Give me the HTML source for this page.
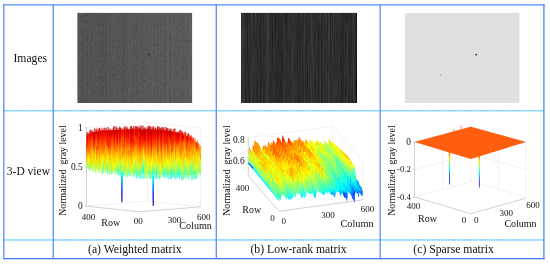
<!DOCTYPE html>
<html><head><meta charset="utf-8"><title>Figure</title>
<style>
html,body{margin:0;padding:0;background:#fff;}
body{width:550px;height:266px;overflow:hidden;}
svg{display:block;font-family:"Liberation Serif","Times New Roman",serif;fill:#111;}
</style></head><body>
<svg width="550" height="266" viewBox="0 0 550 266">
<defs>
<filter id="na" x="0" y="0" width="1" height="1" color-interpolation-filters="sRGB"><feTurbulence type="fractalNoise" baseFrequency="0.95 0.3" numOctaves="2" seed="4" result="n"/><feColorMatrix in="n" type="matrix" values="0.1 0 0 0 0  0.1 0 0 0 0  0.1 0 0 0 0  0 0 0 0 1" result="m"/><feComposite in="SourceGraphic" in2="m" operator="arithmetic" k1="0" k2="1" k3="1" k4="0"/></filter>
<filter id="nb" x="0" y="0" width="1" height="1" color-interpolation-filters="sRGB"><feTurbulence type="fractalNoise" baseFrequency="0.95 0.04" numOctaves="2" seed="9" result="n"/><feColorMatrix in="n" type="matrix" values="0.12 0 0 0 0  0.12 0 0 0 0  0.12 0 0 0 0  0 0 0 0 1" result="m"/><feComposite in="SourceGraphic" in2="m" operator="arithmetic" k1="0" k2="1" k3="1" k4="0"/></filter>
<linearGradient id="ga0" gradientUnits="userSpaceOnUse" x1="0" y1="112" x2="0" y2="178"><stop offset="0.0000" stop-color="#a80000"/><stop offset="0.0909" stop-color="#c20000"/><stop offset="0.1970" stop-color="#e50000"/><stop offset="0.2879" stop-color="#ff1400"/><stop offset="0.3788" stop-color="#ff5700"/><stop offset="0.4697" stop-color="#ff9900"/><stop offset="0.5606" stop-color="#ffd100"/><stop offset="0.6364" stop-color="#fffa00"/><stop offset="0.6970" stop-color="#dbff24"/><stop offset="0.7576" stop-color="#94ff6b"/><stop offset="0.8182" stop-color="#57ffa8"/><stop offset="0.8788" stop-color="#24ffdb"/><stop offset="0.9394" stop-color="#05fffa"/><stop offset="1.0000" stop-color="#00f0ff"/></linearGradient>
<linearGradient id="ga1" gradientUnits="userSpaceOnUse" x1="0" y1="114" x2="0" y2="180"><stop offset="0.0000" stop-color="#a80000"/><stop offset="0.0909" stop-color="#c20000"/><stop offset="0.1970" stop-color="#e50000"/><stop offset="0.2879" stop-color="#ff1400"/><stop offset="0.3788" stop-color="#ff5700"/><stop offset="0.4697" stop-color="#ff9900"/><stop offset="0.5606" stop-color="#ffd100"/><stop offset="0.6364" stop-color="#fffa00"/><stop offset="0.6970" stop-color="#dbff24"/><stop offset="0.7576" stop-color="#94ff6b"/><stop offset="0.8182" stop-color="#57ffa8"/><stop offset="0.8788" stop-color="#24ffdb"/><stop offset="0.9394" stop-color="#05fffa"/><stop offset="1.0000" stop-color="#00f0ff"/></linearGradient>
<linearGradient id="ga2" gradientUnits="userSpaceOnUse" x1="0" y1="116" x2="0" y2="182"><stop offset="0.0000" stop-color="#a80000"/><stop offset="0.0909" stop-color="#c20000"/><stop offset="0.1970" stop-color="#e50000"/><stop offset="0.2879" stop-color="#ff1400"/><stop offset="0.3788" stop-color="#ff5700"/><stop offset="0.4697" stop-color="#ff9900"/><stop offset="0.5606" stop-color="#ffd100"/><stop offset="0.6364" stop-color="#fffa00"/><stop offset="0.6970" stop-color="#dbff24"/><stop offset="0.7576" stop-color="#94ff6b"/><stop offset="0.8182" stop-color="#57ffa8"/><stop offset="0.8788" stop-color="#24ffdb"/><stop offset="0.9394" stop-color="#05fffa"/><stop offset="1.0000" stop-color="#00f0ff"/></linearGradient>
<linearGradient id="ga3" gradientUnits="userSpaceOnUse" x1="0" y1="118" x2="0" y2="184"><stop offset="0.0000" stop-color="#a80000"/><stop offset="0.0909" stop-color="#c20000"/><stop offset="0.1970" stop-color="#e50000"/><stop offset="0.2879" stop-color="#ff1400"/><stop offset="0.3788" stop-color="#ff5700"/><stop offset="0.4697" stop-color="#ff9900"/><stop offset="0.5606" stop-color="#ffd100"/><stop offset="0.6364" stop-color="#fffa00"/><stop offset="0.6970" stop-color="#dbff24"/><stop offset="0.7576" stop-color="#94ff6b"/><stop offset="0.8182" stop-color="#57ffa8"/><stop offset="0.8788" stop-color="#24ffdb"/><stop offset="0.9394" stop-color="#05fffa"/><stop offset="1.0000" stop-color="#00f0ff"/></linearGradient>
<linearGradient id="ga4" gradientUnits="userSpaceOnUse" x1="0" y1="120" x2="0" y2="186"><stop offset="0.0000" stop-color="#a80000"/><stop offset="0.0909" stop-color="#c20000"/><stop offset="0.1970" stop-color="#e50000"/><stop offset="0.2879" stop-color="#ff1400"/><stop offset="0.3788" stop-color="#ff5700"/><stop offset="0.4697" stop-color="#ff9900"/><stop offset="0.5606" stop-color="#ffd100"/><stop offset="0.6364" stop-color="#fffa00"/><stop offset="0.6970" stop-color="#dbff24"/><stop offset="0.7576" stop-color="#94ff6b"/><stop offset="0.8182" stop-color="#57ffa8"/><stop offset="0.8788" stop-color="#24ffdb"/><stop offset="0.9394" stop-color="#05fffa"/><stop offset="1.0000" stop-color="#00f0ff"/></linearGradient>
<linearGradient id="ga5" gradientUnits="userSpaceOnUse" x1="0" y1="122" x2="0" y2="188"><stop offset="0.0000" stop-color="#a80000"/><stop offset="0.0909" stop-color="#c20000"/><stop offset="0.1970" stop-color="#e50000"/><stop offset="0.2879" stop-color="#ff1400"/><stop offset="0.3788" stop-color="#ff5700"/><stop offset="0.4697" stop-color="#ff9900"/><stop offset="0.5606" stop-color="#ffd100"/><stop offset="0.6364" stop-color="#fffa00"/><stop offset="0.6970" stop-color="#dbff24"/><stop offset="0.7576" stop-color="#94ff6b"/><stop offset="0.8182" stop-color="#57ffa8"/><stop offset="0.8788" stop-color="#24ffdb"/><stop offset="0.9394" stop-color="#05fffa"/><stop offset="1.0000" stop-color="#00f0ff"/></linearGradient>
<linearGradient id="ga6" gradientUnits="userSpaceOnUse" x1="0" y1="124" x2="0" y2="190"><stop offset="0.0000" stop-color="#a80000"/><stop offset="0.0909" stop-color="#c20000"/><stop offset="0.1970" stop-color="#e50000"/><stop offset="0.2879" stop-color="#ff1400"/><stop offset="0.3788" stop-color="#ff5700"/><stop offset="0.4697" stop-color="#ff9900"/><stop offset="0.5606" stop-color="#ffd100"/><stop offset="0.6364" stop-color="#fffa00"/><stop offset="0.6970" stop-color="#dbff24"/><stop offset="0.7576" stop-color="#94ff6b"/><stop offset="0.8182" stop-color="#57ffa8"/><stop offset="0.8788" stop-color="#24ffdb"/><stop offset="0.9394" stop-color="#05fffa"/><stop offset="1.0000" stop-color="#00f0ff"/></linearGradient>
<linearGradient id="ga7" gradientUnits="userSpaceOnUse" x1="0" y1="126" x2="0" y2="192"><stop offset="0.0000" stop-color="#a80000"/><stop offset="0.0909" stop-color="#c20000"/><stop offset="0.1970" stop-color="#e50000"/><stop offset="0.2879" stop-color="#ff1400"/><stop offset="0.3788" stop-color="#ff5700"/><stop offset="0.4697" stop-color="#ff9900"/><stop offset="0.5606" stop-color="#ffd100"/><stop offset="0.6364" stop-color="#fffa00"/><stop offset="0.6970" stop-color="#dbff24"/><stop offset="0.7576" stop-color="#94ff6b"/><stop offset="0.8182" stop-color="#57ffa8"/><stop offset="0.8788" stop-color="#24ffdb"/><stop offset="0.9394" stop-color="#05fffa"/><stop offset="1.0000" stop-color="#00f0ff"/></linearGradient>
<linearGradient id="ga8" gradientUnits="userSpaceOnUse" x1="0" y1="128" x2="0" y2="194"><stop offset="0.0000" stop-color="#a80000"/><stop offset="0.0909" stop-color="#c20000"/><stop offset="0.1970" stop-color="#e50000"/><stop offset="0.2879" stop-color="#ff1400"/><stop offset="0.3788" stop-color="#ff5700"/><stop offset="0.4697" stop-color="#ff9900"/><stop offset="0.5606" stop-color="#ffd100"/><stop offset="0.6364" stop-color="#fffa00"/><stop offset="0.6970" stop-color="#dbff24"/><stop offset="0.7576" stop-color="#94ff6b"/><stop offset="0.8182" stop-color="#57ffa8"/><stop offset="0.8788" stop-color="#24ffdb"/><stop offset="0.9394" stop-color="#05fffa"/><stop offset="1.0000" stop-color="#00f0ff"/></linearGradient>
<linearGradient id="gs121" gradientUnits="userSpaceOnUse" x1="0" y1="172" x2="0" y2="202.2"><stop offset="0.000" stop-color="#2effd1"/><stop offset="0.125" stop-color="#00f7ff"/><stop offset="0.250" stop-color="#00c2ff"/><stop offset="0.375" stop-color="#008cff"/><stop offset="0.500" stop-color="#0057ff"/><stop offset="0.625" stop-color="#0021ff"/><stop offset="0.750" stop-color="#0000eb"/><stop offset="0.875" stop-color="#0000b5"/><stop offset="1.000" stop-color="#000080"/></linearGradient>
<linearGradient id="gs153" gradientUnits="userSpaceOnUse" x1="0" y1="176" x2="0" y2="206.0"><stop offset="0.000" stop-color="#2effd1"/><stop offset="0.125" stop-color="#00f7ff"/><stop offset="0.250" stop-color="#00c2ff"/><stop offset="0.375" stop-color="#008cff"/><stop offset="0.500" stop-color="#0057ff"/><stop offset="0.625" stop-color="#0021ff"/><stop offset="0.750" stop-color="#0000eb"/><stop offset="0.875" stop-color="#0000b5"/><stop offset="1.000" stop-color="#000080"/></linearGradient>
<linearGradient id="gc449" gradientUnits="userSpaceOnUse" x1="0" y1="151.5" x2="0" y2="184.4"><stop offset="0.000" stop-color="#ff4c00"/><stop offset="0.100" stop-color="#ff9e00"/><stop offset="0.200" stop-color="#fff000"/><stop offset="0.300" stop-color="#bdff42"/><stop offset="0.400" stop-color="#6bff94"/><stop offset="0.500" stop-color="#1affe5"/><stop offset="0.600" stop-color="#00c7ff"/><stop offset="0.700" stop-color="#0075ff"/><stop offset="0.800" stop-color="#0024ff"/><stop offset="0.900" stop-color="#0000d1"/><stop offset="1.000" stop-color="#000080"/></linearGradient>
<linearGradient id="gc479" gradientUnits="userSpaceOnUse" x1="0" y1="154.5" x2="0" y2="187.4"><stop offset="0.000" stop-color="#ff4c00"/><stop offset="0.100" stop-color="#ff9e00"/><stop offset="0.200" stop-color="#fff000"/><stop offset="0.300" stop-color="#bdff42"/><stop offset="0.400" stop-color="#6bff94"/><stop offset="0.500" stop-color="#1affe5"/><stop offset="0.600" stop-color="#00c7ff"/><stop offset="0.700" stop-color="#0075ff"/><stop offset="0.800" stop-color="#0024ff"/><stop offset="0.900" stop-color="#0000d1"/><stop offset="1.000" stop-color="#000080"/></linearGradient>
</defs>
<rect x="0" y="0" width="550" height="266" fill="#fff"/>
<g fill="none">
<line x1="4" y1="110.7" x2="544" y2="110.7" stroke="#a6e2ff" stroke-width="1.5"/>
<line x1="4" y1="110.7" x2="544" y2="110.7" stroke="#74c8f6" stroke-width="1.3" stroke-dasharray="1.1 1.2"/>
<line x1="4" y1="239.9" x2="544" y2="239.9" stroke="#a6e2ff" stroke-width="1.5"/>
<line x1="4" y1="239.9" x2="544" y2="239.9" stroke="#74c8f6" stroke-width="1.3" stroke-dasharray="1.1 1.2"/>
<line x1="3" y1="4.8" x2="544.6" y2="4.8" stroke="#5590fb" stroke-width="1.2"/>
<line x1="3" y1="258.6" x2="544.6" y2="258.6" stroke="#3b78f5" stroke-width="1.3"/>
<line x1="3.8" y1="4" x2="3.8" y2="259.2" stroke="#5590fb" stroke-width="1.3"/>
<line x1="53.2" y1="4" x2="53.2" y2="259.2" stroke="#5590fb" stroke-width="1.3"/>
<line x1="216.3" y1="4" x2="216.3" y2="259.2" stroke="#5590fb" stroke-width="1.3"/>
<line x1="380.2" y1="4" x2="380.2" y2="259.2" stroke="#5590fb" stroke-width="1.3"/>
<line x1="543.9" y1="4" x2="543.9" y2="259.2" stroke="#478afc" stroke-width="1.3"/>
</g>
<rect x="77.4" y="12.9" width="114.7" height="90" fill="#525252"/>
<g filter="url(#na)" shape-rendering="crispEdges">
<rect x="78" y="13" width="114" height="90" fill="#494949"/>
<g shape-rendering="crispEdges">
<rect x="78" y="13" width="1" height="90" fill="#454545"/>
<rect x="79" y="13" width="1" height="90" fill="#484848"/>
<rect x="80" y="13" width="1" height="90" fill="#474747"/>
<rect x="81" y="13" width="1" height="90" fill="#444444"/>
<rect x="82" y="13" width="1" height="90" fill="#444444"/>
<rect x="83" y="13" width="1" height="90" fill="#444444"/>
<rect x="84" y="13" width="1" height="90" fill="#464646"/>
<rect x="85" y="13" width="1" height="90" fill="#454545"/>
<rect x="86" y="13" width="1" height="90" fill="#474747"/>
<rect x="87" y="13" width="1" height="90" fill="#414141"/>
<rect x="88" y="13" width="1" height="90" fill="#494949"/>
<rect x="89" y="13" width="1" height="90" fill="#454545"/>
<rect x="90" y="13" width="1" height="90" fill="#474747"/>
<rect x="91" y="13" width="1" height="90" fill="#454545"/>
<rect x="92" y="13" width="1" height="90" fill="#454545"/>
<rect x="93" y="13" width="1" height="90" fill="#474747"/>
<rect x="94" y="13" width="1" height="90" fill="#484848"/>
<rect x="95" y="13" width="1" height="90" fill="#454545"/>
<rect x="96" y="13" width="1" height="90" fill="#464646"/>
<rect x="97" y="13" width="1" height="90" fill="#484848"/>
<rect x="98" y="13" width="1" height="90" fill="#444444"/>
<rect x="99" y="13" width="1" height="90" fill="#434343"/>
<rect x="100" y="13" width="1" height="90" fill="#474747"/>
<rect x="101" y="13" width="1" height="90" fill="#454545"/>
<rect x="102" y="13" width="1" height="90" fill="#424242"/>
<rect x="103" y="13" width="1" height="90" fill="#454545"/>
<rect x="104" y="13" width="1" height="90" fill="#464646"/>
<rect x="105" y="13" width="1" height="90" fill="#444444"/>
<rect x="106" y="13" width="1" height="90" fill="#434343"/>
<rect x="107" y="13" width="1" height="90" fill="#474747"/>
<rect x="108" y="13" width="1" height="90" fill="#494949"/>
<rect x="109" y="13" width="1" height="90" fill="#464646"/>
<rect x="110" y="13" width="1" height="90" fill="#454545"/>
<rect x="111" y="13" width="1" height="90" fill="#484848"/>
<rect x="112" y="13" width="1" height="90" fill="#494949"/>
<rect x="113" y="13" width="1" height="90" fill="#474747"/>
<rect x="114" y="13" width="1" height="90" fill="#494949"/>
<rect x="115" y="13" width="1" height="90" fill="#4a4a4a"/>
<rect x="116" y="13" width="1" height="90" fill="#474747"/>
<rect x="117" y="13" width="1" height="90" fill="#464646"/>
<rect x="118" y="13" width="1" height="90" fill="#484848"/>
<rect x="119" y="13" width="1" height="90" fill="#484848"/>
<rect x="120" y="13" width="1" height="90" fill="#4a4a4a"/>
<rect x="121" y="13" width="1" height="90" fill="#454545"/>
<rect x="122" y="13" width="1" height="90" fill="#474747"/>
<rect x="123" y="13" width="1" height="90" fill="#464646"/>
<rect x="124" y="13" width="1" height="90" fill="#444444"/>
<rect x="125" y="13" width="1" height="90" fill="#484848"/>
<rect x="126" y="13" width="1" height="90" fill="#494949"/>
<rect x="127" y="13" width="1" height="90" fill="#474747"/>
<rect x="128" y="13" width="1" height="90" fill="#4b4b4b"/>
<rect x="129" y="13" width="1" height="90" fill="#4a4a4a"/>
<rect x="130" y="13" width="1" height="90" fill="#4a4a4a"/>
<rect x="131" y="13" width="1" height="90" fill="#4a4a4a"/>
<rect x="132" y="13" width="1" height="90" fill="#4b4b4b"/>
<rect x="133" y="13" width="1" height="90" fill="#464646"/>
<rect x="134" y="13" width="1" height="90" fill="#4a4a4a"/>
<rect x="135" y="13" width="1" height="90" fill="#4a4a4a"/>
<rect x="136" y="13" width="1" height="90" fill="#454545"/>
<rect x="137" y="13" width="1" height="90" fill="#4a4a4a"/>
<rect x="138" y="13" width="1" height="90" fill="#494949"/>
<rect x="139" y="13" width="1" height="90" fill="#4b4b4b"/>
<rect x="140" y="13" width="1" height="90" fill="#484848"/>
<rect x="141" y="13" width="1" height="90" fill="#494949"/>
<rect x="142" y="13" width="1" height="90" fill="#4a4a4a"/>
<rect x="143" y="13" width="1" height="90" fill="#484848"/>
<rect x="144" y="13" width="1" height="90" fill="#4b4b4b"/>
<rect x="145" y="13" width="1" height="90" fill="#4a4a4a"/>
<rect x="146" y="13" width="1" height="90" fill="#4b4b4b"/>
<rect x="147" y="13" width="1" height="90" fill="#494949"/>
<rect x="148" y="13" width="1" height="90" fill="#4c4c4c"/>
<rect x="149" y="13" width="1" height="90" fill="#4b4b4b"/>
<rect x="150" y="13" width="1" height="90" fill="#4a4a4a"/>
<rect x="151" y="13" width="1" height="90" fill="#4c4c4c"/>
<rect x="152" y="13" width="1" height="90" fill="#4d4d4d"/>
<rect x="153" y="13" width="1" height="90" fill="#4e4e4e"/>
<rect x="154" y="13" width="1" height="90" fill="#474747"/>
<rect x="155" y="13" width="1" height="90" fill="#4d4d4d"/>
<rect x="156" y="13" width="1" height="90" fill="#4c4c4c"/>
<rect x="157" y="13" width="1" height="90" fill="#4b4b4b"/>
<rect x="158" y="13" width="1" height="90" fill="#494949"/>
<rect x="159" y="13" width="1" height="90" fill="#4e4e4e"/>
<rect x="160" y="13" width="1" height="90" fill="#484848"/>
<rect x="161" y="13" width="1" height="90" fill="#4c4c4c"/>
<rect x="162" y="13" width="1" height="90" fill="#4e4e4e"/>
<rect x="163" y="13" width="1" height="90" fill="#484848"/>
<rect x="164" y="13" width="1" height="90" fill="#4b4b4b"/>
<rect x="165" y="13" width="1" height="90" fill="#484848"/>
<rect x="166" y="13" width="1" height="90" fill="#4c4c4c"/>
<rect x="167" y="13" width="1" height="90" fill="#4f4f4f"/>
<rect x="168" y="13" width="1" height="90" fill="#505050"/>
<rect x="169" y="13" width="1" height="90" fill="#484848"/>
<rect x="170" y="13" width="1" height="90" fill="#4a4a4a"/>
<rect x="171" y="13" width="1" height="90" fill="#4d4d4d"/>
<rect x="172" y="13" width="1" height="90" fill="#4f4f4f"/>
<rect x="173" y="13" width="1" height="90" fill="#4d4d4d"/>
<rect x="174" y="13" width="1" height="90" fill="#4a4a4a"/>
<rect x="175" y="13" width="1" height="90" fill="#4d4d4d"/>
<rect x="176" y="13" width="1" height="90" fill="#4c4c4c"/>
<rect x="177" y="13" width="1" height="90" fill="#4c4c4c"/>
<rect x="178" y="13" width="1" height="90" fill="#4b4b4b"/>
<rect x="179" y="13" width="1" height="90" fill="#4d4d4d"/>
<rect x="180" y="13" width="1" height="90" fill="#4d4d4d"/>
<rect x="181" y="13" width="1" height="90" fill="#4c4c4c"/>
<rect x="182" y="13" width="1" height="90" fill="#4c4c4c"/>
<rect x="183" y="13" width="1" height="90" fill="#4a4a4a"/>
<rect x="184" y="13" width="1" height="90" fill="#4c4c4c"/>
<rect x="185" y="13" width="1" height="90" fill="#505050"/>
<rect x="186" y="13" width="1" height="90" fill="#4d4d4d"/>
<rect x="187" y="13" width="1" height="90" fill="#4a4a4a"/>
<rect x="188" y="13" width="1" height="90" fill="#505050"/>
<rect x="189" y="13" width="1" height="90" fill="#4e4e4e"/>
<rect x="190" y="13" width="1" height="90" fill="#525252"/>
<rect x="191" y="13" width="1" height="90" fill="#4e4e4e"/>
</g></g>
<circle cx="148.9" cy="54.6" r="1" fill="#2a2a2a"/><circle cx="113.2" cy="74.8" r="0.8" fill="#3a3a3a"/>
<rect x="241.0" y="12.9" width="115" height="90" fill="#2c2c2c"/>
<g filter="url(#nb)">
<rect x="241" y="13" width="115" height="90" fill="#1e1e1e" shape-rendering="crispEdges"/>
<rect x="241" y="13" width="0.67" height="90" fill="#1b1b1b"/>
<rect x="241.62" y="13" width="0.67" height="90" fill="#2a2a2a"/>
<rect x="242.24" y="13" width="0.67" height="90" fill="#282828"/>
<rect x="242.86" y="13" width="0.67" height="90" fill="#3b3b3b"/>
<rect x="243.48" y="13" width="0.67" height="90" fill="#212121"/>
<rect x="244.1" y="13" width="0.67" height="90" fill="#1e1e1e"/>
<rect x="244.72" y="13" width="0.67" height="90" fill="#1d1d1d"/>
<rect x="245.34" y="13" width="0.67" height="90" fill="#212121"/>
<rect x="245.96" y="13" width="0.67" height="90" fill="#191919"/>
<rect x="246.58" y="13" width="0.67" height="90" fill="#1a1a1a"/>
<rect x="247.2" y="13" width="0.67" height="90" fill="#171717"/>
<rect x="247.82" y="13" width="0.67" height="90" fill="#252525"/>
<rect x="248.44" y="13" width="0.67" height="90" fill="#151515"/>
<rect x="249.06" y="13" width="0.67" height="90" fill="#222222"/>
<rect x="249.68" y="13" width="0.67" height="90" fill="#1b1b1b"/>
<rect x="250.3" y="13" width="0.67" height="90" fill="#191919"/>
<rect x="250.92" y="13" width="0.67" height="90" fill="#353535"/>
<rect x="251.54" y="13" width="0.67" height="90" fill="#2a2a2a"/>
<rect x="252.16" y="13" width="0.67" height="90" fill="#202020"/>
<rect x="252.78" y="13" width="0.67" height="90" fill="#1d1d1d"/>
<rect x="253.4" y="13" width="0.67" height="90" fill="#1d1d1d"/>
<rect x="254.02" y="13" width="0.67" height="90" fill="#1d1d1d"/>
<rect x="254.64" y="13" width="0.67" height="90" fill="#282828"/>
<rect x="255.26" y="13" width="0.67" height="90" fill="#212121"/>
<rect x="255.88" y="13" width="0.67" height="90" fill="#242424"/>
<rect x="256.5" y="13" width="0.67" height="90" fill="#161616"/>
<rect x="257.12" y="13" width="0.67" height="90" fill="#1f1f1f"/>
<rect x="257.74" y="13" width="0.67" height="90" fill="#1f1f1f"/>
<rect x="258.36" y="13" width="0.67" height="90" fill="#1c1c1c"/>
<rect x="258.98" y="13" width="0.67" height="90" fill="#252525"/>
<rect x="259.6" y="13" width="0.67" height="90" fill="#1d1d1d"/>
<rect x="260.22" y="13" width="0.67" height="90" fill="#161616"/>
<rect x="260.84" y="13" width="0.67" height="90" fill="#181818"/>
<rect x="261.46" y="13" width="0.67" height="90" fill="#1a1a1a"/>
<rect x="262.08" y="13" width="0.67" height="90" fill="#313131"/>
<rect x="262.7" y="13" width="0.67" height="90" fill="#161616"/>
<rect x="263.32" y="13" width="0.67" height="90" fill="#181818"/>
<rect x="263.94" y="13" width="0.67" height="90" fill="#252525"/>
<rect x="264.56" y="13" width="0.67" height="90" fill="#1d1d1d"/>
<rect x="265.18" y="13" width="0.67" height="90" fill="#1e1e1e"/>
<rect x="265.8" y="13" width="0.67" height="90" fill="#1f1f1f"/>
<rect x="266.42" y="13" width="0.67" height="90" fill="#333333"/>
<rect x="267.04" y="13" width="0.67" height="90" fill="#202020"/>
<rect x="267.66" y="13" width="0.67" height="90" fill="#303030"/>
<rect x="268.28" y="13" width="0.67" height="90" fill="#343434"/>
<rect x="268.9" y="13" width="0.67" height="90" fill="#212121"/>
<rect x="269.52" y="13" width="0.67" height="90" fill="#1a1a1a"/>
<rect x="270.14" y="13" width="0.67" height="90" fill="#1b1b1b"/>
<rect x="270.76" y="13" width="0.67" height="90" fill="#1d1d1d"/>
<rect x="271.38" y="13" width="0.67" height="90" fill="#1d1d1d"/>
<rect x="272" y="13" width="0.67" height="90" fill="#181818"/>
<rect x="272.62" y="13" width="0.67" height="90" fill="#171717"/>
<rect x="273.24" y="13" width="0.67" height="90" fill="#2b2b2b"/>
<rect x="273.86" y="13" width="0.67" height="90" fill="#171717"/>
<rect x="274.48" y="13" width="0.67" height="90" fill="#202020"/>
<rect x="275.1" y="13" width="0.67" height="90" fill="#161616"/>
<rect x="275.72" y="13" width="0.67" height="90" fill="#1c1c1c"/>
<rect x="276.34" y="13" width="0.67" height="90" fill="#1e1e1e"/>
<rect x="276.96" y="13" width="0.67" height="90" fill="#212121"/>
<rect x="277.58" y="13" width="0.67" height="90" fill="#191919"/>
<rect x="278.2" y="13" width="0.67" height="90" fill="#191919"/>
<rect x="278.82" y="13" width="0.67" height="90" fill="#161616"/>
<rect x="279.44" y="13" width="0.67" height="90" fill="#1b1b1b"/>
<rect x="280.06" y="13" width="0.67" height="90" fill="#171717"/>
<rect x="280.68" y="13" width="0.67" height="90" fill="#1c1c1c"/>
<rect x="281.3" y="13" width="0.67" height="90" fill="#1a1a1a"/>
<rect x="281.92" y="13" width="0.67" height="90" fill="#151515"/>
<rect x="282.54" y="13" width="0.67" height="90" fill="#1d1d1d"/>
<rect x="283.16" y="13" width="0.67" height="90" fill="#282828"/>
<rect x="283.78" y="13" width="0.67" height="90" fill="#222222"/>
<rect x="284.4" y="13" width="0.67" height="90" fill="#202020"/>
<rect x="285.02" y="13" width="0.67" height="90" fill="#202020"/>
<rect x="285.64" y="13" width="0.67" height="90" fill="#171717"/>
<rect x="286.26" y="13" width="0.67" height="90" fill="#1d1d1d"/>
<rect x="286.88" y="13" width="0.67" height="90" fill="#191919"/>
<rect x="287.5" y="13" width="0.67" height="90" fill="#1d1d1d"/>
<rect x="288.12" y="13" width="0.67" height="90" fill="#252525"/>
<rect x="288.74" y="13" width="0.67" height="90" fill="#212121"/>
<rect x="289.36" y="13" width="0.67" height="90" fill="#282828"/>
<rect x="289.98" y="13" width="0.67" height="90" fill="#151515"/>
<rect x="290.6" y="13" width="0.67" height="90" fill="#262626"/>
<rect x="291.22" y="13" width="0.67" height="90" fill="#151515"/>
<rect x="291.84" y="13" width="0.67" height="90" fill="#2c2c2c"/>
<rect x="292.46" y="13" width="0.67" height="90" fill="#2f2f2f"/>
<rect x="293.08" y="13" width="0.67" height="90" fill="#2b2b2b"/>
<rect x="293.7" y="13" width="0.67" height="90" fill="#1c1c1c"/>
<rect x="294.32" y="13" width="0.67" height="90" fill="#1d1d1d"/>
<rect x="294.94" y="13" width="0.67" height="90" fill="#2a2a2a"/>
<rect x="295.56" y="13" width="0.67" height="90" fill="#191919"/>
<rect x="296.18" y="13" width="0.67" height="90" fill="#232323"/>
<rect x="296.8" y="13" width="0.67" height="90" fill="#1c1c1c"/>
<rect x="297.42" y="13" width="0.67" height="90" fill="#181818"/>
<rect x="298.04" y="13" width="0.67" height="90" fill="#232323"/>
<rect x="298.66" y="13" width="0.67" height="90" fill="#171717"/>
<rect x="299.28" y="13" width="0.67" height="90" fill="#1a1a1a"/>
<rect x="299.9" y="13" width="0.67" height="90" fill="#161616"/>
<rect x="300.52" y="13" width="0.67" height="90" fill="#1e1e1e"/>
<rect x="301.14" y="13" width="0.67" height="90" fill="#232323"/>
<rect x="301.76" y="13" width="0.67" height="90" fill="#202020"/>
<rect x="302.38" y="13" width="0.67" height="90" fill="#1c1c1c"/>
<rect x="303" y="13" width="0.67" height="90" fill="#252525"/>
<rect x="303.62" y="13" width="0.67" height="90" fill="#1a1a1a"/>
<rect x="304.24" y="13" width="0.67" height="90" fill="#2e2e2e"/>
<rect x="304.86" y="13" width="0.67" height="90" fill="#232323"/>
<rect x="305.48" y="13" width="0.67" height="90" fill="#1c1c1c"/>
<rect x="306.1" y="13" width="0.67" height="90" fill="#1f1f1f"/>
<rect x="306.72" y="13" width="0.67" height="90" fill="#1b1b1b"/>
<rect x="307.34" y="13" width="0.67" height="90" fill="#161616"/>
<rect x="307.96" y="13" width="0.67" height="90" fill="#161616"/>
<rect x="308.58" y="13" width="0.67" height="90" fill="#373737"/>
<rect x="309.2" y="13" width="0.67" height="90" fill="#171717"/>
<rect x="309.82" y="13" width="0.67" height="90" fill="#242424"/>
<rect x="310.44" y="13" width="0.67" height="90" fill="#1f1f1f"/>
<rect x="311.06" y="13" width="0.67" height="90" fill="#2b2b2b"/>
<rect x="311.68" y="13" width="0.67" height="90" fill="#2b2b2b"/>
<rect x="312.3" y="13" width="0.67" height="90" fill="#232323"/>
<rect x="312.92" y="13" width="0.67" height="90" fill="#212121"/>
<rect x="313.54" y="13" width="0.67" height="90" fill="#2d2d2d"/>
<rect x="314.16" y="13" width="0.67" height="90" fill="#151515"/>
<rect x="314.78" y="13" width="0.67" height="90" fill="#252525"/>
<rect x="315.4" y="13" width="0.67" height="90" fill="#181818"/>
<rect x="316.02" y="13" width="0.67" height="90" fill="#313131"/>
<rect x="316.64" y="13" width="0.67" height="90" fill="#171717"/>
<rect x="317.26" y="13" width="0.67" height="90" fill="#1b1b1b"/>
<rect x="317.88" y="13" width="0.67" height="90" fill="#1b1b1b"/>
<rect x="318.5" y="13" width="0.67" height="90" fill="#191919"/>
<rect x="319.12" y="13" width="0.67" height="90" fill="#1d1d1d"/>
<rect x="319.74" y="13" width="0.67" height="90" fill="#212121"/>
<rect x="320.36" y="13" width="0.67" height="90" fill="#2b2b2b"/>
<rect x="320.98" y="13" width="0.67" height="90" fill="#181818"/>
<rect x="321.6" y="13" width="0.67" height="90" fill="#181818"/>
<rect x="322.22" y="13" width="0.67" height="90" fill="#1a1a1a"/>
<rect x="322.84" y="13" width="0.67" height="90" fill="#232323"/>
<rect x="323.46" y="13" width="0.67" height="90" fill="#2e2e2e"/>
<rect x="324.08" y="13" width="0.67" height="90" fill="#1b1b1b"/>
<rect x="324.7" y="13" width="0.67" height="90" fill="#1f1f1f"/>
<rect x="325.32" y="13" width="0.67" height="90" fill="#232323"/>
<rect x="325.94" y="13" width="0.67" height="90" fill="#1f1f1f"/>
<rect x="326.56" y="13" width="0.67" height="90" fill="#242424"/>
<rect x="327.18" y="13" width="0.67" height="90" fill="#1a1a1a"/>
<rect x="327.8" y="13" width="0.67" height="90" fill="#202020"/>
<rect x="328.42" y="13" width="0.67" height="90" fill="#333333"/>
<rect x="329.04" y="13" width="0.67" height="90" fill="#212121"/>
<rect x="329.66" y="13" width="0.67" height="90" fill="#1e1e1e"/>
<rect x="330.28" y="13" width="0.67" height="90" fill="#1e1e1e"/>
<rect x="330.9" y="13" width="0.67" height="90" fill="#272727"/>
<rect x="331.52" y="13" width="0.67" height="90" fill="#1a1a1a"/>
<rect x="332.14" y="13" width="0.67" height="90" fill="#1d1d1d"/>
<rect x="332.76" y="13" width="0.67" height="90" fill="#2c2c2c"/>
<rect x="333.38" y="13" width="0.67" height="90" fill="#272727"/>
<rect x="334" y="13" width="0.67" height="90" fill="#1c1c1c"/>
<rect x="334.62" y="13" width="0.67" height="90" fill="#151515"/>
<rect x="335.24" y="13" width="0.67" height="90" fill="#262626"/>
<rect x="335.86" y="13" width="0.67" height="90" fill="#272727"/>
<rect x="336.48" y="13" width="0.67" height="90" fill="#1a1a1a"/>
<rect x="337.1" y="13" width="0.67" height="90" fill="#262626"/>
<rect x="337.72" y="13" width="0.67" height="90" fill="#1e1e1e"/>
<rect x="338.34" y="13" width="0.67" height="90" fill="#1b1b1b"/>
<rect x="338.96" y="13" width="0.67" height="90" fill="#313131"/>
<rect x="339.58" y="13" width="0.67" height="90" fill="#1f1f1f"/>
<rect x="340.2" y="13" width="0.67" height="90" fill="#181818"/>
<rect x="340.82" y="13" width="0.67" height="90" fill="#1e1e1e"/>
<rect x="341.44" y="13" width="0.67" height="90" fill="#171717"/>
<rect x="342.06" y="13" width="0.67" height="90" fill="#151515"/>
<rect x="342.68" y="13" width="0.67" height="90" fill="#1c1c1c"/>
<rect x="343.3" y="13" width="0.67" height="90" fill="#181818"/>
<rect x="343.92" y="13" width="0.67" height="90" fill="#262626"/>
<rect x="344.54" y="13" width="0.67" height="90" fill="#171717"/>
<rect x="345.16" y="13" width="0.67" height="90" fill="#191919"/>
<rect x="345.78" y="13" width="0.67" height="90" fill="#1d1d1d"/>
<rect x="346.4" y="13" width="0.67" height="90" fill="#242424"/>
<rect x="347.02" y="13" width="0.67" height="90" fill="#1f1f1f"/>
<rect x="347.64" y="13" width="0.67" height="90" fill="#2b2b2b"/>
<rect x="348.26" y="13" width="0.67" height="90" fill="#1a1a1a"/>
<rect x="348.88" y="13" width="0.67" height="90" fill="#191919"/>
<rect x="349.5" y="13" width="0.67" height="90" fill="#1a1a1a"/>
<rect x="350.12" y="13" width="0.67" height="90" fill="#1c1c1c"/>
<rect x="350.74" y="13" width="0.67" height="90" fill="#191919"/>
<rect x="351.36" y="13" width="0.67" height="90" fill="#1e1e1e"/>
<rect x="351.98" y="13" width="0.67" height="90" fill="#191919"/>
<rect x="352.6" y="13" width="0.67" height="90" fill="#2c2c2c"/>
<rect x="353.22" y="13" width="0.67" height="90" fill="#282828"/>
<rect x="353.84" y="13" width="0.67" height="90" fill="#1c1c1c"/>
<rect x="354.46" y="13" width="0.67" height="90" fill="#2c2c2c"/>
<rect x="355.08" y="13" width="0.67" height="90" fill="#181818"/>
<rect x="355.7" y="13" width="0.35" height="90" fill="#1a1a1a"/>
</g>
<rect x="405.0" y="12.9" width="114.4" height="90" fill="#dfdfdf"/>
<circle cx="476.2" cy="54.7" r="0.9" fill="#333"/><circle cx="440.5" cy="75" r="0.6" fill="#777"/>
<g stroke="#eaeaea" stroke-width="0.6" fill="none">
<path d="M86.5 206.2 L147.5 201 L200.6 206.8 M147.5 201 V122.5 M86.5 127.69999999999999 L147.5 122.5 L200.6 128.3 V206.8"/>
<path d="M86.5 206.2 L139.5 211.8 L200.6 206.8" stroke="#b4b4b4"/>
</g>
<path d="M86.5 206.5 V127.69999999999999" stroke="#b4b4b4" stroke-width="0.6" fill="none"/>
<line x1="85.0" y1="206.2" x2="86.5" y2="206.2" stroke="#b4b4b4" stroke-width="0.6"/>
<line x1="85.0" y1="166.95" x2="86.5" y2="166.95" stroke="#b4b4b4" stroke-width="0.6"/>
<line x1="85.0" y1="127.7" x2="86.5" y2="127.7" stroke="#b4b4b4" stroke-width="0.6"/>
<polygon points="86.6,136.4 88.6,134.2 90.6,133.2 92.6,132.4 94.6,132.1 96.6,131.8 98.6,131.4 100.6,131.2 102.6,131 104.6,130.8 106.6,130.7 108.6,130.5 110.6,130.3 112.6,130.2 114.6,130.1 116.6,130 118.6,129.9 120.6,129.9 122.6,129.8 124.6,129.7 126.6,129.6 128.6,129.6 130.6,129.5 132.6,129.5 134.6,129.5 136.6,129.5 138.6,129.5 140.6,129.5 142.6,129.5 144.6,129.5 146.6,129.5 148.6,129.5 150.6,129.5 152.6,129.7 154.6,129.8 156.6,129.9 158.6,130.1 160.6,130.2 162.6,130.3 164.6,130.5 166.6,130.8 168.6,131.1 170.6,131.4 172.6,131.8 174.6,132.1 176.6,132.4 178.6,132.8 180.6,133.3 182.6,134.2 184.6,135.1 186.6,136 188.6,136.9 190.6,137.9 192.6,139.4 194.6,140.9 196.6,142.7 198.6,145.2 200.6,147.5 200.6,170 198.6,171.7 196.6,173.5 194.6,175 192.6,175 190.6,175 188.6,175 186.6,175 184.6,175 182.6,175 180.6,175 178.6,175 176.6,174.9 174.6,174.8 172.6,174.7 170.6,174.7 168.6,174.6 166.6,174.5 164.6,174.5 162.6,174.4 160.6,174.3 158.6,174.2 156.6,174.2 154.6,174.1 152.6,174 150.6,173.9 148.6,173.8 146.6,173.8 144.6,173.7 142.6,173.6 140.6,173.5 138.6,173.4 136.6,173.2 134.6,173 132.6,172.8 130.6,172.6 128.6,172.4 126.6,172.2 124.6,171.9 122.6,171.7 120.6,171.4 118.6,171.1 116.6,170.9 114.6,170.6 112.6,170.3 110.6,170.1 108.6,169.8 106.6,169.5 104.6,169.3 102.6,169 100.6,168.7 98.6,168.5 96.6,168.2 94.6,167.9 92.6,167.6 90.6,167.2 88.6,166.9 86.6,166.5" fill="url(#ga4)"/>
<g stroke-width="0.7" fill="none">
<path d="M86.6 134.2V140.8" stroke="url(#ga3)"/>
<path d="M86.6 140.3V140.9" stroke="url(#ga1)"/>
<path d="M86.6 140.4V168.4" stroke="url(#ga8)"/>
<path d="M87.1 132.3V149.7" stroke="url(#ga3)"/>
<path d="M87.1 149.2V167" stroke="url(#ga5)"/>
<path d="M87.6 132.2V143.4" stroke="url(#ga7)"/>
<path d="M87.6 142.9V159.6" stroke="url(#ga7)"/>
<path d="M87.6 159.1V160.3" stroke="url(#ga2)"/>
<path d="M87.6 159.8V167.9" stroke="url(#ga0)"/>
<path d="M88.1 136.4V149" stroke="url(#ga7)"/>
<path d="M88.1 148.5V169.4" stroke="url(#ga1)"/>
<path d="M88.6 132.8V149.8" stroke="url(#ga2)"/>
<path d="M88.6 149.3V166" stroke="url(#ga4)"/>
<path d="M89.1 140.1V153.1" stroke="url(#ga8)"/>
<path d="M89.1 152.6V156.1" stroke="url(#ga6)"/>
<path d="M89.1 155.6V163.2" stroke="url(#ga2)"/>
<path d="M89.1 162.7V169.4" stroke="url(#ga2)"/>
<path d="M89.6 131.2V147.6" stroke="url(#ga2)"/>
<path d="M89.6 147.1V155.1" stroke="url(#ga7)"/>
<path d="M89.6 154.6V156.7" stroke="url(#ga0)"/>
<path d="M89.6 156.2V170.6" stroke="url(#ga1)"/>
<path d="M90.1 129.8V139.8" stroke="url(#ga8)"/>
<path d="M90.1 139.3V156.7" stroke="url(#ga3)"/>
<path d="M90.1 156.2V159.2" stroke="url(#ga6)"/>
<path d="M90.1 158.7V169.9" stroke="url(#ga4)"/>
<path d="M90.6 130.2V135.7" stroke="url(#ga5)"/>
<path d="M90.6 135.2V148.3" stroke="url(#ga8)"/>
<path d="M90.6 147.8V154.7" stroke="url(#ga5)"/>
<path d="M90.6 154.2V170.8" stroke="url(#ga8)"/>
<path d="M91.1 131.8V159.6" stroke="url(#ga0)"/>
<path d="M91.1 159.1V160.4" stroke="url(#ga5)"/>
<path d="M91.1 159.9V169.3" stroke="url(#ga1)"/>
<path d="M91.6 129.6V135.1" stroke="url(#ga2)"/>
<path d="M91.6 134.6V136.6" stroke="url(#ga6)"/>
<path d="M91.6 136.1V146.7" stroke="url(#ga1)"/>
<path d="M91.6 146.2V166.2" stroke="url(#ga5)"/>
<path d="M92.1 130.8V146.6" stroke="url(#ga4)"/>
<path d="M92.1 146.1V160.6" stroke="url(#ga3)"/>
<path d="M92.1 160.1V171.9" stroke="url(#ga8)"/>
<path d="M92.6 130.8V140.7" stroke="url(#ga4)"/>
<path d="M92.6 140.2V142.6" stroke="url(#ga1)"/>
<path d="M92.6 142.1V171.1" stroke="url(#ga2)"/>
<path d="M93.1 132.5V157" stroke="url(#ga1)"/>
<path d="M93.1 156.5V170.9" stroke="url(#ga7)"/>
<path d="M93.6 131.8V149.8" stroke="url(#ga7)"/>
<path d="M93.6 149.3V150.5" stroke="url(#ga6)"/>
<path d="M93.6 150V155.2" stroke="url(#ga2)"/>
<path d="M93.6 154.7V167" stroke="url(#ga5)"/>
<path d="M94.1 133.2V152.6" stroke="url(#ga7)"/>
<path d="M94.1 152.1V154.5" stroke="url(#ga5)"/>
<path d="M94.1 154V172.1" stroke="url(#ga4)"/>
<path d="M94.6 128.4V138.8" stroke="url(#ga4)"/>
<path d="M94.6 138.3V151.3" stroke="url(#ga6)"/>
<path d="M94.6 150.8V159.5" stroke="url(#ga6)"/>
<path d="M94.6 159V164.7" stroke="url(#ga8)"/>
<path d="M95.1 128.9V139.6" stroke="url(#ga7)"/>
<path d="M95.1 139.1V171.3" stroke="url(#ga3)"/>
<path d="M95.6 138.2V150.5" stroke="url(#ga3)"/>
<path d="M95.6 150V155.8" stroke="url(#ga1)"/>
<path d="M95.6 155.3V166.5" stroke="url(#ga1)"/>
<path d="M95.6 166V173.5" stroke="url(#ga6)"/>
<path d="M96.1 129.8V135.3" stroke="url(#ga1)"/>
<path d="M96.1 134.8V137" stroke="url(#ga0)"/>
<path d="M96.1 136.5V169" stroke="url(#ga1)"/>
<path d="M96.6 129.3V137.8" stroke="url(#ga8)"/>
<path d="M96.6 137.3V146.5" stroke="url(#ga1)"/>
<path d="M96.6 146V160.1" stroke="url(#ga7)"/>
<path d="M96.6 159.6V169.4" stroke="url(#ga1)"/>
<path d="M97.1 127.7V146.8" stroke="url(#ga1)"/>
<path d="M97.1 146.3V173.2" stroke="url(#ga8)"/>
<path d="M97.6 132.6V139.5" stroke="url(#ga2)"/>
<path d="M97.6 139V143.4" stroke="url(#ga4)"/>
<path d="M97.6 142.9V166.2" stroke="url(#ga4)"/>
<path d="M98.1 130.1V138.9" stroke="url(#ga8)"/>
<path d="M98.1 138.4V169.5" stroke="url(#ga6)"/>
<path d="M98.6 129.3V142.7" stroke="url(#ga6)"/>
<path d="M98.6 142.2V150.1" stroke="url(#ga8)"/>
<path d="M98.6 149.6V171.7" stroke="url(#ga0)"/>
<path d="M99.1 128.2V140.2" stroke="url(#ga6)"/>
<path d="M99.1 139.7V145.1" stroke="url(#ga3)"/>
<path d="M99.1 144.6V148.3" stroke="url(#ga3)"/>
<path d="M99.1 147.8V173.1" stroke="url(#ga6)"/>
<path d="M99.6 128V151.9" stroke="url(#ga4)"/>
<path d="M99.6 151.4V152.2" stroke="url(#ga6)"/>
<path d="M99.6 151.7V153.5" stroke="url(#ga7)"/>
<path d="M99.6 153V171.5" stroke="url(#ga8)"/>
<path d="M100.1 128V146.8" stroke="url(#ga3)"/>
<path d="M100.1 146.3V166.7" stroke="url(#ga4)"/>
<path d="M100.6 130.3V136.2" stroke="url(#ga7)"/>
<path d="M100.6 135.7V161.7" stroke="url(#ga3)"/>
<path d="M100.6 161.2V166.7" stroke="url(#ga8)"/>
<path d="M101.1 133.3V143.1" stroke="url(#ga0)"/>
<path d="M101.1 142.6V171.4" stroke="url(#ga4)"/>
<path d="M101.6 129.5V166.5" stroke="url(#ga3)"/>
<path d="M101.6 166V173.8" stroke="url(#ga7)"/>
<path d="M102.1 127.5V146.1" stroke="url(#ga8)"/>
<path d="M102.1 145.6V153.4" stroke="url(#ga8)"/>
<path d="M102.1 152.9V153.5" stroke="url(#ga2)"/>
<path d="M102.1 153V173.8" stroke="url(#ga5)"/>
<path d="M102.6 130V144" stroke="url(#ga1)"/>
<path d="M102.6 143.5V145.3" stroke="url(#ga4)"/>
<path d="M102.6 144.8V156.7" stroke="url(#ga3)"/>
<path d="M102.6 156.2V172.8" stroke="url(#ga0)"/>
<path d="M103.1 130.1V168.4" stroke="url(#ga6)"/>
<path d="M103.1 167.9V173.5" stroke="url(#ga3)"/>
<path d="M103.6 128.4V148.2" stroke="url(#ga6)"/>
<path d="M103.6 147.7V148.2" stroke="url(#ga0)"/>
<path d="M103.6 147.7V154.1" stroke="url(#ga8)"/>
<path d="M103.6 153.6V166.3" stroke="url(#ga1)"/>
<path d="M104.1 130.7V144.2" stroke="url(#ga0)"/>
<path d="M104.1 143.7V145.2" stroke="url(#ga0)"/>
<path d="M104.1 144.7V172.5" stroke="url(#ga1)"/>
<path d="M104.6 127.7V145.5" stroke="url(#ga4)"/>
<path d="M104.6 145V156.9" stroke="url(#ga8)"/>
<path d="M104.6 156.4V170.6" stroke="url(#ga6)"/>
<path d="M105.1 127.6V155.8" stroke="url(#ga1)"/>
<path d="M105.1 155.3V161.4" stroke="url(#ga2)"/>
<path d="M105.1 160.9V172.5" stroke="url(#ga8)"/>
<path d="M105.6 129.7V143.2" stroke="url(#ga4)"/>
<path d="M105.6 142.7V154.5" stroke="url(#ga0)"/>
<path d="M105.6 154V156.8" stroke="url(#ga8)"/>
<path d="M105.6 156.3V173.3" stroke="url(#ga7)"/>
<path d="M106.1 128.5V162.1" stroke="url(#ga2)"/>
<path d="M106.1 161.6V169.9" stroke="url(#ga0)"/>
<path d="M106.6 129.1V139.7" stroke="url(#ga2)"/>
<path d="M106.6 139.2V170.1" stroke="url(#ga2)"/>
<path d="M107.1 127.1V146.1" stroke="url(#ga7)"/>
<path d="M107.1 145.6V148.4" stroke="url(#ga0)"/>
<path d="M107.1 147.9V172.1" stroke="url(#ga6)"/>
<path d="M107.6 133.4V147.5" stroke="url(#ga5)"/>
<path d="M107.6 147V172.9" stroke="url(#ga0)"/>
<path d="M108.1 130.4V143.6" stroke="url(#ga3)"/>
<path d="M108.1 143.1V153.4" stroke="url(#ga8)"/>
<path d="M108.1 152.9V168.7" stroke="url(#ga1)"/>
<path d="M108.1 168.2V173.9" stroke="url(#ga3)"/>
<path d="M108.6 127.2V148.3" stroke="url(#ga7)"/>
<path d="M108.6 147.8V157.1" stroke="url(#ga3)"/>
<path d="M108.6 156.6V165.8" stroke="url(#ga3)"/>
<path d="M108.6 165.3V171.2" stroke="url(#ga7)"/>
<path d="M109.1 132.3V140.6" stroke="url(#ga0)"/>
<path d="M109.1 140.1V154.9" stroke="url(#ga8)"/>
<path d="M109.1 154.4V157.9" stroke="url(#ga4)"/>
<path d="M109.1 157.4V174.7" stroke="url(#ga6)"/>
<path d="M109.6 129.5V142.7" stroke="url(#ga5)"/>
<path d="M109.6 142.2V153.7" stroke="url(#ga6)"/>
<path d="M109.6 153.2V164.3" stroke="url(#ga6)"/>
<path d="M109.6 163.8V174.7" stroke="url(#ga1)"/>
<path d="M110.1 128.4V162.7" stroke="url(#ga3)"/>
<path d="M110.1 162.2V173.9" stroke="url(#ga7)"/>
<path d="M110.6 130.4V157.1" stroke="url(#ga5)"/>
<path d="M110.6 156.6V172" stroke="url(#ga5)"/>
<path d="M111.1 129.7V144.7" stroke="url(#ga7)"/>
<path d="M111.1 144.2V146.7" stroke="url(#ga7)"/>
<path d="M111.1 146.2V172.6" stroke="url(#ga8)"/>
<path d="M111.6 131V137.2" stroke="url(#ga6)"/>
<path d="M111.6 136.7V167.3" stroke="url(#ga1)"/>
<path d="M111.6 166.8V174.8" stroke="url(#ga4)"/>
<path d="M112.1 128.5V146.2" stroke="url(#ga3)"/>
<path d="M112.1 145.7V150.4" stroke="url(#ga3)"/>
<path d="M112.1 149.9V172.8" stroke="url(#ga0)"/>
<path d="M112.6 131.1V150" stroke="url(#ga0)"/>
<path d="M112.6 149.5V151" stroke="url(#ga5)"/>
<path d="M112.6 150.5V151.9" stroke="url(#ga0)"/>
<path d="M112.6 151.4V172.8" stroke="url(#ga4)"/>
<path d="M113.1 128.7V160.8" stroke="url(#ga6)"/>
<path d="M113.1 160.3V171.6" stroke="url(#ga6)"/>
<path d="M113.6 126.2V134.4" stroke="url(#ga6)"/>
<path d="M113.6 133.9V152.3" stroke="url(#ga2)"/>
<path d="M113.6 151.8V167.9" stroke="url(#ga5)"/>
<path d="M113.6 167.4V173.6" stroke="url(#ga7)"/>
<path d="M114.1 126.6V150.7" stroke="url(#ga5)"/>
<path d="M114.1 150.2V166" stroke="url(#ga2)"/>
<path d="M114.6 131.8V138.2" stroke="url(#ga7)"/>
<path d="M114.6 137.7V170.1" stroke="url(#ga6)"/>
<path d="M115.1 126.7V132.6" stroke="url(#ga6)"/>
<path d="M115.1 132.1V174.4" stroke="url(#ga5)"/>
<path d="M115.6 134.4V151.3" stroke="url(#ga1)"/>
<path d="M115.6 150.8V162.2" stroke="url(#ga0)"/>
<path d="M115.6 161.7V172.6" stroke="url(#ga4)"/>
<path d="M116.1 126.1V132.2" stroke="url(#ga6)"/>
<path d="M116.1 131.7V146.3" stroke="url(#ga2)"/>
<path d="M116.1 145.8V152.1" stroke="url(#ga8)"/>
<path d="M116.1 151.6V173.1" stroke="url(#ga7)"/>
<path d="M116.6 128.7V136.6" stroke="url(#ga3)"/>
<path d="M116.6 136.1V174" stroke="url(#ga3)"/>
<path d="M117.1 127.3V151.5" stroke="url(#ga7)"/>
<path d="M117.1 151V173.7" stroke="url(#ga3)"/>
<path d="M117.6 131.6V138.5" stroke="url(#ga7)"/>
<path d="M117.6 138V141" stroke="url(#ga5)"/>
<path d="M117.6 140.5V146" stroke="url(#ga7)"/>
<path d="M117.6 145.5V171.6" stroke="url(#ga2)"/>
<path d="M118.1 128.2V169.8" stroke="url(#ga6)"/>
<path d="M118.1 169.3V175.1" stroke="url(#ga2)"/>
<path d="M118.6 129.7V138.9" stroke="url(#ga1)"/>
<path d="M118.6 138.4V140.8" stroke="url(#ga3)"/>
<path d="M118.6 140.3V174.7" stroke="url(#ga0)"/>
<path d="M119.1 127.7V146.4" stroke="url(#ga0)"/>
<path d="M119.1 145.9V155.7" stroke="url(#ga4)"/>
<path d="M119.1 155.2V161.4" stroke="url(#ga7)"/>
<path d="M119.1 160.9V175.6" stroke="url(#ga1)"/>
<path d="M119.6 126.4V138.2" stroke="url(#ga5)"/>
<path d="M119.6 137.7V160.4" stroke="url(#ga5)"/>
<path d="M119.6 159.9V172.6" stroke="url(#ga3)"/>
<path d="M120.1 127.7V138.8" stroke="url(#ga6)"/>
<path d="M120.1 138.3V167.6" stroke="url(#ga5)"/>
<path d="M120.1 167.1V176.6" stroke="url(#ga7)"/>
<path d="M120.6 127.3V142.7" stroke="url(#ga8)"/>
<path d="M120.6 142.2V143" stroke="url(#ga6)"/>
<path d="M120.6 142.5V161.6" stroke="url(#ga5)"/>
<path d="M120.6 161.1V175.2" stroke="url(#ga0)"/>
<path d="M121.1 129.2V142.9" stroke="url(#ga1)"/>
<path d="M121.1 142.4V154.3" stroke="url(#ga1)"/>
<path d="M121.1 153.8V174.6" stroke="url(#ga8)"/>
<path d="M121.6 128.1V144.1" stroke="url(#ga0)"/>
<path d="M121.6 143.6V166.5" stroke="url(#ga2)"/>
<path d="M121.6 166V173" stroke="url(#ga8)"/>
<path d="M122.1 129.6V151.4" stroke="url(#ga1)"/>
<path d="M122.1 150.9V159.9" stroke="url(#ga4)"/>
<path d="M122.1 159.4V176.6" stroke="url(#ga2)"/>
<path d="M122.6 130.1V150.8" stroke="url(#ga2)"/>
<path d="M122.6 150.3V161.6" stroke="url(#ga8)"/>
<path d="M122.6 161.1V165.5" stroke="url(#ga4)"/>
<path d="M122.6 165V176.3" stroke="url(#ga7)"/>
<path d="M123.1 127.8V140.4" stroke="url(#ga0)"/>
<path d="M123.1 139.9V147" stroke="url(#ga8)"/>
<path d="M123.1 146.5V147" stroke="url(#ga6)"/>
<path d="M123.1 146.5V171.5" stroke="url(#ga4)"/>
<path d="M123.6 134.8V144.3" stroke="url(#ga3)"/>
<path d="M123.6 143.8V159" stroke="url(#ga7)"/>
<path d="M123.6 158.5V174.7" stroke="url(#ga3)"/>
<path d="M124.1 126.3V135.5" stroke="url(#ga0)"/>
<path d="M124.1 135V157.3" stroke="url(#ga0)"/>
<path d="M124.1 156.8V167.8" stroke="url(#ga0)"/>
<path d="M124.1 167.3V176.1" stroke="url(#ga2)"/>
<path d="M124.6 127.7V155.8" stroke="url(#ga7)"/>
<path d="M124.6 155.3V174.6" stroke="url(#ga3)"/>
<path d="M125.1 126.1V135" stroke="url(#ga8)"/>
<path d="M125.1 134.5V144.2" stroke="url(#ga3)"/>
<path d="M125.1 143.7V156.5" stroke="url(#ga4)"/>
<path d="M125.1 156V177.1" stroke="url(#ga8)"/>
<path d="M125.6 128.3V162.9" stroke="url(#ga1)"/>
<path d="M125.6 162.4V165.4" stroke="url(#ga8)"/>
<path d="M125.6 164.9V171.1" stroke="url(#ga4)"/>
<path d="M126.1 129.2V134.8" stroke="url(#ga0)"/>
<path d="M126.1 134.3V169.7" stroke="url(#ga5)"/>
<path d="M126.1 169.2V175.4" stroke="url(#ga8)"/>
<path d="M126.6 126.2V139.1" stroke="url(#ga6)"/>
<path d="M126.6 138.6V149.8" stroke="url(#ga5)"/>
<path d="M126.6 149.3V175.2" stroke="url(#ga8)"/>
<path d="M127.1 128.7V157" stroke="url(#ga0)"/>
<path d="M127.1 156.5V177" stroke="url(#ga3)"/>
<path d="M127.6 127.4V154.4" stroke="url(#ga7)"/>
<path d="M127.6 153.9V176.8" stroke="url(#ga4)"/>
<path d="M128.1 129.3V136.5" stroke="url(#ga3)"/>
<path d="M128.1 136V145.2" stroke="url(#ga1)"/>
<path d="M128.1 144.7V152" stroke="url(#ga1)"/>
<path d="M128.1 151.5V172.2" stroke="url(#ga5)"/>
<path d="M128.6 129.3V140.5" stroke="url(#ga4)"/>
<path d="M128.6 140V150.8" stroke="url(#ga4)"/>
<path d="M128.6 150.3V173.7" stroke="url(#ga8)"/>
<path d="M129.1 129.6V155.4" stroke="url(#ga4)"/>
<path d="M129.1 154.9V176.1" stroke="url(#ga1)"/>
<path d="M129.6 129.3V150.8" stroke="url(#ga0)"/>
<path d="M129.6 150.3V156.3" stroke="url(#ga6)"/>
<path d="M129.6 155.8V174.3" stroke="url(#ga4)"/>
<path d="M130.1 127.7V133.2" stroke="url(#ga1)"/>
<path d="M130.1 132.7V144" stroke="url(#ga4)"/>
<path d="M130.1 143.5V157.2" stroke="url(#ga3)"/>
<path d="M130.1 156.7V176.1" stroke="url(#ga3)"/>
<path d="M130.6 126.3V162.4" stroke="url(#ga6)"/>
<path d="M130.6 161.9V164.6" stroke="url(#ga8)"/>
<path d="M130.6 164.1V173.3" stroke="url(#ga8)"/>
<path d="M131.1 126.2V138.5" stroke="url(#ga3)"/>
<path d="M131.1 138V140.1" stroke="url(#ga4)"/>
<path d="M131.1 139.6V170.1" stroke="url(#ga8)"/>
<path d="M131.1 169.6V176.1" stroke="url(#ga7)"/>
<path d="M131.6 125.8V162.9" stroke="url(#ga7)"/>
<path d="M131.6 162.4V176.8" stroke="url(#ga8)"/>
<path d="M132.1 127.9V143.9" stroke="url(#ga8)"/>
<path d="M132.1 143.4V175.5" stroke="url(#ga4)"/>
<path d="M132.6 128.2V136.1" stroke="url(#ga6)"/>
<path d="M132.6 135.6V153.3" stroke="url(#ga4)"/>
<path d="M132.6 152.8V164.6" stroke="url(#ga8)"/>
<path d="M132.6 164.1V172.6" stroke="url(#ga6)"/>
<path d="M133.1 128.4V150" stroke="url(#ga4)"/>
<path d="M133.1 149.5V165.7" stroke="url(#ga1)"/>
<path d="M133.1 165.2V176.4" stroke="url(#ga6)"/>
<path d="M133.6 126.1V138.1" stroke="url(#ga0)"/>
<path d="M133.6 137.6V152.7" stroke="url(#ga6)"/>
<path d="M133.6 152.2V174.4" stroke="url(#ga5)"/>
<path d="M134.1 126.3V152.6" stroke="url(#ga7)"/>
<path d="M134.1 152.1V169.4" stroke="url(#ga0)"/>
<path d="M134.1 168.9V169.9" stroke="url(#ga0)"/>
<path d="M134.1 169.4V176.4" stroke="url(#ga2)"/>
<path d="M134.6 128.5V140.5" stroke="url(#ga0)"/>
<path d="M134.6 140V145.9" stroke="url(#ga8)"/>
<path d="M134.6 145.4V164.6" stroke="url(#ga2)"/>
<path d="M134.6 164.1V177.8" stroke="url(#ga6)"/>
<path d="M135.1 127.2V152.4" stroke="url(#ga1)"/>
<path d="M135.1 151.9V157" stroke="url(#ga7)"/>
<path d="M135.1 156.5V158.9" stroke="url(#ga4)"/>
<path d="M135.1 158.4V173.7" stroke="url(#ga0)"/>
<path d="M135.6 126V133" stroke="url(#ga0)"/>
<path d="M135.6 132.5V136.4" stroke="url(#ga8)"/>
<path d="M135.6 135.9V137.3" stroke="url(#ga2)"/>
<path d="M135.6 136.8V167.2" stroke="url(#ga1)"/>
<path d="M136.1 125.9V143.7" stroke="url(#ga6)"/>
<path d="M136.1 143.2V176.7" stroke="url(#ga7)"/>
<path d="M136.6 126.9V161.2" stroke="url(#ga2)"/>
<path d="M136.6 160.7V163.6" stroke="url(#ga4)"/>
<path d="M136.6 163.1V178.3" stroke="url(#ga3)"/>
<path d="M137.1 126.8V162.5" stroke="url(#ga3)"/>
<path d="M137.1 162V178.5" stroke="url(#ga2)"/>
<path d="M137.6 126.6V139.5" stroke="url(#ga5)"/>
<path d="M137.6 139V141.7" stroke="url(#ga1)"/>
<path d="M137.6 141.2V167.6" stroke="url(#ga7)"/>
<path d="M137.6 167.1V175" stroke="url(#ga4)"/>
<path d="M138.1 126.1V137" stroke="url(#ga5)"/>
<path d="M138.1 136.5V157.2" stroke="url(#ga1)"/>
<path d="M138.1 156.7V176.1" stroke="url(#ga5)"/>
<path d="M138.6 128.2V137.7" stroke="url(#ga1)"/>
<path d="M138.6 137.2V171.2" stroke="url(#ga6)"/>
<path d="M138.6 170.7V176.6" stroke="url(#ga6)"/>
<path d="M139.1 127.9V135.8" stroke="url(#ga0)"/>
<path d="M139.1 135.3V139.8" stroke="url(#ga1)"/>
<path d="M139.1 139.3V176.3" stroke="url(#ga1)"/>
<path d="M139.6 127.4V133.4" stroke="url(#ga8)"/>
<path d="M139.6 132.9V135.6" stroke="url(#ga0)"/>
<path d="M139.6 135.1V177.9" stroke="url(#ga6)"/>
<path d="M140.1 125.5V163.6" stroke="url(#ga8)"/>
<path d="M140.1 163.1V178.4" stroke="url(#ga1)"/>
<path d="M140.6 127.7V151.2" stroke="url(#ga5)"/>
<path d="M140.6 150.7V159.4" stroke="url(#ga4)"/>
<path d="M140.6 158.9V167.9" stroke="url(#ga8)"/>
<path d="M140.6 167.4V178.7" stroke="url(#ga1)"/>
<path d="M141.1 125.5V151.4" stroke="url(#ga8)"/>
<path d="M141.1 150.9V175.5" stroke="url(#ga7)"/>
<path d="M141.6 129.3V155.8" stroke="url(#ga5)"/>
<path d="M141.6 155.3V171.9" stroke="url(#ga5)"/>
<path d="M142.1 125.6V134.7" stroke="url(#ga3)"/>
<path d="M142.1 134.2V163.8" stroke="url(#ga0)"/>
<path d="M142.1 163.3V173.5" stroke="url(#ga0)"/>
<path d="M142.1 173V178.6" stroke="url(#ga4)"/>
<path d="M142.6 132.2V161.2" stroke="url(#ga8)"/>
<path d="M142.6 160.7V161.6" stroke="url(#ga2)"/>
<path d="M142.6 161.1V172.5" stroke="url(#ga0)"/>
<path d="M143.1 125.6V145.1" stroke="url(#ga6)"/>
<path d="M143.1 144.6V146.3" stroke="url(#ga8)"/>
<path d="M143.1 145.8V178.7" stroke="url(#ga0)"/>
<path d="M143.6 127.5V148.8" stroke="url(#ga4)"/>
<path d="M143.6 148.3V172.3" stroke="url(#ga0)"/>
<path d="M144.1 129.8V136.9" stroke="url(#ga6)"/>
<path d="M144.1 136.4V154.7" stroke="url(#ga3)"/>
<path d="M144.1 154.2V178.6" stroke="url(#ga1)"/>
<path d="M144.6 127.2V141.4" stroke="url(#ga7)"/>
<path d="M144.6 140.9V169.1" stroke="url(#ga2)"/>
<path d="M144.6 168.6V177.8" stroke="url(#ga6)"/>
<path d="M145.1 128.7V154.7" stroke="url(#ga8)"/>
<path d="M145.1 154.2V168.8" stroke="url(#ga0)"/>
<path d="M145.1 168.3V176.7" stroke="url(#ga4)"/>
<path d="M145.6 127.7V139.3" stroke="url(#ga5)"/>
<path d="M145.6 138.8V178.1" stroke="url(#ga8)"/>
<path d="M146.1 130.7V157.9" stroke="url(#ga4)"/>
<path d="M146.1 157.4V176.4" stroke="url(#ga7)"/>
<path d="M146.6 129.2V150.6" stroke="url(#ga3)"/>
<path d="M146.6 150.1V163.7" stroke="url(#ga3)"/>
<path d="M146.6 163.2V168.1" stroke="url(#ga3)"/>
<path d="M146.6 167.6V178.7" stroke="url(#ga7)"/>
<path d="M147.1 126.6V165.5" stroke="url(#ga1)"/>
<path d="M147.1 165V178.7" stroke="url(#ga8)"/>
<path d="M147.6 128.4V159.8" stroke="url(#ga7)"/>
<path d="M147.6 159.3V173.3" stroke="url(#ga6)"/>
<path d="M148.1 126.3V160.6" stroke="url(#ga3)"/>
<path d="M148.1 160.1V174.9" stroke="url(#ga2)"/>
<path d="M148.6 125.9V134.3" stroke="url(#ga5)"/>
<path d="M148.6 133.8V155.9" stroke="url(#ga6)"/>
<path d="M148.6 155.4V167.3" stroke="url(#ga4)"/>
<path d="M148.6 166.8V175" stroke="url(#ga6)"/>
<path d="M149.1 128.3V170.3" stroke="url(#ga7)"/>
<path d="M149.1 169.8V178.4" stroke="url(#ga3)"/>
<path d="M149.6 125.5V159.9" stroke="url(#ga4)"/>
<path d="M149.6 159.4V178.8" stroke="url(#ga6)"/>
<path d="M150.1 126.6V155.1" stroke="url(#ga3)"/>
<path d="M150.1 154.6V172.3" stroke="url(#ga1)"/>
<path d="M150.1 171.8V178.3" stroke="url(#ga4)"/>
<path d="M150.6 126.9V158.7" stroke="url(#ga5)"/>
<path d="M150.6 158.2V178.6" stroke="url(#ga5)"/>
<path d="M151.1 126.6V143" stroke="url(#ga6)"/>
<path d="M151.1 142.5V158.8" stroke="url(#ga8)"/>
<path d="M151.1 158.3V171.9" stroke="url(#ga5)"/>
<path d="M151.1 171.4V178.2" stroke="url(#ga5)"/>
<path d="M151.6 131.9V158.1" stroke="url(#ga8)"/>
<path d="M151.6 157.6V158.6" stroke="url(#ga7)"/>
<path d="M151.6 158.1V176.3" stroke="url(#ga5)"/>
<path d="M152.1 128.7V153" stroke="url(#ga7)"/>
<path d="M152.1 152.5V175.5" stroke="url(#ga4)"/>
<path d="M152.6 126.5V136" stroke="url(#ga2)"/>
<path d="M152.6 135.5V159.7" stroke="url(#ga1)"/>
<path d="M152.6 159.2V163.5" stroke="url(#ga3)"/>
<path d="M152.6 163V179.4" stroke="url(#ga1)"/>
<path d="M153.1 127.9V148.7" stroke="url(#ga6)"/>
<path d="M153.1 148.2V161.4" stroke="url(#ga2)"/>
<path d="M153.1 160.9V177.4" stroke="url(#ga2)"/>
<path d="M153.6 126.1V133.3" stroke="url(#ga5)"/>
<path d="M153.6 132.8V137.7" stroke="url(#ga6)"/>
<path d="M153.6 137.2V175" stroke="url(#ga6)"/>
<path d="M154.1 128.1V149" stroke="url(#ga1)"/>
<path d="M154.1 148.5V152.5" stroke="url(#ga4)"/>
<path d="M154.1 152V166.3" stroke="url(#ga7)"/>
<path d="M154.1 165.8V174.5" stroke="url(#ga1)"/>
<path d="M154.6 132.3V141.7" stroke="url(#ga4)"/>
<path d="M154.6 141.2V147" stroke="url(#ga3)"/>
<path d="M154.6 146.5V176.5" stroke="url(#ga2)"/>
<path d="M155.1 126.9V151.6" stroke="url(#ga4)"/>
<path d="M155.1 151.1V156.8" stroke="url(#ga5)"/>
<path d="M155.1 156.3V171.7" stroke="url(#ga5)"/>
<path d="M155.6 127.7V142.6" stroke="url(#ga3)"/>
<path d="M155.6 142.1V155.4" stroke="url(#ga5)"/>
<path d="M155.6 154.9V159.2" stroke="url(#ga3)"/>
<path d="M155.6 158.7V178.3" stroke="url(#ga8)"/>
<path d="M156.1 128.1V153.9" stroke="url(#ga4)"/>
<path d="M156.1 153.4V166" stroke="url(#ga4)"/>
<path d="M156.1 165.5V179.5" stroke="url(#ga5)"/>
<path d="M156.6 129.8V171.5" stroke="url(#ga1)"/>
<path d="M156.6 171V178.3" stroke="url(#ga2)"/>
<path d="M157.1 129.2V150.4" stroke="url(#ga4)"/>
<path d="M157.1 149.9V171.4" stroke="url(#ga3)"/>
<path d="M157.1 170.9V178.4" stroke="url(#ga0)"/>
<path d="M157.6 126.6V138" stroke="url(#ga8)"/>
<path d="M157.6 137.5V165.8" stroke="url(#ga7)"/>
<path d="M157.6 165.3V173.3" stroke="url(#ga2)"/>
<path d="M158.1 126.1V143.8" stroke="url(#ga6)"/>
<path d="M158.1 143.3V150.9" stroke="url(#ga7)"/>
<path d="M158.1 150.4V177.5" stroke="url(#ga8)"/>
<path d="M158.6 126.6V150.6" stroke="url(#ga6)"/>
<path d="M158.6 150.1V151.8" stroke="url(#ga8)"/>
<path d="M158.6 151.3V171.3" stroke="url(#ga2)"/>
<path d="M159.1 127.1V147.8" stroke="url(#ga1)"/>
<path d="M159.1 147.3V179.1" stroke="url(#ga7)"/>
<path d="M159.6 127.5V157.3" stroke="url(#ga3)"/>
<path d="M159.6 156.8V158" stroke="url(#ga7)"/>
<path d="M159.6 157.5V164.7" stroke="url(#ga6)"/>
<path d="M159.6 164.2V179.7" stroke="url(#ga3)"/>
<path d="M160.1 128.4V155" stroke="url(#ga0)"/>
<path d="M160.1 154.5V178.5" stroke="url(#ga7)"/>
<path d="M160.6 128.2V162.4" stroke="url(#ga4)"/>
<path d="M160.6 161.9V163.4" stroke="url(#ga6)"/>
<path d="M160.6 162.9V176.8" stroke="url(#ga6)"/>
<path d="M161.1 127.3V151" stroke="url(#ga8)"/>
<path d="M161.1 150.5V159.7" stroke="url(#ga5)"/>
<path d="M161.1 159.2V169" stroke="url(#ga7)"/>
<path d="M161.1 168.5V174.6" stroke="url(#ga5)"/>
<path d="M161.6 127.5V134.3" stroke="url(#ga6)"/>
<path d="M161.6 133.8V136.9" stroke="url(#ga6)"/>
<path d="M161.6 136.4V139" stroke="url(#ga7)"/>
<path d="M161.6 138.5V171.5" stroke="url(#ga8)"/>
<path d="M162.1 130.5V140.7" stroke="url(#ga8)"/>
<path d="M162.1 140.2V145.8" stroke="url(#ga6)"/>
<path d="M162.1 145.3V170" stroke="url(#ga8)"/>
<path d="M162.1 169.5V175" stroke="url(#ga8)"/>
<path d="M162.6 126.9V132.8" stroke="url(#ga5)"/>
<path d="M162.6 132.3V153.1" stroke="url(#ga0)"/>
<path d="M162.6 152.6V166" stroke="url(#ga7)"/>
<path d="M162.6 165.5V176.1" stroke="url(#ga7)"/>
<path d="M163.1 127.8V139.9" stroke="url(#ga3)"/>
<path d="M163.1 139.4V140" stroke="url(#ga8)"/>
<path d="M163.1 139.5V152.9" stroke="url(#ga4)"/>
<path d="M163.1 152.4V177.2" stroke="url(#ga0)"/>
<path d="M163.6 127.2V170.1" stroke="url(#ga3)"/>
<path d="M163.6 169.6V176.8" stroke="url(#ga5)"/>
<path d="M164.1 129.7V148.4" stroke="url(#ga3)"/>
<path d="M164.1 147.9V176.8" stroke="url(#ga1)"/>
<path d="M164.6 129.1V158.3" stroke="url(#ga7)"/>
<path d="M164.6 157.8V177.9" stroke="url(#ga5)"/>
<path d="M165.1 126.8V139.3" stroke="url(#ga0)"/>
<path d="M165.1 138.8V156.6" stroke="url(#ga4)"/>
<path d="M165.1 156.1V168.6" stroke="url(#ga7)"/>
<path d="M165.1 168.1V174.5" stroke="url(#ga2)"/>
<path d="M165.6 130.6V160.6" stroke="url(#ga5)"/>
<path d="M165.6 160.1V178.3" stroke="url(#ga6)"/>
<path d="M166.1 126.9V151.8" stroke="url(#ga5)"/>
<path d="M166.1 151.3V158.1" stroke="url(#ga4)"/>
<path d="M166.1 157.6V165.9" stroke="url(#ga3)"/>
<path d="M166.1 165.4V175.2" stroke="url(#ga1)"/>
<path d="M166.6 128V141.9" stroke="url(#ga5)"/>
<path d="M166.6 141.4V144.1" stroke="url(#ga8)"/>
<path d="M166.6 143.6V152.6" stroke="url(#ga1)"/>
<path d="M166.6 152.1V169" stroke="url(#ga4)"/>
<path d="M167.1 128.7V167.8" stroke="url(#ga3)"/>
<path d="M167.1 167.3V177.6" stroke="url(#ga5)"/>
<path d="M167.6 128V155.3" stroke="url(#ga8)"/>
<path d="M167.6 154.8V160.4" stroke="url(#ga6)"/>
<path d="M167.6 159.9V177.6" stroke="url(#ga3)"/>
<path d="M168.1 129.2V136.2" stroke="url(#ga5)"/>
<path d="M168.1 135.7V139.9" stroke="url(#ga1)"/>
<path d="M168.1 139.4V172.1" stroke="url(#ga4)"/>
<path d="M168.6 131.1V145.7" stroke="url(#ga2)"/>
<path d="M168.6 145.2V170.1" stroke="url(#ga5)"/>
<path d="M168.6 169.6V179.6" stroke="url(#ga4)"/>
<path d="M169.1 128V143.8" stroke="url(#ga6)"/>
<path d="M169.1 143.3V176" stroke="url(#ga5)"/>
<path d="M169.6 129.8V136" stroke="url(#ga7)"/>
<path d="M169.6 135.5V140.9" stroke="url(#ga1)"/>
<path d="M169.6 140.4V145.5" stroke="url(#ga1)"/>
<path d="M169.6 145V172.4" stroke="url(#ga5)"/>
<path d="M170.1 133.7V149.7" stroke="url(#ga3)"/>
<path d="M170.1 149.2V173.4" stroke="url(#ga5)"/>
<path d="M170.1 172.9V173.7" stroke="url(#ga5)"/>
<path d="M170.1 173.2V178.9" stroke="url(#ga3)"/>
<path d="M170.6 128.7V145.5" stroke="url(#ga8)"/>
<path d="M170.6 145V149.4" stroke="url(#ga0)"/>
<path d="M170.6 148.9V162.4" stroke="url(#ga1)"/>
<path d="M170.6 161.9V179.1" stroke="url(#ga1)"/>
<path d="M171.1 128.8V140" stroke="url(#ga7)"/>
<path d="M171.1 139.5V147.9" stroke="url(#ga1)"/>
<path d="M171.1 147.4V150.7" stroke="url(#ga3)"/>
<path d="M171.1 150.2V176.5" stroke="url(#ga5)"/>
<path d="M171.6 130.5V153.8" stroke="url(#ga8)"/>
<path d="M171.6 153.3V155.6" stroke="url(#ga4)"/>
<path d="M171.6 155.1V162.7" stroke="url(#ga2)"/>
<path d="M171.6 162.2V179.3" stroke="url(#ga3)"/>
<path d="M172.1 132.2V138.2" stroke="url(#ga5)"/>
<path d="M172.1 137.7V148" stroke="url(#ga0)"/>
<path d="M172.1 147.5V169.5" stroke="url(#ga8)"/>
<path d="M172.1 169V177.5" stroke="url(#ga1)"/>
<path d="M172.6 133.1V139" stroke="url(#ga0)"/>
<path d="M172.6 138.5V147.3" stroke="url(#ga8)"/>
<path d="M172.6 146.8V152.3" stroke="url(#ga8)"/>
<path d="M172.6 151.8V176" stroke="url(#ga0)"/>
<path d="M173.1 129.2V146.4" stroke="url(#ga8)"/>
<path d="M173.1 145.9V152.7" stroke="url(#ga3)"/>
<path d="M173.1 152.2V153.1" stroke="url(#ga1)"/>
<path d="M173.1 152.6V177.8" stroke="url(#ga6)"/>
<path d="M173.6 129.2V142.1" stroke="url(#ga5)"/>
<path d="M173.6 141.6V176.6" stroke="url(#ga5)"/>
<path d="M174.1 132.7V165.1" stroke="url(#ga0)"/>
<path d="M174.1 164.6V177" stroke="url(#ga4)"/>
<path d="M174.6 128.3V134.6" stroke="url(#ga1)"/>
<path d="M174.6 134.1V142.5" stroke="url(#ga2)"/>
<path d="M174.6 142V143.7" stroke="url(#ga1)"/>
<path d="M174.6 143.2V177.9" stroke="url(#ga0)"/>
<path d="M175.1 128.6V134.5" stroke="url(#ga2)"/>
<path d="M175.1 134V177.2" stroke="url(#ga4)"/>
<path d="M175.6 137.5V149.6" stroke="url(#ga5)"/>
<path d="M175.6 149.1V159.8" stroke="url(#ga8)"/>
<path d="M175.6 159.3V179.7" stroke="url(#ga7)"/>
<path d="M176.1 131.5V161.7" stroke="url(#ga2)"/>
<path d="M176.1 161.2V169.8" stroke="url(#ga5)"/>
<path d="M176.1 169.3V179.2" stroke="url(#ga5)"/>
<path d="M176.6 133.3V145.1" stroke="url(#ga8)"/>
<path d="M176.6 144.6V167.9" stroke="url(#ga3)"/>
<path d="M176.6 167.4V168.7" stroke="url(#ga6)"/>
<path d="M176.6 168.2V177.5" stroke="url(#ga4)"/>
<path d="M177.1 135.1V155.9" stroke="url(#ga3)"/>
<path d="M177.1 155.4V158.3" stroke="url(#ga7)"/>
<path d="M177.1 157.8V166" stroke="url(#ga2)"/>
<path d="M177.1 165.5V178.8" stroke="url(#ga4)"/>
<path d="M177.6 132V144.7" stroke="url(#ga5)"/>
<path d="M177.6 144.2V161.7" stroke="url(#ga0)"/>
<path d="M177.6 161.2V166.5" stroke="url(#ga7)"/>
<path d="M177.6 166V174.3" stroke="url(#ga4)"/>
<path d="M178.1 131.4V156.8" stroke="url(#ga6)"/>
<path d="M178.1 156.3V177.1" stroke="url(#ga0)"/>
<path d="M178.6 132.6V142.3" stroke="url(#ga7)"/>
<path d="M178.6 141.8V142.5" stroke="url(#ga6)"/>
<path d="M178.6 142V166.6" stroke="url(#ga2)"/>
<path d="M178.6 166.1V176.4" stroke="url(#ga2)"/>
<path d="M179.1 131.9V162.2" stroke="url(#ga4)"/>
<path d="M179.1 161.7V176.6" stroke="url(#ga3)"/>
<path d="M179.6 130.3V137.7" stroke="url(#ga8)"/>
<path d="M179.6 137.2V159.6" stroke="url(#ga3)"/>
<path d="M179.6 159.1V162" stroke="url(#ga4)"/>
<path d="M179.6 161.5V179.3" stroke="url(#ga2)"/>
<path d="M180.1 130.3V154.3" stroke="url(#ga4)"/>
<path d="M180.1 153.8V175.9" stroke="url(#ga5)"/>
<path d="M180.6 129.7V149.6" stroke="url(#ga1)"/>
<path d="M180.6 149.1V158.2" stroke="url(#ga8)"/>
<path d="M180.6 157.7V174.9" stroke="url(#ga2)"/>
<path d="M181.1 130.2V145.2" stroke="url(#ga1)"/>
<path d="M181.1 144.7V177.8" stroke="url(#ga7)"/>
<path d="M181.6 132.2V164.4" stroke="url(#ga4)"/>
<path d="M181.6 163.9V165.3" stroke="url(#ga6)"/>
<path d="M181.6 164.8V180.4" stroke="url(#ga2)"/>
<path d="M182.1 131.2V157.4" stroke="url(#ga5)"/>
<path d="M182.1 156.9V180.3" stroke="url(#ga7)"/>
<path d="M182.6 131.8V141.9" stroke="url(#ga6)"/>
<path d="M182.6 141.4V163.5" stroke="url(#ga0)"/>
<path d="M182.6 163V179" stroke="url(#ga5)"/>
<path d="M183.1 133.2V143.3" stroke="url(#ga8)"/>
<path d="M183.1 142.8V164.9" stroke="url(#ga7)"/>
<path d="M183.1 164.4V179.3" stroke="url(#ga7)"/>
<path d="M183.6 138.9V146.8" stroke="url(#ga1)"/>
<path d="M183.6 146.3V160.8" stroke="url(#ga5)"/>
<path d="M183.6 160.3V179.3" stroke="url(#ga1)"/>
<path d="M184.1 132.7V140.8" stroke="url(#ga8)"/>
<path d="M184.1 140.3V158" stroke="url(#ga0)"/>
<path d="M184.1 157.5V178" stroke="url(#ga8)"/>
<path d="M184.6 132.4V152.1" stroke="url(#ga0)"/>
<path d="M184.6 151.6V166.3" stroke="url(#ga5)"/>
<path d="M184.6 165.8V171.4" stroke="url(#ga7)"/>
<path d="M185.1 132.5V153.3" stroke="url(#ga2)"/>
<path d="M185.1 152.8V158.5" stroke="url(#ga6)"/>
<path d="M185.1 158V161.6" stroke="url(#ga1)"/>
<path d="M185.1 161.1V178.7" stroke="url(#ga0)"/>
<path d="M185.6 131.7V150.7" stroke="url(#ga4)"/>
<path d="M185.6 150.2V152.9" stroke="url(#ga1)"/>
<path d="M185.6 152.4V172.1" stroke="url(#ga1)"/>
<path d="M186.1 132.5V138.3" stroke="url(#ga0)"/>
<path d="M186.1 137.8V138.8" stroke="url(#ga6)"/>
<path d="M186.1 138.3V173.2" stroke="url(#ga1)"/>
<path d="M186.1 172.7V178.6" stroke="url(#ga8)"/>
<path d="M186.6 136.6V158.4" stroke="url(#ga8)"/>
<path d="M186.6 157.9V159.8" stroke="url(#ga2)"/>
<path d="M186.6 159.3V164.2" stroke="url(#ga4)"/>
<path d="M186.6 163.7V176.5" stroke="url(#ga6)"/>
<path d="M187.1 137.5V153.3" stroke="url(#ga2)"/>
<path d="M187.1 152.8V158.6" stroke="url(#ga8)"/>
<path d="M187.1 158.1V170.3" stroke="url(#ga3)"/>
<path d="M187.6 134.1V141.3" stroke="url(#ga7)"/>
<path d="M187.6 140.8V177.9" stroke="url(#ga5)"/>
<path d="M188.1 134.4V149.3" stroke="url(#ga6)"/>
<path d="M188.1 148.8V159" stroke="url(#ga5)"/>
<path d="M188.1 158.5V180.3" stroke="url(#ga6)"/>
<path d="M188.6 132.9V139.5" stroke="url(#ga8)"/>
<path d="M188.6 139V148.3" stroke="url(#ga2)"/>
<path d="M188.6 147.8V153.8" stroke="url(#ga6)"/>
<path d="M188.6 153.3V175.6" stroke="url(#ga7)"/>
<path d="M189.1 134.9V157.2" stroke="url(#ga3)"/>
<path d="M189.1 156.7V178.5" stroke="url(#ga1)"/>
<path d="M189.6 136.6V145.9" stroke="url(#ga2)"/>
<path d="M189.6 145.4V152.4" stroke="url(#ga7)"/>
<path d="M189.6 151.9V157" stroke="url(#ga4)"/>
<path d="M189.6 156.5V176.3" stroke="url(#ga6)"/>
<path d="M190.1 134.8V154.2" stroke="url(#ga2)"/>
<path d="M190.1 153.7V161.1" stroke="url(#ga7)"/>
<path d="M190.1 160.6V174" stroke="url(#ga1)"/>
<path d="M190.6 135.9V142" stroke="url(#ga5)"/>
<path d="M190.6 141.5V144.7" stroke="url(#ga2)"/>
<path d="M190.6 144.2V147.3" stroke="url(#ga0)"/>
<path d="M190.6 146.8V171.8" stroke="url(#ga1)"/>
<path d="M191.1 136.8V166.7" stroke="url(#ga7)"/>
<path d="M191.1 166.2V169.8" stroke="url(#ga0)"/>
<path d="M191.1 169.3V177.1" stroke="url(#ga8)"/>
<path d="M191.6 135.5V156.7" stroke="url(#ga3)"/>
<path d="M191.6 156.2V166.8" stroke="url(#ga0)"/>
<path d="M191.6 166.3V170.6" stroke="url(#ga2)"/>
<path d="M191.6 170.1V179.9" stroke="url(#ga6)"/>
<path d="M192.1 139.2V153.1" stroke="url(#ga3)"/>
<path d="M192.1 152.6V161.7" stroke="url(#ga6)"/>
<path d="M192.1 161.2V166" stroke="url(#ga6)"/>
<path d="M192.1 165.5V179.7" stroke="url(#ga0)"/>
<path d="M192.6 137.2V146.6" stroke="url(#ga2)"/>
<path d="M192.6 146.1V150.5" stroke="url(#ga1)"/>
<path d="M192.6 150V159.1" stroke="url(#ga6)"/>
<path d="M192.6 158.6V177.7" stroke="url(#ga8)"/>
<path d="M193.1 138.8V174.7" stroke="url(#ga2)"/>
<path d="M193.1 174.2V175.1" stroke="url(#ga0)"/>
<path d="M193.1 174.6V180.2" stroke="url(#ga5)"/>
<path d="M193.6 137.7V155.5" stroke="url(#ga5)"/>
<path d="M193.6 155V159.7" stroke="url(#ga2)"/>
<path d="M193.6 159.2V175.1" stroke="url(#ga0)"/>
<path d="M194.1 139.5V146.7" stroke="url(#ga2)"/>
<path d="M194.1 146.2V168" stroke="url(#ga1)"/>
<path d="M194.1 167.5V175.1" stroke="url(#ga7)"/>
<path d="M194.6 140.4V151.6" stroke="url(#ga0)"/>
<path d="M194.6 151.1V152.2" stroke="url(#ga1)"/>
<path d="M194.6 151.7V171.5" stroke="url(#ga8)"/>
<path d="M194.6 171V179.2" stroke="url(#ga0)"/>
<path d="M195.1 137.7V156.5" stroke="url(#ga1)"/>
<path d="M195.1 156V178" stroke="url(#ga2)"/>
<path d="M195.6 141.6V148.7" stroke="url(#ga2)"/>
<path d="M195.6 148.2V158.7" stroke="url(#ga0)"/>
<path d="M195.6 158.2V165.7" stroke="url(#ga5)"/>
<path d="M195.6 165.2V172.5" stroke="url(#ga4)"/>
<path d="M196.1 144.3V168.6" stroke="url(#ga7)"/>
<path d="M196.1 168.1V171" stroke="url(#ga8)"/>
<path d="M196.1 170.5V179" stroke="url(#ga6)"/>
<path d="M196.6 141.9V150" stroke="url(#ga6)"/>
<path d="M196.6 149.5V178.5" stroke="url(#ga3)"/>
<path d="M197.1 144.2V152.2" stroke="url(#ga6)"/>
<path d="M197.1 151.7V162.8" stroke="url(#ga0)"/>
<path d="M197.1 162.3V177" stroke="url(#ga6)"/>
<path d="M197.6 140.5V158.7" stroke="url(#ga4)"/>
<path d="M197.6 158.2V161.5" stroke="url(#ga6)"/>
<path d="M197.6 161V175.8" stroke="url(#ga8)"/>
<path d="M198.1 143.4V150.3" stroke="url(#ga8)"/>
<path d="M198.1 149.8V153.5" stroke="url(#ga4)"/>
<path d="M198.1 153V158.2" stroke="url(#ga5)"/>
<path d="M198.1 157.7V172.2" stroke="url(#ga3)"/>
<path d="M198.6 143.3V153.3" stroke="url(#ga3)"/>
<path d="M198.6 152.8V155.8" stroke="url(#ga0)"/>
<path d="M198.6 155.3V166.9" stroke="url(#ga6)"/>
<path d="M198.6 166.4V175.8" stroke="url(#ga5)"/>
<path d="M199.1 144.1V163.8" stroke="url(#ga2)"/>
<path d="M199.1 163.3V166.5" stroke="url(#ga1)"/>
<path d="M199.1 166V172.7" stroke="url(#ga7)"/>
<path d="M199.6 148.1V153.9" stroke="url(#ga6)"/>
<path d="M199.6 153.4V156.7" stroke="url(#ga6)"/>
<path d="M199.6 156.2V157.9" stroke="url(#ga0)"/>
<path d="M199.6 157.4V172.5" stroke="url(#ga2)"/>
<path d="M200.1 145.9V157.4" stroke="url(#ga0)"/>
<path d="M200.1 156.9V165.1" stroke="url(#ga0)"/>
<path d="M200.1 164.6V166.4" stroke="url(#ga1)"/>
<path d="M200.1 165.9V174.9" stroke="url(#ga3)"/>
<path d="M200.6 145.8V153.2" stroke="url(#ga3)"/>
<path d="M200.6 152.7V154.4" stroke="url(#ga3)"/>
<path d="M200.6 153.9V159.9" stroke="url(#ga8)"/>
<path d="M200.6 159.4V173.9" stroke="url(#ga5)"/>
</g>
<polygon points="120.9,172 122.9,172 122.4,202.2 121.4,202.2" fill="url(#gs121)"/>
<polygon points="152.2,176 154.2,176 153.7,206.0 152.7,206.0" fill="url(#gs153)"/>
<text transform="translate(66.3 170.6) rotate(-90)" font-size="9.85" text-anchor="middle" xml:space="preserve">Normalized  gray level</text>
<text x="82.6" y="130.6" font-size="9.4" text-anchor="end" >1</text>
<text x="82.6" y="169.6" font-size="9.4" text-anchor="end" >0.5</text>
<text x="82.6" y="209.2" font-size="9.4" text-anchor="end" >0</text>
<text x="88.6" y="220" font-size="9" text-anchor="middle" >400</text>
<text x="110.7" y="226.2" font-size="10" text-anchor="middle" >Row</text>
<text x="138.2" y="224.3" font-size="9" text-anchor="middle" >00</text>
<text x="174.4" y="222.5" font-size="9" text-anchor="middle" >300</text>
<text x="203.7" y="220" font-size="9" text-anchor="middle" >600</text>
<text x="195.6" y="229.3" font-size="10.1" text-anchor="middle" >Column</text>
<g stroke="#eaeaea" stroke-width="0.6" fill="none">
<path d="M248.3 176 L332.3 164.5 L363 199.8 M332.3 164.5 V126.2 M248.3 137.7 L332.3 126.2 L363 161.5 V199.8"/>
<path d="M248.3 176 L279 211.3 L363 199.8" stroke="#b4b4b4"/>
</g>
<path d="M248.3 176 V137.7" stroke="#b4b4b4" stroke-width="0.6" fill="none"/>
<g stroke="none">
<path d="M248.3 156.4L251.1 157.8L251.1 161.6L248.3 159.6z" fill="#b8ff47"/>
<path d="M248.3 159.2L251.1 161.2L251.1 163.8L248.3 161.4z" fill="#94ff6b"/>
<path d="M248.3 161L251.1 163.4L251.1 165.5L248.3 162.8z" fill="#38ffc7"/>
<path d="M248.3 162.4L251.1 165.1L251.1 166.8L248.3 163.8z" fill="#0038ff"/>
<path d="M250.8 157.8L253.5 159.9L253.5 164.1L250.8 161.6z" fill="#d5ff2a"/>
<path d="M250.8 161.2L253.5 163.7L253.5 166.4L250.8 163.8z" fill="#94ff6b"/>
<path d="M250.8 163.4L253.5 166L253.5 168.3L250.8 165.5z" fill="#38ffc7"/>
<path d="M250.8 165.1L253.5 167.9L253.5 169.8L250.8 166.8z" fill="#0038ff"/>
<path d="M253.2 159.9L256 161.6L256 166.3L253.2 164.1z" fill="#edff12"/>
<path d="M253.2 163.7L256 165.9L256 169L253.2 166.4z" fill="#94ff6b"/>
<path d="M253.2 166L256 168.6L256 171.1L253.2 168.3z" fill="#38ffc7"/>
<path d="M253.2 167.9L256 170.7L256 172.8L253.2 169.8z" fill="#00f0ff"/>
<path d="M255.7 161.6L258.4 167.2L258.4 170.9L255.7 166.3z" fill="#d7ff28"/>
<path d="M255.7 165.9L258.4 170.5L258.4 172.9L255.7 169z" fill="#94ff6b"/>
<path d="M255.7 168.6L258.4 172.5L258.4 174.5L255.7 171.1z" fill="#38ffc7"/>
<path d="M255.7 170.7L258.4 174.1L258.4 175.7L255.7 172.8z" fill="#00f0ff"/>
<path d="M258.1 167.2L260.9 170.3L260.9 173.9L258.1 170.9z" fill="#aeff51"/>
<path d="M258.1 170.5L260.9 173.5L260.9 175.9L258.1 172.9z" fill="#94ff6b"/>
<path d="M258.1 172.5L260.9 175.5L260.9 177.5L258.1 174.5z" fill="#38ffc7"/>
<path d="M258.1 174.1L260.9 177.1L260.9 178.7L258.1 175.7z" fill="#00f0ff"/>
<path d="M260.6 170.3L263.3 174.5L263.3 177.6L260.6 173.9z" fill="#9aff65"/>
<path d="M260.6 173.5L263.3 177.2L263.3 179.3L260.6 175.9z" fill="#94ff6b"/>
<path d="M260.6 175.5L263.3 178.9L263.3 180.7L260.6 177.5z" fill="#38ffc7"/>
<path d="M260.6 177.1L263.3 180.3L263.3 181.7L260.6 178.7z" fill="#00f0ff"/>
<path d="M263 174.5L265.8 176.4L265.8 180L263 177.6z" fill="#94ff6b"/>
<path d="M263 177.2L265.8 179.6L265.8 181.9L263 179.3z" fill="#94ff6b"/>
<path d="M263 178.9L265.8 181.5L265.8 183.5L263 180.7z" fill="#38ffc7"/>
<path d="M263 180.3L265.8 183.1L265.8 184.7L263 181.7z" fill="#00f0ff"/>
<path d="M265.5 176.4L268.2 176.8L268.2 181.4L265.5 180z" fill="#bfff40"/>
<path d="M265.5 179.6L268.2 181L268.2 184L265.5 181.9z" fill="#94ff6b"/>
<path d="M265.5 181.5L268.2 183.6L268.2 186.1L265.5 183.5z" fill="#38ffc7"/>
<path d="M265.5 183.1L268.2 185.7L268.2 187.7L265.5 184.7z" fill="#00f0ff"/>
<path d="M267.9 176.8L270.7 181.6L270.7 185.5L267.9 181.4z" fill="#c5ff3a"/>
<path d="M267.9 181L270.7 185.1L270.7 187.6L267.9 184z" fill="#94ff6b"/>
<path d="M267.9 183.6L270.7 187.2L270.7 189.4L267.9 186.1z" fill="#38ffc7"/>
<path d="M267.9 185.7L270.7 189L270.7 190.7L267.9 187.7z" fill="#00f0ff"/>
<path d="M270.4 181.6L273.2 186.1L273.2 189.4L270.4 185.5z" fill="#95ff6a"/>
<path d="M270.4 185.1L273.2 189L273.2 191.2L270.4 187.6z" fill="#94ff6b"/>
<path d="M270.4 187.2L273.2 190.8L273.2 192.6L270.4 189.4z" fill="#38ffc7"/>
<path d="M270.4 189L273.2 192.2L273.2 193.6L270.4 190.7z" fill="#00f0ff"/>
<path d="M272.9 186.1L274.7 189.7L274.7 192.2L272.9 189.4z" fill="#6bff94"/>
<path d="M272.9 189L274.7 191.8L274.7 193.6L272.9 191.2z" fill="#94ff6b"/>
<path d="M272.9 190.8L274.7 193.2L274.7 194.7L272.9 192.6z" fill="#38ffc7"/>
<path d="M272.9 192.2L274.7 194.3L274.7 195.5L272.9 193.6z" fill="#00f0ff"/>
<path d="M274.4 189.7L276.2 192L276.2 194.4L274.4 192.2z" fill="#52ffad"/>
<path d="M274.4 191.8L276.2 194L276.2 195.6L274.4 193.6z" fill="#94ff6b"/>
<path d="M274.4 193.2L276.2 195.2L276.2 196.6L274.4 194.7z" fill="#38ffc7"/>
<path d="M274.4 194.3L276.2 196.2L276.2 197.4L274.4 195.5z" fill="#00f0ff"/>
<path d="M275.9 192L277.5 193.9L277.5 196.1L275.9 194.4z" fill="#4affb5"/>
<path d="M275.9 194L277.5 195.7L277.5 197.3L275.9 195.6z" fill="#94ff6b"/>
<path d="M275.9 195.2L277.5 196.9L277.5 198.2L275.9 196.6z" fill="#38ffc7"/>
<path d="M275.9 196.2L277.5 197.8L277.5 198.9L275.9 197.4z" fill="#00f0ff"/>
<path d="M277.2 193.9L278.4 195.4L278.4 197.5L277.2 196.1z" fill="#44ffbb"/>
<path d="M277.2 195.7L278.4 197.1L278.4 198.5L277.2 197.3z" fill="#94ff6b"/>
<path d="M277.2 196.9L278.4 198.1L278.4 199.4L277.2 198.2z" fill="#38ffc7"/>
<path d="M277.2 197.8L278.4 199L278.4 200L277.2 198.9z" fill="#00f0ff"/>
<path d="M278.1 195.4L279.3 196.7L279.3 198.7L278.1 197.5z" fill="#3effc1"/>
<path d="M278.1 197.1L279.3 198.3L279.3 199.7L278.1 198.5z" fill="#94ff6b"/>
<path d="M278.1 198.1L279.3 199.3L279.3 200.5L278.1 199.4z" fill="#38ffc7"/>
<path d="M278.1 199L279.3 200.1L279.3 201.1L278.1 200z" fill="#00f0ff"/>
<path d="M248.3 156.4L249 152.1L251.4 155.8L250.8 158.3z" fill="#e4ff1b"/>
<path d="M248.7 152.1L249.4 146.4L251.8 152.8L251.2 155.8z" fill="#ffb600"/>
<path d="M249.1 146.4L249.8 150.7L252.2 155.7L251.6 152.8z" fill="#ffae00"/>
<path d="M249.5 150.7L250.2 158.3L252.6 160.8L252 155.7z" fill="#cdff32"/>
<path d="M249.9 158.3L250.6 152.7L253.1 155.8L252.4 160.8z" fill="#beff41"/>
<path d="M250.3 152.7L251 154.3L253.5 159.2L252.8 155.8z" fill="#e1ff1e"/>
<path d="M250.8 154.3L251.4 152.1L253.9 151.2L253.2 159.2z" fill="#fffc00"/>
<path d="M251.2 152.1L251.8 158L254.3 162.5L253.6 151.2z" fill="#d2ff2d"/>
<path d="M251.6 158L252.2 151.8L254.7 156L254 162.5z" fill="#b3ff4c"/>
<path d="M252 151.8L252.6 148L255.1 153.3L254.4 156z" fill="#ffcf00"/>
<path d="M252.4 148L253.1 144.6L255.5 150.6L254.9 153.3z" fill="#ff7e00"/>
<path d="M252.8 144.6L253.5 149.4L255.9 152.8L255.3 150.6z" fill="#ff8500"/>
<path d="M253.2 149.4L253.9 152L256.3 153.5L255.7 152.8z" fill="#ffca00"/>
<path d="M253.6 152L254.3 152.8L256.7 158.5L256.1 153.5z" fill="#f7ff08"/>
<path d="M254 152.8L254.7 140.6L257.2 142.9L256.5 158.5z" fill="#ff7800"/>
<path d="M254.4 140.6L255.1 156.5L257.6 159.3L256.9 142.9z" fill="#ff9800"/>
<path d="M254.9 156.5L255.5 149L258 151.9L257.3 159.3z" fill="#f3ff0c"/>
<path d="M255.3 149L255.9 151.9L258.4 157L257.7 151.9z" fill="#ffdf00"/>
<path d="M255.7 151.9L256.3 155L258.8 157.2L258.1 157z" fill="#d4ff2b"/>
<path d="M256.1 155L256.7 151.1L259.2 154.4L258.5 157.2z" fill="#e8ff17"/>
<path d="M256.5 151.1L257.2 152.1L259.6 157.7L259 154.4z" fill="#f6ff09"/>
<path d="M256.9 152.1L257.6 151.2L260 151.9L259.4 157.7z" fill="#fff900"/>
<path d="M257.3 151.2L258 149.6L260.4 154L259.8 151.9z" fill="#ffd200"/>
<path d="M257.7 149.6L258.4 143.7L260.8 151.2L260.2 154z" fill="#ff9d00"/>
<path d="M258.1 143.7L258.8 156.3L261.2 160.4L260.6 151.2z" fill="#fff500"/>
<path d="M258.5 156.3L259.2 149.5L261.7 153.5L261 160.4z" fill="#d2ff2d"/>
<path d="M259 149.5L259.6 148.4L262.1 153.9L261.4 153.5z" fill="#ffce00"/>
<path d="M259.4 148.4L260 148.9L262.5 152.4L261.8 153.9z" fill="#ffc500"/>
<path d="M259.8 148.9L260.4 153.6L262.9 161.3L262.2 152.4z" fill="#e5ff1a"/>
<path d="M260.2 153.6L260.8 152L263.3 153.1L262.6 161.3z" fill="#cbff34"/>
<path d="M260.6 152L261.3 149.5L263.7 153.5L263 153.1z" fill="#ffe700"/>
<path d="M261 149.5L261.7 154.1L264.1 157.8L263.5 153.5z" fill="#eaff15"/>
<path d="M261.4 154.1L262.1 147.6L264.5 153.5L263.9 157.8z" fill="#f4ff0b"/>
<path d="M261.8 147.6L262.5 148.6L264.9 153.4L264.3 153.5z" fill="#ffcb00"/>
<path d="M262.2 148.6L262.9 147L265.3 148L264.7 153.4z" fill="#ffa400"/>
<path d="M262.6 147L263.3 145.4L265.8 147L265.1 148z" fill="#ff6600"/>
<path d="M263.1 145.4L263.7 152.5L266.2 153.4L265.5 147z" fill="#ffb000"/>
<path d="M263.5 152.5L264.1 152.9L266.6 155.4L265.9 153.4z" fill="#e5ff1a"/>
<path d="M263.9 152.9L264.5 149.5L267 153.9L266.3 155.4z" fill="#f5ff0a"/>
<path d="M264.3 149.5L264.9 146.1L267.4 147.8L266.7 153.9z" fill="#ffad00"/>
<path d="M264.7 146.1L265.4 144.6L267.8 149.9L267.1 147.8z" fill="#ff7400"/>
<path d="M265.1 144.6L265.8 152.5L268.2 153.9L267.6 149.9z" fill="#ffc700"/>
<path d="M265.5 152.5L266.2 147L268.6 153.3L268 153.9z" fill="#ffef00"/>
<path d="M265.9 147L266.6 147.5L269 151.9L268.4 153.3z" fill="#ffc200"/>
<path d="M266.3 147.5L267 148.7L269.4 153.6L268.8 151.9z" fill="#ffd100"/>
<path d="M266.7 148.7L267.4 147.6L269.9 150.4L269.2 153.6z" fill="#ffc900"/>
<path d="M267.1 147.6L267.8 148.4L270.3 152L269.6 150.4z" fill="#ffbf00"/>
<path d="M267.6 148.4L268.2 141.4L270.7 145.8L270 152z" fill="#ff7900"/>
<path d="M268 141.4L268.6 150.2L271.1 153.9L270.4 145.8z" fill="#ff9300"/>
<path d="M268.4 150.2L269 148.7L271.5 151.8L270.8 153.9z" fill="#ffec00"/>
<path d="M268.8 148.7L269.4 145.2L271.9 151L271.2 151.8z" fill="#ffba00"/>
<path d="M269.2 145.2L269.9 148.8L272.3 154.5L271.7 151z" fill="#ffce00"/>
<path d="M269.6 148.8L270.3 147.4L272.7 148.3L272.1 154.5z" fill="#ffcc00"/>
<path d="M270 147.4L270.7 147.1L273.1 149.2L272.5 148.3z" fill="#ff9f00"/>
<path d="M270.4 147.1L271.1 141.9L273.5 147.1L272.9 149.2z" fill="#ff7500"/>
<path d="M270.8 141.9L271.5 153L274 155.9L273.3 147.1z" fill="#ffc800"/>
<path d="M271.2 153L271.9 143.7L274.4 149.5L273.7 155.9z" fill="#ffe500"/>
<path d="M271.7 143.7L272.3 147.8L274.8 152.1L274.1 149.5z" fill="#ffac00"/>
<path d="M272.1 147.8L272.7 147.5L275.2 151.1L274.5 152.1z" fill="#ffd100"/>
<path d="M272.5 147.5L273.1 139.4L275.6 145L274.9 151.1z" fill="#ff6d00"/>
<path d="M272.9 139.4L273.5 142.3L276 148.7L275.3 145z" fill="#ff3c00"/>
<path d="M273.3 142.3L274 142.7L276.4 145.6L275.8 148.7z" fill="#ff5800"/>
<path d="M273.7 142.7L274.4 147.5L276.8 149L276.2 145.6z" fill="#ff7e00"/>
<path d="M274.1 147.5L274.8 148.2L277.2 154.1L276.6 149z" fill="#ffda00"/>
<path d="M274.5 148.2L275.2 143.1L277.6 150.2L277 154.1z" fill="#ffc700"/>
<path d="M274.9 143.1L275.6 149.3L278 152.2L277.4 150.2z" fill="#ffc300"/>
<path d="M275.3 149.3L276 141.5L278.5 143.5L277.8 152.2z" fill="#ff8e00"/>
<path d="M275.8 141.5L276.4 148.8L278.9 153L278.2 143.5z" fill="#ff9200"/>
<path d="M276.2 148.8L276.8 147.1L279.3 152.5L278.6 153z" fill="#fff200"/>
<path d="M276.6 147.1L277.2 137.2L279.7 138.8L279 152.5z" fill="#ff4b00"/>
<path d="M277 137.2L277.6 147.3L280.1 151.4L279.4 138.8z" fill="#ff4700"/>
<path d="M277.4 147.3L278.1 145.8L280.5 149.9L279.8 151.4z" fill="#ffc900"/>
<path d="M277.8 145.8L278.5 141.4L280.9 145.7L280.3 149.9z" fill="#ff7f00"/>
<path d="M278.2 141.4L278.9 145.9L281.3 148.9L280.7 145.7z" fill="#ff7a00"/>
<path d="M278.6 145.9L279.3 139.5L281.7 144.7L281.1 148.9z" fill="#ff6800"/>
<path d="M279 139.5L279.7 144.3L282.1 147.6L281.5 144.7z" fill="#ff5700"/>
<path d="M279.4 144.3L280.1 145.8L282.6 152.6L281.9 147.6z" fill="#ffb600"/>
<path d="M279.9 145.8L280.5 148.7L283 153.1L282.3 152.6z" fill="#fff800"/>
<path d="M280.3 148.7L280.9 151.9L283.4 156.1L282.7 153.1z" fill="#c5ff3a"/>
<path d="M280.7 151.9L281.3 148.1L283.8 151.3L283.1 156.1z" fill="#d4ff2b"/>
<path d="M281.1 148.1L281.7 144.7L284.2 149.2L283.5 151.3z" fill="#ffcf00"/>
<path d="M281.5 144.7L282.2 141.3L284.6 147.3L283.9 149.2z" fill="#ff8a00"/>
<path d="M281.9 141.3L282.6 135L285 141.2L284.4 147.3z" fill="#ff1800"/>
<path d="M282.3 135L283 143.3L285.4 146.7L284.8 141.2z" fill="#ff2200"/>
<path d="M282.7 143.3L283.4 139.4L285.8 142.8L285.2 146.7z" fill="#ff4b00"/>
<path d="M283.1 139.4L283.8 143.2L286.2 148.9L285.6 142.8z" fill="#ff5a00"/>
<path d="M283.5 143.2L284.2 141L286.7 147.5L286 148.9z" fill="#ff8500"/>
<path d="M283.9 141L284.6 146.1L287.1 148.3L286.4 147.5z" fill="#ff9600"/>
<path d="M284.4 146.1L285 148L287.5 153.3L286.8 148.3z" fill="#ffeb00"/>
<path d="M284.8 148L285.4 147.1L287.9 151.8L287.2 153.3z" fill="#f5ff0a"/>
<path d="M285.2 147.1L285.8 145.6L288.3 152L287.6 151.8z" fill="#fff300"/>
<path d="M285.6 145.6L286.2 145.6L288.7 148L288 152z" fill="#ffd200"/>
<path d="M286 145.6L286.7 147.4L289.1 150.8L288.5 148z" fill="#ffd700"/>
<path d="M286.4 147.4L287.1 141.8L289.5 144.3L288.9 150.8z" fill="#ffa700"/>
<path d="M286.8 141.8L287.5 142.9L289.9 148.5L289.3 144.3z" fill="#ff7c00"/>
<path d="M287.2 142.9L287.9 142.6L290.3 145.8L289.7 148.5z" fill="#ff8c00"/>
<path d="M287.6 142.6L288.3 137.3L290.8 141.6L290.1 145.8z" fill="#ff3c00"/>
<path d="M288 137.3L288.7 141.1L291.2 146.3L290.5 141.6z" fill="#ff3700"/>
<path d="M288.5 141.1L289.1 143.3L291.6 146.5L290.9 146.3z" fill="#ff8100"/>
<path d="M288.9 143.3L289.5 144.9L292 147.5L291.3 146.5z" fill="#ffa300"/>
<path d="M289.3 144.9L289.9 144.6L292.4 148.4L291.7 147.5z" fill="#ffb900"/>
<path d="M289.7 144.6L290.3 141.8L292.8 143.7L292.1 148.4z" fill="#ff8d00"/>
<path d="M290.1 141.8L290.8 144.1L293.2 144.3L292.6 143.7z" fill="#ff7000"/>
<path d="M290.5 144.1L291.2 143.3L293.6 145L293 144.3z" fill="#ff8400"/>
<path d="M290.9 143.3L291.6 143L294 146.2L293.4 145z" fill="#ff8b00"/>
<path d="M291.3 143L292 141.5L294.4 148.5L293.8 146.2z" fill="#ff9700"/>
<path d="M291.7 141.5L292.4 143L294.8 146.4L294.2 148.5z" fill="#ff9a00"/>
<path d="M292.1 143L292.8 151.2L295.3 154.8L294.6 146.4z" fill="#faff05"/>
<path d="M292.6 151.2L293.2 140.1L295.7 146.9L295 154.8z" fill="#fff600"/>
<path d="M293 140.1L293.6 143.7L296.1 147.6L295.4 146.9z" fill="#ff9800"/>
<path d="M293.4 143.7L294 144.7L296.5 148.7L295.8 147.6z" fill="#ffc300"/>
<path d="M293.8 144.7L294.4 139.7L296.9 144L296.2 148.7z" fill="#ff9300"/>
<path d="M294.2 139.7L294.9 144.4L297.3 147.9L296.6 144z" fill="#ff8d00"/>
<path d="M294.6 144.4L295.3 145L297.7 150.7L297.1 147.9z" fill="#ffdd00"/>
<path d="M295 145L295.7 139.8L298.1 141.7L297.5 150.7z" fill="#ff9700"/>
<path d="M295.4 139.8L296.1 147.2L298.5 147L297.9 141.7z" fill="#ff8f00"/>
<path d="M295.8 147.2L296.5 145.5L298.9 150.8L298.3 147z" fill="#fff200"/>
<path d="M296.2 145.5L296.9 144.4L299.4 145.6L298.7 150.8z" fill="#ffd800"/>
<path d="M296.7 144.4L297.3 152.5L299.8 153.2L299.1 145.6z" fill="#e7ff18"/>
<path d="M297.1 152.5L297.7 139.4L300.2 141.4L299.5 153.2z" fill="#ffdc00"/>
<path d="M297.5 139.4L298.1 145.4L300.6 147.5L299.9 141.4z" fill="#ff8a00"/>
<path d="M297.9 145.4L298.5 143.6L301 148.2L300.3 147.5z" fill="#ffd400"/>
<path d="M298.3 143.6L298.9 136.2L301.4 141.5L300.7 148.2z" fill="#ff7100"/>
<path d="M298.7 136.2L299.4 137.9L301.8 143.7L301.2 141.5z" fill="#ff2f00"/>
<path d="M299.1 137.9L299.8 143.5L302.2 147.3L301.6 143.7z" fill="#ff8600"/>
<path d="M299.5 143.5L300.2 140.5L302.6 144.7L302 147.3z" fill="#ffa000"/>
<path d="M299.9 140.5L300.6 141.4L303 145L302.4 144.7z" fill="#ff8500"/>
<path d="M300.3 141.4L301 141.1L303.5 146L302.8 145z" fill="#ff9200"/>
<path d="M300.7 141.1L301.4 144.3L303.9 149.6L303.2 146z" fill="#ffc500"/>
<path d="M301.2 144.3L301.8 144.8L304.3 147.3L303.6 149.6z" fill="#ffe700"/>
<path d="M301.6 144.8L302.2 140.1L304.7 144.2L304 147.3z" fill="#ffaa00"/>
<path d="M302 140.1L302.6 142.3L305.1 147L304.4 144.2z" fill="#ff9900"/>
<path d="M302.4 142.3L303 142.5L305.5 146.9L304.8 147z" fill="#ffbc00"/>
<path d="M302.8 142.5L303.5 140.4L305.9 145.8L305.3 146.9z" fill="#ffaa00"/>
<path d="M303.2 140.4L303.9 147.1L306.3 148.5L305.7 145.8z" fill="#ffd300"/>
<path d="M303.6 147.1L304.3 147.1L306.7 149.5L306.1 148.5z" fill="#e5ff1a"/>
<path d="M304 147.1L304.7 154.3L307.1 156.9L306.5 149.5z" fill="#7dff82"/>
<path d="M304.4 154.3L305.1 145.5L307.6 149.8L306.9 156.9z" fill="#85ff7a"/>
<path d="M304.8 145.5L305.5 138.7L308 144.3L307.3 149.8z" fill="#ffc200"/>
<path d="M305.3 138.7L305.9 144.5L308.4 150.7L307.7 144.3z" fill="#ffc300"/>
<path d="M305.7 144.5L306.3 142.1L308.8 144.2L308.1 150.7z" fill="#ffda00"/>
<path d="M306.1 142.1L306.7 139.8L309.2 145.7L308.5 144.2z" fill="#ff9c00"/>
<path d="M306.5 139.8L307.1 143.3L309.6 147L308.9 145.7z" fill="#ffb700"/>
<path d="M306.9 143.3L307.6 146.3L310 150.9L309.4 147z" fill="#f8ff07"/>
<path d="M307.3 146.3L308 142.7L310.4 146.6L309.8 150.9z" fill="#fdff02"/>
<path d="M307.7 142.7L308.4 147.9L310.8 149.8L310.2 146.6z" fill="#f8ff07"/>
<path d="M308.1 147.9L308.8 145.2L311.2 149.1L310.6 149.8z" fill="#d6ff29"/>
<path d="M308.5 145.2L309.2 146.1L311.6 148.7L311 149.1z" fill="#e8ff17"/>
<path d="M308.9 146.1L309.6 141.7L312.1 146.6L311.4 148.7z" fill="#fff000"/>
<path d="M309.4 141.7L310 139.9L312.5 145.9L311.8 146.6z" fill="#ffb700"/>
<path d="M309.8 139.9L310.4 148.5L312.9 153.8L312.2 145.9z" fill="#eaff15"/>
<path d="M310.2 148.5L310.8 139.7L313.3 142.7L312.6 153.8z" fill="#feff01"/>
<path d="M310.6 139.7L311.2 148.4L313.7 153L313 142.7z" fill="#fffb00"/>
<path d="M311 148.4L311.7 143.3L314.1 148L313.4 153z" fill="#c7ff38"/>
<path d="M311.4 143.3L312.1 142.1L314.5 146.5L313.9 148z" fill="#ffe400"/>
<path d="M311.8 142.1L312.5 146.2L314.9 150.2L314.3 146.5z" fill="#f7ff08"/>
<path d="M312.2 146.2L312.9 144.4L315.3 149.5L314.7 150.2z" fill="#d3ff2c"/>
<path d="M312.6 144.4L313.3 143.7L315.7 149.7L315.1 149.5z" fill="#e5ff1a"/>
<path d="M313 143.7L313.7 145.3L316.2 151.9L315.5 149.7z" fill="#cdff32"/>
<path d="M313.5 145.3L314.1 145.5L316.6 148.7L315.9 151.9z" fill="#c7ff38"/>
<path d="M313.9 145.5L314.5 146L317 149.5L316.3 148.7z" fill="#d1ff2e"/>
<path d="M314.3 146L314.9 142L317.4 147.6L316.7 149.5z" fill="#eeff11"/>
<path d="M314.7 142L315.3 144.2L317.8 147L317.1 147.6z" fill="#fff500"/>
<path d="M315.1 144.2L315.8 140.6L318.2 145.8L317.5 147z" fill="#ffe200"/>
<path d="M315.5 140.6L316.2 141.7L318.6 146.7L318 145.8z" fill="#ffd100"/>
<path d="M315.9 141.7L316.6 153.4L319 156.8L318.4 146.7z" fill="#8fff70"/>
<path d="M316.3 153.4L317 148.8L319.4 151.5L318.8 156.8z" fill="#3fffc0"/>
<path d="M316.7 148.8L317.4 139.1L319.8 143.2L319.2 151.5z" fill="#f5ff0a"/>
<path d="M317.1 139.1L317.8 145.7L320.3 148.3L319.6 143.2z" fill="#ffe200"/>
<path d="M317.5 145.7L318.2 146.4L320.7 151.4L320 148.3z" fill="#b5ff4a"/>
<path d="M318 146.4L318.6 146.6L321.1 149.8L320.4 151.4z" fill="#a4ff5b"/>
<path d="M318.4 146.6L319 143.2L321.5 148L320.8 149.8z" fill="#ceff31"/>
<path d="M318.8 143.2L319.4 144.3L321.9 143.8L321.2 148z" fill="#fffb00"/>
<path d="M319.2 144.3L319.8 142.8L322.3 148.4L321.6 143.8z" fill="#fffc00"/>
<path d="M319.6 142.8L320.3 143.2L322.7 148.5L322.1 148.4z" fill="#e9ff16"/>
<path d="M320 143.2L320.7 141.9L323.1 148.7L322.5 148.5z" fill="#ebff14"/>
<path d="M320.4 141.9L321.1 141.9L323.5 146.8L322.9 148.7z" fill="#fdff02"/>
<path d="M320.8 141.9L321.5 149.6L323.9 154L323.3 146.8z" fill="#a6ff59"/>
<path d="M321.2 149.6L321.9 145L324.4 148.7L323.7 154z" fill="#84ff7b"/>
<path d="M321.6 145L322.3 143.5L324.8 146.6L324.1 148.7z" fill="#daff25"/>
<path d="M322.1 143.5L322.7 144.8L325.2 150.5L324.5 146.6z" fill="#cfff30"/>
<path d="M322.5 144.8L323.1 143.9L325.6 147.5L324.9 150.5z" fill="#c6ff39"/>
<path d="M322.9 143.9L323.5 144.7L326 151.1L325.3 147.5z" fill="#c0ff3f"/>
<path d="M323.3 144.7L323.9 151.1L326.4 156.4L325.7 151.1z" fill="#55ffaa"/>
<path d="M323.7 151.1L324.4 139.7L326.8 145.3L326.2 156.4z" fill="#9aff65"/>
<path d="M324.1 139.7L324.8 141.7L327.2 144.9L326.6 145.3z" fill="#ffdc00"/>
<path d="M324.5 141.7L325.2 146.3L327.6 148.4L327 144.9z" fill="#e2ff1d"/>
<path d="M324.9 146.3L325.6 144.2L328 147.7L327.4 148.4z" fill="#beff41"/>
<path d="M325.3 144.2L326 141.8L328.4 146.2L327.8 147.7z" fill="#e8ff17"/>
<path d="M325.7 141.8L326.4 147.2L328.9 148.8L328.2 146.2z" fill="#cbff34"/>
<path d="M326.2 147.2L326.8 143.8L329.3 148L328.6 148.8z" fill="#b1ff4e"/>
<path d="M326.6 143.8L327.2 145L329.7 148.9L329 148z" fill="#bdff42"/>
<path d="M327 145L327.6 144.4L330.1 149.2L329.4 148.9z" fill="#b0ff4f"/>
<path d="M327.4 144.4L328 147.3L330.5 150.4L329.8 149.2z" fill="#96ff69"/>
<path d="M327.8 147.3L328.5 144.7L330.9 149.3L330.2 150.4z" fill="#91ff6e"/>
<path d="M328.2 144.7L328.9 141.8L331.3 145.3L330.7 149.3z" fill="#d5ff2a"/>
<path d="M328.6 141.8L329.3 139.1L331.7 143.4L331.1 145.3z" fill="#ffdf00"/>
<path d="M329 139.1L329.7 141.3L332.1 146.6L331.5 143.4z" fill="#ffe500"/>
<path d="M329.4 141.3L330.1 144.2L332.5 146.3L331.9 146.6z" fill="#e3ff1c"/>
<path d="M329.8 144.2L330.5 144.8L333 147.6L332.3 146.3z" fill="#c4ff3b"/>
<path d="M330.3 144.8L330.9 143.2L333.4 146.5L332.7 147.6z" fill="#c7ff38"/>
<path d="M330.7 143.2L331.3 143L333.8 145.1L333.1 146.5z" fill="#e2ff1d"/>
<path d="M331.1 143L331.7 143.6L334.2 145.8L333.5 145.1z" fill="#e3ff1c"/>
<path d="M331.5 143.6L332.1 141.1L334.6 145.1L333.9 145.8z" fill="#eeff11"/>
<path d="M331.9 141.1L332.6 142.5L335 144.9L334.3 145.1z" fill="#faff05"/>
<path d="M250.8 157.8L251.4 155.3L253.9 158.8L253.2 160.4z" fill="#efff10"/>
<path d="M251.2 155.3L251.8 152.3L254.3 156.5L253.6 158.8z" fill="#ffd300"/>
<path d="M251.6 152.3L252.2 155.2L254.7 159.8L254 156.5z" fill="#ffda00"/>
<path d="M252 155.2L252.6 160.3L255.1 162.6L254.4 159.8z" fill="#c6ff39"/>
<path d="M252.4 160.3L253.1 155.3L255.5 156.2L254.9 162.6z" fill="#dbff24"/>
<path d="M252.8 155.3L253.5 158.7L255.9 161.7L255.3 156.2z" fill="#eaff15"/>
<path d="M253.2 158.7L253.9 150.7L256.3 157.2L255.7 161.7z" fill="#fffe00"/>
<path d="M253.6 150.7L254.3 162L256.7 167.5L256.1 157.2z" fill="#c3ff3c"/>
<path d="M254 162L254.7 155.5L257.1 154.8L256.5 167.5z" fill="#b2ff4d"/>
<path d="M254.4 155.5L255.1 152.8L257.6 157.5L256.9 154.8z" fill="#ffd000"/>
<path d="M254.9 152.8L255.5 150.1L258 151.7L257.3 157.5z" fill="#ff9a00"/>
<path d="M255.3 150.1L255.9 152.3L258.4 155.2L257.7 151.7z" fill="#ff8900"/>
<path d="M255.7 152.3L256.3 153L258.8 155.9L258.1 155.2z" fill="#ffb900"/>
<path d="M256.1 153L256.7 158L259.2 162.3L258.5 155.9z" fill="#f0ff0f"/>
<path d="M256.5 158L257.2 142.4L259.6 145.9L258.9 162.3z" fill="#ff8800"/>
<path d="M256.9 142.4L257.6 158.8L260 163.7L259.4 145.9z" fill="#ff9900"/>
<path d="M257.3 158.8L258 151.4L260.4 154.5L259.8 163.7z" fill="#f1ff0e"/>
<path d="M257.7 151.4L258.4 156.5L260.8 159.5L260.2 154.5z" fill="#ffe400"/>
<path d="M258.1 156.5L258.8 156.7L261.2 159.2L260.6 159.5z" fill="#d7ff28"/>
<path d="M258.5 156.7L259.2 153.9L261.7 160.7L261 159.2z" fill="#deff21"/>
<path d="M259 153.9L259.6 157.2L262.1 161.4L261.4 160.7z" fill="#caff35"/>
<path d="M259.4 157.2L260 151.4L262.5 154.4L261.8 161.4z" fill="#fffb00"/>
<path d="M259.8 151.4L260.4 153.5L262.9 159.4L262.2 154.4z" fill="#ffd700"/>
<path d="M260.2 153.5L260.8 150.7L263.3 153.2L262.6 159.4z" fill="#ffcc00"/>
<path d="M260.6 150.7L261.2 159.9L263.7 162.1L263 153.2z" fill="#f5ff0a"/>
<path d="M261 159.9L261.7 153L264.1 158.5L263.5 162.1z" fill="#c2ff3d"/>
<path d="M261.4 153L262.1 153.4L264.5 160.4L263.9 158.5z" fill="#f7ff08"/>
<path d="M261.8 153.4L262.5 151.9L264.9 154.9L264.3 160.4z" fill="#ffea00"/>
<path d="M262.2 151.9L262.9 160.8L265.3 166.4L264.7 154.9z" fill="#bbff44"/>
<path d="M262.6 160.8L263.3 152.6L265.8 155.8L265.1 166.4z" fill="#afff50"/>
<path d="M263 152.6L263.7 153L266.2 156.4L265.5 155.8z" fill="#ffdc00"/>
<path d="M263.5 153L264.1 157.3L266.6 161.1L265.9 156.4z" fill="#dfff20"/>
<path d="M263.9 157.3L264.5 153L267 156L266.3 161.1z" fill="#e0ff1f"/>
<path d="M264.3 153L264.9 152.9L267.4 154.4L266.7 156z" fill="#ffd700"/>
<path d="M264.7 152.9L265.3 147.5L267.8 152.5L267.1 154.4z" fill="#ff9e00"/>
<path d="M265.1 147.5L265.8 146.5L268.2 151L267.6 152.5z" fill="#ff5f00"/>
<path d="M265.5 146.5L266.2 152.9L268.6 156.7L268 151z" fill="#ffa000"/>
<path d="M265.9 152.9L266.6 154.9L269 156.3L268.4 156.7z" fill="#fffb00"/>
<path d="M266.3 154.9L267 153.4L269.4 155.7L268.8 156.3z" fill="#fff800"/>
<path d="M266.7 153.4L267.4 147.3L269.9 151.1L269.2 155.7z" fill="#ffa600"/>
<path d="M267.1 147.3L267.8 149.4L270.3 153.5L269.6 151.1z" fill="#ff7e00"/>
<path d="M267.6 149.4L268.2 153.4L270.7 156.9L270 153.5z" fill="#ffce00"/>
<path d="M268 153.4L268.6 152.8L271.1 155.4L270.4 156.9z" fill="#fff200"/>
<path d="M268.4 152.8L269 151.4L271.5 157.6L270.8 155.4z" fill="#ffeb00"/>
<path d="M268.8 151.4L269.4 153.1L271.9 156.5L271.2 157.6z" fill="#fff600"/>
<path d="M269.2 153.1L269.9 149.9L272.3 152.2L271.7 156.5z" fill="#ffca00"/>
<path d="M269.6 149.9L270.3 151.5L272.7 156.8L272.1 152.2z" fill="#ffc300"/>
<path d="M270 151.5L270.7 145.3L273.1 143.4L272.5 156.8z" fill="#ff6d00"/>
<path d="M270.4 145.3L271.1 153.4L273.5 157L272.9 143.4z" fill="#ff7c00"/>
<path d="M270.8 153.4L271.5 151.3L273.9 154.5L273.3 157z" fill="#ffee00"/>
<path d="M271.2 151.3L271.9 150.5L274.4 154.9L273.7 154.5z" fill="#ffce00"/>
<path d="M271.7 150.5L272.3 154L274.8 157.4L274.1 154.9z" fill="#fff500"/>
<path d="M272.1 154L272.7 147.8L275.2 153.6L274.5 157.4z" fill="#ffdc00"/>
<path d="M272.5 147.8L273.1 148.7L275.6 152.1L274.9 153.6z" fill="#ff9800"/>
<path d="M272.9 148.7L273.5 146.6L276 150.3L275.3 152.1z" fill="#ff7c00"/>
<path d="M273.3 146.6L274 155.4L276.4 158.2L275.7 150.3z" fill="#ffd100"/>
<path d="M273.7 155.4L274.4 149L276.8 149.9L276.2 158.2z" fill="#ffe000"/>
<path d="M274.1 149L274.8 151.6L277.2 153.7L276.6 149.9z" fill="#ffab00"/>
<path d="M274.5 151.6L275.2 150.6L277.6 155.4L277 153.7z" fill="#ffdb00"/>
<path d="M274.9 150.6L275.6 144.5L278 149.1L277.4 155.4z" fill="#ff9000"/>
<path d="M275.3 144.5L276 148.2L278.5 153.3L277.8 149.1z" fill="#ff7300"/>
<path d="M275.8 148.2L276.4 145.1L278.9 148.2L278.2 153.3z" fill="#ff7300"/>
<path d="M276.2 145.1L276.8 148.5L279.3 153.3L278.6 148.2z" fill="#ff7700"/>
<path d="M276.6 148.5L277.2 153.6L279.7 155.5L279 153.3z" fill="#ffe000"/>
<path d="M277 153.6L277.6 149.7L280.1 152.5L279.4 155.5z" fill="#ffe400"/>
<path d="M277.4 149.7L278 151.7L280.5 155.1L279.8 152.5z" fill="#ffd600"/>
<path d="M277.8 151.7L278.5 143L280.9 144.4L280.3 155.1z" fill="#ff7600"/>
<path d="M278.2 143L278.9 152.5L281.3 156.3L280.7 144.4z" fill="#ff8500"/>
<path d="M278.6 152.5L279.3 152L281.7 157.5L281.1 156.3z" fill="#e6ff19"/>
<path d="M279 152L279.7 138.3L282.1 143.9L281.5 157.5z" fill="#ff6b00"/>
<path d="M279.4 138.3L280.1 150.9L282.6 152.6L281.9 143.9z" fill="#ff4500"/>
<path d="M279.8 150.9L280.5 149.4L283 153.2L282.3 152.6z" fill="#ffcc00"/>
<path d="M280.3 149.4L280.9 145.2L283.4 148L282.7 153.2z" fill="#ff8900"/>
<path d="M280.7 145.2L281.3 148.4L283.8 151.8L283.1 148z" fill="#ff7b00"/>
<path d="M281.1 148.4L281.7 144.2L284.2 148L283.5 151.8z" fill="#ff7600"/>
<path d="M281.5 144.2L282.1 147.1L284.6 152.3L283.9 148z" fill="#ff7200"/>
<path d="M281.9 147.1L282.6 152.1L285 154.7L284.4 152.3z" fill="#ffd400"/>
<path d="M282.3 152.1L283 152.6L285.4 157.7L284.8 154.7z" fill="#e1ff1e"/>
<path d="M282.7 152.6L283.4 155.6L285.8 154.5L285.2 157.7z" fill="#caff35"/>
<path d="M283.1 155.6L283.8 150.8L286.2 154.6L285.6 154.5z" fill="#e9ff16"/>
<path d="M283.5 150.8L284.2 148.7L286.7 151.1L286 154.6z" fill="#ffd300"/>
<path d="M283.9 148.7L284.6 146.8L287.1 151L286.4 151.1z" fill="#ffa300"/>
<path d="M284.4 146.8L285 140.7L287.5 147.3L286.8 151z" fill="#ff5700"/>
<path d="M284.8 140.7L285.4 146.2L287.9 153.8L287.2 147.3z" fill="#ff6700"/>
<path d="M285.2 146.2L285.8 142.3L288.3 146L287.6 153.8z" fill="#ff6a00"/>
<path d="M285.6 142.3L286.2 148.4L288.7 152.5L288 146z" fill="#ff7100"/>
<path d="M286 148.4L286.7 147L289.1 152.7L288.5 152.5z" fill="#ffbe00"/>
<path d="M286.4 147L287.1 147.8L289.5 154.5L288.9 152.7z" fill="#ffc900"/>
<path d="M286.8 147.8L287.5 152.8L289.9 157.2L289.3 154.5z" fill="#f0ff0f"/>
<path d="M287.2 152.8L287.9 151.3L290.3 155.3L289.7 157.2z" fill="#d3ff2c"/>
<path d="M287.6 151.3L288.3 151.5L290.7 151L290.1 155.3z" fill="#fffc00"/>
<path d="M288 151.5L288.7 147.5L291.2 151.8L290.5 151z" fill="#ffce00"/>
<path d="M288.5 147.5L289.1 150.3L291.6 150.9L290.9 151.8z" fill="#ffc600"/>
<path d="M288.9 150.3L289.5 143.8L292 147.6L291.3 150.9z" fill="#ff9400"/>
<path d="M289.3 143.8L289.9 148L292.4 152.8L291.7 147.6z" fill="#ff9300"/>
<path d="M289.7 148L290.3 145.3L292.8 147.4L292.1 152.8z" fill="#ff9d00"/>
<path d="M290.1 145.3L290.8 141.1L293.2 146.2L292.5 147.4z" fill="#ff4600"/>
<path d="M290.5 141.1L291.2 145.8L293.6 151.9L293 146.2z" fill="#ff6900"/>
<path d="M290.9 145.8L291.6 146L294 151.1L293.4 151.9z" fill="#ffaa00"/>
<path d="M291.3 146L292 147L294.4 150L293.8 151.1z" fill="#ffa700"/>
<path d="M291.7 147L292.4 147.9L294.8 152.1L294.2 150z" fill="#ffbb00"/>
<path d="M292.1 147.9L292.8 143.2L295.3 149L294.6 152.1z" fill="#ff9d00"/>
<path d="M292.6 143.2L293.2 143.8L295.7 147.6L295 149z" fill="#ff6600"/>
<path d="M293 143.8L293.6 144.5L296.1 148.7L295.4 147.6z" fill="#ff6e00"/>
<path d="M293.4 144.5L294 145.7L296.5 147.7L295.8 148.7z" fill="#ff7d00"/>
<path d="M293.8 145.7L294.4 148L296.9 150.6L296.2 147.7z" fill="#ffa100"/>
<path d="M294.2 148L294.8 145.9L297.3 148.9L296.6 150.6z" fill="#ffac00"/>
<path d="M294.6 145.9L295.3 154.3L297.7 156.2L297.1 148.9z" fill="#fffb00"/>
<path d="M295 154.3L295.7 146.4L298.1 151.4L297.5 156.2z" fill="#edff12"/>
<path d="M295.4 146.4L296.1 147.1L298.5 150.5L297.9 151.4z" fill="#ffbe00"/>
<path d="M295.8 147.1L296.5 148.2L298.9 151.7L298.3 150.5z" fill="#ffcd00"/>
<path d="M296.2 148.2L296.9 143.5L299.4 148.7L298.7 151.7z" fill="#ffaa00"/>
<path d="M296.6 143.5L297.3 147.4L299.8 151.7L299.1 148.7z" fill="#ffa700"/>
<path d="M297.1 147.4L297.7 150.2L300.2 152.5L299.5 151.7z" fill="#ffed00"/>
<path d="M297.5 150.2L298.1 141.2L300.6 144.2L299.9 152.5z" fill="#ff9400"/>
<path d="M297.9 141.2L298.5 146.5L301 153.2L300.3 144.2z" fill="#ff8200"/>
<path d="M298.3 146.5L298.9 150.3L301.4 154.6L300.7 153.2z" fill="#f9ff06"/>
<path d="M298.7 150.3L299.4 145.1L301.8 147.9L301.2 154.6z" fill="#ffda00"/>
<path d="M299.1 145.1L299.8 152.7L302.2 156.5L301.6 147.9z" fill="#fff700"/>
<path d="M299.5 152.7L300.2 140.9L302.6 146.3L302 156.5z" fill="#ffd300"/>
<path d="M299.9 140.9L300.6 147L303 151.1L302.4 146.3z" fill="#ff8c00"/>
<path d="M300.3 147L301 147.7L303.5 149.2L302.8 151.1z" fill="#ffcd00"/>
<path d="M300.7 147.7L301.4 141L303.9 145.5L303.2 149.2z" fill="#ff8200"/>
<path d="M301.2 141L301.8 143.2L304.3 148.4L303.6 145.5z" fill="#ff6100"/>
<path d="M301.6 143.2L302.2 146.8L304.7 149.1L304 148.4z" fill="#ff9f00"/>
<path d="M302 146.8L302.6 144.2L305.1 146.7L304.4 149.1z" fill="#ff9c00"/>
<path d="M302.4 144.2L303 144.5L305.5 146.6L304.8 146.7z" fill="#ff7f00"/>
<path d="M302.8 144.5L303.5 145.5L305.9 148.7L305.3 146.6z" fill="#ff9600"/>
<path d="M303.2 145.5L303.9 149.1L306.3 152.4L305.7 148.7z" fill="#ffdb00"/>
<path d="M303.6 149.1L304.3 146.8L306.7 151.3L306.1 152.4z" fill="#fff700"/>
<path d="M304 146.8L304.7 143.7L307.1 150.8L306.5 151.3z" fill="#ffca00"/>
<path d="M304.4 143.7L305.1 146.5L307.5 151.6L306.9 150.8z" fill="#ffcc00"/>
<path d="M304.8 146.5L305.5 146.4L308 150.6L307.3 151.6z" fill="#ffde00"/>
<path d="M305.3 146.4L305.9 145.3L308.4 150.1L307.7 150.6z" fill="#ffce00"/>
<path d="M305.7 145.3L306.3 148L308.8 150.9L308.1 150.1z" fill="#ffdb00"/>
<path d="M306.1 148L306.7 149L309.2 152.9L308.5 150.9z" fill="#f7ff08"/>
<path d="M306.5 149L307.1 156.4L309.6 159.8L308.9 152.9z" fill="#84ff7b"/>
<path d="M306.9 156.4L307.6 149.3L310 153.2L309.3 159.8z" fill="#7fff80"/>
<path d="M307.3 149.3L308 143.8L310.4 150.6L309.8 153.2z" fill="#fff200"/>
<path d="M307.7 143.8L308.4 150.2L310.8 156.1L310.2 150.6z" fill="#f1ff0e"/>
<path d="M308.1 150.2L308.8 143.7L311.2 147L310.6 156.1z" fill="#fff600"/>
<path d="M308.5 143.7L309.2 145.2L311.6 150.4L311 147z" fill="#ffb100"/>
<path d="M308.9 145.2L309.6 146.5L312.1 152.1L311.4 150.4z" fill="#ffe600"/>
<path d="M309.4 146.5L310 150.4L312.5 151.2L311.8 152.1z" fill="#efff10"/>
<path d="M309.8 150.4L310.4 146.1L312.9 151.9L312.2 151.2z" fill="#f1ff0e"/>
<path d="M310.2 146.1L310.8 149.3L313.3 153.4L312.6 151.9z" fill="#e8ff17"/>
<path d="M310.6 149.3L311.2 148.6L313.7 156L313 153.4z" fill="#bcff43"/>
<path d="M311 148.6L311.6 148.2L314.1 149.4L313.4 156z" fill="#dcff23"/>
<path d="M311.4 148.2L312.1 146.1L314.5 148.2L313.9 149.4z" fill="#ffe000"/>
<path d="M311.8 146.1L312.5 145.4L314.9 150.2L314.3 148.2z" fill="#ffd400"/>
<path d="M312.2 145.4L312.9 153.3L315.3 154.3L314.7 150.2z" fill="#d1ff2e"/>
<path d="M312.6 153.3L313.3 142.2L315.7 148.3L315.1 154.3z" fill="#f1ff0e"/>
<path d="M313 142.2L313.7 152.5L316.2 152.6L315.5 148.3z" fill="#fffe00"/>
<path d="M313.4 152.5L314.1 147.5L316.6 152.9L315.9 152.6z" fill="#beff41"/>
<path d="M313.9 147.5L314.5 146L317 151.6L316.3 152.9z" fill="#eeff11"/>
<path d="M314.3 146L314.9 149.7L317.4 150.8L316.7 151.6z" fill="#ebff14"/>
<path d="M314.7 149.7L315.3 149L317.8 152.7L317.1 150.8z" fill="#ceff31"/>
<path d="M315.1 149L315.7 149.2L318.2 152.7L317.5 152.7z" fill="#c4ff3b"/>
<path d="M315.5 149.2L316.2 151.4L318.6 157.3L318 152.7z" fill="#95ff6a"/>
<path d="M315.9 151.4L316.6 148.2L319 150.4L318.4 157.3z" fill="#a9ff56"/>
<path d="M316.3 148.2L317 149L319.4 152L318.8 150.4z" fill="#daff25"/>
<path d="M316.7 149L317.4 147.1L319.8 150.7L319.2 152z" fill="#ddff22"/>
<path d="M317.1 147.1L317.8 146.5L320.3 149.5L319.6 150.7z" fill="#fdff02"/>
<path d="M317.5 146.5L318.2 145.3L320.7 149.8L320 149.5z" fill="#fff100"/>
<path d="M318 145.3L318.6 146.2L321.1 152L320.4 149.8z" fill="#feff01"/>
<path d="M318.4 146.2L319 156.3L321.5 164.1L320.8 152z" fill="#57ffa8"/>
<path d="M318.8 156.3L319.4 151L321.9 153.9L321.2 164.1z" fill="#29ffd6"/>
<path d="M319.2 151L319.8 142.7L322.3 146.4L321.6 153.9z" fill="#f4ff0b"/>
<path d="M319.6 142.7L320.3 147.8L322.7 152.8L322.1 146.4z" fill="#fff000"/>
<path d="M320 147.8L320.7 150.9L323.1 154.4L322.5 152.8z" fill="#a3ff5c"/>
<path d="M320.4 150.9L321.1 149.3L323.5 153.9L322.9 154.4z" fill="#91ff6e"/>
<path d="M320.8 149.3L321.5 147.5L323.9 149.6L323.3 153.9z" fill="#c5ff3a"/>
<path d="M321.2 147.5L321.9 143.3L324.3 150.5L323.7 149.6z" fill="#fffd00"/>
<path d="M321.6 143.3L322.3 147.9L324.8 149.4L324.1 150.5z" fill="#feff01"/>
<path d="M322.1 147.9L322.7 148L325.2 152.8L324.5 149.4z" fill="#cfff30"/>
<path d="M322.5 148L323.1 148.2L325.6 148.2L324.9 152.8z" fill="#d3ff2c"/>
<path d="M322.9 148.2L323.5 146.3L326 149.9L325.3 148.2z" fill="#efff10"/>
<path d="M323.3 146.3L323.9 153.5L326.4 157.9L325.7 149.9z" fill="#8cff73"/>
<path d="M323.7 153.5L324.4 148.2L326.8 149.5L326.1 157.9z" fill="#81ff7e"/>
<path d="M324.1 148.2L324.8 146.1L327.2 152.9L326.6 149.5z" fill="#d0ff2f"/>
<path d="M324.5 146.1L325.2 150L327.6 156.4L327 152.9z" fill="#96ff69"/>
<path d="M324.9 150L325.6 147L328 151.3L327.4 156.4z" fill="#99ff66"/>
<path d="M325.3 147L326 150.6L328.4 154.4L327.8 151.3z" fill="#a1ff5e"/>
<path d="M325.7 150.6L326.4 155.9L328.9 162.2L328.2 154.4z" fill="#1dffe2"/>
<path d="M326.2 155.9L326.8 144.8L329.3 147.2L328.6 162.2z" fill="#71ff8e"/>
<path d="M326.6 144.8L327.2 144.4L329.7 149.2L329 147.2z" fill="#ffee00"/>
<path d="M327 144.4L327.6 147.9L330.1 151.7L329.4 149.2z" fill="#ddff22"/>
<path d="M327.4 147.9L328 147.2L330.5 153.5L329.8 151.7z" fill="#adff52"/>
<path d="M327.8 147.2L328.4 145.7L330.9 149.7L330.2 153.5z" fill="#c7ff38"/>
<path d="M328.2 145.7L328.9 148.3L331.3 153.8L330.7 149.7z" fill="#bcff43"/>
<path d="M328.6 148.3L329.3 147.5L331.7 151.7L331.1 153.8z" fill="#a2ff5d"/>
<path d="M329 147.5L329.7 148.4L332.1 152.1L331.5 151.7z" fill="#abff54"/>
<path d="M329.4 148.4L330.1 148.7L332.5 153.2L331.9 152.1z" fill="#99ff66"/>
<path d="M329.8 148.7L330.5 149.9L333 153L332.3 153.2z" fill="#87ff78"/>
<path d="M330.2 149.9L330.9 148.8L333.4 153.8L332.7 153z" fill="#81ff7e"/>
<path d="M330.7 148.8L331.3 144.8L333.8 147.4L333.1 153.8z" fill="#c6ff39"/>
<path d="M331.1 144.8L331.7 142.9L334.2 146L333.5 147.4z" fill="#ffe000"/>
<path d="M331.5 142.9L332.1 146.1L334.6 149.8L333.9 146z" fill="#fffa00"/>
<path d="M331.9 146.1L332.5 145.8L335 149L334.3 149.8z" fill="#dcff23"/>
<path d="M332.3 145.8L333 147.1L335.4 149.6L334.8 149z" fill="#d5ff2a"/>
<path d="M332.7 147.1L333.4 146L335.8 148.4L335.2 149.6z" fill="#d7ff28"/>
<path d="M333.1 146L333.8 144.6L336.2 147.4L335.6 148.4z" fill="#f4ff0b"/>
<path d="M333.5 144.6L334.2 145.3L336.6 147.8L336 147.4z" fill="#fcff03"/>
<path d="M333.9 145.3L334.6 144.6L337.1 147.1L336.4 147.8z" fill="#fcff03"/>
<path d="M334.3 144.6L335 144.4L337.5 146.8L336.8 147.1z" fill="#fff700"/>
<path d="M253.2 159.9L253.9 158.3L256.3 162.6L255.7 162.1z" fill="#f4ff0b"/>
<path d="M253.6 158.3L254.3 156L256.7 159.4L256.1 162.6z" fill="#ffe100"/>
<path d="M254 156L254.7 159.3L257.1 160.6L256.5 159.4z" fill="#ffdc00"/>
<path d="M254.4 159.3L255.1 162.1L257.6 166.9L256.9 160.6z" fill="#c7ff38"/>
<path d="M254.9 162.1L255.5 155.7L258 158.2L257.3 166.9z" fill="#edff12"/>
<path d="M255.3 155.7L255.9 161.2L258.4 163.3L257.7 158.2z" fill="#fff500"/>
<path d="M255.7 161.2L256.3 156.7L258.8 159.5L258.1 163.3z" fill="#f8ff07"/>
<path d="M256.1 156.7L256.7 167L259.2 167.7L258.5 159.5z" fill="#b5ff4a"/>
<path d="M256.5 167L257.1 154.3L259.6 158.4L258.9 167.7z" fill="#caff35"/>
<path d="M256.9 154.3L257.6 157L260 162.3L259.4 158.4z" fill="#ffd000"/>
<path d="M257.3 157L258 151.2L260.4 158.2L259.8 162.3z" fill="#ffbc00"/>
<path d="M257.7 151.2L258.4 154.7L260.8 159.8L260.2 158.2z" fill="#ff9e00"/>
<path d="M258.1 154.7L258.8 155.4L261.2 159.9L260.6 159.8z" fill="#ffc700"/>
<path d="M258.5 155.4L259.2 161.8L261.7 165L261 159.9z" fill="#e6ff19"/>
<path d="M258.9 161.8L259.6 145.4L262.1 153.6L261.4 165z" fill="#ffaf00"/>
<path d="M259.4 145.4L260 163.2L262.5 164.3L261.8 153.6z" fill="#ffb500"/>
<path d="M259.8 163.2L260.4 154L262.9 159.4L262.2 164.3z" fill="#e9ff16"/>
<path d="M260.2 154L260.8 159L263.3 164.4L262.6 159.4z" fill="#fffb00"/>
<path d="M260.6 159L261.2 158.7L263.7 163.8L263 164.4z" fill="#c6ff39"/>
<path d="M261 158.7L261.7 160.2L264.1 163.1L263.5 163.8z" fill="#c4ff3b"/>
<path d="M261.4 160.2L262.1 160.9L264.5 162.6L263.9 163.1z" fill="#bcff43"/>
<path d="M261.8 160.9L262.5 153.9L264.9 157L264.3 162.6z" fill="#fff200"/>
<path d="M262.2 153.9L262.9 158.9L265.3 161.8L264.7 157z" fill="#ffe100"/>
<path d="M262.6 158.9L263.3 152.7L265.8 159.1L265.1 161.8z" fill="#ffe800"/>
<path d="M263 152.7L263.7 161.6L266.2 166.3L265.5 159.1z" fill="#e5ff1a"/>
<path d="M263.5 161.6L264.1 158L266.6 162.2L265.9 166.3z" fill="#acff53"/>
<path d="M263.9 158L264.5 159.9L267 163.5L266.3 162.2z" fill="#c8ff37"/>
<path d="M264.3 159.9L264.9 154.4L267.4 155.2L266.7 163.5z" fill="#fff200"/>
<path d="M264.7 154.4L265.3 165.9L267.8 168.1L267.1 155.2z" fill="#c5ff3a"/>
<path d="M265.1 165.9L265.8 155.3L268.2 159.4L267.6 168.1z" fill="#a3ff5c"/>
<path d="M265.5 155.3L266.2 155.9L268.6 159.7L268 159.4z" fill="#ffe400"/>
<path d="M265.9 155.9L266.6 160.6L269 162.8L268.4 159.7z" fill="#dfff20"/>
<path d="M266.3 160.6L267 155.5L269.4 157.4L268.8 162.8z" fill="#f0ff0f"/>
<path d="M266.7 155.5L267.4 153.9L269.8 156.9L269.2 157.4z" fill="#ffbd00"/>
<path d="M267.1 153.9L267.8 152L270.3 157L269.6 156.9z" fill="#ffa500"/>
<path d="M267.6 152L268.2 150.5L270.7 154.8L270 157z" fill="#ff8300"/>
<path d="M268 150.5L268.6 156.2L271.1 160.6L270.4 154.8z" fill="#ffb800"/>
<path d="M268.4 156.2L269 155.8L271.5 161.2L270.8 160.6z" fill="#f8ff07"/>
<path d="M268.8 155.8L269.4 155.2L271.9 161.3L271.2 161.2z" fill="#f9ff06"/>
<path d="M269.2 155.2L269.9 150.6L272.3 154.9L271.6 161.3z" fill="#ffba00"/>
<path d="M269.6 150.6L270.3 153L272.7 154.6L272.1 154.9z" fill="#ff8200"/>
<path d="M270 153L270.7 156.4L273.1 156.5L272.5 154.6z" fill="#ffb400"/>
<path d="M270.4 156.4L271.1 154.9L273.5 163.1L272.9 156.5z" fill="#fffa00"/>
<path d="M270.8 154.9L271.5 157.1L273.9 162.2L273.3 163.1z" fill="#d9ff26"/>
<path d="M271.2 157.1L271.9 156L274.4 160.4L273.7 162.2z" fill="#e2ff1d"/>
<path d="M271.7 156L272.3 151.7L274.8 156.7L274.1 160.4z" fill="#ffd600"/>
<path d="M272.1 151.7L272.7 156.3L275.2 157.9L274.5 156.7z" fill="#ffc900"/>
<path d="M272.5 156.3L273.1 142.9L275.6 148.8L274.9 157.9z" fill="#ff5d00"/>
<path d="M272.9 142.9L273.5 156.5L276 157.5L275.3 148.8z" fill="#ff5e00"/>
<path d="M273.3 156.5L273.9 154L276.4 156.5L275.7 157.5z" fill="#ffda00"/>
<path d="M273.7 154L274.4 154.4L276.8 156.5L276.2 156.5z" fill="#ffc700"/>
<path d="M274.1 154.4L274.8 156.9L277.2 159.6L276.6 156.5z" fill="#fff000"/>
<path d="M274.5 156.9L275.2 153.1L277.6 159.5L277 159.6z" fill="#fffc00"/>
<path d="M274.9 153.1L275.6 151.6L278 157.4L277.4 159.5z" fill="#ffcd00"/>
<path d="M275.3 151.6L276 149.8L278.5 154.8L277.8 157.4z" fill="#ff9a00"/>
<path d="M275.7 149.8L276.4 157.7L278.9 159L278.2 154.8z" fill="#ffce00"/>
<path d="M276.2 157.7L276.8 149.4L279.3 155.2L278.6 159z" fill="#ffd000"/>
<path d="M276.6 149.4L277.2 153.2L279.7 157.1L279 155.2z" fill="#ffa700"/>
<path d="M277 153.2L277.6 154.9L280.1 156.2L279.4 157.1z" fill="#ffd300"/>
<path d="M277.4 154.9L278 148.6L280.5 152L279.8 156.2z" fill="#ff9500"/>
<path d="M277.8 148.6L278.5 152.8L280.9 156.7L280.3 152z" fill="#ff8c00"/>
<path d="M278.2 152.8L278.9 147.7L281.3 152.4L280.7 156.7z" fill="#ff8a00"/>
<path d="M278.6 147.7L279.3 152.8L281.7 155.2L281.1 152.4z" fill="#ff8200"/>
<path d="M279 152.8L279.7 155L282.1 156.8L281.5 155.2z" fill="#ffd000"/>
<path d="M279.4 155L280.1 152L282.6 156.5L281.9 156.8z" fill="#ffd400"/>
<path d="M279.8 152L280.5 154.6L283 161L282.3 156.5z" fill="#ffef00"/>
<path d="M280.3 154.6L280.9 143.9L283.4 151.5L282.7 161z" fill="#ff9b00"/>
<path d="M280.7 143.9L281.3 155.8L283.8 158.9L283.1 151.5z" fill="#ff9700"/>
<path d="M281.1 155.8L281.7 157L284.2 161.2L283.5 158.9z" fill="#d0ff2f"/>
<path d="M281.5 157L282.1 143.4L284.6 146.8L283.9 161.2z" fill="#ff8e00"/>
<path d="M281.9 143.4L282.6 152.1L285 155.9L284.4 146.8z" fill="#ff4c00"/>
<path d="M282.3 152.1L283 152.7L285.4 158.2L284.8 155.9z" fill="#ffd600"/>
<path d="M282.7 152.7L283.4 147.5L285.8 151.4L285.2 158.2z" fill="#ff9c00"/>
<path d="M283.1 147.5L283.8 151.3L286.2 156.5L285.6 151.4z" fill="#ff8900"/>
<path d="M283.5 151.3L284.2 147.5L286.6 152.5L286 156.5z" fill="#ff9100"/>
<path d="M283.9 147.5L284.6 151.8L287.1 156.1L286.4 152.5z" fill="#ff9300"/>
<path d="M284.4 151.8L285 154.2L287.5 157.3L286.8 156.1z" fill="#ffe000"/>
<path d="M284.8 154.2L285.4 157.2L287.9 162.6L287.2 157.3z" fill="#cfff30"/>
<path d="M285.2 157.2L285.8 154L288.3 158.2L287.6 162.6z" fill="#c9ff36"/>
<path d="M285.6 154L286.2 154.1L288.7 156.8L288 158.2z" fill="#fffd00"/>
<path d="M286 154.1L286.7 150.6L289.1 154.8L288.4 156.8z" fill="#ffd200"/>
<path d="M286.4 150.6L287.1 150.5L289.5 153.7L288.9 154.8z" fill="#ffa700"/>
<path d="M286.8 150.5L287.5 146.8L289.9 152L289.3 153.7z" fill="#ff7e00"/>
<path d="M287.2 146.8L287.9 153.3L290.3 156.6L289.7 152z" fill="#ffa500"/>
<path d="M287.6 153.3L288.3 145.5L290.7 151.9L290.1 156.6z" fill="#ff9d00"/>
<path d="M288 145.5L288.7 152L291.2 154.1L290.5 151.9z" fill="#ff8500"/>
<path d="M288.5 152L289.1 152.2L291.6 153.2L290.9 154.1z" fill="#ffbb00"/>
<path d="M288.9 152.2L289.5 154L292 157.5L291.3 153.2z" fill="#ffe100"/>
<path d="M289.3 154L289.9 156.7L292.4 162L291.7 157.5z" fill="#c5ff3a"/>
<path d="M289.7 156.7L290.3 154.8L292.8 157.5L292.1 162z" fill="#bfff40"/>
<path d="M290.1 154.8L290.7 150.5L293.2 159L292.5 157.5z" fill="#f9ff06"/>
<path d="M290.5 150.5L291.2 151.3L293.6 157.1L293 159z" fill="#ffed00"/>
<path d="M290.9 151.3L291.6 150.4L294 152L293.4 157.1z" fill="#ffc000"/>
<path d="M291.3 150.4L292 147.1L294.4 152L293.8 152z" fill="#ff8400"/>
<path d="M291.7 147.1L292.4 152.3L294.8 157.3L294.2 152z" fill="#ffb500"/>
<path d="M292.1 152.3L292.8 146.9L295.3 153.7L294.6 157.3z" fill="#ffc100"/>
<path d="M292.5 146.9L293.2 145.7L295.7 151.7L295 153.7z" fill="#ff7200"/>
<path d="M293 145.7L293.6 151.4L296.1 152.2L295.4 151.7z" fill="#ff8700"/>
<path d="M293.4 151.4L294 150.6L296.5 157.5L295.8 152.2z" fill="#ffce00"/>
<path d="M293.8 150.6L294.4 149.5L296.9 152.5L296.2 157.5z" fill="#ffc600"/>
<path d="M294.2 149.5L294.8 151.6L297.3 154.4L296.6 152.5z" fill="#ffb900"/>
<path d="M294.6 151.6L295.3 148.5L297.7 152.6L297.1 154.4z" fill="#ffb400"/>
<path d="M295 148.5L295.7 147.1L298.1 149.6L297.5 152.6z" fill="#ff7900"/>
<path d="M295.4 147.1L296.1 148.2L298.5 152.5L297.9 149.6z" fill="#ff7800"/>
<path d="M295.8 148.2L296.5 147.2L298.9 153L298.3 152.5z" fill="#ff9000"/>
<path d="M296.2 147.2L296.9 150.1L299.4 155.6L298.7 153z" fill="#ffb200"/>
<path d="M296.6 150.1L297.3 148.4L299.8 153L299.1 155.6z" fill="#ffbc00"/>
<path d="M297.1 148.4L297.7 155.7L300.2 158.2L299.5 153z" fill="#fff300"/>
<path d="M297.5 155.7L298.1 150.9L300.6 152.4L299.9 158.2z" fill="#fdff02"/>
<path d="M297.9 150.9L298.5 150L301 155.3L300.3 152.4z" fill="#ffca00"/>
<path d="M298.3 150L298.9 151.2L301.4 155.7L300.7 155.3z" fill="#ffe300"/>
<path d="M298.7 151.2L299.4 148.2L301.8 153.1L301.2 155.7z" fill="#ffca00"/>
<path d="M299.1 148.2L299.8 151.2L302.2 154.6L301.6 153.1z" fill="#ffc400"/>
<path d="M299.5 151.2L300.2 152L302.6 155.3L302 154.6z" fill="#ffed00"/>
<path d="M299.9 152L300.6 143.7L303 148L302.4 155.3z" fill="#ff9200"/>
<path d="M300.3 143.7L301 152.7L303.4 151.6L302.8 148z" fill="#ff8000"/>
<path d="M300.7 152.7L301.4 154.1L303.9 159.7L303.2 151.6z" fill="#ebff14"/>
<path d="M301.2 154.1L301.8 147.4L304.3 152L303.6 159.7z" fill="#fff500"/>
<path d="M301.6 147.4L302.2 156L304.7 158.9L304 152z" fill="#fffd00"/>
<path d="M302 156L302.6 145.8L305.1 151L304.4 158.9z" fill="#ffed00"/>
<path d="M302.4 145.8L303 150.6L305.5 153.8L304.8 151z" fill="#ffaa00"/>
<path d="M302.8 150.6L303.5 148.7L305.9 151.4L305.2 153.8z" fill="#ffc100"/>
<path d="M303.2 148.7L303.9 145L306.3 150L305.7 151.4z" fill="#ff8400"/>
<path d="M303.6 145L304.3 147.9L306.7 152.8L306.1 150z" fill="#ff8a00"/>
<path d="M304 147.9L304.7 148.6L307.1 149.3L306.5 152.8z" fill="#ff9e00"/>
<path d="M304.4 148.6L305.1 146.2L307.5 154L306.9 149.3z" fill="#ff9c00"/>
<path d="M304.8 146.2L305.5 146.1L308 150.4L307.3 154z" fill="#ff9500"/>
<path d="M305.3 146.1L305.9 148.2L308.4 148.6L307.7 150.4z" fill="#ff8000"/>
<path d="M305.7 148.2L306.3 151.9L308.8 155.5L308.1 148.6z" fill="#ffc900"/>
<path d="M306.1 151.9L306.7 150.8L309.2 153.6L308.5 155.5z" fill="#fffc00"/>
<path d="M306.5 150.8L307.1 150.3L309.6 154.5L308.9 153.6z" fill="#ffed00"/>
<path d="M306.9 150.3L307.5 151.1L310 153.7L309.3 154.5z" fill="#fff100"/>
<path d="M307.3 151.1L308 150.1L310.4 155.5L309.8 153.7z" fill="#fff800"/>
<path d="M307.7 150.1L308.4 149.6L310.8 154.4L310.2 155.5z" fill="#fff400"/>
<path d="M308.1 149.6L308.8 150.4L311.2 156.1L310.6 154.4z" fill="#fffc00"/>
<path d="M308.5 150.4L309.2 152.4L311.6 158L311 156.1z" fill="#d7ff28"/>
<path d="M308.9 152.4L309.6 159.3L312.1 163.7L311.4 158z" fill="#6aff95"/>
<path d="M309.3 159.3L310 152.7L312.5 155.3L311.8 163.7z" fill="#78ff87"/>
<path d="M309.8 152.7L310.4 150.1L312.9 152.8L312.2 155.3z" fill="#faff05"/>
<path d="M310.2 150.1L310.8 155.6L313.3 159.1L312.6 152.8z" fill="#cdff32"/>
<path d="M310.6 155.6L311.2 146.5L313.7 149.2L313 159.1z" fill="#faff05"/>
<path d="M311 146.5L311.6 149.9L314.1 153.1L313.4 149.2z" fill="#ffb900"/>
<path d="M311.4 149.9L312.1 151.6L314.5 155.4L313.9 153.1z" fill="#f9ff06"/>
<path d="M311.8 151.6L312.5 150.7L314.9 154.3L314.3 155.4z" fill="#ebff14"/>
<path d="M312.2 150.7L312.9 151.4L315.3 155.3L314.7 154.3z" fill="#ecff13"/>
<path d="M312.6 151.4L313.3 152.9L315.7 158.6L315.1 155.3z" fill="#c0ff3f"/>
<path d="M313 152.9L313.7 155.5L316.2 157.7L315.5 158.6z" fill="#93ff6c"/>
<path d="M313.4 155.5L314.1 148.9L316.6 156.5L315.9 157.7z" fill="#baff45"/>
<path d="M313.9 148.9L314.5 147.7L317 154.4L316.3 156.5z" fill="#fffd00"/>
<path d="M314.3 147.7L314.9 149.7L317.4 155.7L316.7 154.4z" fill="#fffe00"/>
<path d="M314.7 149.7L315.3 153.8L317.8 158.9L317.1 155.7z" fill="#baff45"/>
<path d="M315.1 153.8L315.7 147.8L318.2 152.3L317.5 158.9z" fill="#dbff24"/>
<path d="M315.5 147.8L316.2 152.1L318.6 155.9L318 152.3z" fill="#f8ff07"/>
<path d="M315.9 152.1L316.6 152.4L319 157L318.4 155.9z" fill="#baff45"/>
<path d="M316.3 152.4L317 151.1L319.4 153.9L318.8 157z" fill="#ccff33"/>
<path d="M316.7 151.1L317.4 150.3L319.8 154.2L319.2 153.9z" fill="#eaff15"/>
<path d="M317.1 150.3L317.8 152.2L320.2 158.4L319.6 154.2z" fill="#c4ff3b"/>
<path d="M317.5 152.2L318.2 152.2L320.7 155.8L320 158.4z" fill="#acff53"/>
<path d="M318 152.2L318.6 156.8L321.1 159.2L320.4 155.8z" fill="#87ff78"/>
<path d="M318.4 156.8L319 149.9L321.5 156.2L320.8 159.2z" fill="#92ff6d"/>
<path d="M318.8 149.9L319.4 151.5L321.9 153.9L321.2 156.2z" fill="#d6ff29"/>
<path d="M319.2 151.5L319.8 150.2L322.3 153.4L321.6 153.9z" fill="#e4ff1b"/>
<path d="M319.6 150.2L320.3 149L322.7 155.5L322 153.4z" fill="#e8ff17"/>
<path d="M320 149L320.7 149.3L323.1 150.8L322.5 155.5z" fill="#feff01"/>
<path d="M320.4 149.3L321.1 151.5L323.5 154.4L322.9 150.8z" fill="#f4ff0b"/>
<path d="M320.8 151.5L321.5 163.6L323.9 167.5L323.3 154.4z" fill="#28ffd7"/>
<path d="M321.2 163.6L321.9 153.4L324.3 156.9L323.7 167.5z" fill="#09fff6"/>
<path d="M321.6 153.4L322.3 145.9L324.8 151.7L324.1 156.9z" fill="#e3ff1c"/>
<path d="M322.1 145.9L322.7 152.3L325.2 157.8L324.5 151.7z" fill="#e2ff1d"/>
<path d="M322.5 152.3L323.1 153.9L325.6 156.2L324.9 157.8z" fill="#8fff70"/>
<path d="M322.9 153.9L323.5 153.4L326 160.7L325.3 156.2z" fill="#74ff8b"/>
<path d="M323.3 153.4L323.9 149.1L326.4 153.8L325.7 160.7z" fill="#a2ff5d"/>
<path d="M323.7 149.1L324.3 150L326.8 152.8L326.1 153.8z" fill="#eaff15"/>
<path d="M324.1 150L324.8 148.9L327.2 151.6L326.6 152.8z" fill="#f8ff07"/>
<path d="M324.5 148.9L325.2 152.3L327.6 157.5L327 151.6z" fill="#c9ff36"/>
<path d="M324.9 152.3L325.6 147.7L328 151.6L327.4 157.5z" fill="#cfff30"/>
<path d="M325.3 147.7L326 149.4L328.4 152.9L327.8 151.6z" fill="#ffff00"/>
<path d="M325.7 149.4L326.4 157.4L328.9 156.9L328.2 152.9z" fill="#9bff64"/>
<path d="M326.1 157.4L326.8 149L329.3 154L328.6 156.9z" fill="#96ff69"/>
<path d="M326.6 149L327.2 152.4L329.7 155.4L329 154z" fill="#beff41"/>
<path d="M327 152.4L327.6 155.9L330.1 157.6L329.4 155.4z" fill="#77ff88"/>
<path d="M327.4 155.9L328 150.8L330.5 154.8L329.8 157.6z" fill="#85ff7a"/>
<path d="M327.8 150.8L328.4 153.9L330.9 155.9L330.2 154.8z" fill="#9cff63"/>
<path d="M328.2 153.9L328.9 161.7L331.3 164.4L330.7 155.9z" fill="#14ffeb"/>
<path d="M328.6 161.7L329.3 146.7L331.7 153.9L331.1 164.4z" fill="#4fffb0"/>
<path d="M329 146.7L329.7 148.7L332.1 150.5L331.5 153.9z" fill="#fdff02"/>
<path d="M329.4 148.7L330.1 151.2L332.5 157.2L331.9 150.5z" fill="#c8ff37"/>
<path d="M329.8 151.2L330.5 153L333 158.5L332.3 157.2z" fill="#76ff89"/>
<path d="M330.2 153L330.9 149.2L333.4 155.5L332.7 158.5z" fill="#8eff71"/>
<path d="M330.7 149.2L331.3 153.3L333.8 159L333.1 155.5z" fill="#87ff78"/>
<path d="M331.1 153.3L331.7 151.2L334.2 153.1L333.5 159z" fill="#87ff78"/>
<path d="M331.5 151.2L332.1 151.6L334.6 153.7L333.9 153.1z" fill="#b4ff4b"/>
<path d="M331.9 151.6L332.5 152.7L335 155.7L334.3 153.7z" fill="#98ff67"/>
<path d="M332.3 152.7L333 152.5L335.4 155.7L334.8 155.7z" fill="#84ff7b"/>
<path d="M332.7 152.5L333.4 153.3L335.8 155.2L335.2 155.7z" fill="#82ff7d"/>
<path d="M333.1 153.3L333.8 146.9L336.2 150.1L335.6 155.2z" fill="#caff35"/>
<path d="M333.5 146.9L334.2 145.5L336.6 151.6L336 150.1z" fill="#ffeb00"/>
<path d="M333.9 145.5L334.6 149.3L337 152.3L336.4 151.6z" fill="#f3ff0c"/>
<path d="M334.3 149.3L335 148.5L337.5 152.6L336.8 152.3z" fill="#d8ff27"/>
<path d="M334.8 148.5L335.4 149.1L337.9 151.7L337.2 152.6z" fill="#dcff23"/>
<path d="M335.2 149.1L335.8 147.9L338.3 150.3L337.6 151.7z" fill="#edff12"/>
<path d="M335.6 147.9L336.2 146.9L338.7 149.7L338 150.3z" fill="#fff700"/>
<path d="M336 146.9L336.6 147.3L339.1 150.3L338.4 149.7z" fill="#fff400"/>
<path d="M336.4 147.3L337.1 146.6L339.5 149.4L338.8 150.3z" fill="#fff300"/>
<path d="M336.8 146.6L337.5 146.3L339.9 149L339.3 149.4z" fill="#ffe400"/>
<path d="M255.7 161.6L256.3 162.1L258.8 166.7L258.1 167.7z" fill="#d9ff26"/>
<path d="M256.1 162.1L256.7 158.9L259.2 162.7L258.5 166.7z" fill="#fff300"/>
<path d="M256.5 158.9L257.1 160.1L259.6 165.3L258.9 162.7z" fill="#ffdf00"/>
<path d="M256.9 160.1L257.6 166.4L260 170.5L259.4 165.3z" fill="#b9ff46"/>
<path d="M257.3 166.4L258 157.7L260.4 165.3L259.8 170.5z" fill="#c8ff37"/>
<path d="M257.7 157.7L258.4 162.8L260.8 166L260.2 165.3z" fill="#fbff04"/>
<path d="M258.1 162.8L258.8 159L261.2 162.8L260.6 166z" fill="#fffd00"/>
<path d="M258.5 159L259.2 167.2L261.7 167.4L261 162.8z" fill="#daff25"/>
<path d="M258.9 167.2L259.6 157.9L262.1 164.6L261.4 167.4z" fill="#d5ff2a"/>
<path d="M259.4 157.9L260 161.8L262.5 165.5L261.8 164.6z" fill="#fffb00"/>
<path d="M259.8 161.8L260.4 157.7L262.9 159L262.2 165.5z" fill="#ffd600"/>
<path d="M260.2 157.7L260.8 159.3L263.3 164.1L262.6 159z" fill="#ffbe00"/>
<path d="M260.6 159.3L261.2 159.4L263.7 162.1L263 164.1z" fill="#ffe000"/>
<path d="M261 159.4L261.7 164.5L264.1 167.1L263.5 162.1z" fill="#e8ff17"/>
<path d="M261.4 164.5L262.1 153.1L264.5 156.7L263.9 167.1z" fill="#ffcb00"/>
<path d="M261.8 153.1L262.5 163.8L264.9 167.9L264.3 156.7z" fill="#ffcd00"/>
<path d="M262.2 163.8L262.9 158.9L265.3 160.8L264.7 167.9z" fill="#eeff11"/>
<path d="M262.6 158.9L263.3 163.9L265.7 164.4L265.1 160.8z" fill="#fffb00"/>
<path d="M263 163.9L263.7 163.3L266.2 167.5L265.5 164.4z" fill="#b9ff46"/>
<path d="M263.5 163.3L264.1 162.6L266.6 166.4L265.9 167.5z" fill="#b3ff4c"/>
<path d="M263.9 162.6L264.5 162.1L267 165L266.3 166.4z" fill="#c9ff36"/>
<path d="M264.3 162.1L264.9 156.5L267.4 162.7L266.7 165z" fill="#fff500"/>
<path d="M264.7 156.5L265.3 161.3L267.8 162.8L267.1 162.7z" fill="#ffe300"/>
<path d="M265.1 161.3L265.8 158.6L268.2 158.4L267.5 162.8z" fill="#ffd600"/>
<path d="M265.5 158.6L266.2 165.8L268.6 172.4L268 158.4z" fill="#caff35"/>
<path d="M265.9 165.8L266.6 161.7L269 163.5L268.4 172.4z" fill="#93ff6c"/>
<path d="M266.3 161.7L267 163L269.4 165.8L268.8 163.5z" fill="#ceff31"/>
<path d="M266.7 163L267.4 154.7L269.8 157L269.2 165.8z" fill="#ffd900"/>
<path d="M267.1 154.7L267.8 167.6L270.3 170L269.6 157z" fill="#e9ff16"/>
<path d="M267.6 167.6L268.2 158.9L270.7 162.7L270 170z" fill="#a8ff57"/>
<path d="M268 158.9L268.6 159.2L271.1 162L270.4 162.7z" fill="#ffec00"/>
<path d="M268.4 159.2L269 162.3L271.5 166.2L270.8 162z" fill="#e3ff1c"/>
<path d="M268.8 162.3L269.4 156.9L271.9 160.2L271.2 166.2z" fill="#fcff03"/>
<path d="M269.2 156.9L269.8 156.4L272.3 162.5L271.6 160.2z" fill="#ffc400"/>
<path d="M269.6 156.4L270.3 156.5L272.7 160L272.1 162.5z" fill="#ffc100"/>
<path d="M270 156.5L270.7 154.3L273.1 159.4L272.5 160z" fill="#ffa100"/>
<path d="M270.4 154.3L271.1 160.1L273.5 165.8L272.9 159.4z" fill="#ffe000"/>
<path d="M270.8 160.1L271.5 160.7L273.9 164L273.3 165.8z" fill="#d4ff2b"/>
<path d="M271.2 160.7L271.9 160.8L274.4 161.5L273.7 164z" fill="#ebff14"/>
<path d="M271.6 160.8L272.3 154.4L274.8 159.4L274.1 161.5z" fill="#ffcd00"/>
<path d="M272.1 154.4L272.7 154.1L275.2 158.7L274.5 159.4z" fill="#ff9000"/>
<path d="M272.5 154.1L273.1 156L275.6 161.2L274.9 158.7z" fill="#ffa900"/>
<path d="M272.9 156L273.5 162.6L276 164.8L275.3 161.2z" fill="#f5ff0a"/>
<path d="M273.3 162.6L273.9 161.7L276.4 165.7L275.7 164.8z" fill="#b0ff4f"/>
<path d="M273.7 161.7L274.4 159.9L276.8 162.7L276.2 165.7z" fill="#ceff31"/>
<path d="M274.1 159.9L274.8 156.2L277.2 160.1L276.6 162.7z" fill="#ffe900"/>
<path d="M274.5 156.2L275.2 157.4L277.6 162.1L277 160.1z" fill="#ffd600"/>
<path d="M274.9 157.4L275.6 148.3L278 152.2L277.4 162.1z" fill="#ff7000"/>
<path d="M275.3 148.3L276 157L278.5 160.6L277.8 152.2z" fill="#ff6500"/>
<path d="M275.7 157L276.4 156L278.9 158.5L278.2 160.6z" fill="#ffc100"/>
<path d="M276.2 156L276.8 156L279.3 157.7L278.6 158.5z" fill="#ffa900"/>
<path d="M276.6 156L277.2 159.1L279.7 160.1L279 157.7z" fill="#ffca00"/>
<path d="M277 159.1L277.6 159L280.1 162.7L279.4 160.1z" fill="#feff01"/>
<path d="M277.4 159L278 156.9L280.5 162.7L279.8 162.7z" fill="#f9ff06"/>
<path d="M277.8 156.9L278.5 154.3L280.9 156.9L280.3 162.7z" fill="#ffc100"/>
<path d="M278.2 154.3L278.9 158.5L281.3 162L280.7 156.9z" fill="#ffc800"/>
<path d="M278.6 158.5L279.3 154.7L281.7 155.4L281.1 162z" fill="#ffc200"/>
<path d="M279 154.7L279.7 156.6L282.1 160L281.5 155.4z" fill="#ffaa00"/>
<path d="M279.4 156.6L280.1 155.7L282.5 159.7L281.9 160z" fill="#ffcf00"/>
<path d="M279.8 155.7L280.5 151.5L283 156.3L282.3 159.7z" fill="#ff9600"/>
<path d="M280.3 151.5L280.9 156.2L283.4 158L282.7 156.3z" fill="#ff9000"/>
<path d="M280.7 156.2L281.3 151.9L283.8 155.3L283.1 158z" fill="#ff8e00"/>
<path d="M281.1 151.9L281.7 154.7L284.2 158.9L283.5 155.3z" fill="#ff8c00"/>
<path d="M281.5 154.7L282.1 156.3L284.6 158.5L283.9 158.9z" fill="#ffbf00"/>
<path d="M281.9 156.3L282.6 156L285 158.8L284.3 158.5z" fill="#ffc800"/>
<path d="M282.3 156L283 160.5L285.4 163.4L284.8 158.8z" fill="#f9ff06"/>
<path d="M282.7 160.5L283.4 151L285.8 155.9L285.2 163.4z" fill="#ffd200"/>
<path d="M283.1 151L283.8 158.4L286.2 160L285.6 155.9z" fill="#ffb000"/>
<path d="M283.5 158.4L284.2 160.7L286.6 162.8L286 160z" fill="#e0ff1f"/>
<path d="M283.9 160.7L284.6 146.3L287.1 151.1L286.4 162.8z" fill="#ff9600"/>
<path d="M284.4 146.3L285 155.4L287.5 158.5L286.8 151.1z" fill="#ff5800"/>
<path d="M284.8 155.4L285.4 157.7L287.9 162.4L287.2 158.5z" fill="#ffee00"/>
<path d="M285.2 157.7L285.8 150.9L288.3 154.3L287.6 162.4z" fill="#ffb700"/>
<path d="M285.6 150.9L286.2 156L288.7 159.2L288 154.3z" fill="#ff9900"/>
<path d="M286 156L286.6 152L289.1 156.4L288.4 159.2z" fill="#ffaf00"/>
<path d="M286.4 152L287.1 155.6L289.5 160L288.9 156.4z" fill="#ffb300"/>
<path d="M286.8 155.6L287.5 156.8L289.9 159.2L289.3 160z" fill="#ffe600"/>
<path d="M287.2 156.8L287.9 162.1L290.3 163.9L289.7 159.2z" fill="#d2ff2d"/>
<path d="M287.6 162.1L288.3 157.7L290.7 162L290.1 163.9z" fill="#b8ff47"/>
<path d="M288 157.7L288.7 156.3L291.2 160.5L290.5 162z" fill="#f3ff0c"/>
<path d="M288.4 156.3L289.1 154.3L291.6 157.8L290.9 160.5z" fill="#ffda00"/>
<path d="M288.9 154.3L289.5 153.2L292 156.9L291.3 157.8z" fill="#ffb000"/>
<path d="M289.3 153.2L289.9 151.5L292.4 153.5L291.7 156.9z" fill="#ff8400"/>
<path d="M289.7 151.5L290.3 156.1L292.8 162.4L292.1 153.5z" fill="#ffbc00"/>
<path d="M290.1 156.1L290.7 151.4L293.2 154L292.5 162.4z" fill="#ffc000"/>
<path d="M290.5 151.4L291.2 153.6L293.6 155.3L293 154z" fill="#ff8200"/>
<path d="M290.9 153.6L291.6 152.7L294 155.9L293.4 155.3z" fill="#ff9900"/>
<path d="M291.3 152.7L292 157L294.4 163.2L293.8 155.9z" fill="#ffe400"/>
<path d="M291.7 157L292.4 161.5L294.8 163.6L294.2 163.2z" fill="#acff53"/>
<path d="M292.1 161.5L292.8 157L295.3 158.3L294.6 163.6z" fill="#caff35"/>
<path d="M292.5 157L293.2 158.5L295.7 162.4L295 158.3z" fill="#e5ff1a"/>
<path d="M293 158.5L293.6 156.6L296.1 161.8L295.4 162.4z" fill="#cfff30"/>
<path d="M293.4 156.6L294 151.5L296.5 156.9L295.8 161.8z" fill="#ffdf00"/>
<path d="M293.8 151.5L294.4 151.5L296.9 156.2L296.2 156.9z" fill="#ff9a00"/>
<path d="M294.2 151.5L294.8 156.8L297.3 158.2L296.6 156.2z" fill="#ffc600"/>
<path d="M294.6 156.8L295.3 153.2L297.7 157.7L297.1 158.2z" fill="#ffdd00"/>
<path d="M295 153.2L295.7 151.2L298.1 156.6L297.5 157.7z" fill="#ffb000"/>
<path d="M295.4 151.2L296.1 151.7L298.5 156L297.9 156.6z" fill="#ff9c00"/>
<path d="M295.8 151.7L296.5 157L298.9 158.5L298.3 156z" fill="#ffcf00"/>
<path d="M296.2 157L296.9 152L299.3 158.5L298.7 158.5z" fill="#ffe300"/>
<path d="M296.6 152L297.3 153.9L299.8 156.7L299.1 158.5z" fill="#ffc500"/>
<path d="M297.1 153.9L297.7 152.1L300.2 157.5L299.5 156.7z" fill="#ffc000"/>
<path d="M297.5 152.1L298.1 149.1L300.6 153.5L299.9 157.5z" fill="#ff8d00"/>
<path d="M297.9 149.1L298.5 152L301 157.2L300.3 153.5z" fill="#ff8c00"/>
<path d="M298.3 152L298.9 152.5L301.4 156L300.7 157.2z" fill="#ffb400"/>
<path d="M298.7 152.5L299.4 155.1L301.8 159.7L301.1 156z" fill="#ffdb00"/>
<path d="M299.1 155.1L299.8 152.5L302.2 159.4L301.6 159.7z" fill="#fff300"/>
<path d="M299.5 152.5L300.2 157.7L302.6 158.3L302 159.4z" fill="#fffc00"/>
<path d="M299.9 157.7L300.6 151.9L303 154.1L302.4 158.3z" fill="#ffd700"/>
<path d="M300.3 151.9L301 154.8L303.4 159.7L302.8 154.1z" fill="#ffce00"/>
<path d="M300.7 154.8L301.4 155.2L303.9 155.9L303.2 159.7z" fill="#fff100"/>
<path d="M301.2 155.2L301.8 152.6L304.3 157.4L303.6 155.9z" fill="#ffd500"/>
<path d="M301.6 152.6L302.2 154.1L304.7 161.6L304 157.4z" fill="#fff400"/>
<path d="M302 154.1L302.6 154.8L305.1 157.3L304.4 161.6z" fill="#faff05"/>
<path d="M302.4 154.8L303 147.5L305.5 152.6L304.8 157.3z" fill="#ff9f00"/>
<path d="M302.8 147.5L303.4 151.1L305.9 157.6L305.2 152.6z" fill="#ff8a00"/>
<path d="M303.2 151.1L303.9 159.2L306.3 161.3L305.7 157.6z" fill="#ecff13"/>
<path d="M303.6 159.2L304.3 151.5L306.7 155.2L306.1 161.3z" fill="#f8ff07"/>
<path d="M304 151.5L304.7 158.4L307.1 162L306.5 155.2z" fill="#f7ff08"/>
<path d="M304.4 158.4L305.1 150.5L307.5 155.5L306.9 162z" fill="#fbff04"/>
<path d="M304.8 150.5L305.5 153.3L308 159.1L307.3 155.5z" fill="#ffd100"/>
<path d="M305.2 153.3L305.9 150.9L308.4 158L307.7 159.1z" fill="#ffe500"/>
<path d="M305.7 150.9L306.3 149.5L308.8 152.5L308.1 158z" fill="#ffa200"/>
<path d="M306.1 149.5L306.7 152.3L309.2 150.9L308.5 152.5z" fill="#ff7e00"/>
<path d="M306.5 152.3L307.1 148.8L309.6 156.8L308.9 150.9z" fill="#ff9700"/>
<path d="M306.9 148.8L307.5 153.5L310 157.5L309.3 156.8z" fill="#ffcc00"/>
<path d="M307.3 153.5L308 149.9L310.4 158L309.8 157.5z" fill="#ffdc00"/>
<path d="M307.7 149.9L308.4 148.1L310.8 152.3L310.2 158z" fill="#ff9800"/>
<path d="M308.1 148.1L308.8 155L311.2 157.2L310.6 152.3z" fill="#ffb600"/>
<path d="M308.5 155L309.2 153.1L311.6 156.4L311 157.2z" fill="#fff300"/>
<path d="M308.9 153.1L309.6 154L312.1 154L311.4 156.4z" fill="#ffd900"/>
<path d="M309.3 154L310 153.2L312.5 155L311.8 154z" fill="#ffd300"/>
<path d="M309.8 153.2L310.4 155L312.9 158.9L312.2 155z" fill="#fffb00"/>
<path d="M310.2 155L310.8 153.9L313.3 157.7L312.6 158.9z" fill="#ecff13"/>
<path d="M310.6 153.9L311.2 155.6L313.7 162.7L313 157.7z" fill="#ceff31"/>
<path d="M311 155.6L311.6 157.5L314.1 163.6L313.4 162.7z" fill="#8eff71"/>
<path d="M311.4 157.5L312.1 163.2L314.5 168L313.9 163.6z" fill="#37ffc8"/>
<path d="M311.8 163.2L312.5 154.8L314.9 156.6L314.3 168z" fill="#76ff89"/>
<path d="M312.2 154.8L312.9 152.3L315.3 153.8L314.7 156.6z" fill="#ffe500"/>
<path d="M312.6 152.3L313.3 158.6L315.7 160.8L315.1 153.8z" fill="#e3ff1c"/>
<path d="M313 158.6L313.7 148.7L316.1 155.7L315.5 160.8z" fill="#edff12"/>
<path d="M313.4 148.7L314.1 152.6L316.6 154L315.9 155.7z" fill="#ffbf00"/>
<path d="M313.9 152.6L314.5 154.9L317 157.9L316.3 154z" fill="#fff800"/>
<path d="M314.3 154.9L314.9 153.8L317.4 158.7L316.7 157.9z" fill="#deff21"/>
<path d="M314.7 153.8L315.3 154.8L317.8 157.7L317.1 158.7z" fill="#dfff20"/>
<path d="M315.1 154.8L315.7 158.1L318.2 163.7L317.5 157.7z" fill="#a0ff5f"/>
<path d="M315.5 158.1L316.2 157.2L318.6 160L317.9 163.7z" fill="#80ff7f"/>
<path d="M315.9 157.2L316.6 156L319 158.6L318.4 160z" fill="#aeff51"/>
<path d="M316.3 156L317 153.9L319.4 159.3L318.8 158.6z" fill="#c7ff38"/>
<path d="M316.7 153.9L317.4 155.2L319.8 158L319.2 159.3z" fill="#ceff31"/>
<path d="M317.1 155.2L317.8 158.4L320.2 162.5L319.6 158z" fill="#9aff65"/>
<path d="M317.5 158.4L318.2 151.8L320.7 157.8L320 162.5z" fill="#b1ff4e"/>
<path d="M318 151.8L318.6 155.4L321.1 158.1L320.4 157.8z" fill="#e0ff1f"/>
<path d="M318.4 155.4L319 156.5L321.5 160.7L320.8 158.1z" fill="#adff52"/>
<path d="M318.8 156.5L319.4 153.4L321.9 157.9L321.2 160.7z" fill="#baff45"/>
<path d="M319.2 153.4L319.8 153.7L322.3 158.9L321.6 157.9z" fill="#d6ff29"/>
<path d="M319.6 153.7L320.2 157.9L322.7 162.4L322 158.9z" fill="#9aff65"/>
<path d="M320 157.9L320.7 155.3L323.1 158L322.5 162.4z" fill="#94ff6b"/>
<path d="M320.4 155.3L321.1 158.7L323.5 160.2L322.9 158z" fill="#9bff64"/>
<path d="M320.8 158.7L321.5 155.7L323.9 159.1L323.3 160.2z" fill="#90ff6f"/>
<path d="M321.2 155.7L321.9 153.4L324.3 158.3L323.7 159.1z" fill="#beff41"/>
<path d="M321.6 153.4L322.3 152.9L324.8 157.4L324.1 158.3z" fill="#d9ff26"/>
<path d="M322 152.9L322.7 155L325.2 159.8L324.5 157.4z" fill="#c3ff3c"/>
<path d="M322.5 155L323.1 150.3L325.6 155.1L324.9 159.8z" fill="#e2ff1d"/>
<path d="M322.9 150.3L323.5 153.9L326 158L325.3 155.1z" fill="#f4ff0b"/>
<path d="M323.3 153.9L323.9 167L326.4 169.4L325.7 158z" fill="#27ffd8"/>
<path d="M323.7 167L324.3 156.4L326.8 159.9L326.1 169.4z" fill="#09fff6"/>
<path d="M324.1 156.4L324.8 151.2L327.2 155.2L326.6 159.9z" fill="#ccff33"/>
<path d="M324.5 151.2L325.2 157.3L327.6 162.2L327 155.2z" fill="#b5ff4a"/>
<path d="M324.9 157.3L325.6 155.7L328 158.3L327.4 162.2z" fill="#82ff7d"/>
<path d="M325.3 155.7L326 160.2L328.4 161.8L327.8 158.3z" fill="#71ff8e"/>
<path d="M325.7 160.2L326.4 153.3L328.9 156.7L328.2 161.8z" fill="#89ff76"/>
<path d="M326.1 153.3L326.8 152.3L329.3 158L328.6 156.7z" fill="#d4ff2b"/>
<path d="M326.6 152.3L327.2 151.1L329.7 155.7L329 158z" fill="#e8ff17"/>
<path d="M327 151.1L327.6 157L330.1 157.6L329.4 155.7z" fill="#caff35"/>
<path d="M327.4 157L328 151.1L330.5 154L329.8 157.6z" fill="#d4ff2b"/>
<path d="M327.8 151.1L328.4 152.4L330.9 154.2L330.2 154z" fill="#fff700"/>
<path d="M328.2 152.4L328.9 156.4L331.3 160.1L330.7 154.2z" fill="#bbff44"/>
<path d="M328.6 156.4L329.3 153.5L331.7 158L331.1 160.1z" fill="#9aff65"/>
<path d="M329 153.5L329.7 154.9L332.1 160.5L331.5 158z" fill="#9fff60"/>
<path d="M329.4 154.9L330.1 157.1L332.5 160.4L331.9 160.5z" fill="#75ff8a"/>
<path d="M329.8 157.1L330.5 154.3L332.9 158.5L332.3 160.4z" fill="#85ff7a"/>
<path d="M330.2 154.3L330.9 155.4L333.4 159.5L332.7 158.5z" fill="#96ff69"/>
<path d="M330.7 155.4L331.3 163.9L333.8 167.9L333.1 159.5z" fill="#17ffe8"/>
<path d="M331.1 163.9L331.7 153.4L334.2 154.2L333.5 167.9z" fill="#45ffba"/>
<path d="M331.5 153.4L332.1 150L334.6 154.4L333.9 154.2z" fill="#f7ff08"/>
<path d="M331.9 150L332.5 156.7L335 160.8L334.3 154.4z" fill="#b5ff4a"/>
<path d="M332.3 156.7L333 158L335.4 160.6L334.7 160.8z" fill="#56ffa9"/>
<path d="M332.7 158L333.4 155L335.8 158.3L335.2 160.6z" fill="#71ff8e"/>
<path d="M333.1 155L333.8 158.5L336.2 160.7L335.6 158.3z" fill="#6cff93"/>
<path d="M333.5 158.5L334.2 152.6L336.6 155.9L336 160.7z" fill="#89ff76"/>
<path d="M333.9 152.6L334.6 153.2L337 156.7L336.4 155.9z" fill="#c5ff3a"/>
<path d="M334.3 153.2L335 155.2L337.5 156.8L336.8 156.7z" fill="#acff53"/>
<path d="M334.8 155.2L335.4 155.2L337.9 158.5L337.2 156.8z" fill="#92ff6d"/>
<path d="M335.2 155.2L335.8 154.7L338.3 158L337.6 158.5z" fill="#8cff73"/>
<path d="M335.6 154.7L336.2 149.6L338.7 153L338 158z" fill="#d3ff2c"/>
<path d="M336 149.6L336.6 151.1L339.1 155L338.4 153z" fill="#feff01"/>
<path d="M336.4 151.1L337 151.8L339.5 154.1L338.8 155z" fill="#e6ff19"/>
<path d="M336.8 151.8L337.5 152.1L339.9 155.3L339.3 154.1z" fill="#dcff23"/>
<path d="M337.2 152.1L337.9 151.2L340.3 154.8L339.7 155.3z" fill="#daff25"/>
<path d="M337.6 151.2L338.3 149.8L340.7 152.6L340.1 154.8z" fill="#f9ff06"/>
<path d="M338 149.8L338.7 149.2L341.1 152.4L340.5 152.6z" fill="#ffe900"/>
<path d="M338.4 149.2L339.1 149.8L341.6 153L340.9 152.4z" fill="#ffee00"/>
<path d="M338.8 149.8L339.5 148.9L342 151.6L341.3 153z" fill="#ffe800"/>
<path d="M339.3 148.9L339.9 148.5L342.4 151.2L341.7 151.6z" fill="#ffd500"/>
<path d="M258.1 167.2L258.8 166.2L261.2 171.8L260.6 170.8z" fill="#aeff51"/>
<path d="M258.5 166.2L259.2 162.2L261.6 162.7L261 171.8z" fill="#fffb00"/>
<path d="M258.9 162.2L259.6 164.8L262.1 165.6L261.4 162.7z" fill="#ffcb00"/>
<path d="M259.4 164.8L260 170L262.5 173.5L261.8 165.6z" fill="#b8ff47"/>
<path d="M259.8 170L260.4 164.8L262.9 167.8L262.2 173.5z" fill="#a8ff57"/>
<path d="M260.2 164.8L260.8 165.5L263.3 169.7L262.6 167.8z" fill="#ddff22"/>
<path d="M260.6 165.5L261.2 162.3L263.7 166.8L263 169.7z" fill="#f2ff0d"/>
<path d="M261 162.3L261.7 166.9L264.1 170.2L263.4 166.8z" fill="#e4ff1b"/>
<path d="M261.4 166.9L262.1 164.1L264.5 166.9L263.9 170.2z" fill="#d6ff29"/>
<path d="M261.8 164.1L262.5 165L264.9 164L264.3 166.9z" fill="#fff400"/>
<path d="M262.2 165L262.9 158.5L265.3 162.8L264.7 164z" fill="#ffb500"/>
<path d="M262.6 158.5L263.3 163.6L265.7 167.8L265.1 162.8z" fill="#ffc700"/>
<path d="M263 163.6L263.7 161.6L266.2 166.4L265.5 167.8z" fill="#fff500"/>
<path d="M263.5 161.6L264.1 166.6L266.6 170.2L265.9 166.4z" fill="#e4ff1b"/>
<path d="M263.9 166.6L264.5 156.2L267 159.7L266.3 170.2z" fill="#ffcb00"/>
<path d="M264.3 156.2L264.9 167.4L267.4 169.4L266.7 159.7z" fill="#ffcc00"/>
<path d="M264.7 167.4L265.3 160.3L267.8 163.2L267.1 169.4z" fill="#feff01"/>
<path d="M265.1 160.3L265.7 163.9L268.2 168.1L267.5 163.2z" fill="#ffe200"/>
<path d="M265.5 163.9L266.2 167L268.6 169.9L268 168.1z" fill="#c2ff3d"/>
<path d="M265.9 167L266.6 165.9L269 168.3L268.4 169.9z" fill="#b3ff4c"/>
<path d="M266.3 165.9L267 164.5L269.4 169.9L268.8 168.3z" fill="#c2ff3d"/>
<path d="M266.7 164.5L267.4 162.2L269.8 165.1L269.2 169.9z" fill="#eeff11"/>
<path d="M267.1 162.2L267.8 162.3L270.3 166.1L269.6 165.1z" fill="#ffea00"/>
<path d="M267.5 162.3L268.2 157.9L270.7 158.1L270 166.1z" fill="#ffa300"/>
<path d="M268 157.9L268.6 171.9L271.1 174.4L270.4 158.1z" fill="#e5ff1a"/>
<path d="M268.4 171.9L269 163L271.5 164.8L270.8 174.4z" fill="#96ff69"/>
<path d="M268.8 163L269.4 165.3L271.9 166.8L271.2 164.8z" fill="#f1ff0e"/>
<path d="M269.2 165.3L269.8 156.5L272.3 161.9L271.6 166.8z" fill="#ffd000"/>
<path d="M269.6 156.5L270.3 169.5L272.7 171.8L272.1 161.9z" fill="#f0ff0f"/>
<path d="M270 169.5L270.7 162.2L273.1 167.6L272.5 171.8z" fill="#a4ff5b"/>
<path d="M270.4 162.2L271.1 161.5L273.5 164.5L272.9 167.6z" fill="#fff700"/>
<path d="M270.8 161.5L271.5 165.7L273.9 171L273.3 164.5z" fill="#d9ff26"/>
<path d="M271.2 165.7L271.9 159.7L274.4 163.5L273.7 171z" fill="#eaff15"/>
<path d="M271.6 159.7L272.3 162L274.8 164.8L274.1 163.5z" fill="#ffd500"/>
<path d="M272.1 162L272.7 159.5L275.2 163.5L274.5 164.8z" fill="#ffd500"/>
<path d="M272.5 159.5L273.1 158.9L275.6 160.7L274.9 163.5z" fill="#ffa800"/>
<path d="M272.9 158.9L273.5 165.3L276 167.3L275.3 160.7z" fill="#ffe900"/>
<path d="M273.3 165.3L273.9 163.5L276.4 168.1L275.7 167.3z" fill="#c5ff3a"/>
<path d="M273.7 163.5L274.4 161L276.8 165.2L276.2 168.1z" fill="#eeff11"/>
<path d="M274.1 161L274.8 158.9L277.2 163.3L276.6 165.2z" fill="#ffd400"/>
<path d="M274.5 158.9L275.2 158.2L277.6 160.1L277 163.3z" fill="#ffa100"/>
<path d="M274.9 158.2L275.6 160.7L278 167.2L277.4 160.1z" fill="#ffc800"/>
<path d="M275.3 160.7L276 164.3L278.4 167.4L277.8 167.2z" fill="#dcff23"/>
<path d="M275.7 164.3L276.4 165.2L278.9 166.5L278.2 167.4z" fill="#c2ff3d"/>
<path d="M276.2 165.2L276.8 162.2L279.3 163.5L278.6 166.5z" fill="#e7ff18"/>
<path d="M276.6 162.2L277.2 159.6L279.7 164.9L279 163.5z" fill="#ffe900"/>
<path d="M277 159.6L277.6 161.6L280.1 162.8L279.4 164.9z" fill="#ffe200"/>
<path d="M277.4 161.6L278 151.7L280.5 156.9L279.8 162.8z" fill="#ff7b00"/>
<path d="M277.8 151.7L278.5 160.1L280.9 163.7L280.2 156.9z" fill="#ff7900"/>
<path d="M278.2 160.1L278.9 158L281.3 165.4L280.7 163.7z" fill="#ffda00"/>
<path d="M278.6 158L279.3 157.2L281.7 159.5L281.1 165.4z" fill="#ffad00"/>
<path d="M279 157.2L279.7 159.6L282.1 163.5L281.5 159.5z" fill="#ffad00"/>
<path d="M279.4 159.6L280.1 162.2L282.5 165.1L281.9 163.5z" fill="#fff500"/>
<path d="M279.8 162.2L280.5 162.2L283 165L282.3 165.1z" fill="#edff12"/>
<path d="M280.3 162.2L280.9 156.4L283.4 161.2L282.7 165z" fill="#ffd300"/>
<path d="M280.7 156.4L281.3 161.5L283.8 167.5L283.1 161.2z" fill="#ffe000"/>
<path d="M281.1 161.5L281.7 154.9L284.2 159.1L283.5 167.5z" fill="#ffc900"/>
<path d="M281.5 154.9L282.1 159.5L284.6 164.8L283.9 159.1z" fill="#ffac00"/>
<path d="M281.9 159.5L282.5 159.2L285 162.2L284.3 164.8z" fill="#ffdf00"/>
<path d="M282.3 159.2L283 155.8L285.4 158.5L284.8 162.2z" fill="#ff9e00"/>
<path d="M282.7 155.8L283.4 157.5L285.8 158.8L285.2 158.5z" fill="#ff7e00"/>
<path d="M283.1 157.5L283.8 154.8L286.2 159.1L285.6 158.8z" fill="#ff7e00"/>
<path d="M283.5 154.8L284.2 158.4L286.6 163L286 159.1z" fill="#ffa100"/>
<path d="M283.9 158.4L284.6 158L287.1 163.8L286.4 163z" fill="#ffd600"/>
<path d="M284.3 158L285 158.3L287.5 160.7L286.8 163.8z" fill="#ffc700"/>
<path d="M284.8 158.3L285.4 162.9L287.9 169.2L287.2 160.7z" fill="#f2ff0d"/>
<path d="M285.2 162.9L285.8 155.4L288.3 162.3L287.6 169.2z" fill="#f9ff06"/>
<path d="M285.6 155.4L286.2 159.5L288.7 162.4L288 162.3z" fill="#ffc300"/>
<path d="M286 159.5L286.6 162.3L289.1 166.2L288.4 162.4z" fill="#f2ff0d"/>
<path d="M286.4 162.3L287.1 150.6L289.5 155.1L288.9 166.2z" fill="#ffa300"/>
<path d="M286.8 150.6L287.5 158L289.9 165.3L289.3 155.1z" fill="#ff8200"/>
<path d="M287.2 158L287.9 161.9L290.3 165.8L289.7 165.3z" fill="#eaff15"/>
<path d="M287.6 161.9L288.3 153.8L290.7 154.1L290.1 165.8z" fill="#ffb000"/>
<path d="M288 153.8L288.7 158.7L291.2 164.5L290.5 154.1z" fill="#ff9400"/>
<path d="M288.4 158.7L289.1 155.9L291.6 160.2L290.9 164.5z" fill="#ffcc00"/>
<path d="M288.9 155.9L289.5 159.5L292 163.4L291.3 160.2z" fill="#ffcb00"/>
<path d="M289.3 159.5L289.9 158.7L292.4 162.5L291.7 163.4z" fill="#ffee00"/>
<path d="M289.7 158.7L290.3 163.4L292.8 166.6L292.1 162.5z" fill="#e0ff1f"/>
<path d="M290.1 163.4L290.7 161.5L293.2 168L292.5 166.6z" fill="#a7ff58"/>
<path d="M290.5 161.5L291.2 160L293.6 166.1L293 168z" fill="#c0ff3f"/>
<path d="M290.9 160L291.6 157.3L294 162.7L293.4 166.1z" fill="#fdff02"/>
<path d="M291.3 157.3L292 156.4L294.4 159.4L293.8 162.7z" fill="#ffbf00"/>
<path d="M291.7 156.4L292.4 153L294.8 154.1L294.2 159.4z" fill="#ff6d00"/>
<path d="M292.1 153L292.8 161.9L295.2 164L294.6 154.1z" fill="#ffb000"/>
<path d="M292.5 161.9L293.2 153.5L295.7 160.1L295 164z" fill="#ffdc00"/>
<path d="M293 153.5L293.6 154.8L296.1 159L295.4 160.1z" fill="#ff8f00"/>
<path d="M293.4 154.8L294 155.4L296.5 160.8L295.8 159z" fill="#ffa100"/>
<path d="M293.8 155.4L294.4 162.7L296.9 166.1L296.2 160.8z" fill="#faff05"/>
<path d="M294.2 162.7L294.8 163.1L297.3 165L296.6 166.1z" fill="#aaff55"/>
<path d="M294.6 163.1L295.3 157.8L297.7 161.9L297 165z" fill="#e3ff1c"/>
<path d="M295 157.8L295.7 161.9L298.1 166.6L297.5 161.9z" fill="#e0ff1f"/>
<path d="M295.4 161.9L296.1 161.3L298.5 166.4L297.9 166.6z" fill="#abff54"/>
<path d="M295.8 161.3L296.5 156.4L298.9 161.2L298.3 166.4z" fill="#f0ff0f"/>
<path d="M296.2 156.4L296.9 155.7L299.3 159.6L298.7 161.2z" fill="#ffbd00"/>
<path d="M296.6 155.7L297.3 157.7L299.8 160.2L299.1 159.6z" fill="#ffc000"/>
<path d="M297.1 157.7L297.7 157.2L300.2 161.3L299.5 160.2z" fill="#ffd700"/>
<path d="M297.5 157.2L298.1 156.1L300.6 158.6L299.9 161.3z" fill="#ffc400"/>
<path d="M297.9 156.1L298.5 155.5L301 156.4L300.3 158.6z" fill="#ff9a00"/>
<path d="M298.3 155.5L298.9 158L301.4 159.7L300.7 156.4z" fill="#ffaf00"/>
<path d="M298.7 158L299.3 158L301.8 164.2L301.1 159.7z" fill="#fff500"/>
<path d="M299.1 158L299.8 156.2L302.2 160.5L301.6 164.2z" fill="#fff000"/>
<path d="M299.5 156.2L300.2 157L302.6 159.7L302 160.5z" fill="#ffcd00"/>
<path d="M299.9 157L300.6 153L303 159.1L302.4 159.7z" fill="#ffaf00"/>
<path d="M300.3 153L301 156.7L303.4 162.3L302.8 159.1z" fill="#ffc100"/>
<path d="M300.7 156.7L301.4 155.5L303.9 162.8L303.2 162.3z" fill="#ffeb00"/>
<path d="M301.1 155.5L301.8 159.2L304.3 162.1L303.6 162.8z" fill="#fffb00"/>
<path d="M301.6 159.2L302.2 158.9L304.7 162.9L304 162.1z" fill="#e9ff16"/>
<path d="M302 158.9L302.6 157.8L305.1 163.9L304.4 162.9z" fill="#e5ff1a"/>
<path d="M302.4 157.8L303 153.6L305.5 157L304.8 163.9z" fill="#ffd000"/>
<path d="M302.8 153.6L303.4 159.2L305.9 162.8L305.2 157z" fill="#ffd300"/>
<path d="M303.2 159.2L303.9 155.4L306.3 161.3L305.7 162.8z" fill="#fffd00"/>
<path d="M303.6 155.4L304.3 156.9L306.7 161L306.1 161.3z" fill="#ffe400"/>
<path d="M304 156.9L304.7 161.1L307.1 163.7L306.5 161z" fill="#e4ff1b"/>
<path d="M304.4 161.1L305.1 156.8L307.5 161.7L306.9 163.7z" fill="#dfff20"/>
<path d="M304.8 156.8L305.5 152.1L308 159.3L307.3 161.7z" fill="#ffca00"/>
<path d="M305.2 152.1L305.9 157.1L308.4 163L307.7 159.3z" fill="#ffd600"/>
<path d="M305.7 157.1L306.3 160.8L308.8 163.4L308.1 163z" fill="#d3ff2c"/>
<path d="M306.1 160.8L306.7 154.7L309.2 160.9L308.5 163.4z" fill="#efff10"/>
<path d="M306.5 154.7L307.1 161.5L309.6 168.6L308.9 160.9z" fill="#c7ff38"/>
<path d="M306.9 161.5L307.5 155L310 158.2L309.3 168.6z" fill="#d6ff29"/>
<path d="M307.3 155L308 158.6L310.4 163.2L309.8 158.2z" fill="#fff300"/>
<path d="M307.7 158.6L308.4 157.5L310.8 162.5L310.2 163.2z" fill="#dcff23"/>
<path d="M308.1 157.5L308.8 152L311.2 154.3L310.6 162.5z" fill="#ffbe00"/>
<path d="M308.5 152L309.2 150.4L311.6 153.8L311 154.3z" fill="#ff5700"/>
<path d="M308.9 150.4L309.6 156.3L312 161.1L311.4 153.8z" fill="#ffa100"/>
<path d="M309.3 156.3L310 157L312.5 160.5L311.8 161.1z" fill="#fffa00"/>
<path d="M309.8 157L310.4 157.5L312.9 161.1L312.2 160.5z" fill="#fbff04"/>
<path d="M310.2 157.5L310.8 151.8L313.3 153.6L312.6 161.1z" fill="#ffb500"/>
<path d="M310.6 151.8L311.2 156.7L313.7 160.7L313 153.6z" fill="#ffaf00"/>
<path d="M311 156.7L311.6 155.9L314.1 162.1L313.4 160.7z" fill="#fbff04"/>
<path d="M311.4 155.9L312.1 153.5L314.5 156.9L313.8 162.1z" fill="#ffd700"/>
<path d="M311.8 153.5L312.5 154.5L314.9 158.4L314.3 156.9z" fill="#ffb700"/>
<path d="M312.2 154.5L312.9 158.4L315.3 160.9L314.7 158.4z" fill="#fff300"/>
<path d="M312.6 158.4L313.3 157.2L315.7 161.4L315.1 160.9z" fill="#e4ff1b"/>
<path d="M313 157.2L313.7 162.2L316.1 166.6L315.5 161.4z" fill="#a5ff5a"/>
<path d="M313.4 162.2L314.1 163.1L316.6 166.7L315.9 166.6z" fill="#5affa5"/>
<path d="M313.9 163.1L314.5 167.5L317 168.7L316.3 166.7z" fill="#28ffd7"/>
<path d="M314.3 167.5L314.9 156.1L317.4 163.4L316.7 168.7z" fill="#6aff95"/>
<path d="M314.7 156.1L315.3 153.3L317.8 155.4L317.1 163.4z" fill="#ffe100"/>
<path d="M315.1 153.3L315.7 160.3L318.2 164.4L317.5 155.4z" fill="#f9ff06"/>
<path d="M315.5 160.3L316.1 155.2L318.6 161.7L317.9 164.4z" fill="#c2ff3d"/>
<path d="M315.9 155.2L316.6 153.5L319 156.5L318.4 161.7z" fill="#ffde00"/>
<path d="M316.3 153.5L317 157.4L319.4 160.3L318.8 156.5z" fill="#ffe400"/>
<path d="M316.7 157.4L317.4 158.2L319.8 162.8L319.2 160.3z" fill="#d0ff2f"/>
<path d="M317.1 158.2L317.8 157.2L320.2 161.7L319.6 162.8z" fill="#c7ff38"/>
<path d="M317.5 157.2L318.2 163.2L320.7 166.1L320 161.7z" fill="#8fff70"/>
<path d="M317.9 163.2L318.6 159.5L321.1 161.2L320.4 166.1z" fill="#82ff7d"/>
<path d="M318.4 159.5L319 158.1L321.5 162.7L320.8 161.2z" fill="#b9ff46"/>
<path d="M318.8 158.1L319.4 158.8L321.9 163.3L321.2 162.7z" fill="#aeff51"/>
<path d="M319.2 158.8L319.8 157.5L322.3 158.9L321.6 163.3z" fill="#c9ff36"/>
<path d="M319.6 157.5L320.2 162L322.7 167.5L322 158.9z" fill="#97ff68"/>
<path d="M320 162L320.7 157.3L323.1 158.9L322.5 167.5z" fill="#96ff69"/>
<path d="M320.4 157.3L321.1 157.6L323.5 164L322.9 158.9z" fill="#c9ff36"/>
<path d="M320.8 157.6L321.5 160.2L323.9 165L323.3 164z" fill="#8dff72"/>
<path d="M321.2 160.2L321.9 157.4L324.3 161L323.7 165z" fill="#a1ff5e"/>
<path d="M321.6 157.4L322.3 158.4L324.8 165.1L324.1 161z" fill="#abff54"/>
<path d="M322 158.4L322.7 161.9L325.2 163.5L324.5 165.1z" fill="#7bff84"/>
<path d="M322.5 161.9L323.1 157.5L325.6 161.4L324.9 163.5z" fill="#97ff68"/>
<path d="M322.9 157.5L323.5 159.7L326 163.9L325.3 161.4z" fill="#a2ff5d"/>
<path d="M323.3 159.7L323.9 158.6L326.4 163.6L325.7 163.9z" fill="#8bff74"/>
<path d="M323.7 158.6L324.3 157.8L326.8 164.8L326.1 163.6z" fill="#8fff70"/>
<path d="M324.1 157.8L324.8 156.9L327.2 157.9L326.6 164.8z" fill="#beff41"/>
<path d="M324.5 156.9L325.2 159.3L327.6 165.3L327 157.9z" fill="#b0ff4f"/>
<path d="M324.9 159.3L325.6 154.6L328 159.4L327.4 165.3z" fill="#b4ff4b"/>
<path d="M325.3 154.6L326 157.5L328.4 162L327.8 159.4z" fill="#d4ff2b"/>
<path d="M325.7 157.5L326.4 168.9L328.8 169.2L328.2 162z" fill="#34ffcb"/>
<path d="M326.1 168.9L326.8 159.4L329.3 165.5L328.6 169.2z" fill="#10ffef"/>
<path d="M326.6 159.4L327.2 154.7L329.7 159.6L329 165.5z" fill="#aaff55"/>
<path d="M327 154.7L327.6 161.7L330.1 165.4L329.4 159.6z" fill="#9aff65"/>
<path d="M327.4 161.7L328 157.8L330.5 164.8L329.8 165.4z" fill="#62ff9d"/>
<path d="M327.8 157.8L328.4 161.3L330.9 163.6L330.2 164.8z" fill="#6fff90"/>
<path d="M328.2 161.3L328.9 156.2L331.3 159.8L330.6 163.6z" fill="#98ff67"/>
<path d="M328.6 156.2L329.3 157.5L331.7 162.7L331.1 159.8z" fill="#b6ff49"/>
<path d="M329 157.5L329.7 155.2L332.1 160.1L331.5 162.7z" fill="#b9ff46"/>
<path d="M329.4 155.2L330.1 157.1L332.5 159.9L331.9 160.1z" fill="#cdff32"/>
<path d="M329.8 157.1L330.5 153.5L332.9 156.5L332.3 159.9z" fill="#efff10"/>
<path d="M330.2 153.5L330.9 153.7L333.4 158.9L332.7 156.5z" fill="#fff400"/>
<path d="M330.7 153.7L331.3 159.6L333.8 165.2L333.1 158.9z" fill="#a7ff58"/>
<path d="M331.1 159.6L331.7 157.5L334.2 163L333.5 165.2z" fill="#72ff8d"/>
<path d="M331.5 157.5L332.1 160L334.6 163L333.9 163z" fill="#7cff83"/>
<path d="M331.9 160L332.5 159.9L335 163.9L334.3 163z" fill="#64ff9b"/>
<path d="M332.3 159.9L332.9 158L335.4 162.7L334.7 163.9z" fill="#72ff8d"/>
<path d="M332.7 158L333.4 159L335.8 162.7L335.2 162.7z" fill="#7eff81"/>
<path d="M333.1 159L333.8 167.4L336.2 170.3L335.6 162.7z" fill="#0efff1"/>
<path d="M333.5 167.4L334.2 153.7L336.6 157.9L336 170.3z" fill="#4effb1"/>
<path d="M333.9 153.7L334.6 153.9L337 159.3L336.4 157.9z" fill="#eeff11"/>
<path d="M334.3 153.9L335 160.3L337.5 165.9L336.8 159.3z" fill="#8cff73"/>
<path d="M334.7 160.3L335.4 160.1L337.9 164L337.2 165.9z" fill="#43ffbc"/>
<path d="M335.2 160.1L335.8 157.8L338.3 162.4L337.6 164z" fill="#6aff95"/>
<path d="M335.6 157.8L336.2 160.2L338.7 166.2L338 162.4z" fill="#59ffa6"/>
<path d="M336 160.2L336.6 155.4L339.1 160.7L338.4 166.2z" fill="#73ff8c"/>
<path d="M336.4 155.4L337 156.2L339.5 162.3L338.8 160.7z" fill="#a5ff5a"/>
<path d="M336.8 156.2L337.5 156.3L339.9 160.6L339.3 162.3z" fill="#9fff60"/>
<path d="M337.2 156.3L337.9 158L340.3 163.2L339.7 160.6z" fill="#8bff74"/>
<path d="M337.6 158L338.3 157.5L340.7 161.3L340.1 163.2z" fill="#7dff82"/>
<path d="M338 157.5L338.7 152.5L341.1 156.5L340.5 161.3z" fill="#cbff34"/>
<path d="M338.4 152.5L339.1 154.5L341.6 158L340.9 156.5z" fill="#f3ff0c"/>
<path d="M338.8 154.5L339.5 153.6L342 156.6L341.3 158z" fill="#eaff15"/>
<path d="M339.3 153.6L339.9 154.8L342.4 158.8L341.7 156.6z" fill="#e1ff1e"/>
<path d="M339.7 154.8L340.3 154.3L342.8 158L342.1 158.8z" fill="#d2ff2d"/>
<path d="M340.1 154.3L340.7 152.1L343.2 156.1L342.5 158z" fill="#f4ff0b"/>
<path d="M340.5 152.1L341.1 151.9L343.6 154.7L342.9 156.1z" fill="#ffe600"/>
<path d="M340.9 151.9L341.6 152.5L344 155.5L343.4 154.7z" fill="#ffe700"/>
<path d="M341.3 152.5L342 151.1L344.4 153.9L343.8 155.5z" fill="#ffdd00"/>
<path d="M341.7 151.1L342.4 150.7L344.8 153.4L344.2 153.9z" fill="#ffc500"/>
<path d="M260.6 170.3L261.2 171.3L263.7 169.9L263 175z" fill="#b3ff4c"/>
<path d="M261 171.3L261.6 162.2L264.1 165.2L263.4 169.9z" fill="#ffd700"/>
<path d="M261.4 162.2L262.1 165.1L264.5 170.9L263.9 165.2z" fill="#ffb600"/>
<path d="M261.8 165.1L262.5 173L264.9 175.8L264.3 170.9z" fill="#bbff44"/>
<path d="M262.2 173L262.9 167.3L265.3 173L264.7 175.8z" fill="#9dff62"/>
<path d="M262.6 167.3L263.3 169.2L265.7 174.2L265.1 173z" fill="#bfff40"/>
<path d="M263 169.2L263.7 166.3L266.2 171.1L265.5 174.2z" fill="#d0ff2f"/>
<path d="M263.4 166.3L264.1 169.7L266.6 173.8L265.9 171.1z" fill="#ceff31"/>
<path d="M263.9 169.7L264.5 166.4L267 167.9L266.3 173.8z" fill="#e1ff1e"/>
<path d="M264.3 166.4L264.9 163.5L267.4 167.8L266.7 167.9z" fill="#ffce00"/>
<path d="M264.7 163.5L265.3 162.3L267.8 166.7L267.1 167.8z" fill="#ffad00"/>
<path d="M265.1 162.3L265.7 167.3L268.2 169.3L267.5 166.7z" fill="#ffd200"/>
<path d="M265.5 167.3L266.2 165.9L268.6 170.8L268 169.3z" fill="#f8ff07"/>
<path d="M265.9 165.9L266.6 169.7L269 175L268.4 170.8z" fill="#c1ff3e"/>
<path d="M266.3 169.7L267 159.2L269.4 163.8L268.8 175z" fill="#ffe400"/>
<path d="M266.7 159.2L267.4 168.9L269.8 173.1L269.2 163.8z" fill="#ffd300"/>
<path d="M267.1 168.9L267.8 162.7L270.3 167.8L269.6 173.1z" fill="#f9ff06"/>
<path d="M267.5 162.7L268.2 167.6L270.7 170.4L270 167.8z" fill="#ffed00"/>
<path d="M268 167.6L268.6 169.4L271.1 171.8L270.4 170.4z" fill="#c9ff36"/>
<path d="M268.4 169.4L269 167.8L271.5 172.9L270.8 171.8z" fill="#b6ff49"/>
<path d="M268.8 167.8L269.4 169.4L271.9 173.6L271.2 172.9z" fill="#a8ff57"/>
<path d="M269.2 169.4L269.8 164.6L272.3 170.2L271.6 173.6z" fill="#ceff31"/>
<path d="M269.6 164.6L270.3 165.6L272.7 168.8L272.1 170.2z" fill="#fff900"/>
<path d="M270 165.6L270.7 157.6L273.1 162L272.5 168.8z" fill="#ff9800"/>
<path d="M270.4 157.6L271.1 173.9L273.5 178.7L272.9 162z" fill="#eeff11"/>
<path d="M270.8 173.9L271.5 164.3L273.9 170.1L273.3 178.7z" fill="#8cff73"/>
<path d="M271.2 164.3L271.9 166.3L274.3 171L273.7 170.1z" fill="#eeff11"/>
<path d="M271.6 166.3L272.3 161.4L274.8 168.1L274.1 171z" fill="#fff100"/>
<path d="M272.1 161.4L272.7 171.3L275.2 174.5L274.5 168.1z" fill="#d4ff2b"/>
<path d="M272.5 171.3L273.1 167.1L275.6 171.6L274.9 174.5z" fill="#96ff69"/>
<path d="M272.9 167.1L273.5 164L276 168.1L275.3 171.6z" fill="#efff10"/>
<path d="M273.3 164L273.9 170.5L276.4 176.6L275.7 168.1z" fill="#b7ff48"/>
<path d="M273.7 170.5L274.4 163L276.8 167.3L276.1 176.6z" fill="#c1ff3e"/>
<path d="M274.1 163L274.8 164.3L277.2 168.7L276.6 167.3z" fill="#ffe200"/>
<path d="M274.5 164.3L275.2 163L277.6 165.7L277 168.7z" fill="#ffd900"/>
<path d="M274.9 163L275.6 160.2L278 165.1L277.4 165.7z" fill="#ffa800"/>
<path d="M275.3 160.2L276 166.8L278.4 171.2L277.8 165.1z" fill="#ffe700"/>
<path d="M275.7 166.8L276.4 167.6L278.9 171.4L278.2 171.2z" fill="#bbff44"/>
<path d="M276.2 167.6L276.8 164.7L279.3 167.1L278.6 171.4z" fill="#e3ff1c"/>
<path d="M276.6 164.7L277.2 162.8L279.7 164.2L279 167.1z" fill="#ffce00"/>
<path d="M277 162.8L277.6 159.6L280.1 164.1L279.4 164.2z" fill="#ff9a00"/>
<path d="M277.4 159.6L278 166.7L280.5 171.3L279.8 164.1z" fill="#ffe400"/>
<path d="M277.8 166.7L278.4 166.9L280.9 169.5L280.2 171.3z" fill="#c5ff3a"/>
<path d="M278.2 166.9L278.9 166L281.3 168L280.7 169.5z" fill="#deff21"/>
<path d="M278.6 166L279.3 163L281.7 166.9L281.1 168z" fill="#fff700"/>
<path d="M279 163L279.7 164.4L282.1 167L281.5 166.9z" fill="#ffe700"/>
<path d="M279.4 164.4L280.1 162.3L282.5 170.1L281.9 167z" fill="#fffa00"/>
<path d="M279.8 162.3L280.5 156.4L283 163.3L282.3 170.1z" fill="#ffae00"/>
<path d="M280.2 156.4L280.9 163.2L283.4 169.6L282.7 163.3z" fill="#ffb200"/>
<path d="M280.7 163.2L281.3 164.9L283.8 168.9L283.1 169.6z" fill="#efff10"/>
<path d="M281.1 164.9L281.7 159L284.2 166.6L283.5 168.9z" fill="#ffe200"/>
<path d="M281.5 159L282.1 163L284.6 167.5L283.9 166.6z" fill="#ffce00"/>
<path d="M281.9 163L282.5 164.6L285 167.1L284.3 167.5z" fill="#fff800"/>
<path d="M282.3 164.6L283 164.5L285.4 166.9L284.8 167.1z" fill="#ffff00"/>
<path d="M282.7 164.5L283.4 160.7L285.8 161.9L285.2 166.9z" fill="#ffc500"/>
<path d="M283.1 160.7L283.8 167L286.2 171.8L285.6 161.9z" fill="#fff700"/>
<path d="M283.5 167L284.2 158.6L286.6 163.2L286 171.8z" fill="#fff300"/>
<path d="M283.9 158.6L284.6 164.3L287.1 168.7L286.4 163.2z" fill="#ffce00"/>
<path d="M284.3 164.3L285 161.7L287.5 166.8L286.8 168.7z" fill="#fffc00"/>
<path d="M284.8 161.7L285.4 158L287.9 163.9L287.2 166.8z" fill="#ffb400"/>
<path d="M285.2 158L285.8 158.3L288.3 161.4L287.6 163.9z" fill="#ff7c00"/>
<path d="M285.6 158.3L286.2 158.6L288.7 160.9L288 161.4z" fill="#ff6f00"/>
<path d="M286 158.6L286.6 162.5L289.1 167.4L288.4 160.9z" fill="#ffb200"/>
<path d="M286.4 162.5L287.1 163.3L289.5 169L288.9 167.4z" fill="#f7ff08"/>
<path d="M286.8 163.3L287.5 160.2L289.9 163.7L289.3 169z" fill="#ffe200"/>
<path d="M287.2 160.2L287.9 168.7L290.3 170L289.7 163.7z" fill="#f1ff0e"/>
<path d="M287.6 168.7L288.3 161.8L290.7 163.5L290.1 170z" fill="#e6ff19"/>
<path d="M288 161.8L288.7 161.9L291.1 166.8L290.5 163.5z" fill="#ffd700"/>
<path d="M288.4 161.9L289.1 165.7L291.6 170.2L290.9 166.8z" fill="#dfff20"/>
<path d="M288.9 165.7L289.5 154.6L292 159.2L291.3 170.2z" fill="#ffbf00"/>
<path d="M289.3 154.6L289.9 164.8L292.4 168L291.7 159.2z" fill="#ffac00"/>
<path d="M289.7 164.8L290.3 165.3L292.8 169.7L292.1 168z" fill="#c6ff39"/>
<path d="M290.1 165.3L290.7 153.6L293.2 157.6L292.5 169.7z" fill="#ffac00"/>
<path d="M290.5 153.6L291.2 164L293.6 165.1L292.9 157.6z" fill="#ff8600"/>
<path d="M290.9 164L291.6 159.7L294 161.2L293.4 165.1z" fill="#ffc800"/>
<path d="M291.3 159.7L292 162.9L294.4 168.2L293.8 161.2z" fill="#ffd700"/>
<path d="M291.7 162.9L292.4 162L294.8 167.6L294.2 168.2z" fill="#edff12"/>
<path d="M292.1 162L292.8 166.1L295.2 166.6L294.6 167.6z" fill="#e1ff1e"/>
<path d="M292.5 166.1L293.2 167.5L295.7 173L295 166.6z" fill="#98ff67"/>
<path d="M293 167.5L293.6 165.6L296.1 170.9L295.4 173z" fill="#7eff81"/>
<path d="M293.4 165.6L294 162.2L296.5 166L295.8 170.9z" fill="#cdff32"/>
<path d="M293.8 162.2L294.4 158.9L296.9 162L296.2 166z" fill="#ffcd00"/>
<path d="M294.2 158.9L294.8 153.6L297.3 155.2L296.6 162z" fill="#ff4f00"/>
<path d="M294.6 153.6L295.2 163.5L297.7 167L297 155.2z" fill="#ff8f00"/>
<path d="M295 163.5L295.7 159.6L298.1 161.8L297.5 167z" fill="#ffe300"/>
<path d="M295.4 159.6L296.1 158.5L298.5 164.3L297.9 161.8z" fill="#ffb200"/>
<path d="M295.8 158.5L296.5 160.3L298.9 162.1L298.3 164.3z" fill="#ffbb00"/>
<path d="M296.2 160.3L296.9 165.6L299.3 167.9L298.7 162.1z" fill="#fcff03"/>
<path d="M296.6 165.6L297.3 164.5L299.8 166.5L299.1 167.9z" fill="#c3ff3c"/>
<path d="M297 164.5L297.7 161.4L300.2 167.7L299.5 166.5z" fill="#deff21"/>
<path d="M297.5 161.4L298.1 166.1L300.6 168.5L299.9 167.7z" fill="#c5ff3a"/>
<path d="M297.9 166.1L298.5 165.9L301 165.5L300.3 168.5z" fill="#b4ff4b"/>
<path d="M298.3 165.9L298.9 160.7L301.4 167.3L300.7 165.5z" fill="#deff21"/>
<path d="M298.7 160.7L299.3 159.1L301.8 160.2L301.1 167.3z" fill="#ffd200"/>
<path d="M299.1 159.1L299.8 159.7L302.2 165.1L301.6 160.2z" fill="#ffbe00"/>
<path d="M299.5 159.7L300.2 160.8L302.6 166L302 165.1z" fill="#fff100"/>
<path d="M299.9 160.8L300.6 158.1L303 161L302.4 166z" fill="#ffcd00"/>
<path d="M300.3 158.1L301 155.9L303.4 160.1L302.8 161z" fill="#ff8800"/>
<path d="M300.7 155.9L301.4 159.2L303.9 164.2L303.2 160.1z" fill="#ffa500"/>
<path d="M301.1 159.2L301.8 163.7L304.3 165.3L303.6 164.2z" fill="#fffd00"/>
<path d="M301.6 163.7L302.2 160L304.7 166.2L304 165.3z" fill="#edff12"/>
<path d="M302 160L302.6 159.2L305.1 161.3L304.4 166.2z" fill="#ffda00"/>
<path d="M302.4 159.2L303 158.6L305.5 163.6L304.8 161.3z" fill="#ffc100"/>
<path d="M302.8 158.6L303.4 161.8L305.9 163.5L305.2 163.6z" fill="#ffe200"/>
<path d="M303.2 161.8L303.9 162.3L306.3 164.8L305.7 163.5z" fill="#faff05"/>
<path d="M303.6 162.3L304.3 161.6L306.7 164.5L306.1 164.8z" fill="#f3ff0c"/>
<path d="M304 161.6L304.7 162.4L307.1 165.4L306.5 164.5z" fill="#edff12"/>
<path d="M304.4 162.4L305.1 163.4L307.5 169.9L306.9 165.4z" fill="#bcff43"/>
<path d="M304.8 163.4L305.5 156.5L307.9 160.8L307.3 169.9z" fill="#fffe00"/>
<path d="M305.2 156.5L305.9 162.3L308.4 164.2L307.7 160.8z" fill="#ffd200"/>
<path d="M305.7 162.3L306.3 160.8L308.8 165.1L308.1 164.2z" fill="#f1ff0e"/>
<path d="M306.1 160.8L306.7 160.5L309.2 163.1L308.5 165.1z" fill="#fffc00"/>
<path d="M306.5 160.5L307.1 163.2L309.6 165.3L308.9 163.1z" fill="#f1ff0e"/>
<path d="M306.9 163.2L307.5 161.2L310 167.2L309.3 165.3z" fill="#d0ff2f"/>
<path d="M307.3 161.2L308 158.8L310.4 163.5L309.7 167.2z" fill="#f6ff09"/>
<path d="M307.7 158.8L308.4 162.5L310.8 167.2L310.2 163.5z" fill="#ecff13"/>
<path d="M308.1 162.5L308.8 162.9L311.2 167.5L310.6 167.2z" fill="#b5ff4a"/>
<path d="M308.5 162.9L309.2 160.4L311.6 165.2L311 167.5z" fill="#cfff30"/>
<path d="M308.9 160.4L309.6 168.1L312 170.9L311.4 165.2z" fill="#95ff6a"/>
<path d="M309.3 168.1L310 157.7L312.5 157.2L311.8 170.9z" fill="#daff25"/>
<path d="M309.8 157.7L310.4 162.7L312.9 168.8L312.2 157.2z" fill="#fff400"/>
<path d="M310.2 162.7L310.8 162L313.3 166L312.6 168.8z" fill="#b2ff4d"/>
<path d="M310.6 162L311.2 153.8L313.7 159.6L313 166z" fill="#ffd700"/>
<path d="M311 153.8L311.6 153.3L314.1 157.1L313.4 159.6z" fill="#ff6500"/>
<path d="M311.4 153.3L312 160.6L314.5 165.8L313.8 157.1z" fill="#ffbb00"/>
<path d="M311.8 160.6L312.5 160L314.9 164.6L314.3 165.8z" fill="#e5ff1a"/>
<path d="M312.2 160L312.9 160.6L315.3 163.1L314.7 164.6z" fill="#f5ff0a"/>
<path d="M312.6 160.6L313.3 153.1L315.7 159.4L315.1 163.1z" fill="#ffbc00"/>
<path d="M313 153.1L313.7 160.2L316.1 167.4L315.5 159.4z" fill="#ffd700"/>
<path d="M313.4 160.2L314.1 161.6L316.6 167.7L315.9 167.4z" fill="#b7ff48"/>
<path d="M313.8 161.6L314.5 156.4L317 161.1L316.3 167.7z" fill="#f8ff07"/>
<path d="M314.3 156.4L314.9 157.9L317.4 160.2L316.7 161.1z" fill="#ffbe00"/>
<path d="M314.7 157.9L315.3 160.4L317.8 163.3L317.1 160.2z" fill="#ffe800"/>
<path d="M315.1 160.4L315.7 160.9L318.2 163.3L317.5 163.3z" fill="#edff12"/>
<path d="M315.5 160.9L316.1 166.1L318.6 167.9L317.9 163.3z" fill="#a8ff57"/>
<path d="M315.9 166.1L316.6 166.2L319 167.8L318.4 167.9z" fill="#67ff98"/>
<path d="M316.3 166.2L317 168.2L319.4 170.6L318.8 167.8z" fill="#46ffb9"/>
<path d="M316.7 168.2L317.4 162.9L319.8 168.3L319.2 170.6z" fill="#56ffa9"/>
<path d="M317.1 162.9L317.8 154.9L320.2 159.1L319.6 168.3z" fill="#f6ff09"/>
<path d="M317.5 154.9L318.2 163.9L320.7 168L320 159.1z" fill="#f1ff0e"/>
<path d="M317.9 163.9L318.6 161.2L321.1 163.6L320.4 168z" fill="#a9ff56"/>
<path d="M318.4 161.2L319 156L321.5 160.3L320.8 163.6z" fill="#fff100"/>
<path d="M318.8 156L319.4 159.8L321.9 162.9L321.2 160.3z" fill="#ffe400"/>
<path d="M319.2 159.8L319.8 162.3L322.3 166.6L321.6 162.9z" fill="#c5ff3a"/>
<path d="M319.6 162.3L320.2 161.2L322.7 163.7L322 166.6z" fill="#b6ff49"/>
<path d="M320 161.2L320.7 165.6L323.1 170.4L322.5 163.7z" fill="#86ff79"/>
<path d="M320.4 165.6L321.1 160.7L323.5 164.7L322.9 170.4z" fill="#82ff7d"/>
<path d="M320.8 160.7L321.5 162.2L323.9 167.1L323.3 164.7z" fill="#adff52"/>
<path d="M321.2 162.2L321.9 162.8L324.3 162.5L323.7 167.1z" fill="#abff54"/>
<path d="M321.6 162.8L322.3 158.4L324.7 160.7L324.1 162.5z" fill="#ecff13"/>
<path d="M322 158.4L322.7 167L325.2 171.2L324.5 160.7z" fill="#96ff69"/>
<path d="M322.5 167L323.1 158.4L325.6 164.4L324.9 171.2z" fill="#7cff83"/>
<path d="M322.9 158.4L323.5 163.5L326 170L325.3 164.4z" fill="#9aff65"/>
<path d="M323.3 163.5L323.9 164.5L326.4 167L325.7 170z" fill="#5fffa0"/>
<path d="M323.7 164.5L324.3 160.5L326.8 162.5L326.1 167z" fill="#a3ff5c"/>
<path d="M324.1 160.5L324.8 164.6L327.2 166.5L326.5 162.5z" fill="#a4ff5b"/>
<path d="M324.5 164.6L325.2 163L327.6 167.3L327 166.5z" fill="#73ff8c"/>
<path d="M324.9 163L325.6 160.9L328 164.7L327.4 167.3z" fill="#95ff6a"/>
<path d="M325.3 160.9L326 163.4L328.4 167.7L327.8 164.7z" fill="#8eff71"/>
<path d="M325.7 163.4L326.4 163.1L328.8 166.4L328.2 167.7z" fill="#73ff8c"/>
<path d="M326.1 163.1L326.8 164.3L329.3 167.2L328.6 166.4z" fill="#6fff90"/>
<path d="M326.6 164.3L327.2 157.4L329.7 161.4L329 167.2z" fill="#b4ff4b"/>
<path d="M327 157.4L327.6 164.8L330.1 166.1L329.4 161.4z" fill="#b7ff48"/>
<path d="M327.4 164.8L328 158.9L330.5 164L329.8 166.1z" fill="#9bff64"/>
<path d="M327.8 158.9L328.4 161.5L330.9 162.6L330.2 164z" fill="#c5ff3a"/>
<path d="M328.2 161.5L328.8 168.7L331.3 173.7L330.6 162.6z" fill="#44ffbb"/>
<path d="M328.6 168.7L329.3 165L331.7 170.2L331.1 173.7z" fill="#00f9ff"/>
<path d="M329 165L329.7 159.1L332.1 161.4L331.5 170.2z" fill="#88ff77"/>
<path d="M329.4 159.1L330.1 164.9L332.5 167.7L331.9 161.4z" fill="#97ff68"/>
<path d="M329.8 164.9L330.5 164.3L332.9 166.5L332.3 167.7z" fill="#52ffad"/>
<path d="M330.2 164.3L330.9 163.1L333.4 165.4L332.7 166.5z" fill="#6cff93"/>
<path d="M330.6 163.1L331.3 159.3L333.8 162.9L333.1 165.4z" fill="#a2ff5d"/>
<path d="M331.1 159.3L331.7 162.2L334.2 164.5L333.5 162.9z" fill="#adff52"/>
<path d="M331.5 162.2L332.1 159.6L334.6 166.5L333.9 164.5z" fill="#92ff6d"/>
<path d="M331.9 159.6L332.5 159.4L335 164.3L334.3 166.5z" fill="#a4ff5b"/>
<path d="M332.3 159.4L332.9 156L335.4 161.9L334.7 164.3z" fill="#d9ff26"/>
<path d="M332.7 156L333.4 158.4L335.8 162.8L335.2 161.9z" fill="#e8ff17"/>
<path d="M333.1 158.4L333.8 164.7L336.2 173L335.6 162.8z" fill="#65ff9a"/>
<path d="M333.5 164.7L334.2 162.5L336.6 167.1L336 173z" fill="#2cffd3"/>
<path d="M333.9 162.5L334.6 162.5L337 165.5L336.4 167.1z" fill="#6aff95"/>
<path d="M334.3 162.5L335 163.4L337.5 165.4L336.8 165.5z" fill="#6dff92"/>
<path d="M334.7 163.4L335.4 162.2L337.9 164.7L337.2 165.4z" fill="#73ff8c"/>
<path d="M335.2 162.2L335.8 162.2L338.3 166.5L337.6 164.7z" fill="#72ff8d"/>
<path d="M335.6 162.2L336.2 169.8L338.7 174.5L338 166.5z" fill="#00feff"/>
<path d="M336 169.8L336.6 157.4L339.1 162.2L338.4 174.5z" fill="#39ffc6"/>
<path d="M336.4 157.4L337 158.8L339.5 163.1L338.8 162.2z" fill="#caff35"/>
<path d="M336.8 158.8L337.5 165.4L339.9 169L339.3 163.1z" fill="#67ff98"/>
<path d="M337.2 165.4L337.9 163.5L340.3 165.5L339.7 169z" fill="#38ffc7"/>
<path d="M337.6 163.5L338.3 161.9L340.7 164.5L340.1 165.5z" fill="#6bff94"/>
<path d="M338 161.9L338.7 165.7L341.1 167.9L340.5 164.5z" fill="#4bffb4"/>
<path d="M338.4 165.7L339.1 160.2L341.5 163.4L340.9 167.9z" fill="#5cffa3"/>
<path d="M338.8 160.2L339.5 161.8L342 166.8L341.3 163.4z" fill="#7cff83"/>
<path d="M339.3 161.8L339.9 160.1L342.4 164L341.7 166.8z" fill="#77ff88"/>
<path d="M339.7 160.1L340.3 162.7L342.8 167.9L342.1 164z" fill="#69ff96"/>
<path d="M340.1 162.7L340.7 160.8L343.2 162.8L342.5 167.9z" fill="#6aff95"/>
<path d="M340.5 160.8L341.1 156L343.6 160.6L342.9 162.8z" fill="#c5ff3a"/>
<path d="M340.9 156L341.6 157.5L344 159.7L343.3 160.6z" fill="#edff12"/>
<path d="M341.3 157.5L342 156.1L344.4 159.3L343.8 159.7z" fill="#f3ff0c"/>
<path d="M341.7 156.1L342.4 158.3L344.8 160.2L344.2 159.3z" fill="#e8ff17"/>
<path d="M342.1 158.3L342.8 157.5L345.2 161L344.6 160.2z" fill="#d3ff2c"/>
<path d="M342.5 157.5L343.2 155.6L345.6 158.7L345 161z" fill="#edff12"/>
<path d="M342.9 155.6L343.6 154.2L346.1 157.7L345.4 158.7z" fill="#ffe700"/>
<path d="M343.4 154.2L344 155L346.5 158L345.8 157.7z" fill="#ffe000"/>
<path d="M343.8 155L344.4 153.4L346.9 156.5L346.2 158z" fill="#ffd400"/>
<path d="M344.2 153.4L344.8 152.9L347.3 155.7L346.6 156.5z" fill="#ffb900"/>
<path d="M263 174.5L263.7 169.4L266.2 172.9L265.5 176.9z" fill="#ceff31"/>
<path d="M263.4 169.4L264.1 164.7L266.6 170.2L265.9 172.9z" fill="#ffc500"/>
<path d="M263.9 164.7L264.5 170.4L267 174.6L266.3 170.2z" fill="#ffd800"/>
<path d="M264.3 170.4L264.9 175.3L267.4 178.7L266.7 174.6z" fill="#a8ff57"/>
<path d="M264.7 175.3L265.3 172.5L267.8 175.8L267.1 178.7z" fill="#90ff6f"/>
<path d="M265.1 172.5L265.7 173.7L268.2 178.1L267.5 175.8z" fill="#9dff62"/>
<path d="M265.5 173.7L266.2 170.6L268.6 171.6L268 178.1z" fill="#c4ff3b"/>
<path d="M265.9 170.6L266.6 173.3L269 179.3L268.4 171.6z" fill="#bdff42"/>
<path d="M266.3 173.3L267 167.4L269.4 171.5L268.8 179.3z" fill="#d1ff2e"/>
<path d="M266.7 167.4L267.4 167.3L269.8 171.3L269.2 171.5z" fill="#ffd300"/>
<path d="M267.1 167.3L267.8 166.2L270.2 170.2L269.6 171.3z" fill="#ffc400"/>
<path d="M267.5 166.2L268.2 168.8L270.7 170.6L270 170.2z" fill="#ffcb00"/>
<path d="M268 168.8L268.6 170.3L271.1 173.7L270.4 170.6z" fill="#fffe00"/>
<path d="M268.4 170.3L269 174.5L271.5 175.2L270.8 173.7z" fill="#bbff44"/>
<path d="M268.8 174.5L269.4 163.3L271.9 166.6L271.2 175.2z" fill="#ffe800"/>
<path d="M269.2 163.3L269.8 172.6L272.3 179.3L271.6 166.6z" fill="#fff700"/>
<path d="M269.6 172.6L270.3 167.3L272.7 170.9L272 179.3z" fill="#cfff30"/>
<path d="M270 167.3L270.7 169.9L273.1 175.3L272.5 170.9z" fill="#f9ff06"/>
<path d="M270.4 169.9L271.1 171.3L273.5 174.2L272.9 175.3z" fill="#c8ff37"/>
<path d="M270.8 171.3L271.5 172.4L273.9 177L273.3 174.2z" fill="#abff54"/>
<path d="M271.2 172.4L271.9 173.1L274.3 177.2L273.7 177z" fill="#8aff75"/>
<path d="M271.6 173.1L272.3 169.7L274.8 173.3L274.1 177.2z" fill="#b2ff4d"/>
<path d="M272.1 169.7L272.7 168.3L275.2 174.7L274.5 173.3z" fill="#e1ff1e"/>
<path d="M272.5 168.3L273.1 161.5L275.6 165.2L274.9 174.7z" fill="#ffb400"/>
<path d="M272.9 161.5L273.5 178.2L276 179.4L275.3 165.2z" fill="#e8ff17"/>
<path d="M273.3 178.2L273.9 169.6L276.4 173.2L275.7 179.4z" fill="#7eff81"/>
<path d="M273.7 169.6L274.3 170.5L276.8 173.5L276.1 173.2z" fill="#d5ff2a"/>
<path d="M274.1 170.5L274.8 167.6L277.2 169.8L276.6 173.5z" fill="#f7ff08"/>
<path d="M274.5 167.6L275.2 174L277.6 180.4L277 169.8z" fill="#b2ff4d"/>
<path d="M274.9 174L275.6 171.1L278 171.4L277.4 180.4z" fill="#8fff70"/>
<path d="M275.3 171.1L276 167.6L278.4 173.6L277.8 171.4z" fill="#e4ff1b"/>
<path d="M275.7 167.6L276.4 176.1L278.9 178L278.2 173.6z" fill="#97ff68"/>
<path d="M276.1 176.1L276.8 166.8L279.3 171.7L278.6 178z" fill="#a7ff58"/>
<path d="M276.6 166.8L277.2 168.2L279.7 171.7L279 171.7z" fill="#fffc00"/>
<path d="M277 168.2L277.6 165.2L280.1 169L279.4 171.7z" fill="#ffe100"/>
<path d="M277.4 165.2L278 164.6L280.5 165.7L279.8 169z" fill="#ffa400"/>
<path d="M277.8 164.6L278.4 170.7L280.9 173L280.2 165.7z" fill="#ffe400"/>
<path d="M278.2 170.7L278.9 170.9L281.3 172.5L280.7 173z" fill="#c3ff3c"/>
<path d="M278.6 170.9L279.3 166.6L281.7 172.1L281.1 172.5z" fill="#e3ff1c"/>
<path d="M279 166.6L279.7 163.7L282.1 168.9L281.5 172.1z" fill="#ffd600"/>
<path d="M279.4 163.7L280.1 163.6L282.5 170.5L281.9 168.9z" fill="#ffb900"/>
<path d="M279.8 163.6L280.5 170.8L283 175.8L282.3 170.5z" fill="#e8ff17"/>
<path d="M280.2 170.8L280.9 169L283.4 172L282.7 175.8z" fill="#b9ff46"/>
<path d="M280.7 169L281.3 167.5L283.8 171.4L283.1 172z" fill="#eaff15"/>
<path d="M281.1 167.5L281.7 166.4L284.2 171.8L283.5 171.4z" fill="#fbff04"/>
<path d="M281.5 166.4L282.1 166.5L284.6 170L283.9 171.8z" fill="#fff500"/>
<path d="M281.9 166.5L282.5 169.6L285 173L284.3 170z" fill="#eaff15"/>
<path d="M282.3 169.6L283 162.8L285.4 166.9L284.8 173z" fill="#ffe800"/>
<path d="M282.7 162.8L283.4 169.1L285.8 174.4L285.2 166.9z" fill="#ffef00"/>
<path d="M283.1 169.1L283.8 168.4L286.2 171.1L285.6 174.4z" fill="#cdff32"/>
<path d="M283.5 168.4L284.2 166.1L286.6 169.3L286 171.1z" fill="#fffe00"/>
<path d="M283.9 166.1L284.6 167L287 174.2L286.4 169.3z" fill="#f3ff0c"/>
<path d="M284.3 167L285 166.6L287.5 171.6L286.8 174.2z" fill="#e0ff1f"/>
<path d="M284.8 166.6L285.4 166.4L287.9 169.5L287.2 171.6z" fill="#fffd00"/>
<path d="M285.2 166.4L285.8 161.4L288.3 167.2L287.6 169.5z" fill="#ffc000"/>
<path d="M285.6 161.4L286.2 171.3L288.7 173.5L288 167.2z" fill="#fffb00"/>
<path d="M286 171.3L286.6 162.7L289.1 166.4L288.4 173.5z" fill="#feff01"/>
<path d="M286.4 162.7L287.1 168.2L289.5 170.4L288.8 166.4z" fill="#ffd900"/>
<path d="M286.8 168.2L287.5 166.3L289.9 172.2L289.3 170.4z" fill="#e6ff19"/>
<path d="M287.2 166.3L287.9 163.4L290.3 166.8L289.7 172.2z" fill="#ffe200"/>
<path d="M287.6 163.4L288.3 160.9L290.7 166.7L290.1 166.8z" fill="#ff9c00"/>
<path d="M288 160.9L288.7 160.4L291.1 164.9L290.5 166.7z" fill="#ff7e00"/>
<path d="M288.4 160.4L289.1 166.9L291.6 170.5L290.9 164.9z" fill="#ffbf00"/>
<path d="M288.9 166.9L289.5 168.5L292 171.6L291.3 170.5z" fill="#dcff23"/>
<path d="M289.3 168.5L289.9 163.2L292.4 169L291.7 171.6z" fill="#fdff02"/>
<path d="M289.7 163.2L290.3 169.5L292.8 170.6L292.1 169z" fill="#fcff03"/>
<path d="M290.1 169.5L290.7 163L293.2 164.4L292.5 170.6z" fill="#ffe400"/>
<path d="M290.5 163L291.1 166.3L293.6 172.7L292.9 164.4z" fill="#ffdf00"/>
<path d="M290.9 166.3L291.6 169.7L294 173.8L293.4 172.7z" fill="#b4ff4b"/>
<path d="M291.3 169.7L292 158.7L294.4 163.6L293.8 173.8z" fill="#ffdf00"/>
<path d="M291.7 158.7L292.4 167.5L294.8 171.2L294.2 163.6z" fill="#ffc000"/>
<path d="M292.1 167.5L292.8 169.2L295.2 172.1L294.6 171.2z" fill="#c0ff3f"/>
<path d="M292.5 169.2L293.2 157.1L295.7 164L295 172.1z" fill="#ffcc00"/>
<path d="M292.9 157.1L293.6 164.6L296.1 169.5L295.4 164z" fill="#ff9e00"/>
<path d="M293.4 164.6L294 160.7L296.5 161.9L295.8 169.5z" fill="#ffa900"/>
<path d="M293.8 160.7L294.4 167.7L296.9 170L296.2 161.9z" fill="#ffc300"/>
<path d="M294.2 167.7L294.8 167.1L297.3 172.1L296.6 170z" fill="#cdff32"/>
<path d="M294.6 167.1L295.2 166.1L297.7 171.8L297 172.1z" fill="#caff35"/>
<path d="M295 166.1L295.7 172.5L298.1 174.5L297.5 171.8z" fill="#96ff69"/>
<path d="M295.4 172.5L296.1 170.4L298.5 175.4L297.9 174.5z" fill="#60ff9f"/>
<path d="M295.8 170.4L296.5 165.5L298.9 170.1L298.3 175.4z" fill="#a9ff56"/>
<path d="M296.2 165.5L296.9 161.5L299.3 167.7L298.7 170.1z" fill="#ffea00"/>
<path d="M296.6 161.5L297.3 154.7L299.8 159L299.1 167.7z" fill="#ff5b00"/>
<path d="M297 154.7L297.7 166.5L300.2 168.6L299.5 159z" fill="#ff8400"/>
<path d="M297.5 166.5L298.1 161.3L300.6 166.2L299.9 168.6z" fill="#ffe000"/>
<path d="M297.9 161.3L298.5 163.8L301 171.4L300.3 166.2z" fill="#ffe100"/>
<path d="M298.3 163.8L298.9 161.6L301.4 167.6L300.7 171.4z" fill="#ffee00"/>
<path d="M298.7 161.6L299.3 167.4L301.8 170.3L301.1 167.6z" fill="#feff01"/>
<path d="M299.1 167.4L299.8 166L302.2 171.5L301.6 170.3z" fill="#c6ff39"/>
<path d="M299.5 166L300.2 167.2L302.6 171.8L302 171.5z" fill="#bdff42"/>
<path d="M299.9 167.2L300.6 168L303 172.2L302.4 171.8z" fill="#aaff55"/>
<path d="M300.3 168L301 165L303.4 168.3L302.8 172.2z" fill="#cdff32"/>
<path d="M300.7 165L301.4 166.8L303.8 169L303.2 168.3z" fill="#e8ff17"/>
<path d="M301.1 166.8L301.8 159.7L304.3 163.6L303.6 169z" fill="#ffd600"/>
<path d="M301.6 159.7L302.2 164.6L304.7 167.4L304 163.6z" fill="#ffbe00"/>
<path d="M302 164.6L302.6 165.5L305.1 167.4L304.4 167.4z" fill="#fffe00"/>
<path d="M302.4 165.5L303 160.5L305.5 162.2L304.8 167.4z" fill="#ffc200"/>
<path d="M302.8 160.5L303.4 159.6L305.9 162.9L305.2 162.2z" fill="#ff8000"/>
<path d="M303.2 159.6L303.9 163.7L306.3 168.8L305.6 162.9z" fill="#ffc200"/>
<path d="M303.6 163.7L304.3 164.8L306.7 167.5L306.1 168.8z" fill="#fbff04"/>
<path d="M304 164.8L304.7 165.7L307.1 169.7L306.5 167.5z" fill="#e6ff19"/>
<path d="M304.4 165.7L305.1 160.8L307.5 163.7L306.9 169.7z" fill="#ffe600"/>
<path d="M304.8 160.8L305.5 163.1L307.9 167L307.3 163.7z" fill="#ffc500"/>
<path d="M305.2 163.1L305.9 163L308.4 165.7L307.7 167z" fill="#ffe200"/>
<path d="M305.7 163L306.3 164.3L308.8 168.4L308.1 165.7z" fill="#fff500"/>
<path d="M306.1 164.3L306.7 164L309.2 167.8L308.5 168.4z" fill="#f3ff0c"/>
<path d="M306.5 164L307.1 164.9L309.6 166.1L308.9 167.8z" fill="#fcff03"/>
<path d="M306.9 164.9L307.5 169.4L310 176.1L309.3 166.1z" fill="#a2ff5d"/>
<path d="M307.3 169.4L307.9 160.3L310.4 165.3L309.7 176.1z" fill="#c4ff3b"/>
<path d="M307.7 160.3L308.4 163.7L310.8 166.6L310.2 165.3z" fill="#ffd800"/>
<path d="M308.1 163.7L308.8 164.6L311.2 171.2L310.6 166.6z" fill="#e2ff1d"/>
<path d="M308.5 164.6L309.2 162.6L311.6 165L311 171.2z" fill="#f2ff0d"/>
<path d="M308.9 162.6L309.6 164.8L312 167.9L311.4 165z" fill="#fff900"/>
<path d="M309.3 164.8L310 166.7L312.5 169.5L311.8 167.9z" fill="#cbff34"/>
<path d="M309.7 166.7L310.4 163L312.9 164.6L312.2 169.5z" fill="#ebff14"/>
<path d="M310.2 163L310.8 166.7L313.3 169.6L312.6 164.6z" fill="#e9ff16"/>
<path d="M310.6 166.7L311.2 167L313.7 171.3L313 169.6z" fill="#a1ff5e"/>
<path d="M311 167L311.6 164.7L314.1 167.5L313.4 171.3z" fill="#baff45"/>
<path d="M311.4 164.7L312 170.4L314.5 173.4L313.8 167.5z" fill="#95ff6a"/>
<path d="M311.8 170.4L312.5 156.7L314.9 160L314.3 173.4z" fill="#f8ff07"/>
<path d="M312.2 156.7L312.9 168.3L315.3 170.6L314.7 160z" fill="#ffe600"/>
<path d="M312.6 168.3L313.3 165.5L315.7 167.2L315.1 170.6z" fill="#adff52"/>
<path d="M313 165.5L313.7 159.1L316.1 161.8L315.5 167.2z" fill="#ffdd00"/>
<path d="M313.4 159.1L314.1 156.6L316.6 162.3L315.9 161.8z" fill="#ff8400"/>
<path d="M313.8 156.6L314.5 165.3L317 168.3L316.3 162.3z" fill="#ffd800"/>
<path d="M314.3 165.3L314.9 164.1L317.4 165.9L316.7 168.3z" fill="#dcff23"/>
<path d="M314.7 164.1L315.3 162.6L317.8 162.2L317.1 165.9z" fill="#ffea00"/>
<path d="M315.1 162.6L315.7 158.9L318.2 165.1L317.5 162.2z" fill="#ffc400"/>
<path d="M315.5 158.9L316.1 166.9L318.6 170.9L317.9 165.1z" fill="#e3ff1c"/>
<path d="M315.9 166.9L316.6 167.2L319 169.6L318.4 170.9z" fill="#8eff71"/>
<path d="M316.3 167.2L317 160.6L319.4 164.7L318.8 169.6z" fill="#dfff20"/>
<path d="M316.7 160.6L317.4 159.7L319.8 168.5L319.2 164.7z" fill="#ffe900"/>
<path d="M317.1 159.7L317.8 162.8L320.2 167.3L319.6 168.5z" fill="#f4ff0b"/>
<path d="M317.5 162.8L318.2 162.8L320.6 167.1L320 167.3z" fill="#e7ff18"/>
<path d="M317.9 162.8L318.6 167.4L321.1 170.4L320.4 167.1z" fill="#b4ff4b"/>
<path d="M318.4 167.4L319 167.3L321.5 172.1L320.8 170.4z" fill="#75ff8a"/>
<path d="M318.8 167.3L319.4 170.1L321.9 174L321.2 172.1z" fill="#4affb5"/>
<path d="M319.2 170.1L319.8 167.8L322.3 171.4L321.6 174z" fill="#49ffb6"/>
<path d="M319.6 167.8L320.2 158.6L322.7 163.9L322 171.4z" fill="#d5ff2a"/>
<path d="M320 158.6L320.7 167.5L323.1 171L322.4 163.9z" fill="#d8ff27"/>
<path d="M320.4 167.5L321.1 163.1L323.5 165.7L322.9 171z" fill="#aeff51"/>
<path d="M320.8 163.1L321.5 159.8L323.9 165.4L323.3 165.7z" fill="#fffa00"/>
<path d="M321.2 159.8L321.9 162.4L324.3 169.9L323.7 165.4z" fill="#ebff14"/>
<path d="M321.6 162.4L322.3 166.1L324.7 171.3L324.1 169.9z" fill="#9aff65"/>
<path d="M322 166.1L322.7 163.2L325.2 167.4L324.5 171.3z" fill="#a3ff5c"/>
<path d="M322.5 163.2L323.1 169.9L325.6 174.1L324.9 167.4z" fill="#76ff89"/>
<path d="M322.9 169.9L323.5 164.2L326 170.1L325.3 174.1z" fill="#5dffa2"/>
<path d="M323.3 164.2L323.9 166.6L326.4 168.7L325.7 170.1z" fill="#95ff6a"/>
<path d="M323.7 166.6L324.3 162L326.8 167.5L326.1 168.7z" fill="#b3ff4c"/>
<path d="M324.1 162L324.7 160.2L327.2 166.1L326.5 167.5z" fill="#ebff14"/>
<path d="M324.5 160.2L325.2 170.7L327.6 172.9L327 166.1z" fill="#8eff71"/>
<path d="M324.9 170.7L325.6 163.9L328 165.8L327.4 172.9z" fill="#76ff89"/>
<path d="M325.3 163.9L326 169.5L328.4 174L327.8 165.8z" fill="#76ff89"/>
<path d="M325.7 169.5L326.4 166.5L328.8 169.2L328.2 174z" fill="#4cffb3"/>
<path d="M326.1 166.5L326.8 162L329.3 167.7L328.6 169.2z" fill="#a6ff59"/>
<path d="M326.5 162L327.2 166L329.7 169.4L329 167.7z" fill="#a6ff59"/>
<path d="M327 166L327.6 166.8L330.1 167L329.4 169.4z" fill="#89ff76"/>
<path d="M327.4 166.8L328 164.2L330.5 171.4L329.8 167z" fill="#86ff79"/>
<path d="M327.8 164.2L328.4 167.2L330.9 173.8L330.2 171.4z" fill="#56ffa9"/>
<path d="M328.2 167.2L328.8 165.9L331.3 169.8L330.6 173.8z" fill="#54ffab"/>
<path d="M328.6 165.9L329.3 166.7L331.7 170.3L331.1 169.8z" fill="#6dff92"/>
<path d="M329 166.7L329.7 160.9L332.1 166.8L331.5 170.3z" fill="#a0ff5f"/>
<path d="M329.4 160.9L330.1 165.6L332.5 168.2L331.9 166.8z" fill="#b3ff4c"/>
<path d="M329.8 165.6L330.5 163.5L332.9 168.1L332.3 168.2z" fill="#98ff67"/>
<path d="M330.2 163.5L330.9 162.1L333.4 166.9L332.7 168.1z" fill="#b6ff49"/>
<path d="M330.6 162.1L331.3 173.2L333.8 174.1L333.1 166.9z" fill="#4effb1"/>
<path d="M331.1 173.2L331.7 169.7L334.2 171.8L333.5 174.1z" fill="#00f9ff"/>
<path d="M331.5 169.7L332.1 160.9L334.6 162.6L333.9 171.8z" fill="#95ff6a"/>
<path d="M331.9 160.9L332.5 167.2L335 168.9L334.3 162.6z" fill="#b7ff48"/>
<path d="M332.3 167.2L332.9 166L335.4 174L334.7 168.9z" fill="#49ffb6"/>
<path d="M332.7 166L333.4 164.9L335.8 172L335.2 174z" fill="#43ffbc"/>
<path d="M333.1 164.9L333.8 162.4L336.2 166.6L335.6 172z" fill="#89ff76"/>
<path d="M333.5 162.4L334.2 164L336.6 167.4L336 166.6z" fill="#abff54"/>
<path d="M333.9 164L334.6 166L337 170.3L336.4 167.4z" fill="#7aff85"/>
<path d="M334.3 166L335 163.8L337.4 168.2L336.8 170.3z" fill="#75ff8a"/>
<path d="M334.7 163.8L335.4 161.4L337.9 166.4L337.2 168.2z" fill="#abff54"/>
<path d="M335.2 161.4L335.8 162.3L338.3 169.4L337.6 166.4z" fill="#acff53"/>
<path d="M335.6 162.3L336.2 172.5L338.7 177.9L338 169.4z" fill="#16ffe9"/>
<path d="M336 172.5L336.6 166.6L339.1 170.2L338.4 177.9z" fill="#00f2ff"/>
<path d="M336.4 166.6L337 165L339.5 168.1L338.8 170.2z" fill="#63ff9c"/>
<path d="M336.8 165L337.5 164.9L339.9 170.1L339.2 168.1z" fill="#6dff92"/>
<path d="M337.2 164.9L337.9 164.2L340.3 167.1L339.7 170.1z" fill="#77ff88"/>
<path d="M337.6 164.2L338.3 166L340.7 171L340.1 167.1z" fill="#69ff96"/>
<path d="M338 166L338.7 174L341.1 177.6L340.5 171z" fill="#00e1ff"/>
<path d="M338.4 174L339.1 161.7L341.5 167.9L340.9 177.6z" fill="#12ffed"/>
<path d="M338.8 161.7L339.5 162.6L342 165.5L341.3 167.9z" fill="#aaff55"/>
<path d="M339.3 162.6L339.9 168.5L342.4 170.1L341.7 165.5z" fill="#6dff92"/>
<path d="M339.7 168.5L340.3 165L342.8 168.6L342.1 170.1z" fill="#48ffb7"/>
<path d="M340.1 165L340.7 164L343.2 167.2L342.5 168.6z" fill="#78ff87"/>
<path d="M340.5 164L341.1 167.4L343.6 172.1L342.9 167.2z" fill="#4fffb0"/>
<path d="M340.9 167.4L341.5 162.9L344 169.5L343.3 172.1z" fill="#45ffba"/>
<path d="M341.3 162.9L342 166.3L344.4 169.3L343.8 169.5z" fill="#5effa1"/>
<path d="M341.7 166.3L342.4 163.5L344.8 168.4L344.2 169.3z" fill="#60ff9f"/>
<path d="M342.1 163.5L342.8 167.4L345.2 171.1L344.6 168.4z" fill="#4bffb4"/>
<path d="M342.5 167.4L343.2 162.3L345.6 168.4L345 171.1z" fill="#52ffad"/>
<path d="M342.9 162.3L343.6 160.1L346.1 165.4L345.4 168.4z" fill="#a6ff59"/>
<path d="M343.3 160.1L344 159.2L346.5 162.9L345.8 165.4z" fill="#dcff23"/>
<path d="M343.8 159.2L344.4 158.8L346.9 163.5L346.2 162.9z" fill="#f0ff0f"/>
<path d="M344.2 158.8L344.8 159.7L347.3 163.1L346.6 163.5z" fill="#e9ff16"/>
<path d="M344.6 159.7L345.2 160.5L347.7 164.4L347 163.1z" fill="#d7ff28"/>
<path d="M345 160.5L345.6 158.2L348.1 162.2L347.4 164.4z" fill="#e6ff19"/>
<path d="M345.4 158.2L346.1 157.2L348.5 160.6L347.9 162.2z" fill="#ffeb00"/>
<path d="M345.8 157.2L346.5 157.5L348.9 161.3L348.3 160.6z" fill="#ffe200"/>
<path d="M346.2 157.5L346.9 156L349.3 160L348.7 161.3z" fill="#ffd800"/>
<path d="M346.6 156L347.3 155.2L349.7 159.1L349.1 160z" fill="#ffbc00"/>
<path d="M265.5 176.4L266.2 172.4L268.6 175.4L267.9 177.3z" fill="#e5ff1a"/>
<path d="M265.9 172.4L266.6 169.7L269 174.3L268.4 175.4z" fill="#ffda00"/>
<path d="M266.3 169.7L267 174.1L269.4 177.6L268.8 174.3z" fill="#fff500"/>
<path d="M266.7 174.1L267.4 178.2L269.8 182L269.2 177.6z" fill="#9dff62"/>
<path d="M267.1 178.2L267.8 175.3L270.2 176.8L269.6 182z" fill="#99ff66"/>
<path d="M267.5 175.3L268.2 177.6L270.7 181L270 176.8z" fill="#a2ff5d"/>
<path d="M268 177.6L268.6 171.1L271.1 173.8L270.4 181z" fill="#cfff30"/>
<path d="M268.4 171.1L269 178.8L271.5 185.6L270.8 173.8z" fill="#a8ff57"/>
<path d="M268.8 178.8L269.4 171L271.9 173.4L271.2 185.6z" fill="#aaff55"/>
<path d="M269.2 171L269.8 170.8L272.3 177.4L271.6 173.4z" fill="#ffec00"/>
<path d="M269.6 170.8L270.2 169.7L272.7 174.9L272 177.4z" fill="#ffef00"/>
<path d="M270 169.7L270.7 170.1L273.1 173.4L272.5 174.9z" fill="#ffd100"/>
<path d="M270.4 170.1L271.1 173.2L273.5 173.8L272.9 173.4z" fill="#ffe200"/>
<path d="M270.8 173.2L271.5 174.7L273.9 179.4L273.3 173.8z" fill="#d5ff2a"/>
<path d="M271.2 174.7L271.9 166.1L274.3 167.4L273.7 179.4z" fill="#ffd200"/>
<path d="M271.6 166.1L272.3 178.8L274.8 183.8L274.1 167.4z" fill="#f3ff0c"/>
<path d="M272 178.8L272.7 170.4L275.2 171.6L274.5 183.8z" fill="#b9ff46"/>
<path d="M272.5 170.4L273.1 174.8L275.6 179.7L274.9 171.6z" fill="#edff12"/>
<path d="M272.9 174.8L273.5 173.7L276 179.2L275.3 179.7z" fill="#a4ff5b"/>
<path d="M273.3 173.7L273.9 176.5L276.4 178.8L275.7 179.2z" fill="#9eff61"/>
<path d="M273.7 176.5L274.3 176.7L276.8 177.9L276.1 178.8z" fill="#91ff6e"/>
<path d="M274.1 176.7L274.8 172.8L277.2 173.9L276.6 177.9z" fill="#c8ff37"/>
<path d="M274.5 172.8L275.2 174.2L277.6 177.2L277 173.9z" fill="#dbff24"/>
<path d="M274.9 174.2L275.6 164.7L278 170.4L277.4 177.2z" fill="#ffd900"/>
<path d="M275.3 164.7L276 178.9L278.4 179.4L277.8 170.4z" fill="#f7ff08"/>
<path d="M275.7 178.9L276.4 172.7L278.9 176.7L278.2 179.4z" fill="#98ff67"/>
<path d="M276.1 172.7L276.8 173L279.3 177.2L278.6 176.7z" fill="#cbff34"/>
<path d="M276.6 173L277.2 169.3L279.7 172.8L279 177.2z" fill="#f9ff06"/>
<path d="M277 169.3L277.6 179.9L280.1 181.2L279.4 172.8z" fill="#b1ff4e"/>
<path d="M277.4 179.9L278 170.9L280.5 173.7L279.8 181.2z" fill="#9fff60"/>
<path d="M277.8 170.9L278.4 173.1L280.9 176.5L280.2 173.7z" fill="#e9ff16"/>
<path d="M278.2 173.1L278.9 177.5L281.3 179.1L280.7 176.5z" fill="#98ff67"/>
<path d="M278.6 177.5L279.3 171.2L281.7 176.5L281.1 179.1z" fill="#a4ff5b"/>
<path d="M279 171.2L279.7 171.2L282.1 173.4L281.5 176.5z" fill="#f1ff0e"/>
<path d="M279.4 171.2L280.1 168.5L282.5 169.9L281.9 173.4z" fill="#ffd100"/>
<path d="M279.8 168.5L280.5 165.2L282.9 171.9L282.3 169.9z" fill="#ffa200"/>
<path d="M280.2 165.2L280.9 172.5L283.4 176.1L282.7 171.9z" fill="#ffe600"/>
<path d="M280.7 172.5L281.3 172L283.8 175L283.1 176.1z" fill="#d6ff29"/>
<path d="M281.1 172L281.7 171.6L284.2 175.9L283.5 175z" fill="#dbff24"/>
<path d="M281.5 171.6L282.1 168.4L284.6 170.1L283.9 175.9z" fill="#ffed00"/>
<path d="M281.9 168.4L282.5 170L285 173.1L284.3 170.1z" fill="#ffd100"/>
<path d="M282.3 170L283 175.3L285.4 176.5L284.7 173.1z" fill="#d4ff2b"/>
<path d="M282.7 175.3L283.4 171.5L285.8 177.4L285.2 176.5z" fill="#adff52"/>
<path d="M283.1 171.5L283.8 170.9L286.2 175.9L285.6 177.4z" fill="#ccff33"/>
<path d="M283.5 170.9L284.2 171.3L286.6 178.1L286 175.9z" fill="#c7ff38"/>
<path d="M283.9 171.3L284.6 169.5L287 171.1L286.4 178.1z" fill="#efff10"/>
<path d="M284.3 169.5L285 172.5L287.5 173.6L286.8 171.1z" fill="#fffb00"/>
<path d="M284.8 172.5L285.4 166.4L287.9 168.5L287.2 173.6z" fill="#ffd700"/>
<path d="M285.2 166.4L285.8 173.9L288.3 177.4L287.6 168.5z" fill="#fffb00"/>
<path d="M285.6 173.9L286.2 170.6L288.7 172.7L288 177.4z" fill="#cbff34"/>
<path d="M286 170.6L286.6 168.8L289.1 174.6L288.4 172.7z" fill="#fdff02"/>
<path d="M286.4 168.8L287 173.7L289.5 176.9L288.8 174.6z" fill="#ccff33"/>
<path d="M286.8 173.7L287.5 171.1L289.9 175L289.3 176.9z" fill="#b8ff47"/>
<path d="M287.2 171.1L287.9 169L290.3 172.3L289.7 175z" fill="#f3ff0c"/>
<path d="M287.6 169L288.3 166.7L290.7 172.8L290.1 172.3z" fill="#ffe100"/>
<path d="M288 166.7L288.7 173L291.1 176.5L290.5 172.8z" fill="#e7ff18"/>
<path d="M288.4 173L289.1 165.9L291.6 169.8L290.9 176.5z" fill="#feff01"/>
<path d="M288.8 165.9L289.5 169.9L292 174.8L291.3 169.8z" fill="#ffe200"/>
<path d="M289.3 169.9L289.9 171.7L292.4 175L291.7 174.8z" fill="#d2ff2d"/>
<path d="M289.7 171.7L290.3 166.3L292.8 167.7L292.1 175z" fill="#ffe700"/>
<path d="M290.1 166.3L290.7 166.2L293.2 170.7L292.5 167.7z" fill="#ffa900"/>
<path d="M290.5 166.2L291.1 164.4L293.6 169.2L292.9 170.7z" fill="#ffa800"/>
<path d="M290.9 164.4L291.6 170L294 173.6L293.4 169.2z" fill="#ffd500"/>
<path d="M291.3 170L292 171.1L294.4 174.9L293.8 173.6z" fill="#d7ff28"/>
<path d="M291.7 171.1L292.4 168.5L294.8 173.7L294.2 174.9z" fill="#dfff20"/>
<path d="M292.1 168.5L292.8 170.1L295.2 173.2L294.6 173.7z" fill="#efff10"/>
<path d="M292.5 170.1L293.2 163.9L295.7 167.5L295 173.2z" fill="#ffca00"/>
<path d="M292.9 163.9L293.6 172.2L296.1 177.7L295.4 167.5z" fill="#fff700"/>
<path d="M293.4 172.2L294 173.3L296.5 176.4L295.8 177.7z" fill="#8dff72"/>
<path d="M293.8 173.3L294.4 163.1L296.9 166.5L296.2 176.4z" fill="#ffed00"/>
<path d="M294.2 163.1L294.8 170.7L297.3 173.2L296.6 166.5z" fill="#ffc800"/>
<path d="M294.6 170.7L295.2 171.6L297.7 175L297 173.2z" fill="#c5ff3a"/>
<path d="M295 171.6L295.7 163.5L298.1 171L297.5 175z" fill="#fffc00"/>
<path d="M295.4 163.5L296.1 169L298.5 171L297.9 171z" fill="#ffd300"/>
<path d="M295.8 169L296.5 161.4L298.9 166.6L298.3 171z" fill="#ffaa00"/>
<path d="M296.2 161.4L296.9 169.5L299.3 174.1L298.7 166.6z" fill="#ffc300"/>
<path d="M296.6 169.5L297.3 171.6L299.7 174.7L299.1 174.1z" fill="#c1ff3e"/>
<path d="M297 171.6L297.7 171.3L300.2 177.8L299.5 174.7z" fill="#9cff63"/>
<path d="M297.5 171.3L298.1 174L300.6 178.1L299.9 177.8z" fill="#75ff8a"/>
<path d="M297.9 174L298.5 174.9L301 175.4L300.3 178.1z" fill="#6bff94"/>
<path d="M298.3 174.9L298.9 169.6L301.4 170.8L300.7 175.4z" fill="#b6ff49"/>
<path d="M298.7 169.6L299.3 167.2L301.8 170.3L301.1 170.8z" fill="#fff600"/>
<path d="M299.1 167.2L299.8 158.5L302.2 164.1L301.5 170.3z" fill="#ff8200"/>
<path d="M299.5 158.5L300.2 168.1L302.6 173.4L302 164.1z" fill="#ff9e00"/>
<path d="M299.9 168.1L300.6 165.7L303 168.2L302.4 173.4z" fill="#ffea00"/>
<path d="M300.3 165.7L301 170.9L303.4 172.4L302.8 168.2z" fill="#fff600"/>
<path d="M300.7 170.9L301.4 167.1L303.8 172.2L303.2 172.4z" fill="#e3ff1c"/>
<path d="M301.1 167.1L301.8 169.8L304.3 173.5L303.6 172.2z" fill="#e2ff1d"/>
<path d="M301.6 169.8L302.2 171L304.7 176.5L304 173.5z" fill="#aaff55"/>
<path d="M302 171L302.6 171.3L305.1 176.6L304.4 176.5z" fill="#8bff74"/>
<path d="M302.4 171.3L303 171.7L305.5 173.2L304.8 176.6z" fill="#9bff64"/>
<path d="M302.8 171.7L303.4 167.8L305.9 172.2L305.2 173.2z" fill="#ccff33"/>
<path d="M303.2 167.8L303.8 168.5L306.3 172.8L305.6 172.2z" fill="#e2ff1d"/>
<path d="M303.6 168.5L304.3 163.1L306.7 168.1L306.1 172.8z" fill="#ffe300"/>
<path d="M304 163.1L304.7 166.9L307.1 171.2L306.5 168.1z" fill="#ffd000"/>
<path d="M304.4 166.9L305.1 166.9L307.5 170.8L306.9 171.2z" fill="#fffc00"/>
<path d="M304.8 166.9L305.5 161.7L307.9 166L307.3 170.8z" fill="#ffb900"/>
<path d="M305.2 161.7L305.9 162.4L308.4 168.9L307.7 166z" fill="#ff9100"/>
<path d="M305.6 162.4L306.3 168.3L308.8 172L308.1 168.9z" fill="#ffe500"/>
<path d="M306.1 168.3L306.7 167L309.2 170.8L308.5 172z" fill="#eeff11"/>
<path d="M306.5 167L307.1 169.2L309.6 174.2L308.9 170.8z" fill="#d8ff27"/>
<path d="M306.9 169.2L307.5 163.2L310 170.6L309.3 174.2z" fill="#f0ff0f"/>
<path d="M307.3 163.2L307.9 166.5L310.4 168.6L309.7 170.6z" fill="#ffd900"/>
<path d="M307.7 166.5L308.4 165.2L310.8 169.4L310.2 168.6z" fill="#ffdf00"/>
<path d="M308.1 165.2L308.8 167.9L311.2 170.6L310.6 169.4z" fill="#fff700"/>
<path d="M308.5 167.9L309.2 167.3L311.6 172L311 170.6z" fill="#e6ff19"/>
<path d="M308.9 167.3L309.6 165.6L312 170.5L311.4 172z" fill="#f4ff0b"/>
<path d="M309.3 165.6L310 175.6L312.5 175.7L311.8 170.5z" fill="#a5ff5a"/>
<path d="M309.7 175.6L310.4 164.8L312.9 169.5L312.2 175.7z" fill="#afff50"/>
<path d="M310.2 164.8L310.8 166.1L313.3 171.9L312.6 169.5z" fill="#fffa00"/>
<path d="M310.6 166.1L311.2 170.7L313.7 174.6L313 171.9z" fill="#bbff44"/>
<path d="M311 170.7L311.6 164.5L314.1 165.2L313.4 174.6z" fill="#f0ff0f"/>
<path d="M311.4 164.5L312 167.4L314.5 173.6L313.8 165.2z" fill="#fff300"/>
<path d="M311.8 167.4L312.5 169L314.9 173.1L314.3 173.6z" fill="#b7ff48"/>
<path d="M312.2 169L312.9 164.1L315.3 166.6L314.7 173.1z" fill="#faff05"/>
<path d="M312.6 164.1L313.3 169.1L315.7 173.6L315.1 166.6z" fill="#f5ff0a"/>
<path d="M313 169.1L313.7 170.8L316.1 176.3L315.5 173.6z" fill="#87ff78"/>
<path d="M313.4 170.8L314.1 167L316.5 168.7L315.9 176.3z" fill="#b4ff4b"/>
<path d="M313.8 167L314.5 172.9L317 178.5L316.3 168.7z" fill="#96ff69"/>
<path d="M314.3 172.9L314.9 159.5L317.4 164.8L316.7 178.5z" fill="#dfff20"/>
<path d="M314.7 159.5L315.3 170.1L317.8 172.3L317.1 164.8z" fill="#ffe500"/>
<path d="M315.1 170.1L315.7 166.7L318.2 170.2L317.5 172.3z" fill="#c5ff3a"/>
<path d="M315.5 166.7L316.1 161.3L318.6 163.3L317.9 170.2z" fill="#ffc600"/>
<path d="M315.9 161.3L316.6 161.8L319 167.6L318.3 163.3z" fill="#ff9700"/>
<path d="M316.3 161.8L317 167.8L319.4 167.4L318.8 167.6z" fill="#ffdd00"/>
<path d="M316.7 167.8L317.4 165.4L319.8 168.8L319.2 167.4z" fill="#fffe00"/>
<path d="M317.1 165.4L317.8 161.7L320.2 167.1L319.6 168.8z" fill="#ffd600"/>
<path d="M317.5 161.7L318.2 164.6L320.6 169L320 167.1z" fill="#ffd300"/>
<path d="M317.9 164.6L318.6 170.4L321.1 173.9L320.4 169z" fill="#c4ff3b"/>
<path d="M318.4 170.4L319 169.1L321.5 172.4L320.8 173.9z" fill="#8fff70"/>
<path d="M318.8 169.1L319.4 164.2L321.9 167.6L321.2 172.4z" fill="#dfff20"/>
<path d="M319.2 164.2L319.8 168L322.3 172L321.6 167.6z" fill="#e8ff17"/>
<path d="M319.6 168L320.2 166.8L322.7 172.4L322 172z" fill="#b5ff4a"/>
<path d="M320 166.8L320.6 166.6L323.1 171.8L322.4 172.4z" fill="#beff41"/>
<path d="M320.4 166.6L321.1 169.9L323.5 173.6L322.9 171.8z" fill="#a1ff5e"/>
<path d="M320.8 169.9L321.5 171.6L323.9 173.6L323.3 173.6z" fill="#73ff8c"/>
<path d="M321.2 171.6L321.9 173.5L324.3 178.1L323.7 173.6z" fill="#3cffc3"/>
<path d="M321.6 173.5L322.3 170.9L324.7 172.8L324.1 178.1z" fill="#44ffbb"/>
<path d="M322 170.9L322.7 163.4L325.2 168.2L324.5 172.8z" fill="#c6ff39"/>
<path d="M322.4 163.4L323.1 170.5L325.6 177.1L324.9 168.2z" fill="#acff53"/>
<path d="M322.9 170.5L323.5 165.2L326 166.8L325.3 177.1z" fill="#a7ff58"/>
<path d="M323.3 165.2L323.9 164.9L326.4 169.6L325.7 166.8z" fill="#fcff03"/>
<path d="M323.7 164.9L324.3 169.4L326.8 172.1L326.1 169.6z" fill="#bcff43"/>
<path d="M324.1 169.4L324.7 170.8L327.2 172.7L326.5 172.1z" fill="#80ff7f"/>
<path d="M324.5 170.8L325.2 166.9L327.6 173.5L327 172.7z" fill="#85ff7a"/>
<path d="M324.9 166.9L325.6 173.6L328 177.7L327.4 173.5z" fill="#50ffaf"/>
<path d="M325.3 173.6L326 169.6L328.4 172.7L327.8 177.7z" fill="#42ffbd"/>
<path d="M325.7 169.6L326.4 168.2L328.8 170.3L328.2 172.7z" fill="#95ff6a"/>
<path d="M326.1 168.2L326.8 167L329.3 170.7L328.6 170.3z" fill="#b2ff4d"/>
<path d="M326.5 167L327.2 165.6L329.7 170L329 170.7z" fill="#c3ff3c"/>
<path d="M327 165.6L327.6 172.4L330.1 175.9L329.4 170z" fill="#7bff84"/>
<path d="M327.4 172.4L328 165.3L330.5 169.6L329.8 175.9z" fill="#7fff80"/>
<path d="M327.8 165.3L328.4 173.5L330.9 175.9L330.2 169.6z" fill="#76ff89"/>
<path d="M328.2 173.5L328.8 168.7L331.3 173.6L330.6 175.9z" fill="#45ffba"/>
<path d="M328.6 168.7L329.3 167.2L331.7 172.1L331.1 173.6z" fill="#85ff7a"/>
<path d="M329 167.2L329.7 168.9L332.1 172.8L331.5 172.1z" fill="#87ff78"/>
<path d="M329.4 168.9L330.1 166.5L332.5 174L331.9 172.8z" fill="#7eff81"/>
<path d="M329.8 166.5L330.5 170.9L332.9 174.2L332.3 174z" fill="#67ff98"/>
<path d="M330.2 170.9L330.9 173.3L333.3 175.3L332.7 174.2z" fill="#30ffcf"/>
<path d="M330.6 173.3L331.3 169.3L333.8 172L333.1 175.3z" fill="#48ffb7"/>
<path d="M331.1 169.3L331.7 169.8L334.2 174.4L333.5 172z" fill="#63ff9c"/>
<path d="M331.5 169.8L332.1 166.3L334.6 171.9L333.9 174.4z" fill="#76ff89"/>
<path d="M331.9 166.3L332.5 167.7L335 172.7L334.3 171.9z" fill="#8dff72"/>
<path d="M332.3 167.7L332.9 167.6L335.4 169.2L334.7 172.7z" fill="#95ff6a"/>
<path d="M332.7 167.6L333.4 166.4L335.8 173.2L335.1 169.2z" fill="#99ff66"/>
<path d="M333.1 166.4L333.8 173.6L336.2 180.8L335.6 173.2z" fill="#24ffdb"/>
<path d="M333.5 173.6L334.2 171.3L336.6 176.6L336 180.8z" fill="#00ebff"/>
<path d="M333.9 171.3L334.6 162.1L337 167.4L336.4 176.6z" fill="#8dff72"/>
<path d="M334.3 162.1L335 168.4L337.4 173.7L336.8 167.4z" fill="#b2ff4d"/>
<path d="M334.7 168.4L335.4 173.5L337.9 176.6L337.2 173.7z" fill="#2affd5"/>
<path d="M335.2 173.5L335.8 171.5L338.3 176.2L337.6 176.6z" fill="#04fffb"/>
<path d="M335.6 171.5L336.2 166.1L338.7 171.9L338 176.2z" fill="#51ffae"/>
<path d="M336 166.1L336.6 166.9L339.1 172L338.4 171.9z" fill="#89ff76"/>
<path d="M336.4 166.9L337 169.8L339.5 171L338.8 172z" fill="#76ff89"/>
<path d="M336.8 169.8L337.4 167.7L339.9 172.5L339.2 171z" fill="#6cff93"/>
<path d="M337.2 167.7L337.9 165.9L340.3 169.1L339.7 172.5z" fill="#91ff6e"/>
<path d="M337.6 165.9L338.3 168.9L340.7 173.2L340.1 169.1z" fill="#82ff7d"/>
<path d="M338 168.9L338.7 177.4L341.1 179.3L340.5 173.2z" fill="#00f1ff"/>
<path d="M338.4 177.4L339.1 169.7L341.5 172.5L340.9 179.3z" fill="#00efff"/>
<path d="M338.8 169.7L339.5 167.6L342 173.3L341.3 172.5z" fill="#57ffa8"/>
<path d="M339.2 167.6L339.9 169.6L342.4 177.5L341.7 173.3z" fill="#35ffca"/>
<path d="M339.7 169.6L340.3 166.6L342.8 172.8L342.1 177.5z" fill="#3effc1"/>
<path d="M340.1 166.6L340.7 170.5L343.2 176.3L342.5 172.8z" fill="#3effc1"/>
<path d="M340.5 170.5L341.1 177.1L343.6 180.3L342.9 176.3z" fill="#00c5ff"/>
<path d="M340.9 177.1L341.5 167.4L344 172.1L343.3 180.3z" fill="#00f3ff"/>
<path d="M341.3 167.4L342 165L344.4 166.1L343.8 172.1z" fill="#a0ff5f"/>
<path d="M341.7 165L342.4 169.6L344.8 173.5L344.2 166.1z" fill="#87ff78"/>
<path d="M342.1 169.6L342.8 168.1L345.2 172.8L344.6 173.5z" fill="#45ffba"/>
<path d="M342.5 168.1L343.2 166.7L345.6 171.1L345 172.8z" fill="#66ff99"/>
<path d="M342.9 166.7L343.6 171.6L346.1 174.3L345.4 171.1z" fill="#44ffbb"/>
<path d="M343.3 171.6L344 169L346.5 172L345.8 174.3z" fill="#2dffd2"/>
<path d="M343.8 169L344.4 168.8L346.9 171.5L346.2 172z" fill="#51ffae"/>
<path d="M344.2 168.8L344.8 167.9L347.3 173.2L346.6 171.5z" fill="#4fffb0"/>
<path d="M344.6 167.9L345.2 170.6L347.7 174.3L347 173.2z" fill="#2fffd0"/>
<path d="M345 170.6L345.6 167.9L348.1 172.1L347.4 174.3z" fill="#35ffca"/>
<path d="M345.4 167.9L346.1 164.9L348.5 167.6L347.9 172.1z" fill="#85ff7a"/>
<path d="M345.8 164.9L346.5 162.4L348.9 165.5L348.3 167.6z" fill="#d3ff2c"/>
<path d="M346.2 162.4L346.9 163L349.3 167.9L348.7 165.5z" fill="#dcff23"/>
<path d="M346.6 163L347.3 162.6L349.7 167.9L349.1 167.9z" fill="#c9ff36"/>
<path d="M347 162.6L347.7 163.9L350.1 168.2L349.5 167.9z" fill="#c0ff3f"/>
<path d="M347.4 163.9L348.1 161.7L350.6 165.9L349.9 168.2z" fill="#d1ff2e"/>
<path d="M347.9 161.7L348.5 160.1L351 164.7L350.3 165.9z" fill="#fffe00"/>
<path d="M348.3 160.1L348.9 160.8L351.4 165.1L350.7 164.7z" fill="#fff400"/>
<path d="M348.7 160.8L349.3 159.5L351.8 164L351.1 165.1z" fill="#ffed00"/>
<path d="M349.1 159.5L349.7 158.6L352.2 163.2L351.5 164z" fill="#ffd300"/>
<path d="M267.9 176.8L268.6 174.9L271.1 179.3L270.4 182.1z" fill="#e4ff1b"/>
<path d="M268.4 174.9L269 173.8L271.5 179L270.8 179.3z" fill="#fff400"/>
<path d="M268.8 173.8L269.4 177.1L271.9 181.4L271.2 179z" fill="#ecff13"/>
<path d="M269.2 177.1L269.8 181.5L272.3 186L271.6 181.4z" fill="#8bff74"/>
<path d="M269.6 181.5L270.2 176.3L272.7 177.8L272 186z" fill="#a6ff59"/>
<path d="M270 176.3L270.7 180.5L273.1 180.4L272.5 177.8z" fill="#d0ff2f"/>
<path d="M270.4 180.5L271.1 173.3L273.5 178.2L272.9 180.4z" fill="#dfff20"/>
<path d="M270.8 173.3L271.5 185.1L273.9 188.6L273.3 178.2z" fill="#8aff75"/>
<path d="M271.2 185.1L271.9 172.9L274.3 176.8L273.7 188.6z" fill="#94ff6b"/>
<path d="M271.6 172.9L272.3 176.9L274.8 182.6L274.1 176.8z" fill="#efff10"/>
<path d="M272 176.9L272.7 174.4L275.2 176.6L274.5 182.6z" fill="#e6ff19"/>
<path d="M272.5 174.4L273.1 172.9L275.6 176.8L274.9 176.6z" fill="#ffd900"/>
<path d="M272.9 172.9L273.5 173.3L276 178.4L275.3 176.8z" fill="#ffdf00"/>
<path d="M273.3 173.3L273.9 178.9L276.4 180.7L275.7 178.4z" fill="#ddff22"/>
<path d="M273.7 178.9L274.3 166.9L276.8 171.1L276.1 180.7z" fill="#ffc900"/>
<path d="M274.1 166.9L274.8 183.3L277.2 187.2L276.6 171.1z" fill="#ecff13"/>
<path d="M274.5 183.3L275.2 171.1L277.6 176.9L277 187.2z" fill="#a9ff56"/>
<path d="M274.9 171.1L275.6 179.2L278 180.5L277.4 176.9z" fill="#edff12"/>
<path d="M275.3 179.2L276 178.7L278.4 185.8L277.8 180.5z" fill="#7fff80"/>
<path d="M275.7 178.7L276.4 178.3L278.8 183.1L278.2 185.8z" fill="#73ff8c"/>
<path d="M276.1 178.3L276.8 177.4L279.3 179.5L278.6 183.1z" fill="#a4ff5b"/>
<path d="M276.6 177.4L277.2 173.4L279.7 176.8L279 179.5z" fill="#ebff14"/>
<path d="M277 173.4L277.6 176.7L280.1 181.3L279.4 176.8z" fill="#e3ff1c"/>
<path d="M277.4 176.7L278 169.9L280.5 177.2L279.8 181.3z" fill="#f6ff09"/>
<path d="M277.8 169.9L278.4 178.9L280.9 183.3L280.2 177.2z" fill="#d9ff26"/>
<path d="M278.2 178.9L278.9 176.2L281.3 182.2L280.6 183.3z" fill="#8dff72"/>
<path d="M278.6 176.2L279.3 176.7L281.7 181.2L281.1 182.2z" fill="#a8ff57"/>
<path d="M279 176.7L279.7 172.3L282.1 174.3L281.5 181.2z" fill="#f4ff0b"/>
<path d="M279.4 172.3L280.1 180.7L282.5 183.6L281.9 174.3z" fill="#c8ff37"/>
<path d="M279.8 180.7L280.5 173.2L282.9 177.6L282.3 183.6z" fill="#abff54"/>
<path d="M280.2 173.2L280.9 176L283.4 178.7L282.7 177.6z" fill="#e8ff17"/>
<path d="M280.7 176L281.3 178.6L283.8 181.8L283.1 178.7z" fill="#a8ff57"/>
<path d="M281.1 178.6L281.7 176L284.2 178.4L283.5 181.8z" fill="#a9ff56"/>
<path d="M281.5 176L282.1 172.9L284.6 176.6L283.9 178.4z" fill="#efff10"/>
<path d="M281.9 172.9L282.5 169.4L285 174.2L284.3 176.6z" fill="#ffc900"/>
<path d="M282.3 169.4L282.9 171.4L285.4 175.7L284.7 174.2z" fill="#ffbb00"/>
<path d="M282.7 171.4L283.4 175.6L285.8 179.6L285.2 175.7z" fill="#f5ff0a"/>
<path d="M283.1 175.6L283.8 174.5L286.2 180L285.6 179.6z" fill="#c4ff3b"/>
<path d="M283.5 174.5L284.2 175.4L286.6 180.9L286 180z" fill="#bbff44"/>
<path d="M283.9 175.4L284.6 169.6L287 174.9L286.4 180.9z" fill="#fbff04"/>
<path d="M284.3 169.6L285 172.6L287.5 173.7L286.8 174.9z" fill="#ffc300"/>
<path d="M284.7 172.6L285.4 176L287.9 178.5L287.2 173.7z" fill="#f8ff07"/>
<path d="M285.2 176L285.8 176.9L288.3 180.5L287.6 178.5z" fill="#aeff51"/>
<path d="M285.6 176.9L286.2 175.4L288.7 182.3L288 180.5z" fill="#97ff68"/>
<path d="M286 175.4L286.6 177.6L289.1 179.4L288.4 182.3z" fill="#98ff67"/>
<path d="M286.4 177.6L287 170.6L289.5 175.3L288.8 179.4z" fill="#e4ff1b"/>
<path d="M286.8 170.6L287.5 173.1L289.9 175.9L289.3 175.3z" fill="#ffe700"/>
<path d="M287.2 173.1L287.9 168L290.3 168.3L289.7 175.9z" fill="#ffa900"/>
<path d="M287.6 168L288.3 176.9L290.7 178.9L290.1 168.3z" fill="#ffd700"/>
<path d="M288 176.9L288.7 172.2L291.1 176L290.5 178.9z" fill="#d7ff28"/>
<path d="M288.4 172.2L289.1 174.1L291.6 175.9L290.9 176z" fill="#fcff03"/>
<path d="M288.8 174.1L289.5 176.4L292 179.6L291.3 175.9z" fill="#c7ff38"/>
<path d="M289.3 176.4L289.9 174.5L292.4 179L291.7 179.6z" fill="#afff50"/>
<path d="M289.7 174.5L290.3 171.8L292.8 175.9L292.1 179z" fill="#e3ff1c"/>
<path d="M290.1 171.8L290.7 172.3L293.2 176.3L292.5 175.9z" fill="#fffc00"/>
<path d="M290.5 172.3L291.1 176L293.6 180.3L292.9 176.3z" fill="#c9ff36"/>
<path d="M290.9 176L291.6 169.3L294 172.6L293.4 180.3z" fill="#f3ff0c"/>
<path d="M291.3 169.3L292 174.3L294.4 175.5L293.8 172.6z" fill="#ffe200"/>
<path d="M291.7 174.3L292.4 174.5L294.8 176L294.2 175.5z" fill="#e2ff1d"/>
<path d="M292.1 174.5L292.8 167.2L295.2 170.7L294.6 176z" fill="#ffd000"/>
<path d="M292.5 167.2L293.2 170.2L295.6 175.7L295 170.7z" fill="#ffb300"/>
<path d="M292.9 170.2L293.6 168.7L296.1 174.1L295.4 175.7z" fill="#ffd500"/>
<path d="M293.4 168.7L294 173.1L296.5 175.9L295.8 174.1z" fill="#ffea00"/>
<path d="M293.8 173.1L294.4 174.4L296.9 175.6L296.2 175.9z" fill="#e3ff1c"/>
<path d="M294.2 174.4L294.8 173.2L297.3 178.1L296.6 175.6z" fill="#d2ff2d"/>
<path d="M294.6 173.2L295.2 172.7L297.7 178.6L297 178.1z" fill="#c8ff37"/>
<path d="M295 172.7L295.7 167L298.1 171.1L297.4 178.6z" fill="#ffe000"/>
<path d="M295.4 167L296.1 177.2L298.5 182.4L297.9 171.1z" fill="#e6ff19"/>
<path d="M295.8 177.2L296.5 175.9L298.9 178.4L298.3 182.4z" fill="#7aff85"/>
<path d="M296.2 175.9L296.9 166L299.3 169.8L298.7 178.4z" fill="#ffe900"/>
<path d="M296.6 166L297.3 172.7L299.7 174L299.1 169.8z" fill="#ffb900"/>
<path d="M297 172.7L297.7 174.5L300.2 180.2L299.5 174z" fill="#c8ff37"/>
<path d="M297.5 174.5L298.1 170.5L300.6 174.9L299.9 180.2z" fill="#cfff30"/>
<path d="M297.9 170.5L298.5 170.5L301 175.1L300.3 174.9z" fill="#fff500"/>
<path d="M298.3 170.5L298.9 166.1L301.4 172L300.7 175.1z" fill="#ffc700"/>
<path d="M298.7 166.1L299.3 173.6L301.8 176.2L301.1 172z" fill="#ffe400"/>
<path d="M299.1 173.6L299.7 174.2L302.2 178.6L301.5 176.2z" fill="#b8ff47"/>
<path d="M299.5 174.2L300.2 177.3L302.6 184.2L302 178.6z" fill="#6bff94"/>
<path d="M299.9 177.3L300.6 177.6L303 180.1L302.4 184.2z" fill="#49ffb6"/>
<path d="M300.3 177.6L301 174.9L303.4 178.4L302.8 180.1z" fill="#7dff82"/>
<path d="M300.7 174.9L301.4 170.3L303.8 175.6L303.2 178.4z" fill="#c9ff36"/>
<path d="M301.1 170.3L301.8 169.8L304.3 173.9L303.6 175.6z" fill="#fff800"/>
<path d="M301.5 169.8L302.2 163.6L304.7 171L304 173.9z" fill="#ffaf00"/>
<path d="M302 163.6L302.6 172.9L305.1 177.9L304.4 171z" fill="#ffdf00"/>
<path d="M302.4 172.9L303 167.7L305.5 171.8L304.8 177.9z" fill="#fdff02"/>
<path d="M302.8 167.7L303.4 171.9L305.9 174.3L305.2 171.8z" fill="#ffe400"/>
<path d="M303.2 171.9L303.8 171.7L306.3 177.2L305.6 174.3z" fill="#dbff24"/>
<path d="M303.6 171.7L304.3 173L306.7 179.6L306.1 177.2z" fill="#b0ff4f"/>
<path d="M304 173L304.7 176L307.1 184.9L306.5 179.6z" fill="#60ff9f"/>
<path d="M304.4 176L305.1 176.1L307.5 178.5L306.9 184.9z" fill="#51ffae"/>
<path d="M304.8 176.1L305.5 172.7L307.9 178.4L307.3 178.5z" fill="#90ff6f"/>
<path d="M305.2 172.7L305.9 171.7L308.4 176.8L307.7 178.4z" fill="#b5ff4a"/>
<path d="M305.6 171.7L306.3 172.3L308.8 175L308.1 176.8z" fill="#cdff32"/>
<path d="M306.1 172.3L306.7 167.6L309.2 171.8L308.5 175z" fill="#fff600"/>
<path d="M306.5 167.6L307.1 170.7L309.6 174.7L308.9 171.8z" fill="#ffeb00"/>
<path d="M306.9 170.7L307.5 170.3L310 173.6L309.3 174.7z" fill="#f4ff0b"/>
<path d="M307.3 170.3L307.9 165.5L310.4 171.1L309.7 173.6z" fill="#ffd200"/>
<path d="M307.7 165.5L308.4 168.4L310.8 173.1L310.2 171.1z" fill="#ffc400"/>
<path d="M308.1 168.4L308.8 171.5L311.2 177L310.6 173.1z" fill="#eaff15"/>
<path d="M308.5 171.5L309.2 170.3L311.6 174.9L311 177z" fill="#d1ff2e"/>
<path d="M308.9 170.3L309.6 173.7L312 175.9L311.4 174.9z" fill="#c8ff37"/>
<path d="M309.3 173.7L310 170.1L312.4 174.1L311.8 175.9z" fill="#ceff31"/>
<path d="M309.7 170.1L310.4 168.1L312.9 171.7L312.2 174.1z" fill="#fff200"/>
<path d="M310.2 168.1L310.8 168.9L313.3 172.6L312.6 171.7z" fill="#ffe200"/>
<path d="M310.6 168.9L311.2 170.1L313.7 172.8L313 172.6z" fill="#fff800"/>
<path d="M311 170.1L311.6 171.5L314.1 176.1L313.4 172.8z" fill="#ddff22"/>
<path d="M311.4 171.5L312 170L314.5 175.8L313.8 176.1z" fill="#c9ff36"/>
<path d="M311.8 170L312.5 175.2L314.9 178.8L314.2 175.8z" fill="#9dff62"/>
<path d="M312.2 175.2L312.9 169L315.3 175L314.7 178.8z" fill="#a7ff58"/>
<path d="M312.6 169L313.3 171.4L315.7 176.7L315.1 175z" fill="#cdff32"/>
<path d="M313 171.4L313.7 174.1L316.1 175.7L315.5 176.7z" fill="#a5ff5a"/>
<path d="M313.4 174.1L314.1 164.7L316.5 173.8L315.9 175.7z" fill="#e2ff1d"/>
<path d="M313.8 164.7L314.5 173.1L317 178.3L316.3 173.8z" fill="#d6ff29"/>
<path d="M314.3 173.1L314.9 172.6L317.4 174.1L316.7 178.3z" fill="#9fff60"/>
<path d="M314.7 172.6L315.3 166.1L317.8 167.5L317.1 174.1z" fill="#ffeb00"/>
<path d="M315.1 166.1L315.7 173.1L318.2 175.4L317.5 167.5z" fill="#fff900"/>
<path d="M315.5 173.1L316.1 175.8L318.6 178.9L317.9 175.4z" fill="#79ff86"/>
<path d="M315.9 175.8L316.5 168.2L319 172.3L318.3 178.9z" fill="#acff53"/>
<path d="M316.3 168.2L317 178L319.4 181.3L318.8 172.3z" fill="#8dff72"/>
<path d="M316.7 178L317.4 164.3L319.8 171.4L319.2 181.3z" fill="#abff54"/>
<path d="M317.1 164.3L317.8 171.8L320.2 174.3L319.6 171.4z" fill="#ffff00"/>
<path d="M317.5 171.8L318.2 169.7L320.6 173.9L320 174.3z" fill="#caff35"/>
<path d="M317.9 169.7L318.6 162.8L321.1 166.8L320.4 173.9z" fill="#ffc900"/>
<path d="M318.3 162.8L319 167.1L321.5 172.9L320.8 166.8z" fill="#ffb300"/>
<path d="M318.8 167.1L319.4 166.9L321.9 174L321.2 172.9z" fill="#fffe00"/>
<path d="M319.2 166.9L319.8 168.3L322.3 173.2L321.6 174z" fill="#f5ff0a"/>
<path d="M319.6 168.3L320.2 166.6L322.7 170.9L322 173.2z" fill="#fff400"/>
<path d="M320 166.6L320.6 168.5L323.1 172.1L322.4 170.9z" fill="#ffef00"/>
<path d="M320.4 168.5L321.1 173.4L323.5 174.6L322.9 172.1z" fill="#c8ff37"/>
<path d="M320.8 173.4L321.5 171.9L323.9 174.1L323.3 174.6z" fill="#a3ff5c"/>
<path d="M321.2 171.9L321.9 167.1L324.3 172.5L323.7 174.1z" fill="#d9ff26"/>
<path d="M321.6 167.1L322.3 171.5L324.7 177.7L324.1 172.5z" fill="#c2ff3d"/>
<path d="M322 171.5L322.7 171.9L325.2 175.3L324.5 177.7z" fill="#8fff70"/>
<path d="M322.4 171.9L323.1 171.3L325.6 174.3L324.9 175.3z" fill="#a5ff5a"/>
<path d="M322.9 171.3L323.5 173.1L326 178.2L325.3 174.3z" fill="#89ff76"/>
<path d="M323.3 173.1L323.9 173.1L326.4 176.9L325.7 178.2z" fill="#6bff94"/>
<path d="M323.7 173.1L324.3 177.6L326.8 185.4L326.1 176.9z" fill="#1cffe3"/>
<path d="M324.1 177.6L324.7 172.3L327.2 173.9L326.5 185.4z" fill="#33ffcc"/>
<path d="M324.5 172.3L325.2 167.7L327.6 174.7L327 173.9z" fill="#b9ff46"/>
<path d="M324.9 167.7L325.6 176.6L328 179.8L327.4 174.7z" fill="#75ff8a"/>
<path d="M325.3 176.6L326 166.3L328.4 171.7L327.8 179.8z" fill="#90ff6f"/>
<path d="M325.7 166.3L326.4 169.1L328.8 172.4L328.2 171.7z" fill="#f0ff0f"/>
<path d="M326.1 169.1L326.8 171.6L329.2 176.9L328.6 172.4z" fill="#aaff55"/>
<path d="M326.5 171.6L327.2 172.2L329.7 175.8L329 176.9z" fill="#7eff81"/>
<path d="M327 172.2L327.6 173L330.1 175.1L329.4 175.8z" fill="#7fff80"/>
<path d="M327.4 173L328 177.2L330.5 180.1L329.8 175.1z" fill="#41ffbe"/>
<path d="M327.8 177.2L328.4 172.2L330.9 177.7L330.2 180.1z" fill="#33ffcc"/>
<path d="M328.2 172.2L328.8 169.8L331.3 174L330.6 177.7z" fill="#8aff75"/>
<path d="M328.6 169.8L329.3 170.2L331.7 173.9L331 174z" fill="#afff50"/>
<path d="M329 170.2L329.7 169.5L332.1 174.3L331.5 173.9z" fill="#adff52"/>
<path d="M329.4 169.5L330.1 175.4L332.5 178.5L331.9 174.3z" fill="#6bff94"/>
<path d="M329.8 175.4L330.5 169.1L332.9 174.7L332.3 178.5z" fill="#6aff95"/>
<path d="M330.2 169.1L330.9 175.4L333.3 178.2L332.7 174.7z" fill="#6aff95"/>
<path d="M330.6 175.4L331.3 173.1L333.8 179.1L333.1 178.2z" fill="#32ffcd"/>
<path d="M331.1 173.1L331.7 171.6L334.2 177.2L333.5 179.1z" fill="#50ffaf"/>
<path d="M331.5 171.6L332.1 172.3L334.6 176.2L333.9 177.2z" fill="#67ff98"/>
<path d="M331.9 172.3L332.5 173.5L335 179.4L334.3 176.2z" fill="#4bffb4"/>
<path d="M332.3 173.5L332.9 173.7L335.4 176.7L334.7 179.4z" fill="#3dffc2"/>
<path d="M332.7 173.7L333.3 174.8L335.8 181.7L335.1 176.7z" fill="#24ffdb"/>
<path d="M333.1 174.8L333.8 171.5L336.2 178.2L335.6 181.7z" fill="#27ffd8"/>
<path d="M333.5 171.5L334.2 173.9L336.6 175.9L336 178.2z" fill="#51ffae"/>
<path d="M333.9 173.9L334.6 171.4L337 175.2L336.4 175.9z" fill="#64ff9b"/>
<path d="M334.3 171.4L335 172.2L337.4 176.2L336.8 175.2z" fill="#6cff93"/>
<path d="M334.7 172.2L335.4 168.7L337.9 172.6L337.2 176.2z" fill="#8dff72"/>
<path d="M335.1 168.7L335.8 172.7L338.3 177.4L337.6 172.6z" fill="#81ff7e"/>
<path d="M335.6 172.7L336.2 180.3L338.7 186.8L338 177.4z" fill="#00d5ff"/>
<path d="M336 180.3L336.6 176.1L339.1 179.4L338.4 186.8z" fill="#00afff"/>
<path d="M336.4 176.1L337 166.9L339.5 171.5L338.8 179.4z" fill="#6bff94"/>
<path d="M336.8 166.9L337.4 173.2L339.9 178.5L339.2 171.5z" fill="#82ff7d"/>
<path d="M337.2 173.2L337.9 176.1L340.3 177.5L339.7 178.5z" fill="#1dffe2"/>
<path d="M337.6 176.1L338.3 175.7L340.7 182.1L340.1 177.5z" fill="#00f3ff"/>
<path d="M338 175.7L338.7 171.4L341.1 174.3L340.5 182.1z" fill="#26ffd9"/>
<path d="M338.4 171.4L339.1 171.5L341.5 176.3L340.9 174.3z" fill="#67ff98"/>
<path d="M338.8 171.5L339.5 170.5L342 173.3L341.3 176.3z" fill="#72ff8d"/>
<path d="M339.2 170.5L339.9 172L342.4 174.3L341.7 173.3z" fill="#7aff85"/>
<path d="M339.7 172L340.3 168.6L342.8 172.6L342.1 174.3z" fill="#8aff75"/>
<path d="M340.1 168.6L340.7 172.7L343.2 176.3L342.5 172.6z" fill="#76ff89"/>
<path d="M340.5 172.7L341.1 178.8L343.6 180L342.9 176.3z" fill="#01fffe"/>
<path d="M340.9 178.8L341.5 172L344 176.1L343.3 180z" fill="#06fff9"/>
<path d="M341.3 172L342 172.8L344.4 177L343.8 176.1z" fill="#40ffbf"/>
<path d="M341.7 172.8L342.4 177L344.8 180.4L344.2 177z" fill="#02fffd"/>
<path d="M342.1 177L342.8 172.3L345.2 177.3L344.6 180.4z" fill="#01fffe"/>
<path d="M342.5 172.3L343.2 175.8L345.6 180.3L345 177.3z" fill="#08fff7"/>
<path d="M342.9 175.8L343.6 179.8L346 181.9L345.4 180.3z" fill="#00b6ff"/>
<path d="M343.3 179.8L344 171.6L346.5 172.2L345.8 181.9z" fill="#07fff8"/>
<path d="M343.8 171.6L344.4 165.6L346.9 171.3L346.2 172.2z" fill="#a8ff57"/>
<path d="M344.2 165.6L344.8 173L347.3 178.3L346.6 171.3z" fill="#75ff8a"/>
<path d="M344.6 173L345.2 172.3L347.7 176.3L347 178.3z" fill="#27ffd8"/>
<path d="M345 172.3L345.6 170.6L348.1 177.3L347.4 176.3z" fill="#3bffc4"/>
<path d="M345.4 170.6L346.1 173.8L348.5 180L347.8 177.3z" fill="#18ffe7"/>
<path d="M345.8 173.8L346.5 171.5L348.9 174.7L348.3 180z" fill="#21ffde"/>
<path d="M346.2 171.5L346.9 171L349.3 174.7L348.7 174.7z" fill="#55ffaa"/>
<path d="M346.6 171L347.3 172.7L349.7 176.4L349.1 174.7z" fill="#41ffbe"/>
<path d="M347 172.7L347.7 173.8L350.1 176.3L349.5 176.4z" fill="#22ffdd"/>
<path d="M347.4 173.8L348.1 171.6L350.6 176.5L349.9 176.3z" fill="#27ffd8"/>
<path d="M347.9 171.6L348.5 167.1L351 170.9L350.3 176.5z" fill="#76ff89"/>
<path d="M348.3 167.1L348.9 165L351.4 171.1L350.7 170.9z" fill="#c3ff3c"/>
<path d="M348.7 165L349.3 167.4L351.8 172.3L351.1 171.1z" fill="#b6ff49"/>
<path d="M349.1 167.4L349.7 167.4L352.2 172.5L351.5 172.3z" fill="#9cff63"/>
<path d="M349.5 167.4L350.1 167.7L352.6 171.1L351.9 172.5z" fill="#a0ff5f"/>
<path d="M349.9 167.7L350.6 165.4L353 169.6L352.4 171.1z" fill="#beff41"/>
<path d="M350.3 165.4L351 164.2L353.4 168.7L352.8 169.6z" fill="#e3ff1c"/>
<path d="M350.7 164.2L351.4 164.6L353.8 169.2L353.2 168.7z" fill="#eaff15"/>
<path d="M351.1 164.6L351.8 163.5L354.2 168L353.6 169.2z" fill="#f2ff0d"/>
<path d="M351.5 163.5L352.2 162.7L354.7 167.3L354 168z" fill="#fff400"/>
<path d="M270.4 181.6L271.1 178.8L273.5 186.5L272.9 186.6z" fill="#a7ff58"/>
<path d="M270.8 178.8L271.5 178.5L273.9 182.5L273.3 186.5z" fill="#d5ff2a"/>
<path d="M271.2 178.5L271.9 180.9L274.3 181.5L273.7 182.5z" fill="#e7ff18"/>
<path d="M271.6 180.9L272.3 185.5L274.7 192.7L274.1 181.5z" fill="#75ff8a"/>
<path d="M272 185.5L272.7 177.3L275.2 182.9L274.5 192.7z" fill="#81ff7e"/>
<path d="M272.5 177.3L273.1 179.9L275.6 183.8L274.9 182.9z" fill="#dfff20"/>
<path d="M272.9 179.9L273.5 177.7L276 183.9L275.3 183.8z" fill="#d5ff2a"/>
<path d="M273.3 177.7L273.9 188.1L276.4 190L275.7 183.9z" fill="#74ff8b"/>
<path d="M273.7 188.1L274.3 176.3L276.8 182.2L276.1 190z" fill="#87ff78"/>
<path d="M274.1 176.3L274.8 182.1L277.2 182.4L276.5 182.2z" fill="#e0ff1f"/>
<path d="M274.5 182.1L275.2 176.1L277.6 177.2L277 182.4z" fill="#fffe00"/>
<path d="M274.9 176.1L275.6 176.3L278 182.5L277.4 177.2z" fill="#ffda00"/>
<path d="M275.3 176.3L276 177.9L278.4 181L277.8 182.5z" fill="#feff01"/>
<path d="M275.7 177.9L276.4 180.2L278.8 184.2L278.2 181z" fill="#d8ff27"/>
<path d="M276.1 180.2L276.8 170.6L279.3 172.5L278.6 184.2z" fill="#ffc100"/>
<path d="M276.6 170.6L277.2 186.7L279.7 189.2L279 172.5z" fill="#f0ff0f"/>
<path d="M277 186.7L277.6 176.4L280.1 185.2L279.4 189.2z" fill="#76ff89"/>
<path d="M277.4 176.4L278 180L280.5 183.2L279.8 185.2z" fill="#c8ff37"/>
<path d="M277.8 180L278.4 185.3L280.9 187L280.2 183.2z" fill="#80ff7f"/>
<path d="M278.2 185.3L278.8 182.6L281.3 185.8L280.6 187z" fill="#5cffa3"/>
<path d="M278.6 182.6L279.3 179L281.7 181.8L281.1 185.8z" fill="#a6ff59"/>
<path d="M279 179L279.7 176.3L282.1 180.3L281.5 181.8z" fill="#f2ff0d"/>
<path d="M279.4 176.3L280.1 180.8L282.5 183.2L281.9 180.3z" fill="#dcff23"/>
<path d="M279.8 180.8L280.5 176.7L282.9 180.5L282.3 183.2z" fill="#d6ff29"/>
<path d="M280.2 176.7L280.9 182.8L283.4 186.6L282.7 180.5z" fill="#b1ff4e"/>
<path d="M280.6 182.8L281.3 181.7L283.8 184.4L283.1 186.6z" fill="#76ff89"/>
<path d="M281.1 181.7L281.7 180.7L284.2 185.5L283.5 184.4z" fill="#8aff75"/>
<path d="M281.5 180.7L282.1 173.8L284.6 180.2L283.9 185.5z" fill="#d8ff27"/>
<path d="M281.9 173.8L282.5 183.1L285 188.6L284.3 180.2z" fill="#b1ff4e"/>
<path d="M282.3 183.1L282.9 177.1L285.4 183.5L284.7 188.6z" fill="#84ff7b"/>
<path d="M282.7 177.1L283.4 178.2L285.8 181.4L285.2 183.5z" fill="#d2ff2d"/>
<path d="M283.1 178.2L283.8 181.3L286.2 183.4L285.6 181.4z" fill="#b7ff48"/>
<path d="M283.5 181.3L284.2 177.9L286.6 179L286 183.4z" fill="#c6ff39"/>
<path d="M283.9 177.9L284.6 176.1L287 179.5L286.4 179z" fill="#fffd00"/>
<path d="M284.3 176.1L285 173.7L287.5 177.9L286.8 179.5z" fill="#ffdc00"/>
<path d="M284.7 173.7L285.4 175.2L287.9 178.6L287.2 177.9z" fill="#ffd100"/>
<path d="M285.2 175.2L285.8 179.1L288.3 184.1L287.6 178.6z" fill="#dfff20"/>
<path d="M285.6 179.1L286.2 179.5L288.7 185L288 184.1z" fill="#98ff67"/>
<path d="M286 179.5L286.6 180.4L289.1 181.3L288.4 185z" fill="#a0ff5f"/>
<path d="M286.4 180.4L287 174.4L289.5 180.9L288.8 181.3z" fill="#daff25"/>
<path d="M286.8 174.4L287.5 173.2L289.9 177.5L289.3 180.9z" fill="#ffdd00"/>
<path d="M287.2 173.2L287.9 178L290.3 183L289.7 177.5z" fill="#faff05"/>
<path d="M287.6 178L288.3 180L290.7 182L290.1 183z" fill="#afff50"/>
<path d="M288 180L288.7 181.8L291.1 184.8L290.5 182z" fill="#89ff76"/>
<path d="M288.4 181.8L289.1 178.9L291.5 182.2L290.9 184.8z" fill="#8dff72"/>
<path d="M288.8 178.9L289.5 174.8L292 181.5L291.3 182.2z" fill="#cfff30"/>
<path d="M289.3 174.8L289.9 175.4L292.4 180.6L291.7 181.5z" fill="#efff10"/>
<path d="M289.7 175.4L290.3 167.8L292.8 169.7L292.1 180.6z" fill="#ff9400"/>
<path d="M290.1 167.8L290.7 178.4L293.2 181.1L292.5 169.7z" fill="#ffad00"/>
<path d="M290.5 178.4L291.1 175.5L293.6 179.8L292.9 181.1z" fill="#daff25"/>
<path d="M290.9 175.5L291.6 175.4L294 176.9L293.3 179.8z" fill="#fff600"/>
<path d="M291.3 175.4L292 179.1L294.4 181.6L293.8 176.9z" fill="#e3ff1c"/>
<path d="M291.7 179.1L292.4 178.5L294.8 184.1L294.2 181.6z" fill="#9eff61"/>
<path d="M292.1 178.5L292.8 175.4L295.2 182.3L294.6 184.1z" fill="#b0ff4f"/>
<path d="M292.5 175.4L293.2 175.8L295.6 178.8L295 182.3z" fill="#e3ff1c"/>
<path d="M292.9 175.8L293.6 179.8L296.1 184.3L295.4 178.8z" fill="#b8ff47"/>
<path d="M293.4 179.8L294 172.1L296.5 174.5L295.8 184.3z" fill="#ecff13"/>
<path d="M293.8 172.1L294.4 175L296.9 181.6L296.2 174.5z" fill="#ffe300"/>
<path d="M294.2 175L294.8 175.5L297.3 179.1L296.6 181.6z" fill="#e4ff1b"/>
<path d="M294.6 175.5L295.2 170.2L297.7 173.4L297 179.1z" fill="#ffc600"/>
<path d="M295 170.2L295.6 175.2L298.1 179.8L297.4 173.4z" fill="#ffc900"/>
<path d="M295.4 175.2L296.1 173.6L298.5 178.3L297.9 179.8z" fill="#fdff02"/>
<path d="M295.8 173.6L296.5 175.4L298.9 179.7L298.3 178.3z" fill="#fbff04"/>
<path d="M296.2 175.4L296.9 175.1L299.3 179.7L298.7 179.7z" fill="#e6ff19"/>
<path d="M296.6 175.1L297.3 177.6L299.7 178.2L299.1 179.7z" fill="#e0ff1f"/>
<path d="M297 177.6L297.7 178.1L300.2 182.9L299.5 178.2z" fill="#b6ff49"/>
<path d="M297.4 178.1L298.1 170.6L300.6 173.6L299.9 182.9z" fill="#fffe00"/>
<path d="M297.9 170.6L298.5 181.9L301 182.3L300.3 173.6z" fill="#eaff15"/>
<path d="M298.3 181.9L298.9 177.9L301.4 181.7L300.7 182.3z" fill="#83ff7c"/>
<path d="M298.7 177.9L299.3 169.3L301.8 172.9L301.1 181.7z" fill="#ffec00"/>
<path d="M299.1 169.3L299.7 173.5L302.2 180.5L301.5 172.9z" fill="#ffc800"/>
<path d="M299.5 173.5L300.2 179.7L302.6 183.5L302 180.5z" fill="#aaff55"/>
<path d="M299.9 179.7L300.6 174.4L303 174.8L302.4 183.5z" fill="#c8ff37"/>
<path d="M300.3 174.4L301 174.6L303.4 181.8L302.8 174.8z" fill="#f4ff0b"/>
<path d="M300.7 174.6L301.4 171.5L303.8 178.6L303.2 181.8z" fill="#ecff13"/>
<path d="M301.1 171.5L301.8 175.7L304.3 179.9L303.6 178.6z" fill="#f0ff0f"/>
<path d="M301.5 175.7L302.2 178.1L304.7 179.4L304 179.9z" fill="#beff41"/>
<path d="M302 178.1L302.6 183.7L305.1 186.3L304.4 179.4z" fill="#5effa1"/>
<path d="M302.4 183.7L303 179.6L305.5 183.1L304.8 186.3z" fill="#3bffc4"/>
<path d="M302.8 179.6L303.4 177.9L305.9 180L305.2 183.1z" fill="#88ff77"/>
<path d="M303.2 177.9L303.8 175.1L306.3 179.4L305.6 180z" fill="#bcff43"/>
<path d="M303.6 175.1L304.3 173.4L306.7 176.1L306.1 179.4z" fill="#f2ff0d"/>
<path d="M304 173.4L304.7 170.5L307.1 173.3L306.5 176.1z" fill="#ffc700"/>
<path d="M304.4 170.5L305.1 177.4L307.5 180.2L306.9 173.3z" fill="#fffe00"/>
<path d="M304.8 177.4L305.5 171.3L307.9 175.1L307.3 180.2z" fill="#edff12"/>
<path d="M305.2 171.3L305.9 173.8L308.3 176.6L307.7 175.1z" fill="#ffe300"/>
<path d="M305.6 173.8L306.3 176.7L308.8 179.4L308.1 176.6z" fill="#daff25"/>
<path d="M306.1 176.7L306.7 179.1L309.2 183.3L308.5 179.4z" fill="#8aff75"/>
<path d="M306.5 179.1L307.1 184.4L309.6 185.3L308.9 183.3z" fill="#30ffcf"/>
<path d="M306.9 184.4L307.5 178L310 179.6L309.3 185.3z" fill="#4effb1"/>
<path d="M307.3 178L307.9 177.9L310.4 182.2L309.7 179.6z" fill="#8bff74"/>
<path d="M307.7 177.9L308.4 176.3L310.8 182.7L310.1 182.2z" fill="#80ff7f"/>
<path d="M308.1 176.3L308.8 174.5L311.2 178.2L310.6 182.7z" fill="#afff50"/>
<path d="M308.5 174.5L309.2 171.3L311.6 177.9L311 178.2z" fill="#eeff11"/>
<path d="M308.9 171.3L309.6 174.2L312 179.2L311.4 177.9z" fill="#e8ff17"/>
<path d="M309.3 174.2L310 173.1L312.4 180.3L311.8 179.2z" fill="#cbff34"/>
<path d="M309.7 173.1L310.4 170.6L312.9 176.3L312.2 180.3z" fill="#f4ff0b"/>
<path d="M310.2 170.6L310.8 172.6L313.3 176.4L312.6 176.3z" fill="#ffee00"/>
<path d="M310.6 172.6L311.2 176.5L313.7 179.6L313 176.4z" fill="#d2ff2d"/>
<path d="M311 176.5L311.6 174.4L314.1 179L313.4 179.6z" fill="#b3ff4c"/>
<path d="M311.4 174.4L312 175.4L314.5 177.4L313.8 179z" fill="#c8ff37"/>
<path d="M311.8 175.4L312.4 173.6L314.9 180L314.2 177.4z" fill="#c5ff3a"/>
<path d="M312.2 173.6L312.9 171.2L315.3 176L314.7 180z" fill="#e8ff17"/>
<path d="M312.6 171.2L313.3 172.1L315.7 178L315.1 176z" fill="#fdff02"/>
<path d="M313 172.1L313.7 172.3L316.1 178.4L315.5 178z" fill="#e4ff1b"/>
<path d="M313.4 172.3L314.1 175.6L316.5 182.4L315.9 178.4z" fill="#afff50"/>
<path d="M313.8 175.6L314.5 175.3L317 180.9L316.3 182.4z" fill="#8aff75"/>
<path d="M314.2 175.3L314.9 178.3L317.4 182.7L316.7 180.9z" fill="#75ff8a"/>
<path d="M314.7 178.3L315.3 174.5L317.8 175.7L317.1 182.7z" fill="#9bff64"/>
<path d="M315.1 174.5L315.7 176.2L318.2 181.4L317.5 175.7z" fill="#b0ff4f"/>
<path d="M315.5 176.2L316.1 175.2L318.6 176.5L317.9 181.4z" fill="#a5ff5a"/>
<path d="M315.9 175.2L316.5 173.3L319 176.7L318.3 176.5z" fill="#d4ff2b"/>
<path d="M316.3 173.3L317 177.8L319.4 181.8L318.8 176.7z" fill="#9fff60"/>
<path d="M316.7 177.8L317.4 173.6L319.8 179.2L319.2 181.8z" fill="#8cff73"/>
<path d="M317.1 173.6L317.8 167L320.2 172.8L319.6 179.2z" fill="#fff200"/>
<path d="M317.5 167L318.2 174.9L320.6 176.9L320 172.8z" fill="#ffed00"/>
<path d="M317.9 174.9L318.6 178.4L321.1 181.3L320.4 176.9z" fill="#8dff72"/>
<path d="M318.3 178.4L319 171.8L321.5 177.5L320.8 181.3z" fill="#9cff63"/>
<path d="M318.8 171.8L319.4 180.8L321.9 187.1L321.2 177.5z" fill="#65ff9a"/>
<path d="M319.2 180.8L319.8 170.9L322.3 175.4L321.6 187.1z" fill="#77ff88"/>
<path d="M319.6 170.9L320.2 173.8L322.7 178L322 175.4z" fill="#dfff20"/>
<path d="M320 173.8L320.6 173.4L323.1 178L322.4 178z" fill="#bcff43"/>
<path d="M320.4 173.4L321.1 166.3L323.5 170.6L322.9 178z" fill="#ffe100"/>
<path d="M320.8 166.3L321.5 172.4L323.9 176.2L323.3 170.6z" fill="#ffd000"/>
<path d="M321.2 172.4L321.9 173.5L324.3 177.4L323.7 176.2z" fill="#d0ff2f"/>
<path d="M321.6 173.5L322.3 172.7L324.7 178L324.1 177.4z" fill="#c0ff3f"/>
<path d="M322 172.7L322.7 170.4L325.1 177.9L324.5 178z" fill="#d0ff2f"/>
<path d="M322.4 170.4L323.1 171.6L325.6 174.3L324.9 177.9z" fill="#efff10"/>
<path d="M322.9 171.6L323.5 174.1L326 179.1L325.3 174.3z" fill="#ceff31"/>
<path d="M323.3 174.1L323.9 173.6L326.4 177.8L325.7 179.1z" fill="#a8ff57"/>
<path d="M323.7 173.6L324.3 172L326.8 176.1L326.1 177.8z" fill="#c8ff37"/>
<path d="M324.1 172L324.7 177.2L327.2 177.9L326.5 176.1z" fill="#adff52"/>
<path d="M324.5 177.2L325.2 174.8L327.6 179.5L326.9 177.9z" fill="#84ff7b"/>
<path d="M324.9 174.8L325.6 173.8L328 179.2L327.4 179.5z" fill="#90ff6f"/>
<path d="M325.3 173.8L326 177.7L328.4 181.7L327.8 179.2z" fill="#6dff92"/>
<path d="M325.7 177.7L326.4 176.4L328.8 181.5L328.2 181.7z" fill="#4cffb3"/>
<path d="M326.1 176.4L326.8 184.9L329.2 191.7L328.6 181.5z" fill="#00d8ff"/>
<path d="M326.5 184.9L327.2 173.4L329.7 178.4L329 191.7z" fill="#00ffff"/>
<path d="M327 173.4L327.6 174.2L330.1 176.6L329.4 178.4z" fill="#a7ff58"/>
<path d="M327.4 174.2L328 179.3L330.5 180.9L329.8 176.6z" fill="#6eff91"/>
<path d="M327.8 179.3L328.4 171.2L330.9 176L330.2 180.9z" fill="#85ff7a"/>
<path d="M328.2 171.2L328.8 171.9L331.3 175.2L330.6 176z" fill="#d9ff26"/>
<path d="M328.6 171.9L329.2 176.4L331.7 178.9L331 175.2z" fill="#a3ff5c"/>
<path d="M329 176.4L329.7 175.3L332.1 180.3L331.5 178.9z" fill="#69ff96"/>
<path d="M329.4 175.3L330.1 174.6L332.5 179.8L331.9 180.3z" fill="#6eff91"/>
<path d="M329.8 174.6L330.5 179.6L332.9 183.1L332.3 179.8z" fill="#3effc1"/>
<path d="M330.2 179.6L330.9 177.2L333.3 180.9L332.7 183.1z" fill="#24ffdb"/>
<path d="M330.6 177.2L331.3 173.5L333.8 179.1L333.1 180.9z" fill="#65ff9a"/>
<path d="M331 173.5L331.7 173.4L334.2 179L333.5 179.1z" fill="#88ff77"/>
<path d="M331.5 173.4L332.1 173.8L334.6 181.6L333.9 179z" fill="#75ff8a"/>
<path d="M331.9 173.8L332.5 178L335 182.5L334.3 181.6z" fill="#3effc1"/>
<path d="M332.3 178L332.9 174.2L335.4 179.3L334.7 182.5z" fill="#49ffb6"/>
<path d="M332.7 174.2L333.3 177.7L335.8 181.2L335.1 179.3z" fill="#52ffad"/>
<path d="M333.1 177.7L333.8 178.6L336.2 180.6L335.6 181.2z" fill="#2cffd3"/>
<path d="M333.5 178.6L334.2 176.7L336.6 179.4L336 180.6z" fill="#3dffc2"/>
<path d="M333.9 176.7L334.6 175.7L337 180.7L336.4 179.4z" fill="#4effb1"/>
<path d="M334.3 175.7L335 178.9L337.4 183.1L336.8 180.7z" fill="#25ffda"/>
<path d="M334.7 178.9L335.4 176.2L337.9 178.6L337.2 183.1z" fill="#2effd1"/>
<path d="M335.1 176.2L335.8 181.2L338.3 184.5L337.6 178.6z" fill="#14ffeb"/>
<path d="M335.6 181.2L336.2 177.7L338.7 181L338 184.5z" fill="#00f9ff"/>
<path d="M336 177.7L336.6 175.4L339.1 180.2L338.4 181z" fill="#3affc5"/>
<path d="M336.4 175.4L337 174.7L339.5 178.2L338.8 180.2z" fill="#5fffa0"/>
<path d="M336.8 174.7L337.4 175.7L339.9 182.4L339.2 178.2z" fill="#4dffb2"/>
<path d="M337.2 175.7L337.9 172.1L340.3 176L339.7 182.4z" fill="#6bff94"/>
<path d="M337.6 172.1L338.3 176.9L340.7 182.5L340.1 176z" fill="#61ff9e"/>
<path d="M338 176.9L338.7 186.3L341.1 189.8L340.5 182.5z" fill="#00a7ff"/>
<path d="M338.4 186.3L339.1 178.9L341.5 183.3L340.9 189.8z" fill="#0092ff"/>
<path d="M338.8 178.9L339.5 171L341.9 177.5L341.3 183.3z" fill="#47ffb8"/>
<path d="M339.2 171L339.9 178L342.4 181.9L341.7 177.5z" fill="#55ffaa"/>
<path d="M339.7 178L340.3 177L342.8 181.4L342.1 181.9z" fill="#12ffed"/>
<path d="M340.1 177L340.7 181.6L343.2 185.3L342.5 181.4z" fill="#00e2ff"/>
<path d="M340.5 181.6L341.1 173.8L343.6 178.7L342.9 185.3z" fill="#08fff7"/>
<path d="M340.9 173.8L341.5 175.8L344 180.6L343.3 178.7z" fill="#4cffb3"/>
<path d="M341.3 175.8L342 172.8L344.4 178.3L343.7 180.6z" fill="#54ffab"/>
<path d="M341.7 172.8L342.4 173.8L344.8 178.6L344.2 178.3z" fill="#6dff92"/>
<path d="M342.1 173.8L342.8 172.1L345.2 179.4L344.6 178.6z" fill="#69ff96"/>
<path d="M342.5 172.1L343.2 175.8L345.6 177.3L345 179.4z" fill="#62ff9d"/>
<path d="M342.9 175.8L343.6 179.5L346 183.6L345.4 177.3z" fill="#15ffea"/>
<path d="M343.3 179.5L344 175.6L346.5 180.3L345.8 183.6z" fill="#01fffe"/>
<path d="M343.8 175.6L344.4 176.5L346.9 181.5L346.2 180.3z" fill="#21ffde"/>
<path d="M344.2 176.5L344.8 179.9L347.3 183.4L346.6 181.5z" fill="#00eeff"/>
<path d="M344.6 179.9L345.2 176.8L347.7 182.5L347 183.4z" fill="#00e4ff"/>
<path d="M345 176.8L345.6 179.8L348.1 181.5L347.4 182.5z" fill="#00efff"/>
<path d="M345.4 179.8L346 181.4L348.5 188.3L347.8 181.5z" fill="#00aaff"/>
<path d="M345.8 181.4L346.5 171.7L348.9 175.4L348.3 188.3z" fill="#07fff8"/>
<path d="M346.2 171.7L346.9 170.8L349.3 174.3L348.7 175.4z" fill="#a6ff59"/>
<path d="M346.6 170.8L347.3 177.8L349.7 183.8L349.1 174.3z" fill="#45ffba"/>
<path d="M347 177.8L347.7 175.8L350.1 184.4L349.5 183.8z" fill="#00e0ff"/>
<path d="M347.4 175.8L348.1 176.8L350.6 181.9L349.9 184.4z" fill="#00f2ff"/>
<path d="M347.8 176.8L348.5 179.5L351 184.7L350.3 181.9z" fill="#00d6ff"/>
<path d="M348.3 179.5L348.9 174.2L351.4 179.4L350.7 184.7z" fill="#00f6ff"/>
<path d="M348.7 174.2L349.3 174.2L351.8 181L351.1 179.4z" fill="#30ffcf"/>
<path d="M349.1 174.2L349.7 175.9L352.2 183.3L351.5 181z" fill="#0afff5"/>
<path d="M349.5 175.9L350.1 175.8L352.6 182.4L351.9 183.3z" fill="#00f4ff"/>
<path d="M349.9 175.8L350.6 176L353 182.3L352.4 182.4z" fill="#00f9ff"/>
<path d="M350.3 176L351 170.4L353.4 175.3L352.8 182.3z" fill="#4affb5"/>
<path d="M350.7 170.4L351.4 170.6L353.8 178.9L353.2 175.3z" fill="#83ff7c"/>
<path d="M351.1 170.6L351.8 171.8L354.2 180.7L353.6 178.9z" fill="#54ffab"/>
<path d="M351.5 171.8L352.2 172L354.7 184.5L354 180.7z" fill="#24ffdb"/>
<path d="M351.9 172L352.6 170.6L355.1 182.1L354.4 184.5z" fill="#22ffdd"/>
<path d="M352.4 170.6L353 169.1L355.5 180.3L354.8 182.1z" fill="#4fffb0"/>
<path d="M352.8 169.1L353.4 168.2L355.9 179.4L355.2 180.3z" fill="#6fff90"/>
<path d="M353.2 168.2L353.8 168.7L356.3 185.2L355.6 179.4z" fill="#50ffaf"/>
<path d="M353.6 168.7L354.2 167.5L356.7 179.8L356 185.2z" fill="#51ffae"/>
<path d="M354 167.5L354.7 166.8L357.1 185.9L356.5 179.8z" fill="#57ffa8"/>
<path d="M272.9 186.1L273.5 186L275.1 188.7L274.4 190.2z" fill="#74ff8b"/>
<path d="M273.3 186L273.9 182L275.5 185L274.8 188.7z" fill="#b0ff4f"/>
<path d="M273.7 182L274.3 181L275.9 185.8L275.2 185z" fill="#e2ff1d"/>
<path d="M274.1 181L274.7 192.2L276.3 193.1L275.6 185.8z" fill="#69ff96"/>
<path d="M274.5 192.2L275.2 182.4L276.7 186.8L276 193.1z" fill="#57ffa8"/>
<path d="M274.9 182.4L275.6 183.3L277.1 187.9L276.4 186.8z" fill="#b2ff4d"/>
<path d="M275.3 183.3L276 183.4L277.5 184.7L276.9 187.9z" fill="#b8ff47"/>
<path d="M275.7 183.4L276.4 189.5L277.9 190.5L277.3 184.7z" fill="#7dff82"/>
<path d="M276.1 189.5L276.8 181.7L278.3 186.6L277.7 190.5z" fill="#7bff84"/>
<path d="M276.5 181.7L277.2 181.9L278.7 186.7L278.1 186.6z" fill="#c4ff3b"/>
<path d="M277 181.9L277.6 176.7L279.2 180.1L278.5 186.7z" fill="#fff000"/>
<path d="M277.4 176.7L278 182L279.6 185.9L278.9 180.1z" fill="#ffee00"/>
<path d="M277.8 182L278.4 180.5L280 185.5L279.3 185.9z" fill="#d2ff2d"/>
<path d="M278.2 180.5L278.8 183.7L280.4 188.2L279.7 185.5z" fill="#b7ff48"/>
<path d="M278.6 183.7L279.3 172L280.8 176.6L280.1 188.2z" fill="#ffd700"/>
<path d="M279 172L279.7 188.7L281.2 188.2L280.5 176.6z" fill="#fff900"/>
<path d="M279.4 188.7L280.1 184.7L281.6 185.7L281 188.2z" fill="#75ff8a"/>
<path d="M279.8 184.7L280.5 182.7L282 185.5L281.4 185.7z" fill="#adff52"/>
<path d="M280.2 182.7L280.9 186.5L282.4 191.4L281.8 185.5z" fill="#7aff85"/>
<path d="M280.6 186.5L281.3 185.3L282.8 187.5L282.2 191.4z" fill="#5affa5"/>
<path d="M281.1 185.3L281.7 181.3L283.2 186.5L282.6 187.5z" fill="#9bff64"/>
<path d="M281.5 181.3L282.1 179.8L283.7 185.6L283 186.5z" fill="#caff35"/>
<path d="M281.9 179.8L282.5 182.7L284.1 185.8L283.4 185.6z" fill="#c4ff3b"/>
<path d="M282.3 182.7L282.9 180L284.5 183.2L283.8 185.8z" fill="#d0ff2f"/>
<path d="M282.7 180L283.4 186.1L284.9 190.9L284.2 183.2z" fill="#97ff68"/>
<path d="M283.1 186.1L283.8 183.9L285.3 185.8L284.6 190.9z" fill="#6cff93"/>
<path d="M283.5 183.9L284.2 185L285.7 186.7L285 185.8z" fill="#8eff71"/>
<path d="M283.9 185L284.6 179.7L286.1 183.7L285.5 186.7z" fill="#b6ff49"/>
<path d="M284.3 179.7L285 188.1L286.5 190.6L285.9 183.7z" fill="#86ff79"/>
<path d="M284.7 188.1L285.4 183L286.9 185.9L286.3 190.6z" fill="#60ff9f"/>
<path d="M285.2 183L285.8 180.9L287.3 183.6L286.7 185.9z" fill="#bbff44"/>
<path d="M285.6 180.9L286.2 182.9L287.8 187.6L287.1 183.6z" fill="#afff50"/>
<path d="M286 182.9L286.6 178.5L288.2 181.6L287.5 187.6z" fill="#cbff34"/>
<path d="M286.4 178.5L287 179L288.6 183.6L287.9 181.6z" fill="#fdff02"/>
<path d="M286.8 179L287.5 177.4L289 183.6L288.3 183.6z" fill="#f6ff09"/>
<path d="M287.2 177.4L287.9 178.1L289.4 183.3L288.7 183.6z" fill="#fdff02"/>
<path d="M287.6 178.1L288.3 183.6L289.8 187.6L289.1 183.3z" fill="#b8ff47"/>
<path d="M288 183.6L288.7 184.5L290.2 186.6L289.6 187.6z" fill="#77ff88"/>
<path d="M288.4 184.5L289.1 180.8L290.6 184.5L290 186.6z" fill="#9cff63"/>
<path d="M288.8 180.8L289.5 180.4L291 184.5L290.4 184.5z" fill="#c2ff3d"/>
<path d="M289.3 180.4L289.9 177L291.4 180.2L290.8 184.5z" fill="#f6ff09"/>
<path d="M289.7 177L290.3 182.5L291.9 185.2L291.2 180.2z" fill="#e3ff1c"/>
<path d="M290.1 182.5L290.7 181.5L292.3 185L291.6 185.2z" fill="#a5ff5a"/>
<path d="M290.5 181.5L291.1 184.3L292.7 186.5L292 185z" fill="#8fff70"/>
<path d="M290.9 184.3L291.5 181.7L293.1 184.1L292.4 186.5z" fill="#92ff6d"/>
<path d="M291.3 181.7L292 181L293.5 184.8L292.8 184.1z" fill="#b2ff4d"/>
<path d="M291.7 181L292.4 180.1L293.9 181.4L293.2 184.8z" fill="#cdff32"/>
<path d="M292.1 180.1L292.8 169.2L294.3 176.3L293.7 181.4z" fill="#ffae00"/>
<path d="M292.5 169.2L293.2 180.6L294.7 184.8L294.1 176.3z" fill="#ffc900"/>
<path d="M292.9 180.6L293.6 179.3L295.1 184.2L294.5 184.8z" fill="#bdff42"/>
<path d="M293.3 179.3L294 176.4L295.5 180.9L294.9 184.2z" fill="#f1ff0e"/>
<path d="M293.8 176.4L294.4 181.1L296 184.1L295.3 180.9z" fill="#e4ff1b"/>
<path d="M294.2 181.1L294.8 183.6L296.4 185.2L295.7 184.1z" fill="#97ff68"/>
<path d="M294.6 183.6L295.2 181.8L296.8 185.6L296.1 185.2z" fill="#88ff77"/>
<path d="M295 181.8L295.6 178.3L297.2 180.7L296.5 185.6z" fill="#c6ff39"/>
<path d="M295.4 178.3L296.1 183.8L297.6 188.3L296.9 180.7z" fill="#a6ff59"/>
<path d="M295.8 183.8L296.5 174L298 181L297.3 188.3z" fill="#bfff40"/>
<path d="M296.2 174L296.9 181.1L298.4 184.2L297.8 181z" fill="#eaff15"/>
<path d="M296.6 181.1L297.3 178.6L298.8 182.4L298.2 184.2z" fill="#c1ff3e"/>
<path d="M297 178.6L297.7 172.9L299.2 178L298.6 182.4z" fill="#ffe100"/>
<path d="M297.4 172.9L298.1 179.3L299.6 181L299 178z" fill="#ffdd00"/>
<path d="M297.9 179.3L298.5 177.8L300 180.7L299.4 181z" fill="#eeff11"/>
<path d="M298.3 177.8L298.9 179.2L300.5 183.4L299.8 180.7z" fill="#ddff22"/>
<path d="M298.7 179.2L299.3 179.2L300.9 183.7L300.2 183.4z" fill="#c0ff3f"/>
<path d="M299.1 179.2L299.7 177.7L301.3 183.1L300.6 183.7z" fill="#caff35"/>
<path d="M299.5 177.7L300.2 182.4L301.7 186.8L301 183.1z" fill="#9fff60"/>
<path d="M299.9 182.4L300.6 173.1L302.1 179.8L301.4 186.8z" fill="#d0ff2f"/>
<path d="M300.3 173.1L301 181.8L302.5 184.1L301.8 179.8z" fill="#e5ff1a"/>
<path d="M300.7 181.8L301.4 181.2L302.9 184.1L302.3 184.1z" fill="#92ff6d"/>
<path d="M301.1 181.2L301.8 172.4L303.3 174.7L302.7 184.1z" fill="#fff300"/>
<path d="M301.5 172.4L302.2 180L303.7 183.6L303.1 174.7z" fill="#ffe800"/>
<path d="M302 180L302.6 183L304.1 184.5L303.5 183.6z" fill="#8fff70"/>
<path d="M302.4 183L303 174.3L304.6 179.1L303.9 184.5z" fill="#d0ff2f"/>
<path d="M302.8 174.3L303.4 181.3L305 184.1L304.3 179.1z" fill="#ddff22"/>
<path d="M303.2 181.3L303.8 178.1L305.4 180.8L304.7 184.1z" fill="#b7ff48"/>
<path d="M303.6 178.1L304.3 179.4L305.8 183.7L305.1 180.8z" fill="#c4ff3b"/>
<path d="M304 179.4L304.7 178.9L306.2 181.4L305.5 183.7z" fill="#baff45"/>
<path d="M304.4 178.9L305.1 185.8L306.6 187.1L305.9 181.4z" fill="#77ff88"/>
<path d="M304.8 185.8L305.5 182.6L307 186.9L306.4 187.1z" fill="#3affc5"/>
<path d="M305.2 182.6L305.9 179.5L307.4 182.2L306.8 186.9z" fill="#82ff7d"/>
<path d="M305.6 179.5L306.3 178.9L307.8 183.3L307.2 182.2z" fill="#b0ff4f"/>
<path d="M306.1 178.9L306.7 175.6L308.2 179.4L307.6 183.3z" fill="#dbff24"/>
<path d="M306.5 175.6L307.1 172.8L308.7 176.6L308 179.4z" fill="#ffd000"/>
<path d="M306.9 172.8L307.5 179.7L309.1 185.7L308.4 176.6z" fill="#e8ff17"/>
<path d="M307.3 179.7L307.9 174.6L309.5 178.2L308.8 185.7z" fill="#d0ff2f"/>
<path d="M307.7 174.6L308.3 176.1L309.9 181.3L309.2 178.2z" fill="#fffb00"/>
<path d="M308.1 176.1L308.8 178.9L310.3 181.6L309.6 181.3z" fill="#cfff30"/>
<path d="M308.5 178.9L309.2 182.8L310.7 188.4L310 181.6z" fill="#73ff8c"/>
<path d="M308.9 182.8L309.6 184.8L311.1 188.3L310.5 188.4z" fill="#1fffe0"/>
<path d="M309.3 184.8L310 179.1L311.5 183L310.9 188.3z" fill="#59ffa6"/>
<path d="M309.7 179.1L310.4 181.7L311.9 186.4L311.3 183z" fill="#78ff87"/>
<path d="M310.1 181.7L310.8 182.2L312.3 185.5L311.7 186.4z" fill="#52ffad"/>
<path d="M310.6 182.2L311.2 177.7L312.8 182.4L312.1 185.5z" fill="#85ff7a"/>
<path d="M311 177.7L311.6 177.4L313.2 180.8L312.5 182.4z" fill="#c2ff3d"/>
<path d="M311.4 177.4L312 178.7L313.6 180.2L312.9 180.8z" fill="#c8ff37"/>
<path d="M311.8 178.7L312.4 179.8L314 182.4L313.3 180.2z" fill="#adff52"/>
<path d="M312.2 179.8L312.9 175.8L314.4 180.3L313.7 182.4z" fill="#beff41"/>
<path d="M312.6 175.8L313.3 175.9L314.8 178.3L314.1 180.3z" fill="#f1ff0e"/>
<path d="M313 175.9L313.7 179.1L315.2 182.1L314.6 178.3z" fill="#cdff32"/>
<path d="M313.4 179.1L314.1 178.5L315.6 181.7L315 182.1z" fill="#a5ff5a"/>
<path d="M313.8 178.5L314.5 176.9L316 180.4L315.4 181.7z" fill="#bdff42"/>
<path d="M314.2 176.9L314.9 179.5L316.4 181.8L315.8 180.4z" fill="#b4ff4b"/>
<path d="M314.7 179.5L315.3 175.5L316.8 180.9L316.2 181.8z" fill="#b9ff46"/>
<path d="M315.1 175.5L315.7 177.5L317.3 181.8L316.6 180.9z" fill="#c5ff3a"/>
<path d="M315.5 177.5L316.1 177.9L317.7 181.9L317 181.8z" fill="#adff52"/>
<path d="M315.9 177.9L316.5 181.9L318.1 181.9L317.4 181.9z" fill="#8eff71"/>
<path d="M316.3 181.9L317 180.4L318.5 184.5L317.8 181.9z" fill="#6bff94"/>
<path d="M316.7 180.4L317.4 182.2L318.9 185.6L318.2 184.5z" fill="#50ffaf"/>
<path d="M317.1 182.2L317.8 175.2L319.3 180.7L318.6 185.6z" fill="#88ff77"/>
<path d="M317.5 175.2L318.2 180.9L319.7 184.4L319.1 180.7z" fill="#97ff68"/>
<path d="M317.9 180.9L318.6 176L320.1 179.7L319.5 184.4z" fill="#97ff68"/>
<path d="M318.3 176L319 176.2L320.5 180.8L319.9 179.7z" fill="#ccff33"/>
<path d="M318.8 176.2L319.4 181.3L320.9 183.3L320.3 180.8z" fill="#90ff6f"/>
<path d="M319.2 181.3L319.8 178.7L321.4 183.1L320.7 183.3z" fill="#70ff8f"/>
<path d="M319.6 178.7L320.2 172.3L321.8 176.9L321.1 183.1z" fill="#d3ff2c"/>
<path d="M320 172.3L320.6 176.4L322.2 182.2L321.5 176.9z" fill="#e7ff18"/>
<path d="M320.4 176.4L321.1 180.8L322.6 183.7L321.9 182.2z" fill="#81ff7e"/>
<path d="M320.8 180.8L321.5 177L323 180.8L322.3 183.7z" fill="#84ff7b"/>
<path d="M321.2 177L321.9 186.6L323.4 190.4L322.7 180.8z" fill="#31ffce"/>
<path d="M321.6 186.6L322.3 174.9L323.8 181L323.2 190.4z" fill="#3cffc3"/>
<path d="M322 174.9L322.7 177.5L324.2 183.4L323.6 181z" fill="#a4ff5b"/>
<path d="M322.4 177.5L323.1 177.5L324.6 182.1L324 183.4z" fill="#8bff74"/>
<path d="M322.9 177.5L323.5 170.1L325 175.9L324.4 182.1z" fill="#ebff14"/>
<path d="M323.3 170.1L323.9 175.7L325.5 178.1L324.8 175.9z" fill="#ffef00"/>
<path d="M323.7 175.7L324.3 176.9L325.9 181.8L325.2 178.1z" fill="#bbff44"/>
<path d="M324.1 176.9L324.7 177.5L326.3 180.7L325.6 181.8z" fill="#9cff63"/>
<path d="M324.5 177.5L325.1 177.4L326.7 180.5L326 180.7z" fill="#a0ff5f"/>
<path d="M324.9 177.4L325.6 173.8L327.1 178L326.4 180.5z" fill="#c8ff37"/>
<path d="M325.3 173.8L326 178.6L327.5 183.4L326.8 178z" fill="#acff53"/>
<path d="M325.7 178.6L326.4 177.3L327.9 181.1L327.3 183.4z" fill="#7fff80"/>
<path d="M326.1 177.3L326.8 175.6L328.3 177.5L327.7 181.1z" fill="#b8ff47"/>
<path d="M326.5 175.6L327.2 177.4L328.7 180.2L328.1 177.5z" fill="#bcff43"/>
<path d="M326.9 177.4L327.6 179L329.1 181.7L328.5 180.2z" fill="#89ff76"/>
<path d="M327.4 179L328 178.7L329.6 181.5L328.9 181.7z" fill="#76ff89"/>
<path d="M327.8 178.7L328.4 181.2L330 185.4L329.3 181.5z" fill="#4effb1"/>
<path d="M328.2 181.2L328.8 181L330.4 187.5L329.7 185.4z" fill="#16ffe9"/>
<path d="M328.6 181L329.2 191.2L330.8 193.8L330.1 187.5z" fill="#009bff"/>
<path d="M329 191.2L329.7 177.9L331.2 183.1L330.5 193.8z" fill="#00caff"/>
<path d="M329.4 177.9L330.1 176.1L331.6 179.7L330.9 183.1z" fill="#89ff76"/>
<path d="M329.8 176.1L330.5 180.4L332 183.9L331.4 179.7z" fill="#73ff8c"/>
<path d="M330.2 180.4L330.9 175.5L332.4 181.6L331.8 183.9z" fill="#68ff97"/>
<path d="M330.6 175.5L331.3 174.7L332.8 179.6L332.2 181.6z" fill="#a8ff57"/>
<path d="M331 174.7L331.7 178.4L333.2 181.8L332.6 179.6z" fill="#92ff6d"/>
<path d="M331.5 178.4L332.1 179.8L333.6 185.4L333 181.8z" fill="#49ffb6"/>
<path d="M331.9 179.8L332.5 179.3L334.1 182.2L333.4 185.4z" fill="#40ffbf"/>
<path d="M332.3 179.3L332.9 182.6L334.5 186.7L333.8 182.2z" fill="#24ffdb"/>
<path d="M332.7 182.6L333.3 180.4L334.9 182.9L334.2 186.7z" fill="#15ffea"/>
<path d="M333.1 180.4L333.8 178.6L335.3 182.9L334.6 182.9z" fill="#47ffb8"/>
<path d="M333.5 178.6L334.2 178.5L335.7 182.4L335 182.9z" fill="#55ffaa"/>
<path d="M333.9 178.5L334.6 181.1L336.1 181.8L335.4 182.4z" fill="#4bffb4"/>
<path d="M334.3 181.1L335 182L336.5 186.8L335.9 181.8z" fill="#17ffe8"/>
<path d="M334.7 182L335.4 178.8L336.9 180.5L336.3 186.8z" fill="#2cffd3"/>
<path d="M335.1 178.8L335.8 180.7L337.3 184L336.7 180.5z" fill="#46ffb9"/>
<path d="M335.6 180.7L336.2 180.1L337.7 184.2L337.1 184z" fill="#24ffdb"/>
<path d="M336 180.1L336.6 178.9L338.2 182.8L337.5 184.2z" fill="#35ffca"/>
<path d="M336.4 178.9L337 180.2L338.6 185L337.9 182.8z" fill="#2effd1"/>
<path d="M336.8 180.2L337.4 182.6L339 184.8L338.3 185z" fill="#07fff8"/>
<path d="M337.2 182.6L337.9 178.1L339.4 182.5L338.7 184.8z" fill="#24ffdb"/>
<path d="M337.6 178.1L338.3 184L339.8 186.7L339.1 182.5z" fill="#0dfff2"/>
<path d="M338 184L338.7 180.5L340.2 186.4L339.5 186.7z" fill="#00e1ff"/>
<path d="M338.4 180.5L339.1 179.7L340.6 183.8L340 186.4z" fill="#10ffef"/>
<path d="M338.8 179.7L339.5 177.7L341 181.9L340.4 183.8z" fill="#3effc1"/>
<path d="M339.2 177.7L339.9 181.9L341.4 184L340.8 181.9z" fill="#2effd1"/>
<path d="M339.7 181.9L340.3 175.5L341.8 180.7L341.2 184z" fill="#42ffbd"/>
<path d="M340.1 175.5L340.7 182L342.3 183.5L341.6 180.7z" fill="#43ffbc"/>
<path d="M340.5 182L341.1 189.3L342.7 192.5L342 183.5z" fill="#0099ff"/>
<path d="M340.9 189.3L341.5 182.8L343.1 188L342.4 192.5z" fill="#0074ff"/>
<path d="M341.3 182.8L341.9 177L343.5 182.5L342.8 188z" fill="#06fff9"/>
<path d="M341.7 177L342.4 181.4L343.9 185.8L343.2 182.5z" fill="#1dffe2"/>
<path d="M342.1 181.4L342.8 180.9L344.3 183.3L343.6 185.8z" fill="#00fcff"/>
<path d="M342.5 180.9L343.2 184.8L344.7 186.4L344.1 183.3z" fill="#00dfff"/>
<path d="M342.9 184.8L343.6 178.2L345.1 180.6L344.5 186.4z" fill="#02fffd"/>
<path d="M343.3 178.2L344 180.1L345.5 183.4L344.9 180.6z" fill="#33ffcc"/>
<path d="M343.7 180.1L344.4 177.8L345.9 182.7L345.3 183.4z" fill="#27ffd8"/>
<path d="M344.2 177.8L344.8 178.1L346.4 181.5L345.7 182.7z" fill="#40ffbf"/>
<path d="M344.6 178.1L345.2 178.9L346.8 180.4L346.1 181.5z" fill="#45ffba"/>
<path d="M345 178.9L345.6 176.8L347.2 179.5L346.5 180.4z" fill="#59ffa6"/>
<path d="M345.4 176.8L346 183.1L347.6 187.3L346.9 179.5z" fill="#0ffff0"/>
<path d="M345.8 183.1L346.5 179.8L348 182.9L347.3 187.3z" fill="#00e3ff"/>
<path d="M346.2 179.8L346.9 181L348.4 186L347.7 182.9z" fill="#00f8ff"/>
<path d="M346.6 181L347.3 182.9L348.8 184.9L348.2 186z" fill="#00d5ff"/>
<path d="M347 182.9L347.7 182L349.2 183.7L348.6 184.9z" fill="#00dcff"/>
<path d="M347.4 182L348.1 181L349.6 184.3L349 183.7z" fill="#00ebff"/>
<path d="M347.8 181L348.5 187.8L350 190.2L349.4 184.3z" fill="#0098ff"/>
<path d="M348.3 187.8L348.9 174.9L350.4 178.2L349.8 190.2z" fill="#00e7ff"/>
<path d="M348.7 174.9L349.3 173.8L350.9 180.2L350.2 178.2z" fill="#84ff7b"/>
<path d="M349.1 173.8L349.7 183.3L351.3 186.3L350.6 180.2z" fill="#16ffe9"/>
<path d="M349.5 183.3L350.1 183.9L351.7 189.2L351 186.3z" fill="#0097ff"/>
<path d="M349.9 183.9L350.6 181.4L352.1 183.9L351.4 189.2z" fill="#00b1ff"/>
<path d="M350.3 181.4L351 184.2L352.5 187.5L351.8 183.9z" fill="#00b9ff"/>
<path d="M350.7 184.2L351.4 178.9L352.9 185L352.2 187.5z" fill="#00c1ff"/>
<path d="M351.1 178.9L351.8 180.5L353.3 185.2L352.7 185z" fill="#00e7ff"/>
<path d="M351.5 180.5L352.2 182.8L353.7 183L353.1 185.2z" fill="#00d9ff"/>
<path d="M351.9 182.8L352.6 181.9L354.1 186.1L353.5 183z" fill="#00c8ff"/>
<path d="M352.4 181.9L353 181.8L354.5 185.2L353.9 186.1z" fill="#00bfff"/>
<path d="M352.8 181.8L353.4 174.8L355 177.7L354.3 185.2z" fill="#24ffdb"/>
<path d="M353.2 174.8L353.8 178.4L355.4 182.7L354.7 177.7z" fill="#49ffb6"/>
<path d="M353.6 178.4L354.2 180.2L355.8 182.4L355.1 182.7z" fill="#06fff9"/>
<path d="M354 180.2L354.7 184L356.2 185.4L355.5 182.4z" fill="#00ccff"/>
<path d="M354.4 184L355.1 181.6L356.6 188.3L355.9 185.4z" fill="#009bff"/>
<path d="M354.8 181.6L355.5 179.8L357 181.9L356.3 188.3z" fill="#00ccff"/>
<path d="M355.2 179.8L355.9 178.9L357.4 182.5L356.8 181.9z" fill="#04fffb"/>
<path d="M355.6 178.9L356.3 184.7L357.8 188.1L357.2 182.5z" fill="#00b9ff"/>
<path d="M356 184.7L356.7 179.3L358.2 181.2L357.6 188.1z" fill="#00bdff"/>
<path d="M356.5 179.3L357.1 185.4L358.6 186.9L358 181.2z" fill="#00bfff"/>
<path d="M274.4 189.7L275.1 188.2L276.6 190.6L275.9 192.5z" fill="#67ff98"/>
<path d="M274.8 188.2L275.5 184.5L277 188.4L276.3 190.6z" fill="#a3ff5c"/>
<path d="M275.2 184.5L275.9 185.3L277.4 188.7L276.7 188.4z" fill="#c1ff3e"/>
<path d="M275.6 185.3L276.3 192.6L277.8 195.9L277.2 188.7z" fill="#59ffa6"/>
<path d="M276 192.6L276.7 186.3L278.2 189.4L277.6 195.9z" fill="#4cffb3"/>
<path d="M276.4 186.3L277.1 187.4L278.6 191.3L278 189.4z" fill="#8bff74"/>
<path d="M276.9 187.4L277.5 184.2L279 189.7L278.4 191.3z" fill="#95ff6a"/>
<path d="M277.3 184.2L277.9 190L279.5 190.3L278.8 189.7z" fill="#89ff76"/>
<path d="M277.7 190L278.3 186.1L279.9 190.2L279.2 190.3z" fill="#79ff86"/>
<path d="M278.1 186.1L278.7 186.2L280.3 187.2L279.6 190.2z" fill="#a5ff5a"/>
<path d="M278.5 186.2L279.2 179.6L280.7 184.9L280 187.2z" fill="#f1ff0e"/>
<path d="M278.9 179.6L279.6 185.4L281.1 190.2L280.4 184.9z" fill="#e1ff1e"/>
<path d="M279.3 185.4L280 185L281.5 188.5L280.8 190.2z" fill="#a4ff5b"/>
<path d="M279.7 185L280.4 187.7L281.9 189.4L281.3 188.5z" fill="#99ff66"/>
<path d="M280.1 187.7L280.8 176.1L282.3 181.6L281.7 189.4z" fill="#ffff00"/>
<path d="M280.5 176.1L281.2 187.7L282.7 191.6L282.1 181.6z" fill="#efff10"/>
<path d="M281 187.7L281.6 185.2L283.1 189.3L282.5 191.6z" fill="#80ff7f"/>
<path d="M281.4 185.2L282 185L283.6 191.4L282.9 189.3z" fill="#91ff6e"/>
<path d="M281.8 185L282.4 190.9L284 191.6L283.3 191.4z" fill="#5bffa4"/>
<path d="M282.2 190.9L282.8 187L284.4 190.6L283.7 191.6z" fill="#52ffad"/>
<path d="M282.6 187L283.2 186L284.8 189.2L284.1 190.6z" fill="#81ff7e"/>
<path d="M283 186L283.7 185.1L285.2 189L284.5 189.2z" fill="#96ff69"/>
<path d="M283.4 185.1L284.1 185.3L285.6 189.1L284.9 189z" fill="#99ff66"/>
<path d="M283.8 185.3L284.5 182.7L286 186.6L285.4 189.1z" fill="#b6ff49"/>
<path d="M284.2 182.7L284.9 190.4L286.4 194.1L285.8 186.6z" fill="#73ff8c"/>
<path d="M284.6 190.4L285.3 185.3L286.8 189.7L286.2 194.1z" fill="#4dffb2"/>
<path d="M285 185.3L285.7 186.2L287.2 189.1L286.6 189.7z" fill="#88ff77"/>
<path d="M285.5 186.2L286.1 183.2L287.7 186.9L287 189.1z" fill="#a7ff58"/>
<path d="M285.9 183.2L286.5 190.1L288.1 193.4L287.4 186.9z" fill="#6fff90"/>
<path d="M286.3 190.1L286.9 185.4L288.5 191.1L287.8 193.4z" fill="#44ffbb"/>
<path d="M286.7 185.4L287.3 183.1L288.9 188.2L288.2 191.1z" fill="#92ff6d"/>
<path d="M287.1 183.1L287.8 187.1L289.3 191.4L288.6 188.2z" fill="#83ff7c"/>
<path d="M287.5 187.1L288.2 181.1L289.7 187.6L289 191.4z" fill="#93ff6c"/>
<path d="M287.9 181.1L288.6 183.1L290.1 189L289.5 187.6z" fill="#bcff43"/>
<path d="M288.3 183.1L289 183.1L290.5 188.4L289.9 189z" fill="#a7ff58"/>
<path d="M288.7 183.1L289.4 182.8L290.9 185L290.3 188.4z" fill="#c3ff3c"/>
<path d="M289.1 182.8L289.8 187.1L291.3 189.9L290.7 185z" fill="#9dff62"/>
<path d="M289.6 187.1L290.2 186.1L291.8 189L291.1 189.9z" fill="#6cff93"/>
<path d="M290 186.1L290.6 184L292.2 187.3L291.5 189z" fill="#8fff70"/>
<path d="M290.4 184L291 184L292.6 187.5L291.9 187.3z" fill="#a5ff5a"/>
<path d="M290.8 184L291.4 179.7L293 184.9L292.3 187.5z" fill="#d0ff2f"/>
<path d="M291.2 179.7L291.9 184.7L293.4 187.8L292.7 184.9z" fill="#c8ff37"/>
<path d="M291.6 184.7L292.3 184.5L293.8 186.8L293.1 187.8z" fill="#9aff65"/>
<path d="M292 184.5L292.7 186L294.2 187.2L293.5 186.8z" fill="#94ff6b"/>
<path d="M292.4 186L293.1 183.6L294.6 186.9L294 187.2z" fill="#99ff66"/>
<path d="M292.8 183.6L293.5 184.3L295 187.9L294.4 186.9z" fill="#9eff61"/>
<path d="M293.2 184.3L293.9 180.9L295.4 186.3L294.8 187.9z" fill="#b2ff4d"/>
<path d="M293.7 180.9L294.3 175.8L295.8 182L295.2 186.3z" fill="#ffef00"/>
<path d="M294.1 175.8L294.7 184.3L296.3 187.8L295.6 182z" fill="#edff12"/>
<path d="M294.5 184.3L295.1 183.7L296.7 187.3L296 187.8z" fill="#95ff6a"/>
<path d="M294.9 183.7L295.5 180.4L297.1 185.7L296.4 187.3z" fill="#baff45"/>
<path d="M295.3 180.4L296 183.6L297.5 186.7L296.8 185.7z" fill="#bdff42"/>
<path d="M295.7 183.6L296.4 184.7L297.9 187.5L297.2 186.7z" fill="#95ff6a"/>
<path d="M296.1 184.7L296.8 185.1L298.3 188.7L297.6 187.5z" fill="#7cff83"/>
<path d="M296.5 185.1L297.2 180.2L298.7 186.6L298.1 188.7z" fill="#9eff61"/>
<path d="M296.9 180.2L297.6 187.8L299.1 191.9L298.5 186.6z" fill="#76ff89"/>
<path d="M297.3 187.8L298 180.5L299.5 187.5L298.9 191.9z" fill="#6cff93"/>
<path d="M297.8 180.5L298.4 183.7L299.9 188.8L299.3 187.5z" fill="#9aff65"/>
<path d="M298.2 183.7L298.8 181.9L300.4 187.7L299.7 188.8z" fill="#8eff71"/>
<path d="M298.6 181.9L299.2 177.5L300.8 184L300.1 187.7z" fill="#d5ff2a"/>
<path d="M299 177.5L299.6 180.5L301.2 186.8L300.5 184z" fill="#e3ff1c"/>
<path d="M299.4 180.5L300 180.2L301.6 185.8L300.9 186.8z" fill="#c4ff3b"/>
<path d="M299.8 180.2L300.5 182.9L302 188L301.3 185.8z" fill="#aaff55"/>
<path d="M300.2 182.9L300.9 183.2L302.4 187.6L301.7 188z" fill="#8aff75"/>
<path d="M300.6 183.2L301.3 182.6L302.8 186.6L302.2 187.6z" fill="#94ff6b"/>
<path d="M301 182.6L301.7 186.3L303.2 191.8L302.6 186.6z" fill="#62ff9d"/>
<path d="M301.4 186.3L302.1 179.3L303.6 183.7L303 191.8z" fill="#89ff76"/>
<path d="M301.8 179.3L302.5 183.6L304 185.8L303.4 183.7z" fill="#c1ff3e"/>
<path d="M302.3 183.6L302.9 183.6L304.5 185.7L303.8 185.8z" fill="#96ff69"/>
<path d="M302.7 183.6L303.3 174.2L304.9 180.3L304.2 185.7z" fill="#f6ff09"/>
<path d="M303.1 174.2L303.7 183.1L305.3 187.2L304.6 180.3z" fill="#eeff11"/>
<path d="M303.5 183.1L304.1 184L305.7 186.8L305 187.2z" fill="#81ff7e"/>
<path d="M303.9 184L304.6 178.6L306.1 182.5L305.4 186.8z" fill="#bcff43"/>
<path d="M304.3 178.6L305 183.6L306.5 187.6L305.8 182.5z" fill="#b8ff47"/>
<path d="M304.7 183.6L305.4 180.3L306.9 183.6L306.3 187.6z" fill="#a5ff5a"/>
<path d="M305.1 180.3L305.8 183.2L307.3 188.5L306.7 183.6z" fill="#a0ff5f"/>
<path d="M305.5 183.2L306.2 180.9L307.7 186.9L307.1 188.5z" fill="#85ff7a"/>
<path d="M305.9 180.9L306.6 186.6L308.1 188.6L307.5 186.9z" fill="#6cff93"/>
<path d="M306.4 186.6L307 186.4L308.6 190.1L307.9 188.6z" fill="#31ffce"/>
<path d="M306.8 186.4L307.4 181.7L309 186.5L308.3 190.1z" fill="#5effa1"/>
<path d="M307.2 181.7L307.8 182.8L309.4 186.9L308.7 186.5z" fill="#89ff76"/>
<path d="M307.6 182.8L308.2 178.9L309.8 183.6L309.1 186.9z" fill="#adff52"/>
<path d="M308 178.9L308.7 176.1L310.2 181.8L309.5 183.6z" fill="#f9ff06"/>
<path d="M308.4 176.1L309.1 185.2L310.6 187.2L309.9 181.8z" fill="#b7ff48"/>
<path d="M308.8 185.2L309.5 177.7L311 183.8L310.3 187.2z" fill="#9eff61"/>
<path d="M309.2 177.7L309.9 180.8L311.4 184.8L310.8 183.8z" fill="#c8ff37"/>
<path d="M309.6 180.8L310.3 181.1L311.8 185.9L311.2 184.8z" fill="#a3ff5c"/>
<path d="M310 181.1L310.7 187.9L312.2 189.1L311.6 185.9z" fill="#57ffa8"/>
<path d="M310.5 187.9L311.1 187.8L312.6 190.5L312 189.1z" fill="#0cfff3"/>
<path d="M310.9 187.8L311.5 182.5L313.1 187.7L312.4 190.5z" fill="#37ffc8"/>
<path d="M311.3 182.5L311.9 185.9L313.5 188.5L312.8 187.7z" fill="#4effb1"/>
<path d="M311.7 185.9L312.3 185L313.9 187.5L313.2 188.5z" fill="#3effc1"/>
<path d="M312.1 185L312.8 181.9L314.3 185.8L313.6 187.5z" fill="#69ff96"/>
<path d="M312.5 181.9L313.2 180.3L314.7 183.1L314 185.8z" fill="#a3ff5c"/>
<path d="M312.9 180.3L313.6 179.7L315.1 183.3L314.4 183.1z" fill="#c0ff3f"/>
<path d="M313.3 179.7L314 181.9L315.5 185.8L314.9 183.3z" fill="#a3ff5c"/>
<path d="M313.7 181.9L314.4 179.8L315.9 182.9L315.3 185.8z" fill="#a3ff5c"/>
<path d="M314.1 179.8L314.8 177.8L316.3 184L315.7 182.9z" fill="#c9ff36"/>
<path d="M314.6 177.8L315.2 181.6L316.7 185.8L316.1 184z" fill="#a8ff57"/>
<path d="M315 181.6L315.6 181.2L317.2 185.4L316.5 185.8z" fill="#87ff78"/>
<path d="M315.4 181.2L316 179.9L317.6 185.4L316.9 185.4z" fill="#94ff6b"/>
<path d="M315.8 179.9L316.4 181.3L318 186.2L317.3 185.4z" fill="#8cff73"/>
<path d="M316.2 181.3L316.8 180.4L318.4 185.6L317.7 186.2z" fill="#86ff79"/>
<path d="M316.6 180.4L317.3 181.3L318.8 185.4L318.1 185.6z" fill="#8aff75"/>
<path d="M317 181.3L317.7 181.4L319.2 186.9L318.5 185.4z" fill="#79ff86"/>
<path d="M317.4 181.4L318.1 181.4L319.6 184.4L319 186.9z" fill="#7eff81"/>
<path d="M317.8 181.4L318.5 184L320 186.8L319.4 184.4z" fill="#6cff93"/>
<path d="M318.2 184L318.9 185.1L320.4 189.9L319.8 186.8z" fill="#2fffd0"/>
<path d="M318.6 185.1L319.3 180.2L320.8 185.2L320.2 189.9z" fill="#50ffaf"/>
<path d="M319.1 180.2L319.7 183.9L321.3 186.8L320.6 185.2z" fill="#6aff95"/>
<path d="M319.5 183.9L320.1 179.2L321.7 184.6L321 186.8z" fill="#73ff8c"/>
<path d="M319.9 179.2L320.5 180.3L322.1 184.8L321.4 184.6z" fill="#97ff68"/>
<path d="M320.3 180.3L320.9 182.8L322.5 186.5L321.8 184.8z" fill="#72ff8d"/>
<path d="M320.7 182.8L321.4 182.6L322.9 187.5L322.2 186.5z" fill="#50ffaf"/>
<path d="M321.1 182.6L321.8 176.4L323.3 182.1L322.6 187.5z" fill="#95ff6a"/>
<path d="M321.5 176.4L322.2 181.7L323.7 184.8L323.1 182.1z" fill="#abff54"/>
<path d="M321.9 181.7L322.6 183.2L324.1 187.1L323.5 184.8z" fill="#5cffa3"/>
<path d="M322.3 183.2L323 180.3L324.5 187L323.9 187.1z" fill="#55ffaa"/>
<path d="M322.7 180.3L323.4 189.9L324.9 190.2L324.3 187z" fill="#13ffec"/>
<path d="M323.2 189.9L323.8 180.5L325.4 184.2L324.7 190.2z" fill="#23ffdc"/>
<path d="M323.6 180.5L324.2 182.9L325.8 186.8L325.1 184.2z" fill="#66ff99"/>
<path d="M324 182.9L324.6 181.6L326.2 185.5L325.5 186.8z" fill="#54ffab"/>
<path d="M324.4 181.6L325 175.4L326.6 183.4L325.9 185.5z" fill="#9bff64"/>
<path d="M324.8 175.4L325.5 177.6L327 182.4L326.3 183.4z" fill="#c7ff38"/>
<path d="M325.2 177.6L325.9 181.3L327.4 186.1L326.7 182.4z" fill="#8eff71"/>
<path d="M325.6 181.3L326.3 180.2L327.8 186.2L327.1 186.1z" fill="#63ff9c"/>
<path d="M326 180.2L326.7 180L328.2 185.6L327.6 186.2z" fill="#6dff92"/>
<path d="M326.4 180L327.1 177.5L328.6 182.8L328 185.6z" fill="#93ff6c"/>
<path d="M326.8 177.5L327.5 182.9L329 185.7L328.4 182.8z" fill="#7eff81"/>
<path d="M327.3 182.9L327.9 180.6L329.4 185.7L328.8 185.7z" fill="#55ffaa"/>
<path d="M327.7 180.6L328.3 177L329.9 181.5L329.2 185.7z" fill="#96ff69"/>
<path d="M328.1 177L328.7 179.7L330.3 185.3L329.6 181.5z" fill="#9dff62"/>
<path d="M328.5 179.7L329.1 181.2L330.7 184.8L330 185.3z" fill="#6aff95"/>
<path d="M328.9 181.2L329.6 181L331.1 184.3L330.4 184.8z" fill="#66ff99"/>
<path d="M329.3 181L330 184.9L331.5 187.2L330.8 184.3z" fill="#3dffc2"/>
<path d="M329.7 184.9L330.4 187L331.9 190.9L331.2 187.2z" fill="#00e8ff"/>
<path d="M330.1 187L330.8 193.3L332.3 194.9L331.7 190.9z" fill="#007dff"/>
<path d="M330.5 193.3L331.2 182.6L332.7 187L332.1 194.9z" fill="#00b2ff"/>
<path d="M330.9 182.6L331.6 179.2L333.1 183.7L332.5 187z" fill="#57ffa8"/>
<path d="M331.4 179.2L332 183.4L333.5 186.4L332.9 183.7z" fill="#55ffaa"/>
<path d="M331.8 183.4L332.4 181.1L334 184.4L333.3 186.4z" fill="#42ffbd"/>
<path d="M332.2 181.1L332.8 179.1L334.4 183.6L333.7 184.4z" fill="#6fff90"/>
<path d="M332.6 179.1L333.2 181.3L334.8 184.2L334.1 183.6z" fill="#6dff92"/>
<path d="M333 181.3L333.6 184.9L335.2 187.3L334.5 184.2z" fill="#2dffd2"/>
<path d="M333.4 184.9L334.1 181.7L335.6 185.9L334.9 187.3z" fill="#1fffe0"/>
<path d="M333.8 181.7L334.5 186.2L336 188.2L335.3 185.9z" fill="#0ffff0"/>
<path d="M334.2 186.2L334.9 182.4L336.4 185.6L335.8 188.2z" fill="#0afff5"/>
<path d="M334.6 182.4L335.3 182.4L336.8 186.4L336.2 185.6z" fill="#2dffd2"/>
<path d="M335 182.4L335.7 181.9L337.2 185.8L336.6 186.4z" fill="#2effd1"/>
<path d="M335.4 181.9L336.1 181.3L337.6 183.4L337 185.8z" fill="#48ffb7"/>
<path d="M335.9 181.3L336.5 186.3L338.1 191.5L337.4 183.4z" fill="#04fffb"/>
<path d="M336.3 186.3L336.9 180L338.5 184.8L337.8 191.5z" fill="#02fffd"/>
<path d="M336.7 180L337.3 183.5L338.9 187.1L338.2 184.8z" fill="#30ffcf"/>
<path d="M337.1 183.5L337.7 183.7L339.3 187.8L338.6 187.1z" fill="#03fffc"/>
<path d="M337.5 183.7L338.2 182.3L339.7 184.9L339 187.8z" fill="#17ffe8"/>
<path d="M337.9 182.3L338.6 184.5L340.1 188.4L339.4 184.9z" fill="#0cfff3"/>
<path d="M338.3 184.5L339 184.3L340.5 186.4L339.9 188.4z" fill="#00f3ff"/>
<path d="M338.7 184.3L339.4 182L340.9 185.4L340.3 186.4z" fill="#17ffe8"/>
<path d="M339.1 182L339.8 186.2L341.3 187.8L340.7 185.4z" fill="#00ffff"/>
<path d="M339.5 186.2L340.2 185.9L341.7 187.1L341.1 187.8z" fill="#00d9ff"/>
<path d="M340 185.9L340.6 183.3L342.2 187.7L341.5 187.1z" fill="#00ebff"/>
<path d="M340.4 183.3L341 181.4L342.6 183.1L341.9 187.7z" fill="#22ffdd"/>
<path d="M340.8 181.4L341.4 183.5L343 187.4L342.3 183.1z" fill="#22ffdd"/>
<path d="M341.2 183.5L341.8 180.2L343.4 184.4L342.7 187.4z" fill="#20ffdf"/>
<path d="M341.6 180.2L342.3 183L343.8 184.9L343.1 184.4z" fill="#31ffce"/>
<path d="M342 183L342.7 192L344.2 197.1L343.5 184.9z" fill="#008eff"/>
<path d="M342.4 192L343.1 187.5L344.6 188.2L343.9 197.1z" fill="#0059ff"/>
<path d="M342.8 187.5L343.5 182L345 184L344.4 188.2z" fill="#00efff"/>
<path d="M343.2 182L343.9 185.3L345.4 187.3L344.8 184z" fill="#04fffb"/>
<path d="M343.6 185.3L344.3 182.8L345.8 188L345.2 187.3z" fill="#00e2ff"/>
<path d="M344.1 182.8L344.7 185.9L346.2 185.6L345.6 188z" fill="#00e7ff"/>
<path d="M344.5 185.9L345.1 180.1L346.7 186.7L346 185.6z" fill="#01fffe"/>
<path d="M344.9 180.1L345.5 182.9L347.1 187.6L346.4 186.7z" fill="#06fff9"/>
<path d="M345.3 182.9L345.9 182.2L347.5 185.9L346.8 187.6z" fill="#00faff"/>
<path d="M345.7 182.2L346.4 181L347.9 184.4L347.2 185.9z" fill="#1bffe4"/>
<path d="M346.1 181L346.8 179.9L348.3 183.9L347.6 184.4z" fill="#36ffc9"/>
<path d="M346.5 179.9L347.2 179L348.7 184.5L348 183.9z" fill="#42ffbd"/>
<path d="M346.9 179L347.6 186.8L349.1 190.2L348.5 184.5z" fill="#00e8ff"/>
<path d="M347.3 186.8L348 182.4L349.5 187.6L348.9 190.2z" fill="#00bcff"/>
<path d="M347.7 182.4L348.4 185.5L349.9 187.8L349.3 187.6z" fill="#00d4ff"/>
<path d="M348.2 185.5L348.8 184.4L350.3 186.8L349.7 187.8z" fill="#00caff"/>
<path d="M348.6 184.4L349.2 183.2L350.8 186.2L350.1 186.8z" fill="#00e2ff"/>
<path d="M349 183.2L349.6 183.8L351.2 186.7L350.5 186.2z" fill="#00e6ff"/>
<path d="M349.4 183.8L350 189.7L351.6 195.7L350.9 186.7z" fill="#007bff"/>
<path d="M349.8 189.7L350.4 177.7L352 183.9L351.3 195.7z" fill="#00b4ff"/>
<path d="M350.2 177.7L350.9 179.7L352.4 183.7L351.7 183.9z" fill="#44ffbb"/>
<path d="M350.6 179.7L351.3 185.8L352.8 188.3L352.1 183.7z" fill="#00efff"/>
<path d="M351 185.8L351.7 188.7L353.2 187.8L352.6 188.3z" fill="#0098ff"/>
<path d="M351.4 188.7L352.1 183.4L353.6 186.4L353 187.8z" fill="#00b2ff"/>
<path d="M351.8 183.4L352.5 187L354 190L353.4 186.4z" fill="#00aeff"/>
<path d="M352.2 187L352.9 184.5L354.4 185.2L353.8 190z" fill="#00adff"/>
<path d="M352.7 184.5L353.3 184.7L354.9 188.4L354.2 185.2z" fill="#00c5ff"/>
<path d="M353.1 184.7L353.7 182.5L355.3 186.6L354.6 188.4z" fill="#00c8ff"/>
<path d="M353.5 182.5L354.1 185.6L355.7 189.8L355 186.6z" fill="#00b7ff"/>
<path d="M353.9 185.6L354.5 184.7L356.1 187.4L355.4 189.8z" fill="#00a2ff"/>
<path d="M354.3 184.7L355 177.2L356.5 183L355.8 187.4z" fill="#05fffa"/>
<path d="M354.7 177.2L355.4 182.2L356.9 184.5L356.2 183z" fill="#27ffd8"/>
<path d="M355.1 182.2L355.8 181.9L357.3 185.6L356.7 184.5z" fill="#00f5ff"/>
<path d="M355.5 181.9L356.2 184.9L357.7 188L357.1 185.6z" fill="#00caff"/>
<path d="M355.9 184.9L356.6 187.8L358.1 190.6L357.5 188z" fill="#0081ff"/>
<path d="M356.3 187.8L357 181.4L358.5 186.1L357.9 190.6z" fill="#00a4ff"/>
<path d="M356.8 181.4L357.4 182L359 185L358.3 186.1z" fill="#00edff"/>
<path d="M357.2 182L357.8 187.6L359.4 192L358.7 185z" fill="#009cff"/>
<path d="M357.6 187.6L358.2 180.7L359.8 186L359.1 192z" fill="#009cff"/>
<path d="M358 180.7L358.6 186.4L360.2 188.9L359.5 186z" fill="#00b8ff"/>
<path d="M275.9 192L276.6 190.1L277.8 192.7L277.2 194.4z" fill="#61ff9e"/>
<path d="M276.3 190.1L277 187.9L278.2 191.9L277.6 192.7z" fill="#8bff74"/>
<path d="M276.7 187.9L277.4 188.2L278.6 192L278 191.9z" fill="#9bff64"/>
<path d="M277.2 188.2L277.8 195.4L279 197.7L278.4 192z" fill="#42ffbd"/>
<path d="M277.6 195.4L278.2 188.9L279.5 192.6L278.8 197.7z" fill="#38ffc7"/>
<path d="M278 188.9L278.6 190.8L279.9 193.1L279.2 192.6z" fill="#73ff8c"/>
<path d="M278.4 190.8L279 189.2L280.3 191.2L279.6 193.1z" fill="#78ff87"/>
<path d="M278.8 189.2L279.5 189.8L280.7 191.9L280 191.2z" fill="#85ff7a"/>
<path d="M279.2 189.8L279.9 189.7L281.1 192.5L280.4 191.9z" fill="#78ff87"/>
<path d="M279.6 189.7L280.3 186.7L281.5 189.3L280.8 192.5z" fill="#9cff63"/>
<path d="M280 186.7L280.7 184.4L281.9 188.7L281.3 189.3z" fill="#d7ff28"/>
<path d="M280.4 184.4L281.1 189.7L282.3 191.5L281.7 188.7z" fill="#b4ff4b"/>
<path d="M280.8 189.7L281.5 188L282.7 191.3L282.1 191.5z" fill="#89ff76"/>
<path d="M281.3 188L281.9 188.9L283.1 192.2L282.5 191.3z" fill="#89ff76"/>
<path d="M281.7 188.9L282.3 181.1L283.6 186.8L282.9 192.2z" fill="#d2ff2d"/>
<path d="M282.1 181.1L282.7 191.1L284 193.8L283.3 186.8z" fill="#b6ff49"/>
<path d="M282.5 191.1L283.1 188.8L284.4 191.6L283.7 193.8z" fill="#63ff9c"/>
<path d="M282.9 188.8L283.6 190.9L284.8 194.6L284.1 191.6z" fill="#5effa1"/>
<path d="M283.3 190.9L284 191.1L285.2 194.5L284.5 194.6z" fill="#3affc5"/>
<path d="M283.7 191.1L284.4 190.1L285.6 193.3L284.9 194.5z" fill="#47ffb8"/>
<path d="M284.1 190.1L284.8 188.7L286 191.3L285.4 193.3z" fill="#6bff94"/>
<path d="M284.5 188.7L285.2 188.5L286.4 191.4L285.8 191.3z" fill="#80ff7f"/>
<path d="M284.9 188.5L285.6 188.6L286.8 191.4L286.2 191.4z" fill="#7eff81"/>
<path d="M285.4 188.6L286 186.1L287.2 190.2L286.6 191.4z" fill="#94ff6b"/>
<path d="M285.8 186.1L286.4 193.6L287.7 196.9L287 190.2z" fill="#4dffb2"/>
<path d="M286.2 193.6L286.8 189.2L288.1 192.2L287.4 196.9z" fill="#2bffd4"/>
<path d="M286.6 189.2L287.2 188.6L288.5 191.7L287.8 192.2z" fill="#6cff93"/>
<path d="M287 188.6L287.7 186.4L288.9 191.3L288.2 191.7z" fill="#83ff7c"/>
<path d="M287.4 186.4L288.1 192.9L289.3 195.5L288.6 191.3z" fill="#4dffb2"/>
<path d="M287.8 192.9L288.5 190.6L289.7 194.5L289 195.5z" fill="#1bffe4"/>
<path d="M288.2 190.6L288.9 187.7L290.1 192.3L289.5 194.5z" fill="#51ffae"/>
<path d="M288.6 187.7L289.3 190.9L290.5 193.7L289.9 192.3z" fill="#52ffad"/>
<path d="M289 190.9L289.7 187.1L290.9 191.4L290.3 193.7z" fill="#5bffa4"/>
<path d="M289.5 187.1L290.1 188.5L291.3 192.6L290.7 191.4z" fill="#70ff8f"/>
<path d="M289.9 188.5L290.5 187.9L291.7 191.2L291.1 192.6z" fill="#6aff95"/>
<path d="M290.3 187.9L290.9 184.5L292.2 188.7L291.5 191.2z" fill="#9dff62"/>
<path d="M290.7 184.5L291.3 189.4L292.6 191.6L291.9 188.7z" fill="#8fff70"/>
<path d="M291.1 189.4L291.8 188.5L293 191.7L292.3 191.6z" fill="#60ff9f"/>
<path d="M291.5 188.5L292.2 186.8L293.4 190.8L292.7 191.7z" fill="#74ff8b"/>
<path d="M291.9 186.8L292.6 187L293.8 191.7L293.1 190.8z" fill="#7cff83"/>
<path d="M292.3 187L293 184.4L294.2 190L293.5 191.7z" fill="#90ff6f"/>
<path d="M292.7 184.4L293.4 187.3L294.6 190.3L294 190z" fill="#96ff69"/>
<path d="M293.1 187.3L293.8 186.3L295 189.4L294.4 190.3z" fill="#8bff74"/>
<path d="M293.5 186.3L294.2 186.7L295.4 188.9L294.8 189.4z" fill="#97ff68"/>
<path d="M294 186.7L294.6 186.4L295.8 189.4L295.2 188.9z" fill="#96ff69"/>
<path d="M294.4 186.4L295 187.4L296.3 191L295.6 189.4z" fill="#82ff7d"/>
<path d="M294.8 187.4L295.4 185.8L296.7 189.4L296 191z" fill="#84ff7b"/>
<path d="M295.2 185.8L295.8 181.5L297.1 187.5L296.4 189.4z" fill="#c0ff3f"/>
<path d="M295.6 181.5L296.3 187.3L297.5 190.8L296.8 187.5z" fill="#acff53"/>
<path d="M296 187.3L296.7 186.8L297.9 189.9L297.2 190.8z" fill="#78ff87"/>
<path d="M296.4 186.8L297.1 185.2L298.3 188.7L297.6 189.9z" fill="#91ff6e"/>
<path d="M296.8 185.2L297.5 186.2L298.7 188L298.1 188.7z" fill="#a0ff5f"/>
<path d="M297.2 186.2L297.9 187L299.1 189.6L298.5 188z" fill="#8eff71"/>
<path d="M297.6 187L298.3 188.2L299.5 190.5L298.9 189.6z" fill="#6fff90"/>
<path d="M298.1 188.2L298.7 186.1L299.9 190.6L299.3 190.5z" fill="#6cff93"/>
<path d="M298.5 186.1L299.1 191.4L300.4 194L299.7 190.6z" fill="#3fffc0"/>
<path d="M298.9 191.4L299.5 187L300.8 191.7L300.1 194z" fill="#30ffcf"/>
<path d="M299.3 187L299.9 188.3L301.2 192.2L300.5 191.7z" fill="#4fffb0"/>
<path d="M299.7 188.3L300.4 187.2L301.6 191.1L300.9 192.2z" fill="#51ffae"/>
<path d="M300.1 187.2L300.8 183.5L302 188.3L301.3 191.1z" fill="#88ff77"/>
<path d="M300.5 183.5L301.2 186.3L302.4 189.6L301.7 188.3z" fill="#96ff69"/>
<path d="M300.9 186.3L301.6 185.3L302.8 191.2L302.2 189.6z" fill="#76ff89"/>
<path d="M301.3 185.3L302 187.5L303.2 191.5L302.6 191.2z" fill="#60ff9f"/>
<path d="M301.7 187.5L302.4 187.1L303.6 190L303 191.5z" fill="#5affa5"/>
<path d="M302.2 187.1L302.8 186.1L304 190.1L303.4 190z" fill="#6cff93"/>
<path d="M302.6 186.1L303.2 191.3L304.5 193.3L303.8 190.1z" fill="#39ffc6"/>
<path d="M303 191.3L303.6 183.2L304.9 188.1L304.2 193.3z" fill="#58ffa7"/>
<path d="M303.4 183.2L304 185.3L305.3 188.7L304.6 188.1z" fill="#9cff63"/>
<path d="M303.8 185.3L304.5 185.2L305.7 188.7L305 188.7z" fill="#8aff75"/>
<path d="M304.2 185.2L304.9 179.8L306.1 183.7L305.4 188.7z" fill="#cdff32"/>
<path d="M304.6 179.8L305.3 186.7L306.5 188.8L305.8 183.7z" fill="#c1ff3e"/>
<path d="M305 186.7L305.7 186.3L306.9 188.7L306.3 188.8z" fill="#74ff8b"/>
<path d="M305.4 186.3L306.1 182L307.3 186.6L306.7 188.7z" fill="#9fff60"/>
<path d="M305.8 182L306.5 187.1L307.7 190L307.1 186.6z" fill="#90ff6f"/>
<path d="M306.3 187.1L306.9 183.1L308.1 188.2L307.5 190z" fill="#7dff82"/>
<path d="M306.7 183.1L307.3 188L308.5 190L307.9 188.2z" fill="#76ff89"/>
<path d="M307.1 188L307.7 186.4L309 189.8L308.3 190z" fill="#55ffaa"/>
<path d="M307.5 186.4L308.1 188.1L309.4 189.7L308.7 189.8z" fill="#54ffab"/>
<path d="M307.9 188.1L308.6 189.6L309.8 191.5L309.1 189.7z" fill="#32ffcd"/>
<path d="M308.3 189.6L309 186L310.2 190.8L309.5 191.5z" fill="#37ffc8"/>
<path d="M308.7 186L309.4 186.4L310.6 189.3L309.9 190.8z" fill="#59ffa6"/>
<path d="M309.1 186.4L309.8 183.1L311 188.5L310.3 189.3z" fill="#79ff86"/>
<path d="M309.5 183.1L310.2 181.3L311.4 185.9L310.8 188.5z" fill="#b0ff4f"/>
<path d="M309.9 181.3L310.6 186.7L311.8 190.1L311.2 185.9z" fill="#8dff72"/>
<path d="M310.3 186.7L311 183.3L312.2 188L311.6 190.1z" fill="#71ff8e"/>
<path d="M310.8 183.3L311.4 184.3L312.6 189L312 188z" fill="#86ff79"/>
<path d="M311.2 184.3L311.8 185.4L313.1 191.5L312.4 189z" fill="#5fffa0"/>
<path d="M311.6 185.4L312.2 188.6L313.5 193L312.8 191.5z" fill="#27ffd8"/>
<path d="M312 188.6L312.6 190L313.9 193.1L313.2 193z" fill="#00fdff"/>
<path d="M312.4 190L313.1 187.2L314.3 191.5L313.6 193.1z" fill="#0ffff0"/>
<path d="M312.8 187.2L313.5 188L314.7 190.9L314 191.5z" fill="#29ffd6"/>
<path d="M313.2 188L313.9 187L315.1 190.1L314.4 190.9z" fill="#32ffcd"/>
<path d="M313.6 187L314.3 185.3L315.5 187.7L314.9 190.1z" fill="#57ffa8"/>
<path d="M314 185.3L314.7 182.6L315.9 185.1L315.3 187.7z" fill="#93ff6c"/>
<path d="M314.4 182.6L315.1 182.8L316.3 185.8L315.7 185.1z" fill="#afff50"/>
<path d="M314.9 182.8L315.5 185.3L316.7 187.2L316.1 185.8z" fill="#8eff71"/>
<path d="M315.3 185.3L315.9 182.4L317.2 185.2L316.5 187.2z" fill="#93ff6c"/>
<path d="M315.7 182.4L316.3 183.5L317.6 187.8L316.9 185.2z" fill="#9aff65"/>
<path d="M316.1 183.5L316.7 185.3L318 188L317.3 187.8z" fill="#73ff8c"/>
<path d="M316.5 185.3L317.2 184.9L318.4 187.3L317.7 188z" fill="#6bff94"/>
<path d="M316.9 184.9L317.6 184.9L318.8 187.2L318.1 187.3z" fill="#72ff8d"/>
<path d="M317.3 184.9L318 185.7L319.2 188.4L318.5 187.2z" fill="#64ff9b"/>
<path d="M317.7 185.7L318.4 185.1L319.6 188.8L319 188.4z" fill="#57ffa8"/>
<path d="M318.1 185.1L318.8 184.9L320 187.8L319.4 188.8z" fill="#5effa1"/>
<path d="M318.5 184.9L319.2 186.4L320.4 187.5L319.8 187.8z" fill="#5cffa3"/>
<path d="M319 186.4L319.6 183.9L320.8 187.2L320.2 187.5z" fill="#65ff9a"/>
<path d="M319.4 183.9L320 186.3L321.3 189.3L320.6 187.2z" fill="#59ffa6"/>
<path d="M319.8 186.3L320.4 189.4L321.7 191.9L321 189.3z" fill="#15ffea"/>
<path d="M320.2 189.4L320.8 184.7L322.1 188.7L321.4 191.9z" fill="#22ffdd"/>
<path d="M320.6 184.7L321.3 186.3L322.5 190.7L321.8 188.7z" fill="#3cffc3"/>
<path d="M321 186.3L321.7 184.1L322.9 189.2L322.2 190.7z" fill="#3cffc3"/>
<path d="M321.4 184.1L322.1 184.3L323.3 188.7L322.6 189.2z" fill="#54ffab"/>
<path d="M321.8 184.3L322.5 186L323.7 188.7L323.1 188.7z" fill="#4affb5"/>
<path d="M322.2 186L322.9 187L324.1 189.8L323.5 188.7z" fill="#30ffcf"/>
<path d="M322.6 187L323.3 181.6L324.5 186.7L323.9 189.8z" fill="#58ffa7"/>
<path d="M323.1 181.6L323.7 184.3L324.9 187.2L324.3 186.7z" fill="#79ff86"/>
<path d="M323.5 184.3L324.1 186.6L325.3 187.8L324.7 187.2z" fill="#4fffb0"/>
<path d="M323.9 186.6L324.5 186.5L325.8 188.7L325.1 187.8z" fill="#35ffca"/>
<path d="M324.3 186.5L324.9 189.7L326.2 192.1L325.5 188.7z" fill="#03fffc"/>
<path d="M324.7 189.7L325.4 183.7L326.6 185.7L325.9 192.1z" fill="#28ffd7"/>
<path d="M325.1 183.7L325.8 186.3L327 188.3L326.3 185.7z" fill="#56ffa9"/>
<path d="M325.5 186.3L326.2 185L327.4 187.8L326.7 188.3z" fill="#3fffc0"/>
<path d="M325.9 185L326.6 182.9L327.8 187.5L327.1 187.8z" fill="#59ffa6"/>
<path d="M326.3 182.9L327 181.9L328.2 186.2L327.6 187.5z" fill="#75ff8a"/>
<path d="M326.7 181.9L327.4 185.6L328.6 188.5L328 186.2z" fill="#5cffa3"/>
<path d="M327.1 185.6L327.8 185.7L329 189L328.4 188.5z" fill="#30ffcf"/>
<path d="M327.6 185.7L328.2 185.1L329.4 187.6L328.8 189z" fill="#37ffc8"/>
<path d="M328 185.1L328.6 182.3L329.9 186.7L329.2 187.6z" fill="#5bffa4"/>
<path d="M328.4 182.3L329 185.2L330.3 188L329.6 186.7z" fill="#56ffa9"/>
<path d="M328.8 185.2L329.4 185.2L330.7 187.4L330 188z" fill="#3dffc2"/>
<path d="M329.2 185.2L329.9 181L331.1 184.8L330.4 187.4z" fill="#6cff93"/>
<path d="M329.6 181L330.3 184.8L331.5 187.8L330.8 184.8z" fill="#6bff94"/>
<path d="M330 184.8L330.7 184.3L331.9 188.5L331.2 187.8z" fill="#3bffc4"/>
<path d="M330.4 184.3L331.1 183.8L332.3 187.5L331.7 188.5z" fill="#43ffbc"/>
<path d="M330.8 183.8L331.5 186.7L332.7 189.6L332.1 187.5z" fill="#2affd5"/>
<path d="M331.2 186.7L331.9 190.4L333.1 193.6L332.5 189.6z" fill="#00d4ff"/>
<path d="M331.7 190.4L332.3 194.4L333.5 195.3L332.9 193.6z" fill="#007bff"/>
<path d="M332.1 194.4L332.7 186.5L334 189.6L333.3 195.3z" fill="#00adff"/>
<path d="M332.5 186.5L333.1 183.2L334.4 185.9L333.7 189.6z" fill="#34ffcb"/>
<path d="M332.9 183.2L333.5 185.9L334.8 189L334.1 185.9z" fill="#3affc5"/>
<path d="M333.3 185.9L334 183.9L335.2 187.8L334.5 189z" fill="#28ffd7"/>
<path d="M333.7 183.9L334.4 183.1L335.6 186.9L334.9 187.8z" fill="#46ffb9"/>
<path d="M334.1 183.1L334.8 183.7L336 187.2L335.3 186.9z" fill="#4affb5"/>
<path d="M334.5 183.7L335.2 186.8L336.4 189.6L335.8 187.2z" fill="#1effe1"/>
<path d="M334.9 186.8L335.6 185.4L336.8 187.8L336.2 189.6z" fill="#0efff1"/>
<path d="M335.3 185.4L336 187.7L337.2 188.7L336.6 187.8z" fill="#0dfff2"/>
<path d="M335.8 187.7L336.4 185.1L337.6 188.6L337 188.7z" fill="#08fff7"/>
<path d="M336.2 185.1L336.8 185.9L338.1 188.9L337.4 188.6z" fill="#11ffee"/>
<path d="M336.6 185.9L337.2 185.3L338.5 186.9L337.8 188.9z" fill="#19ffe6"/>
<path d="M337 185.3L337.6 182.9L338.9 185.7L338.2 186.9z" fill="#41ffbe"/>
<path d="M337.4 182.9L338.1 191L339.3 192.3L338.6 185.7z" fill="#00f5ff"/>
<path d="M337.8 191L338.5 184.3L339.7 188.4L339 192.3z" fill="#00d8ff"/>
<path d="M338.2 184.3L338.9 186.6L340.1 190.5L339.4 188.4z" fill="#01fffe"/>
<path d="M338.6 186.6L339.3 187.3L340.5 189.6L339.9 190.5z" fill="#00e3ff"/>
<path d="M339 187.3L339.7 184.4L340.9 187.3L340.3 189.6z" fill="#06fff9"/>
<path d="M339.4 184.4L340.1 187.9L341.3 190.5L340.7 187.3z" fill="#00faff"/>
<path d="M339.9 187.9L340.5 185.9L341.7 188L341.1 190.5z" fill="#00eaff"/>
<path d="M340.3 185.9L340.9 184.9L342.1 187.1L341.5 188z" fill="#14ffeb"/>
<path d="M340.7 184.9L341.3 187.3L342.6 190.3L341.9 187.1z" fill="#00f9ff"/>
<path d="M341.1 187.3L341.7 186.6L343 186.3L342.3 190.3z" fill="#00f2ff"/>
<path d="M341.5 186.6L342.2 187.2L343.4 190.6L342.7 186.3z" fill="#00eeff"/>
<path d="M341.9 187.2L342.6 182.6L343.8 185.6L343.1 190.6z" fill="#0dfff2"/>
<path d="M342.3 182.6L343 186.9L344.2 189L343.5 185.6z" fill="#18ffe7"/>
<path d="M342.7 186.9L343.4 183.9L344.6 187.6L343.9 189z" fill="#01fffe"/>
<path d="M343.1 183.9L343.8 184.4L345 186L344.4 187.6z" fill="#23ffdc"/>
<path d="M343.5 184.4L344.2 196.6L345.4 198.2L344.8 186z" fill="#0088ff"/>
<path d="M343.9 196.6L344.6 187.7L345.8 191L345.2 198.2z" fill="#0050ff"/>
<path d="M344.4 187.7L345 183.5L346.2 185.9L345.6 191z" fill="#00f5ff"/>
<path d="M344.8 183.5L345.4 186.8L346.7 188.8L346 185.9z" fill="#09fff6"/>
<path d="M345.2 186.8L345.8 187.5L347.1 189.5L346.4 188.8z" fill="#00d5ff"/>
<path d="M345.6 187.5L346.2 185.1L347.5 187.8L346.8 189.5z" fill="#00e5ff"/>
<path d="M346 185.1L346.7 186.2L347.9 188.8L347.2 187.8z" fill="#00f1ff"/>
<path d="M346.4 186.2L347.1 187.1L348.3 189L347.6 188.8z" fill="#00daff"/>
<path d="M346.8 187.1L347.5 185.4L348.7 189.6L348 189z" fill="#00d8ff"/>
<path d="M347.2 185.4L347.9 183.9L349.1 188.5L348.5 189.6z" fill="#00efff"/>
<path d="M347.6 183.9L348.3 183.4L349.5 186.8L348.9 188.5z" fill="#0efff1"/>
<path d="M348 183.4L348.7 184L349.9 186.7L349.3 186.8z" fill="#18ffe7"/>
<path d="M348.5 184L349.1 189.7L350.3 194.5L349.7 186.7z" fill="#00baff"/>
<path d="M348.9 189.7L349.5 187.1L350.8 190L350.1 194.5z" fill="#008eff"/>
<path d="M349.3 187.1L349.9 187.3L351.2 190.3L350.5 190z" fill="#00b8ff"/>
<path d="M349.7 187.3L350.3 186.3L351.6 189L350.9 190.3z" fill="#00c3ff"/>
<path d="M350.1 186.3L350.8 185.7L352 188.3L351.3 189z" fill="#00d9ff"/>
<path d="M350.5 185.7L351.2 186.2L352.4 188.4L351.7 188.3z" fill="#00dcff"/>
<path d="M350.9 186.2L351.6 195.2L352.8 199L352.1 188.4z" fill="#0055ff"/>
<path d="M351.3 195.2L352 183.4L353.2 186.2L352.6 199z" fill="#0075ff"/>
<path d="M351.7 183.4L352.4 183.2L353.6 186.6L353 186.2z" fill="#15ffea"/>
<path d="M352.1 183.2L352.8 187.8L354 190L353.4 186.6z" fill="#00ddff"/>
<path d="M352.6 187.8L353.2 187.3L354.4 190L353.8 190z" fill="#00aaff"/>
<path d="M353 187.3L353.6 185.9L354.9 189.2L354.2 190z" fill="#00baff"/>
<path d="M353.4 185.9L354 189.5L355.3 189.8L354.6 189.2z" fill="#00abff"/>
<path d="M353.8 189.5L354.4 184.7L355.7 188.4L355 189.8z" fill="#00b7ff"/>
<path d="M354.2 184.7L354.9 187.9L356.1 189.9L355.4 188.4z" fill="#00bfff"/>
<path d="M354.6 187.9L355.3 186.1L356.5 188.2L355.8 189.9z" fill="#00b6ff"/>
<path d="M355 186.1L355.7 189.3L356.9 192.4L356.2 188.2z" fill="#009cff"/>
<path d="M355.4 189.3L356.1 186.9L357.3 189.5L356.7 192.4z" fill="#008cff"/>
<path d="M355.8 186.9L356.5 182.5L357.7 187.8L357.1 189.5z" fill="#00d5ff"/>
<path d="M356.2 182.5L356.9 184L358.1 186.7L357.5 187.8z" fill="#00faff"/>
<path d="M356.7 184L357.3 185.1L358.5 186.7L357.9 186.7z" fill="#00eeff"/>
<path d="M357.1 185.1L357.7 187.5L358.9 189.2L358.3 186.7z" fill="#00c4ff"/>
<path d="M357.5 187.5L358.1 190.1L359.4 193L358.7 189.2z" fill="#007aff"/>
<path d="M357.9 190.1L358.5 185.6L359.8 190.7L359.1 193z" fill="#007bff"/>
<path d="M358.3 185.6L359 184.5L360.2 186L359.5 190.7z" fill="#00ccff"/>
<path d="M358.7 184.5L359.4 191.5L360.6 193.4L359.9 186z" fill="#0091ff"/>
<path d="M359.1 191.5L359.8 185.5L361 188.5L360.3 193.4z" fill="#0079ff"/>
<path d="M359.5 185.5L360.2 188.4L361.4 189.7L360.7 188.5z" fill="#00a5ff"/>
<path d="M277.2 193.9L277.8 192.2L278.7 195L278.1 195.9z" fill="#54ffab"/>
<path d="M277.6 192.2L278.2 191.4L279.1 195L278.5 195z" fill="#68ff97"/>
<path d="M278 191.4L278.6 191.5L279.6 194.3L278.9 195z" fill="#70ff8f"/>
<path d="M278.4 191.5L279 197.2L280 198.9L279.3 194.3z" fill="#2fffd0"/>
<path d="M278.8 197.2L279.5 192.1L280.4 194.6L279.7 198.9z" fill="#28ffd7"/>
<path d="M279.2 192.1L279.9 192.6L280.8 194.7L280.1 194.6z" fill="#60ff9f"/>
<path d="M279.6 192.6L280.3 190.7L281.2 193.3L280.5 194.7z" fill="#70ff8f"/>
<path d="M280 190.7L280.7 191.4L281.6 194.7L280.9 193.3z" fill="#76ff89"/>
<path d="M280.4 191.4L281.1 192L282 194.7L281.4 194.7z" fill="#63ff9c"/>
<path d="M280.8 192L281.5 188.8L282.4 190.9L281.8 194.7z" fill="#8bff74"/>
<path d="M281.3 188.8L281.9 188.2L282.8 192.3L282.2 190.9z" fill="#b3ff4c"/>
<path d="M281.7 188.2L282.3 191L283.2 193.1L282.6 192.3z" fill="#94ff6b"/>
<path d="M282.1 191L282.7 190.8L283.7 192.6L283 193.1z" fill="#7fff80"/>
<path d="M282.5 190.8L283.1 191.7L284.1 193.7L283.4 192.6z" fill="#76ff89"/>
<path d="M282.9 191.7L283.6 186.3L284.5 190.8L283.8 193.7z" fill="#9dff62"/>
<path d="M283.3 186.3L284 193.3L284.9 195.2L284.2 190.8z" fill="#87ff78"/>
<path d="M283.7 193.3L284.4 191.1L285.3 193L284.6 195.2z" fill="#58ffa7"/>
<path d="M284.1 191.1L284.8 194.1L285.7 197.4L285 193z" fill="#43ffbc"/>
<path d="M284.5 194.1L285.2 194L286.1 195.7L285.5 197.4z" fill="#1dffe2"/>
<path d="M284.9 194L285.6 192.8L286.5 195.4L285.9 195.7z" fill="#32ffcd"/>
<path d="M285.4 192.8L286 190.8L286.9 193.2L286.3 195.4z" fill="#56ffa9"/>
<path d="M285.8 190.8L286.4 190.9L287.3 193.3L286.7 193.2z" fill="#6eff91"/>
<path d="M286.2 190.9L286.8 190.9L287.8 193.7L287.1 193.3z" fill="#68ff97"/>
<path d="M286.6 190.9L287.2 189.7L288.2 193.6L287.5 193.7z" fill="#6dff92"/>
<path d="M287 189.7L287.7 196.4L288.6 198.9L287.9 193.6z" fill="#25ffda"/>
<path d="M287.4 196.4L288.1 191.7L289 195.2L288.3 198.9z" fill="#0cfff3"/>
<path d="M287.8 191.7L288.5 191.2L289.4 193.3L288.7 195.2z" fill="#52ffad"/>
<path d="M288.2 191.2L288.9 190.8L289.8 194.5L289.1 193.3z" fill="#5bffa4"/>
<path d="M288.6 190.8L289.3 195L290.2 198.6L289.6 194.5z" fill="#1dffe2"/>
<path d="M289 195L289.7 194L290.6 196.2L290 198.6z" fill="#00fbff"/>
<path d="M289.5 194L290.1 191.8L291 195L290.4 196.2z" fill="#28ffd7"/>
<path d="M289.9 191.8L290.5 193.2L291.4 195.2L290.8 195z" fill="#32ffcd"/>
<path d="M290.3 193.2L290.9 190.9L291.9 195L291.2 195.2z" fill="#36ffc9"/>
<path d="M290.7 190.9L291.3 192.1L292.3 194.9L291.6 195z" fill="#3effc1"/>
<path d="M291.1 192.1L291.7 190.7L292.7 193.7L292 194.9z" fill="#46ffb9"/>
<path d="M291.5 190.7L292.2 188.2L293.1 191.3L292.4 193.7z" fill="#76ff89"/>
<path d="M291.9 188.2L292.6 191.1L293.5 191.9L292.8 191.3z" fill="#7eff81"/>
<path d="M292.3 191.1L293 191.2L293.9 192.8L293.2 191.9z" fill="#5fffa0"/>
<path d="M292.7 191.2L293.4 190.3L294.3 193.6L293.6 192.8z" fill="#57ffa8"/>
<path d="M293.1 190.3L293.8 191.2L294.7 194.6L294.1 193.6z" fill="#4affb5"/>
<path d="M293.5 191.2L294.2 189.5L295.1 192.7L294.5 194.6z" fill="#53ffac"/>
<path d="M294 189.5L294.6 189.8L295.5 191.9L294.9 192.7z" fill="#6dff92"/>
<path d="M294.4 189.8L295 188.9L295.9 191.7L295.3 191.9z" fill="#75ff8a"/>
<path d="M294.8 188.9L295.4 188.4L296.4 190.1L295.7 191.7z" fill="#89ff76"/>
<path d="M295.2 188.4L295.8 188.9L296.8 191.4L296.1 190.1z" fill="#8aff75"/>
<path d="M295.6 188.9L296.3 190.5L297.2 192.6L296.5 191.4z" fill="#6aff95"/>
<path d="M296 190.5L296.7 188.9L297.6 190.6L296.9 192.6z" fill="#6eff91"/>
<path d="M296.4 188.9L297.1 187L298 191.2L297.3 190.6z" fill="#8cff73"/>
<path d="M296.8 187L297.5 190.3L298.4 192.3L297.7 191.2z" fill="#77ff88"/>
<path d="M297.2 190.3L297.9 189.4L298.8 191.8L298.2 192.3z" fill="#62ff9d"/>
<path d="M297.6 189.4L298.3 188.2L299.2 191.1L298.6 191.8z" fill="#75ff8a"/>
<path d="M298.1 188.2L298.7 187.5L299.6 190L299 191.1z" fill="#8cff73"/>
<path d="M298.5 187.5L299.1 189.1L300 191.6L299.4 190z" fill="#82ff7d"/>
<path d="M298.9 189.1L299.5 190L300.5 192.5L299.8 191.6z" fill="#60ff9f"/>
<path d="M299.3 190L299.9 190.1L300.9 193.9L300.2 192.5z" fill="#49ffb6"/>
<path d="M299.7 190.1L300.4 193.5L301.3 196.5L300.6 193.9z" fill="#16ffe9"/>
<path d="M300.1 193.5L300.8 191.2L301.7 194.7L301 196.5z" fill="#09fff6"/>
<path d="M300.5 191.2L301.2 191.7L302.1 194.5L301.4 194.7z" fill="#20ffdf"/>
<path d="M300.9 191.7L301.6 190.6L302.5 194L301.8 194.5z" fill="#27ffd8"/>
<path d="M301.3 190.6L302 187.8L302.9 192.2L302.3 194z" fill="#4effb1"/>
<path d="M301.7 187.8L302.4 189.1L303.3 192.7L302.7 192.2z" fill="#5effa1"/>
<path d="M302.2 189.1L302.8 190.7L303.7 194.4L303.1 192.7z" fill="#3cffc3"/>
<path d="M302.6 190.7L303.2 191L304.1 194.1L303.5 194.4z" fill="#25ffda"/>
<path d="M303 191L303.6 189.5L304.6 192.5L303.9 194.1z" fill="#37ffc8"/>
<path d="M303.4 189.5L304 189.6L305 193.2L304.3 192.5z" fill="#45ffba"/>
<path d="M303.8 189.6L304.5 192.8L305.4 194.8L304.7 193.2z" fill="#1fffe0"/>
<path d="M304.2 192.8L304.9 187.6L305.8 189.9L305.1 194.8z" fill="#40ffbf"/>
<path d="M304.6 187.6L305.3 188.2L306.2 190.2L305.5 189.9z" fill="#7bff84"/>
<path d="M305 188.2L305.7 188.2L306.6 189.9L305.9 190.2z" fill="#76ff89"/>
<path d="M305.4 188.2L306.1 183.2L307 187L306.4 189.9z" fill="#aaff55"/>
<path d="M305.8 183.2L306.5 188.3L307.4 190.4L306.8 187z" fill="#a5ff5a"/>
<path d="M306.3 188.3L306.9 188.2L307.8 191.7L307.2 190.4z" fill="#64ff9b"/>
<path d="M306.7 188.2L307.3 186.1L308.2 189.1L307.6 191.7z" fill="#7aff85"/>
<path d="M307.1 186.1L307.7 189.5L308.7 191.5L308 189.1z" fill="#70ff8f"/>
<path d="M307.5 189.5L308.1 187.7L309.1 191.3L308.4 191.5z" fill="#56ffa9"/>
<path d="M307.9 187.7L308.5 189.5L309.5 192.2L308.8 191.3z" fill="#4fffb0"/>
<path d="M308.3 189.5L309 189.3L309.9 192.2L309.2 192.2z" fill="#3effc1"/>
<path d="M308.7 189.3L309.4 189.2L310.3 191.3L309.6 192.2z" fill="#45ffba"/>
<path d="M309.1 189.2L309.8 191L310.7 193L310 191.3z" fill="#33ffcc"/>
<path d="M309.5 191L310.2 190.3L311.1 192.6L310.4 193z" fill="#21ffde"/>
<path d="M309.9 190.3L310.6 188.8L311.5 191.7L310.9 192.6z" fill="#36ffc9"/>
<path d="M310.3 188.8L311 188L311.9 191L311.3 191.7z" fill="#4fffb0"/>
<path d="M310.8 188L311.4 185.4L312.3 188.9L311.7 191z" fill="#77ff88"/>
<path d="M311.2 185.4L311.8 189.6L312.7 192.2L312.1 188.9z" fill="#63ff9c"/>
<path d="M311.6 189.6L312.2 187.5L313.2 191L312.5 192.2z" fill="#46ffb9"/>
<path d="M312 187.5L312.6 188.5L313.6 192L312.9 191z" fill="#4dffb2"/>
<path d="M312.4 188.5L313.1 191L314 195.1L313.3 192z" fill="#19ffe6"/>
<path d="M312.8 191L313.5 192.5L314.4 195.3L313.7 195.1z" fill="#00e7ff"/>
<path d="M313.2 192.5L313.9 192.6L314.8 194.8L314.1 195.3z" fill="#00dcff"/>
<path d="M313.6 192.6L314.3 191L315.2 193.8L314.5 194.8z" fill="#00efff"/>
<path d="M314 191L314.7 190.4L315.6 192.3L315 193.8z" fill="#0dfff2"/>
<path d="M314.4 190.4L315.1 189.6L316 191.1L315.4 192.3z" fill="#26ffd9"/>
<path d="M314.9 189.6L315.5 187.2L316.4 189.4L315.8 191.1z" fill="#4dffb2"/>
<path d="M315.3 187.2L315.9 184.6L316.8 187.2L316.2 189.4z" fill="#86ff79"/>
<path d="M315.7 184.6L316.3 185.3L317.3 187.9L316.6 187.2z" fill="#9bff64"/>
<path d="M316.1 185.3L316.7 186.7L317.7 189.1L317 187.9z" fill="#7fff80"/>
<path d="M316.5 186.7L317.2 184.7L318.1 187.7L317.4 189.1z" fill="#82ff7d"/>
<path d="M316.9 184.7L317.6 187.3L318.5 189.9L317.8 187.7z" fill="#78ff87"/>
<path d="M317.3 187.3L318 187.5L318.9 191L318.2 189.9z" fill="#4fffb0"/>
<path d="M317.7 187.5L318.4 186.8L319.3 188.9L318.6 191z" fill="#57ffa8"/>
<path d="M318.1 186.8L318.8 186.7L319.7 188.9L319.1 188.9z" fill="#68ff97"/>
<path d="M318.5 186.7L319.2 187.9L320.1 190.5L319.5 188.9z" fill="#55ffaa"/>
<path d="M319 187.9L319.6 188.3L320.5 191.4L319.9 190.5z" fill="#39ffc6"/>
<path d="M319.4 188.3L320 187.3L320.9 190.1L320.3 191.4z" fill="#3fffc0"/>
<path d="M319.8 187.3L320.4 187L321.4 190.1L320.7 190.1z" fill="#4effb1"/>
<path d="M320.2 187L320.8 186.7L321.8 188.3L321.1 190.1z" fill="#5bffa4"/>
<path d="M320.6 186.7L321.3 188.8L322.2 191.5L321.5 188.3z" fill="#45ffba"/>
<path d="M321 188.8L321.7 191.4L322.6 193.9L321.9 191.5z" fill="#01fffe"/>
<path d="M321.4 191.4L322.1 188.2L323 191.4L322.3 193.9z" fill="#04fffb"/>
<path d="M321.8 188.2L322.5 190.2L323.4 192.8L322.7 191.4z" fill="#12ffed"/>
<path d="M322.2 190.2L322.9 188.7L323.8 191.8L323.2 192.8z" fill="#0afff5"/>
<path d="M322.6 188.7L323.3 188.2L324.2 190.6L323.6 191.8z" fill="#24ffdb"/>
<path d="M323.1 188.2L323.7 188.2L324.6 190.5L324 190.6z" fill="#2effd1"/>
<path d="M323.5 188.2L324.1 189.3L325 191.2L324.4 190.5z" fill="#22ffdd"/>
<path d="M323.9 189.3L324.5 186.2L325.5 188.9L324.8 191.2z" fill="#38ffc7"/>
<path d="M324.3 186.2L324.9 186.7L325.9 189.8L325.2 188.9z" fill="#51ffae"/>
<path d="M324.7 186.7L325.3 187.3L326.3 190.1L325.6 189.8z" fill="#40ffbf"/>
<path d="M325.1 187.3L325.8 188.2L326.7 191.3L326 190.1z" fill="#2affd5"/>
<path d="M325.5 188.2L326.2 191.6L327.1 192.2L326.4 191.3z" fill="#00feff"/>
<path d="M325.9 191.6L326.6 185.2L327.5 188.5L326.8 192.2z" fill="#24ffdb"/>
<path d="M326.3 185.2L327 187.8L327.9 190.3L327.2 188.5z" fill="#48ffb7"/>
<path d="M326.7 187.8L327.4 187.3L328.3 189.4L327.7 190.3z" fill="#33ffcc"/>
<path d="M327.1 187.3L327.8 187L328.7 190.9L328.1 189.4z" fill="#32ffcd"/>
<path d="M327.6 187L328.2 185.7L329.1 189.5L328.5 190.9z" fill="#3bffc4"/>
<path d="M328 185.7L328.6 188L329.5 191.1L328.9 189.5z" fill="#32ffcd"/>
<path d="M328.4 188L329 188.5L330 191.6L329.3 191.1z" fill="#11ffee"/>
<path d="M328.8 188.5L329.4 187.1L330.4 189.7L329.7 191.6z" fill="#1effe1"/>
<path d="M329.2 187.1L329.9 186.2L330.8 189.8L330.1 189.7z" fill="#37ffc8"/>
<path d="M329.6 186.2L330.3 187.5L331.2 190.1L330.5 189.8z" fill="#30ffcf"/>
<path d="M330 187.5L330.7 186.9L331.6 189.2L330.9 190.1z" fill="#2effd1"/>
<path d="M330.4 186.9L331.1 184.3L332 186.7L331.3 189.2z" fill="#58ffa7"/>
<path d="M330.8 184.3L331.5 187.3L332.4 190L331.8 186.7z" fill="#4fffb0"/>
<path d="M331.2 187.3L331.9 188L332.8 190.6L332.2 190z" fill="#1cffe3"/>
<path d="M331.7 188L332.3 187L333.2 189.5L332.6 190.6z" fill="#20ffdf"/>
<path d="M332.1 187L332.7 189.1L333.6 191.2L333 189.5z" fill="#13ffec"/>
<path d="M332.5 189.1L333.1 193.1L334.1 195.8L333.4 191.2z" fill="#00bfff"/>
<path d="M332.9 193.1L333.5 194.8L334.5 197L333.8 195.8z" fill="#0072ff"/>
<path d="M333.3 194.8L334 189.1L334.9 191.5L334.2 197z" fill="#00a7ff"/>
<path d="M333.7 189.1L334.4 185.4L335.3 188.6L334.6 191.5z" fill="#1bffe4"/>
<path d="M334.1 185.4L334.8 188.5L335.7 189.8L335 188.6z" fill="#28ffd7"/>
<path d="M334.5 188.5L335.2 187.3L336.1 189.9L335.4 189.8z" fill="#12ffed"/>
<path d="M334.9 187.3L335.6 186.4L336.5 189.3L335.9 189.9z" fill="#22ffdd"/>
<path d="M335.3 186.4L336 186.7L336.9 189.6L336.3 189.3z" fill="#26ffd9"/>
<path d="M335.8 186.7L336.4 189.1L337.3 190.6L336.7 189.6z" fill="#0bfff4"/>
<path d="M336.2 189.1L336.8 187.3L337.7 189.9L337.1 190.6z" fill="#04fffb"/>
<path d="M336.6 187.3L337.2 188.2L338.2 191.4L337.5 189.9z" fill="#03fffc"/>
<path d="M337 188.2L337.6 188.1L338.6 190.4L337.9 191.4z" fill="#00f8ff"/>
<path d="M337.4 188.1L338.1 188.4L339 190.8L338.3 190.4z" fill="#00f9ff"/>
<path d="M337.8 188.4L338.5 186.4L339.4 188.2L338.7 190.8z" fill="#12ffed"/>
<path d="M338.2 186.4L338.9 185.2L339.8 186.9L339.1 188.2z" fill="#3fffc0"/>
<path d="M338.6 185.2L339.3 191.8L340.2 194.8L339.5 186.9z" fill="#00edff"/>
<path d="M339 191.8L339.7 187.9L340.6 190.4L340 194.8z" fill="#00c3ff"/>
<path d="M339.4 187.9L340.1 190L341 192.9L340.4 190.4z" fill="#00daff"/>
<path d="M339.9 190L340.5 189.1L341.4 191.7L340.8 192.9z" fill="#00c8ff"/>
<path d="M340.3 189.1L340.9 186.8L341.8 189.5L341.2 191.7z" fill="#00f2ff"/>
<path d="M340.7 186.8L341.3 190L342.3 192.4L341.6 189.5z" fill="#00e6ff"/>
<path d="M341.1 190L341.7 187.5L342.7 189.2L342 192.4z" fill="#00e2ff"/>
<path d="M341.5 187.5L342.1 186.6L343.1 188.9L342.4 189.2z" fill="#0ffff0"/>
<path d="M341.9 186.6L342.6 189.8L343.5 189.9L342.8 188.9z" fill="#00f9ff"/>
<path d="M342.3 189.8L343 185.8L343.9 189.4L343.2 189.9z" fill="#00f9ff"/>
<path d="M342.7 185.8L343.4 190.1L344.3 190.6L343.6 189.4z" fill="#00f1ff"/>
<path d="M343.1 190.1L343.8 185.1L344.7 187.2L344 190.6z" fill="#04fffb"/>
<path d="M343.5 185.1L344.2 188.5L345.1 190L344.5 187.2z" fill="#11ffee"/>
<path d="M343.9 188.5L344.6 187.1L345.5 189L344.9 190z" fill="#00f5ff"/>
<path d="M344.4 187.1L345 185.5L345.9 186.9L345.3 189z" fill="#1dffe2"/>
<path d="M344.8 185.5L345.4 197.7L346.3 197.7L345.7 186.9z" fill="#009cff"/>
<path d="M345.2 197.7L345.8 190.5L346.8 192.5L346.1 197.7z" fill="#0055ff"/>
<path d="M345.6 190.5L346.2 185.4L347.2 187.1L346.5 192.5z" fill="#00eaff"/>
<path d="M346 185.4L346.7 188.3L347.6 190.8L346.9 187.1z" fill="#03fffc"/>
<path d="M346.4 188.3L347.1 189L348 190.9L347.3 190.8z" fill="#00d0ff"/>
<path d="M346.8 189L347.5 187.3L348.4 188.5L347.7 190.9z" fill="#00e4ff"/>
<path d="M347.2 187.3L347.9 188.3L348.8 190.2L348.1 188.5z" fill="#00ecff"/>
<path d="M347.6 188.3L348.3 188.5L349.2 190.7L348.6 190.2z" fill="#00d4ff"/>
<path d="M348 188.5L348.7 189.1L349.6 191.1L349 190.7z" fill="#00c7ff"/>
<path d="M348.5 189.1L349.1 188L350 190L349.4 191.1z" fill="#00cdff"/>
<path d="M348.9 188L349.5 186.3L350.4 188.5L349.8 190z" fill="#00efff"/>
<path d="M349.3 186.3L349.9 186.2L350.9 189.3L350.2 188.5z" fill="#00feff"/>
<path d="M349.7 186.2L350.3 194L351.3 194L350.6 189.3z" fill="#00a7ff"/>
<path d="M350.1 194L350.8 189.5L351.7 191.3L351 194z" fill="#0083ff"/>
<path d="M350.5 189.5L351.2 189.8L352.1 191.8L351.4 191.3z" fill="#00abff"/>
<path d="M350.9 189.8L351.6 188.5L352.5 191.8L351.8 191.8z" fill="#00adff"/>
<path d="M351.3 188.5L352 187.8L352.9 190.2L352.2 191.8z" fill="#00c3ff"/>
<path d="M351.7 187.8L352.4 187.9L353.3 191L352.7 190.2z" fill="#00caff"/>
<path d="M352.1 187.9L352.8 198.5L353.7 199.7L353.1 191z" fill="#0044ff"/>
<path d="M352.6 198.5L353.2 185.7L354.1 188.7L353.5 199.7z" fill="#0060ff"/>
<path d="M353 185.7L353.6 186.1L354.5 188L353.9 188.7z" fill="#00fdff"/>
<path d="M353.4 186.1L354 189.5L355 191.1L354.3 188z" fill="#00d2ff"/>
<path d="M353.8 189.5L354.4 189.5L355.4 190L354.7 191.1z" fill="#00aeff"/>
<path d="M354.2 189.5L354.9 188.7L355.8 190.2L355.1 190z" fill="#00b8ff"/>
<path d="M354.6 188.7L355.3 189.3L356.2 192.6L355.5 190.2z" fill="#00a6ff"/>
<path d="M355 189.3L355.7 187.9L356.6 188.5L355.9 192.6z" fill="#00b4ff"/>
<path d="M355.4 187.9L356.1 189.4L357 191.5L356.3 188.5z" fill="#00baff"/>
<path d="M355.8 189.4L356.5 187.7L357.4 189.7L356.8 191.5z" fill="#00b2ff"/>
<path d="M356.2 187.7L356.9 191.9L357.8 193.6L357.2 189.7z" fill="#0093ff"/>
<path d="M356.7 191.9L357.3 189L358.2 190.2L357.6 193.6z" fill="#0085ff"/>
<path d="M357.1 189L357.7 187.3L358.6 189.1L358 190.2z" fill="#00c0ff"/>
<path d="M357.5 187.3L358.1 186.2L359.1 188.8L358.4 189.1z" fill="#00daff"/>
<path d="M357.9 186.2L358.5 186.2L359.5 188.6L358.8 188.8z" fill="#00e2ff"/>
<path d="M358.3 186.2L358.9 188.7L359.9 190.8L359.2 188.6z" fill="#00c3ff"/>
<path d="M358.7 188.7L359.4 192.5L360.3 192.1L359.6 190.8z" fill="#0082ff"/>
<path d="M359.1 192.5L359.8 190.2L360.7 190.2L360 192.1z" fill="#007aff"/>
<path d="M359.5 190.2L360.2 185.5L361.1 187.4L360.4 190.2z" fill="#00c5ff"/>
<path d="M359.9 185.5L360.6 192.9L361.5 195.4L360.8 187.4z" fill="#0091ff"/>
<path d="M360.3 192.9L361 188L361.9 190.5L361.3 195.4z" fill="#006bff"/>
<path d="M360.7 188L361.4 189.2L362.3 191.1L361.7 190.5z" fill="#009dff"/>
<path d="M278.1 195.4L278.7 194.5L279.7 197L279 197.2z" fill="#44ffbb"/>
<path d="M278.5 194.5L279.1 194.5L280.1 198.2L279.4 197z" fill="#42ffbd"/>
<path d="M278.9 194.5L279.6 193.8L280.5 196.8L279.8 198.2z" fill="#47ffb8"/>
<path d="M279.3 193.8L280 198.4L280.9 200.6L280.2 196.8z" fill="#1cffe3"/>
<path d="M279.7 198.4L280.4 194.1L281.3 196.3L280.6 200.6z" fill="#1cffe3"/>
<path d="M280.1 194.1L280.8 194.2L281.7 196.1L281 196.3z" fill="#54ffab"/>
<path d="M280.5 194.2L281.2 192.8L282.1 195.2L281.5 196.1z" fill="#62ff9d"/>
<path d="M280.9 192.8L281.6 194.2L282.5 196L281.9 195.2z" fill="#60ff9f"/>
<path d="M281.4 194.2L282 194.2L282.9 196.8L282.3 196z" fill="#4bffb4"/>
<path d="M281.8 194.2L282.4 190.4L283.3 192.7L282.7 196.8z" fill="#78ff87"/>
<path d="M282.2 190.4L282.8 191.8L283.8 195.8L283.1 192.7z" fill="#8eff71"/>
<path d="M282.6 191.8L283.2 192.6L284.2 195L283.5 195.8z" fill="#6fff90"/>
<path d="M283 192.6L283.7 192.1L284.6 194.8L283.9 195z" fill="#71ff8e"/>
<path d="M283.4 192.1L284.1 193.2L285 196.9L284.3 194.8z" fill="#5fffa0"/>
<path d="M283.8 193.2L284.5 190.3L285.4 194.1L284.7 196.9z" fill="#6eff91"/>
<path d="M284.2 190.3L284.9 194.7L285.8 197L285.1 194.1z" fill="#63ff9c"/>
<path d="M284.6 194.7L285.3 192.5L286.2 195.9L285.6 197z" fill="#47ffb8"/>
<path d="M285 192.5L285.7 196.9L286.6 199.7L286 195.9z" fill="#25ffda"/>
<path d="M285.5 196.9L286.1 195.2L287 198.3L286.4 199.7z" fill="#02fffd"/>
<path d="M285.9 195.2L286.5 194.9L287.4 197.9L286.8 198.3z" fill="#19ffe6"/>
<path d="M286.3 194.9L286.9 192.7L287.9 194.5L287.2 197.9z" fill="#42ffbd"/>
<path d="M286.7 192.7L287.3 192.8L288.3 195.3L287.6 194.5z" fill="#5fffa0"/>
<path d="M287.1 192.8L287.8 193.2L288.7 196L288 195.3z" fill="#50ffaf"/>
<path d="M287.5 193.2L288.2 193.1L289.1 197L288.4 196z" fill="#41ffbe"/>
<path d="M287.9 193.1L288.6 198.4L289.5 200.3L288.8 197z" fill="#03fffc"/>
<path d="M288.3 198.4L289 194.7L289.9 197.6L289.2 200.3z" fill="#00f2ff"/>
<path d="M288.7 194.7L289.4 192.8L290.3 195.7L289.7 197.6z" fill="#34ffcb"/>
<path d="M289.1 192.8L289.8 194L290.7 197.6L290.1 195.7z" fill="#37ffc8"/>
<path d="M289.6 194L290.2 198.1L291.1 200.1L290.5 197.6z" fill="#00f4ff"/>
<path d="M290 198.1L290.6 195.7L291.5 198.6L290.9 200.1z" fill="#00e1ff"/>
<path d="M290.4 195.7L291 194.5L292 197.5L291.3 198.6z" fill="#0afff5"/>
<path d="M290.8 194.5L291.4 194.7L292.4 198.8L291.7 197.5z" fill="#0efff1"/>
<path d="M291.2 194.7L291.9 194.5L292.8 197.8L292.1 198.8z" fill="#0bfff4"/>
<path d="M291.6 194.5L292.3 194.4L293.2 197.6L292.5 197.8z" fill="#13ffec"/>
<path d="M292 194.4L292.7 193.2L293.6 196.4L292.9 197.6z" fill="#23ffdc"/>
<path d="M292.4 193.2L293.1 190.8L294 194.6L293.3 196.4z" fill="#4dffb2"/>
<path d="M292.8 190.8L293.5 191.4L294.4 193.2L293.8 194.6z" fill="#6cff93"/>
<path d="M293.2 191.4L293.9 192.3L294.8 194.1L294.2 193.2z" fill="#64ff9b"/>
<path d="M293.6 192.3L294.3 193.1L295.2 196L294.6 194.1z" fill="#45ffba"/>
<path d="M294.1 193.1L294.7 194.1L295.6 198.2L295 196z" fill="#1dffe2"/>
<path d="M294.5 194.1L295.1 192.2L296.1 195.6L295.4 198.2z" fill="#24ffdb"/>
<path d="M294.9 192.2L295.5 191.4L296.5 193L295.8 195.6z" fill="#56ffa9"/>
<path d="M295.3 191.4L295.9 191.2L296.9 193.1L296.2 193z" fill="#6bff94"/>
<path d="M295.7 191.2L296.4 189.6L297.3 191.3L296.6 193.1z" fill="#81ff7e"/>
<path d="M296.1 189.6L296.8 190.9L297.7 193.4L297 191.3z" fill="#80ff7f"/>
<path d="M296.5 190.9L297.2 192.1L298.1 194.5L297.4 193.4z" fill="#58ffa7"/>
<path d="M296.9 192.1L297.6 190.1L298.5 192.1L297.8 194.5z" fill="#65ff9a"/>
<path d="M297.3 190.1L298 190.7L298.9 194.7L298.3 192.1z" fill="#6bff94"/>
<path d="M297.7 190.7L298.4 191.8L299.3 193.7L298.7 194.7z" fill="#54ffab"/>
<path d="M298.2 191.8L298.8 191.3L299.7 193.4L299.1 193.7z" fill="#57ffa8"/>
<path d="M298.6 191.3L299.2 190.6L300.1 193.6L299.5 193.4z" fill="#5effa1"/>
<path d="M299 190.6L299.6 189.5L300.6 192L299.9 193.6z" fill="#72ff8d"/>
<path d="M299.4 189.5L300 191.1L301 193.9L300.3 192z" fill="#6bff94"/>
<path d="M299.8 191.1L300.5 192L301.4 194.8L300.7 193.9z" fill="#47ffb8"/>
<path d="M300.2 192L300.9 193.4L301.8 198L301.1 194.8z" fill="#1cffe3"/>
<path d="M300.6 193.4L301.3 196L302.2 198.2L301.5 198z" fill="#00e9ff"/>
<path d="M301 196L301.7 194.2L302.6 197.5L301.9 198.2z" fill="#00e6ff"/>
<path d="M301.4 194.2L302.1 194L303 196.8L302.4 197.5z" fill="#00faff"/>
<path d="M301.8 194L302.5 193.5L303.4 196.1L302.8 196.8z" fill="#07fff8"/>
<path d="M302.3 193.5L302.9 191.7L303.8 194.9L303.2 196.1z" fill="#22ffdd"/>
<path d="M302.7 191.7L303.3 192.2L304.2 195.7L303.6 194.9z" fill="#2cffd3"/>
<path d="M303.1 192.2L303.7 193.9L304.7 198.2L304 195.7z" fill="#06fff9"/>
<path d="M303.5 193.9L304.1 193.6L305.1 196.3L304.4 198.2z" fill="#00f6ff"/>
<path d="M303.9 193.6L304.6 192L305.5 194.8L304.8 196.3z" fill="#18ffe7"/>
<path d="M304.3 192L305 192.7L305.9 196.3L305.2 194.8z" fill="#1dffe2"/>
<path d="M304.7 192.7L305.4 194.3L306.3 196.7L305.6 196.3z" fill="#00ffff"/>
<path d="M305.1 194.3L305.8 189.4L306.7 192.8L306 196.7z" fill="#2bffd4"/>
<path d="M305.5 189.4L306.2 189.7L307.1 191.6L306.5 192.8z" fill="#69ff96"/>
<path d="M305.9 189.7L306.6 189.4L307.5 192.5L306.9 191.6z" fill="#6aff95"/>
<path d="M306.4 189.4L307 186.5L307.9 190.9L307.3 192.5z" fill="#82ff7d"/>
<path d="M306.8 186.5L307.4 189.9L308.3 191.8L307.7 190.9z" fill="#81ff7e"/>
<path d="M307.2 189.9L307.8 191.2L308.8 193.4L308.1 191.8z" fill="#50ffaf"/>
<path d="M307.6 191.2L308.2 188.6L309.2 192.7L308.5 193.4z" fill="#52ffad"/>
<path d="M308 188.6L308.7 191L309.6 193.4L308.9 192.7z" fill="#52ffad"/>
<path d="M308.4 191L309.1 190.8L310 194.2L309.3 193.4z" fill="#37ffc8"/>
<path d="M308.8 190.8L309.5 191.7L310.4 194L309.7 194.2z" fill="#2dffd2"/>
<path d="M309.2 191.7L309.9 191.7L310.8 194L310.1 194z" fill="#28ffd7"/>
<path d="M309.6 191.7L310.3 190.8L311.2 192.4L310.6 194z" fill="#37ffc8"/>
<path d="M310 190.8L310.7 192.5L311.6 194.4L311 192.4z" fill="#2effd1"/>
<path d="M310.4 192.5L311.1 192.1L312 194L311.4 194.4z" fill="#19ffe6"/>
<path d="M310.9 192.1L311.5 191.2L312.4 193L311.8 194z" fill="#29ffd6"/>
<path d="M311.3 191.2L311.9 190.5L312.9 193.9L312.2 193z" fill="#33ffcc"/>
<path d="M311.7 190.5L312.3 188.4L313.3 192.2L312.6 193.9z" fill="#4affb5"/>
<path d="M312.1 188.4L312.7 191.7L313.7 194L313 192.2z" fill="#3fffc0"/>
<path d="M312.5 191.7L313.2 190.5L314.1 194.5L313.4 194z" fill="#21ffde"/>
<path d="M312.9 190.5L313.6 191.5L314.5 194L313.8 194.5z" fill="#21ffde"/>
<path d="M313.3 191.5L314 194.6L314.9 198.5L314.2 194z" fill="#00e9ff"/>
<path d="M313.7 194.6L314.4 194.8L315.3 197.2L314.6 198.5z" fill="#00bdff"/>
<path d="M314.1 194.8L314.8 194.3L315.7 197.2L315.1 197.2z" fill="#00c6ff"/>
<path d="M314.5 194.3L315.2 193.3L316.1 196L315.5 197.2z" fill="#00d6ff"/>
<path d="M315 193.3L315.6 191.8L316.5 194L315.9 196z" fill="#00faff"/>
<path d="M315.4 191.8L316 190.6L316.9 192.6L316.3 194z" fill="#21ffde"/>
<path d="M315.8 190.6L316.4 188.9L317.4 190.4L316.7 192.6z" fill="#4affb5"/>
<path d="M316.2 188.9L316.8 186.7L317.8 189.1L317.1 190.4z" fill="#7aff85"/>
<path d="M316.6 186.7L317.3 187.4L318.2 189L317.5 189.1z" fill="#8cff73"/>
<path d="M317 187.4L317.7 188.6L318.6 190.7L317.9 189z" fill="#73ff8c"/>
<path d="M317.4 188.6L318.1 187.2L319 189.9L318.3 190.7z" fill="#6dff92"/>
<path d="M317.8 187.2L318.5 189.4L319.4 192.7L318.7 189.9z" fill="#59ffa6"/>
<path d="M318.2 189.4L318.9 190.5L319.8 192.9L319.2 192.7z" fill="#2effd1"/>
<path d="M318.6 190.5L319.3 188.4L320.2 190.6L319.6 192.9z" fill="#41ffbe"/>
<path d="M319.1 188.4L319.7 188.4L320.6 190.2L320 190.6z" fill="#5fffa0"/>
<path d="M319.5 188.4L320.1 190L321 193.5L320.4 190.2z" fill="#40ffbf"/>
<path d="M319.9 190L320.5 190.9L321.5 194.1L320.8 193.5z" fill="#15ffea"/>
<path d="M320.3 190.9L320.9 189.6L321.9 192.1L321.2 194.1z" fill="#1fffe0"/>
<path d="M320.7 189.6L321.4 189.6L322.3 191.3L321.6 192.1z" fill="#38ffc7"/>
<path d="M321.1 189.6L321.8 187.8L322.7 190.1L322 191.3z" fill="#4fffb0"/>
<path d="M321.5 187.8L322.2 191L323.1 193.9L322.4 190.1z" fill="#34ffcb"/>
<path d="M321.9 191L322.6 193.4L323.5 195.4L322.8 193.9z" fill="#00eaff"/>
<path d="M322.3 193.4L323 190.9L323.9 194.7L323.3 195.4z" fill="#00e5ff"/>
<path d="M322.7 190.9L323.4 192.3L324.3 195.3L323.7 194.7z" fill="#00ebff"/>
<path d="M323.2 192.3L323.8 191.3L324.7 194.2L324.1 195.3z" fill="#00e9ff"/>
<path d="M323.6 191.3L324.2 190.1L325.1 193.5L324.5 194.2z" fill="#03fffc"/>
<path d="M324 190.1L324.6 190L325.6 192.5L324.9 193.5z" fill="#16ffe9"/>
<path d="M324.4 190L325 190.7L326 192.9L325.3 192.5z" fill="#15ffea"/>
<path d="M324.8 190.7L325.5 188.4L326.4 191.6L325.7 192.9z" fill="#23ffdc"/>
<path d="M325.2 188.4L325.9 189.3L326.8 190.9L326.1 191.6z" fill="#38ffc7"/>
<path d="M325.6 189.3L326.3 189.6L327.2 192.5L326.5 190.9z" fill="#29ffd6"/>
<path d="M326 189.6L326.7 190.8L327.6 193.4L326.9 192.5z" fill="#0dfff2"/>
<path d="M326.4 190.8L327.1 191.7L328 193.4L327.4 193.4z" fill="#00f7ff"/>
<path d="M326.8 191.7L327.5 188L328.4 191L327.8 193.4z" fill="#19ffe6"/>
<path d="M327.2 188L327.9 189.8L328.8 190.7L328.2 191z" fill="#35ffca"/>
<path d="M327.7 189.8L328.3 188.9L329.2 191L328.6 190.7z" fill="#2effd1"/>
<path d="M328.1 188.9L328.7 190.4L329.6 194L329 191z" fill="#13ffec"/>
<path d="M328.5 190.4L329.1 189L330.1 192.2L329.4 194z" fill="#09fff6"/>
<path d="M328.9 189L329.5 190.6L330.5 193.1L329.8 192.2z" fill="#0cfff3"/>
<path d="M329.3 190.6L330 191.1L330.9 194.6L330.2 193.1z" fill="#00ecff"/>
<path d="M329.7 191.1L330.4 189.2L331.3 191.4L330.6 194.6z" fill="#00ffff"/>
<path d="M330.1 189.2L330.8 189.3L331.7 192.1L331 191.4z" fill="#1bffe4"/>
<path d="M330.5 189.3L331.2 189.6L332.1 191.5L331.4 192.1z" fill="#16ffe9"/>
<path d="M330.9 189.6L331.6 188.7L332.5 190.1L331.9 191.5z" fill="#25ffda"/>
<path d="M331.3 188.7L332 186.2L332.9 188.2L332.3 190.1z" fill="#50ffaf"/>
<path d="M331.8 186.2L332.4 189.5L333.3 192.5L332.7 188.2z" fill="#3affc5"/>
<path d="M332.2 189.5L332.8 190.1L333.7 193.3L333.1 192.5z" fill="#00fbff"/>
<path d="M332.6 190.1L333.2 189L334.2 191.6L333.5 193.3z" fill="#04fffb"/>
<path d="M333 189L333.6 190.7L334.6 192.6L333.9 191.6z" fill="#04fffb"/>
<path d="M333.4 190.7L334.1 195.3L335 197.5L334.3 192.6z" fill="#00b2ff"/>
<path d="M333.8 195.3L334.5 196.5L335.4 196.4L334.7 197.5z" fill="#0071ff"/>
<path d="M334.2 196.5L334.9 191L335.8 193.1L335.1 196.4z" fill="#00a8ff"/>
<path d="M334.6 191L335.3 188.1L336.2 191.2L335.5 193.1z" fill="#01fffe"/>
<path d="M335 188.1L335.7 189.3L336.6 193.3L336 191.2z" fill="#09fff6"/>
<path d="M335.4 189.3L336.1 189.4L337 191.8L336.4 193.3z" fill="#00faff"/>
<path d="M335.9 189.4L336.5 188.8L337.4 191.3L336.8 191.8z" fill="#0afff5"/>
<path d="M336.3 188.8L336.9 189.1L337.8 191.3L337.2 191.3z" fill="#0efff1"/>
<path d="M336.7 189.1L337.3 190.1L338.3 192.1L337.6 191.3z" fill="#00fdff"/>
<path d="M337.1 190.1L337.7 189.4L338.7 191.3L338 192.1z" fill="#00faff"/>
<path d="M337.5 189.4L338.2 190.9L339.1 192L338.4 191.3z" fill="#00f5ff"/>
<path d="M337.9 190.9L338.6 189.9L339.5 192.5L338.8 192z" fill="#00e8ff"/>
<path d="M338.3 189.9L339 190.3L339.9 190.3L339.2 192.5z" fill="#00f5ff"/>
<path d="M338.7 190.3L339.4 187.7L340.3 189.3L339.6 190.3z" fill="#19ffe6"/>
<path d="M339.1 187.7L339.8 186.4L340.7 188.7L340.1 189.3z" fill="#3bffc4"/>
<path d="M339.5 186.4L340.2 194.3L341.1 196.2L340.5 188.7z" fill="#00dfff"/>
<path d="M340 194.3L340.6 189.9L341.5 192.6L340.9 196.2z" fill="#00adff"/>
<path d="M340.4 189.9L341 192.4L341.9 193.9L341.3 192.6z" fill="#00c8ff"/>
<path d="M340.8 192.4L341.4 191.2L342.4 193.3L341.7 193.9z" fill="#00b9ff"/>
<path d="M341.2 191.2L341.8 189L342.8 191.4L342.1 193.3z" fill="#00dfff"/>
<path d="M341.6 189L342.3 191.9L343.2 193.6L342.5 191.4z" fill="#00d7ff"/>
<path d="M342 191.9L342.7 188.7L343.6 190.5L342.9 193.6z" fill="#00ddff"/>
<path d="M342.4 188.7L343.1 188.4L344 191.1L343.3 190.5z" fill="#04fffb"/>
<path d="M342.8 188.4L343.5 189.4L344.4 191.8L343.7 191.1z" fill="#00f4ff"/>
<path d="M343.2 189.4L343.9 188.9L344.8 189.2L344.2 191.8z" fill="#00fbff"/>
<path d="M343.6 188.9L344.3 190.1L345.2 193.8L344.6 189.2z" fill="#00e9ff"/>
<path d="M344 190.1L344.7 186.7L345.6 189L345 193.8z" fill="#00f7ff"/>
<path d="M344.5 186.7L345.1 189.5L346 191.7L345.4 189z" fill="#09fff6"/>
<path d="M344.9 189.5L345.5 188.5L346.4 190.4L345.8 191.7z" fill="#00f1ff"/>
<path d="M345.3 188.5L345.9 186.4L346.9 189.2L346.2 190.4z" fill="#15ffea"/>
<path d="M345.7 186.4L346.3 197.2L347.3 201.6L346.6 189.2z" fill="#0090ff"/>
<path d="M346.1 197.2L346.8 192L347.7 194.3L347 201.6z" fill="#0049ff"/>
<path d="M346.5 192L347.2 186.6L348.1 188.4L347.4 194.3z" fill="#00e3ff"/>
<path d="M346.9 186.6L347.6 190.3L348.5 190.3L347.8 188.4z" fill="#09fff6"/>
<path d="M347.3 190.3L348 190.4L348.9 194L348.2 190.3z" fill="#00c9ff"/>
<path d="M347.7 190.4L348.4 188L349.3 190.8L348.7 194z" fill="#00d2ff"/>
<path d="M348.1 188L348.8 189.7L349.7 191.9L349.1 190.8z" fill="#00e3ff"/>
<path d="M348.6 189.7L349.2 190.2L350.1 192.7L349.5 191.9z" fill="#00c7ff"/>
<path d="M349 190.2L349.6 190.6L350.5 192.7L349.9 192.7z" fill="#00baff"/>
<path d="M349.4 190.6L350 189.5L351 191.3L350.3 192.7z" fill="#00c6ff"/>
<path d="M349.8 189.5L350.4 188L351.4 190L350.7 191.3z" fill="#00e8ff"/>
<path d="M350.2 188L350.9 188.8L351.8 191.3L351.1 190z" fill="#00ebff"/>
<path d="M350.6 188.8L351.3 193.5L352.2 196.1L351.5 191.3z" fill="#009dff"/>
<path d="M351 193.5L351.7 190.8L352.6 192.8L351.9 196.1z" fill="#0085ff"/>
<path d="M351.4 190.8L352.1 191.3L353 193.9L352.3 192.8z" fill="#00a1ff"/>
<path d="M351.8 191.3L352.5 191.3L353.4 192L352.8 193.9z" fill="#00a1ff"/>
<path d="M352.2 191.3L352.9 189.7L353.8 192.2L353.2 192z" fill="#00b5ff"/>
<path d="M352.7 189.7L353.3 190.5L354.2 193L353.6 192.2z" fill="#00b3ff"/>
<path d="M353.1 190.5L353.7 199.2L354.6 202.8L354 193z" fill="#002dff"/>
<path d="M353.5 199.2L354.1 188.2L355.1 191L354.4 202.8z" fill="#0048ff"/>
<path d="M353.9 188.2L354.5 187.5L355.5 189L354.8 191z" fill="#00edff"/>
<path d="M354.3 187.5L355 190.6L355.9 193.6L355.2 189z" fill="#00caff"/>
<path d="M354.7 190.6L355.4 189.5L356.3 191.4L355.6 193.6z" fill="#00adff"/>
<path d="M355.1 189.5L355.8 189.7L356.7 192.1L356 191.4z" fill="#00bbff"/>
<path d="M355.5 189.7L356.2 192.1L357.1 193.5L356.4 192.1z" fill="#009bff"/>
<path d="M355.9 192.1L356.6 188L357.5 192.9L356.9 193.5z" fill="#009fff"/>
<path d="M356.3 188L357 191L357.9 192.3L357.3 192.9z" fill="#00adff"/>
<path d="M356.8 191L357.4 189.2L358.3 190.6L357.7 192.3z" fill="#00b2ff"/>
<path d="M357.2 189.2L357.8 193.1L358.7 196.9L358.1 190.6z" fill="#0085ff"/>
<path d="M357.6 193.1L358.2 189.7L359.2 196.1L358.5 196.9z" fill="#005cff"/>
<path d="M358 189.7L358.6 188.6L359.6 190.9L358.9 196.1z" fill="#00a0ff"/>
<path d="M358.4 188.6L359.1 188.3L360 190.4L359.3 190.9z" fill="#00cdff"/>
<path d="M358.8 188.3L359.5 188.1L360.4 190.2L359.7 190.4z" fill="#00d2ff"/>
<path d="M359.2 188.1L359.9 190.3L360.8 190.8L360.1 190.2z" fill="#00c2ff"/>
<path d="M359.6 190.3L360.3 191.6L361.2 195.2L360.5 190.8z" fill="#0089ff"/>
<path d="M360 191.6L360.7 189.7L361.6 192.4L361 195.2z" fill="#0081ff"/>
<path d="M360.4 189.7L361.1 186.9L362 187.8L361.4 192.4z" fill="#00ceff"/>
<path d="M360.8 186.9L361.5 194.9L362.4 196.5L361.8 187.8z" fill="#0090ff"/>
<path d="M361.3 194.9L361.9 190L362.8 192.1L362.2 196.5z" fill="#005eff"/>
<path d="M361.7 190L362.3 190.6L363.2 193L362.6 192.1z" fill="#0090ff"/>
</g>
<text transform="translate(230.3 170.6) rotate(-90)" font-size="9.85" text-anchor="middle" xml:space="preserve">Normalized  gray level</text>
<text x="244.6" y="142.5" font-size="9.4" text-anchor="end" >0.8</text>
<text x="244.6" y="164.1" font-size="9.4" text-anchor="end" >0.6</text>
<text x="242.5" y="191" font-size="9" text-anchor="middle" >400</text>
<text x="251.8" y="213.4" font-size="10" text-anchor="middle" >Row</text>
<text x="272.4" y="221" font-size="9" text-anchor="middle" >0</text>
<text x="283.7" y="224" font-size="9" text-anchor="middle" >0</text>
<text x="328" y="218" font-size="9" text-anchor="middle" >300</text>
<text x="367.6" y="211.7" font-size="9" text-anchor="middle" >600</text>
<text x="357" y="226.6" font-size="10.3" text-anchor="middle" >Column</text>
<g stroke="#eaeaea" stroke-width="0.6" fill="none">
<path d="M414.5 197 L470.8 181.5 L526 197 M470.8 181.5 V126.5 M414.5 142 L470.8 126.5 L526 142 V197"/>
<path d="M414.5 169.5 L470.8 154.0 L526 169.5"/>
<path d="M498.4 189.25 V134.25"/>
<path d="M442.65 189.25 V134.25"/>
<path d="M414.5 197 L470.8 213.7 L526 198.2" stroke="#b4b4b4"/>
</g>
<path d="M414.5 197 V142" stroke="#b4b4b4" stroke-width="0.6" fill="none"/>
<line x1="413.0" y1="197" x2="414.5" y2="197" stroke="#b4b4b4" stroke-width="0.6"/>
<line x1="413.0" y1="169.5" x2="414.5" y2="169.5" stroke="#b4b4b4" stroke-width="0.6"/>
<line x1="413.0" y1="142" x2="414.5" y2="142" stroke="#b4b4b4" stroke-width="0.6"/>
<line x1="453.7" y1="133" x2="453.7" y2="129.3" stroke="#ff7030" stroke-width="0.7"/>
<line x1="461" y1="132" x2="461" y2="125.3" stroke="#ff6020" stroke-width="0.7"/>
<polygon points="414.5,142 470.8,126.8 526,142 470.8,159.0" fill="#ff5e0e"/>
<polygon points="448.7,151.5 450.3,151.5 449.8,184.4 449.2,184.4" fill="url(#gc449)"/>
<polygon points="478.5,154.5 480.1,154.5 479.6,187.4 479.0,187.4" fill="url(#gc479)"/>
<text transform="translate(394.7 170.6) rotate(-90)" font-size="9.85" text-anchor="middle" xml:space="preserve">Normalized  gray level</text>
<text x="411" y="145.2" font-size="9.4" text-anchor="end" >0</text>
<text x="411" y="172.4" font-size="8.8" text-anchor="end" >-0.2</text>
<text x="411" y="200.2" font-size="8.8" text-anchor="end" >-0.4</text>
<text x="413.6" y="209.3" font-size="9" text-anchor="middle" >400</text>
<text x="427.5" y="222.2" font-size="10" text-anchor="middle" >Row</text>
<text x="464" y="223" font-size="9" text-anchor="middle" >0</text>
<text x="476.3" y="223" font-size="9" text-anchor="middle" >0</text>
<text x="506.3" y="215.7" font-size="9" text-anchor="middle" >300</text>
<text x="533" y="207.8" font-size="9" text-anchor="middle" >600</text>
<text x="520.5" y="227" font-size="10.0" text-anchor="middle" >Column</text>
<text x="30.3" y="62.2" font-size="11.7" text-anchor="middle" >Images</text>
<text x="28.4" y="175" font-size="11.5" text-anchor="middle" >3-D view</text>
<text x="134.8" y="253.4" font-size="11.7" text-anchor="middle" >(a) Weighted matrix</text>
<text x="298.5" y="253.4" font-size="11.7" text-anchor="middle" >(b) Low-rank matrix</text>
<text x="453.6" y="253.4" font-size="11.7" text-anchor="middle" >(c) Sparse matrix</text>
</svg>
</body></html>
